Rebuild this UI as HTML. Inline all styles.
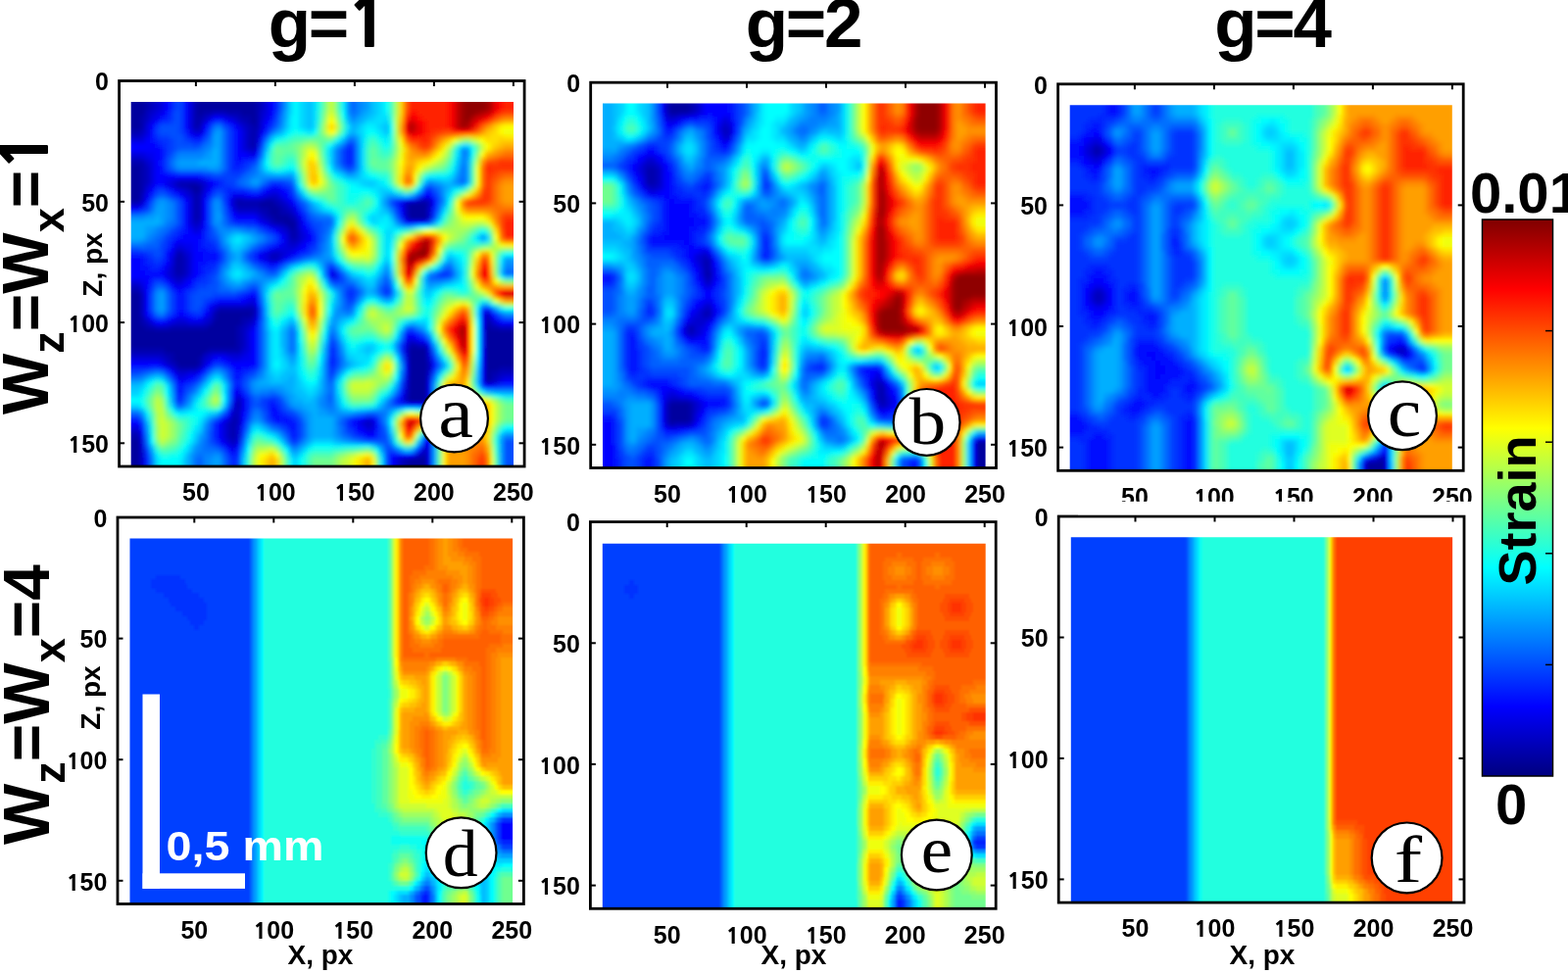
<!DOCTYPE html>
<html><head><meta charset="utf-8"><title>Strain maps</title>
<style>
html,body{margin:0;padding:0;background:#fff;}
body{width:1600px;height:994px;overflow:hidden;}
svg{display:block;}
text{font-family:"Liberation Sans",Arial,sans-serif;font-weight:bold;fill:#000;}
.serif{font-family:"Liberation Serif","Times New Roman",serif;font-weight:normal;}
</style></head><body>
<svg width="1600" height="994" viewBox="0 0 1600 994">
<defs>
<filter id="blura" x="-2%" y="-2%" width="104%" height="104%"><feGaussianBlur stdDeviation="2.0" edgeMode="duplicate"/></filter>
<filter id="blurb" x="-2%" y="-2%" width="104%" height="104%"><feGaussianBlur stdDeviation="2.0" edgeMode="duplicate"/></filter>
<filter id="blurc" x="-2%" y="-2%" width="104%" height="104%"><feGaussianBlur stdDeviation="2.0" edgeMode="duplicate"/></filter>
<filter id="blurd" x="-2%" y="-2%" width="104%" height="104%"><feGaussianBlur stdDeviation="1.2" edgeMode="duplicate"/></filter>
<filter id="blure" x="-2%" y="-2%" width="104%" height="104%"><feGaussianBlur stdDeviation="1.2" edgeMode="duplicate"/></filter>
<filter id="blurf" x="-2%" y="-2%" width="104%" height="104%"><feGaussianBlur stdDeviation="1.2" edgeMode="duplicate"/></filter>
<linearGradient id="cbar" x1="0" y1="1" x2="0" y2="0">
<stop offset="0.0000" stop-color="#000080"/>
<stop offset="0.0156" stop-color="#00008f"/>
<stop offset="0.0312" stop-color="#00009f"/>
<stop offset="0.0469" stop-color="#0000af"/>
<stop offset="0.0625" stop-color="#0000bf"/>
<stop offset="0.0781" stop-color="#0000cf"/>
<stop offset="0.0938" stop-color="#0000df"/>
<stop offset="0.1094" stop-color="#0000ef"/>
<stop offset="0.1250" stop-color="#0000ff"/>
<stop offset="0.1406" stop-color="#0010ff"/>
<stop offset="0.1562" stop-color="#0020ff"/>
<stop offset="0.1719" stop-color="#0030ff"/>
<stop offset="0.1875" stop-color="#0040ff"/>
<stop offset="0.2031" stop-color="#0050ff"/>
<stop offset="0.2188" stop-color="#0060ff"/>
<stop offset="0.2344" stop-color="#0070ff"/>
<stop offset="0.2500" stop-color="#0080ff"/>
<stop offset="0.2656" stop-color="#008fff"/>
<stop offset="0.2812" stop-color="#009fff"/>
<stop offset="0.2969" stop-color="#00afff"/>
<stop offset="0.3125" stop-color="#00bfff"/>
<stop offset="0.3281" stop-color="#00cfff"/>
<stop offset="0.3438" stop-color="#00dfff"/>
<stop offset="0.3594" stop-color="#00efff"/>
<stop offset="0.3750" stop-color="#00ffff"/>
<stop offset="0.3906" stop-color="#10ffef"/>
<stop offset="0.4062" stop-color="#20ffdf"/>
<stop offset="0.4219" stop-color="#30ffcf"/>
<stop offset="0.4375" stop-color="#40ffbf"/>
<stop offset="0.4531" stop-color="#50ffaf"/>
<stop offset="0.4688" stop-color="#60ff9f"/>
<stop offset="0.4844" stop-color="#70ff8f"/>
<stop offset="0.5000" stop-color="#80ff80"/>
<stop offset="0.5156" stop-color="#8fff70"/>
<stop offset="0.5312" stop-color="#9fff60"/>
<stop offset="0.5469" stop-color="#afff50"/>
<stop offset="0.5625" stop-color="#bfff40"/>
<stop offset="0.5781" stop-color="#cfff30"/>
<stop offset="0.5938" stop-color="#dfff20"/>
<stop offset="0.6094" stop-color="#efff10"/>
<stop offset="0.6250" stop-color="#ffff00"/>
<stop offset="0.6406" stop-color="#ffef00"/>
<stop offset="0.6562" stop-color="#ffdf00"/>
<stop offset="0.6719" stop-color="#ffcf00"/>
<stop offset="0.6875" stop-color="#ffbf00"/>
<stop offset="0.7031" stop-color="#ffaf00"/>
<stop offset="0.7188" stop-color="#ff9f00"/>
<stop offset="0.7344" stop-color="#ff8f00"/>
<stop offset="0.7500" stop-color="#ff8000"/>
<stop offset="0.7656" stop-color="#ff7000"/>
<stop offset="0.7812" stop-color="#ff6000"/>
<stop offset="0.7969" stop-color="#ff5000"/>
<stop offset="0.8125" stop-color="#ff4000"/>
<stop offset="0.8281" stop-color="#ff3000"/>
<stop offset="0.8438" stop-color="#ff2000"/>
<stop offset="0.8594" stop-color="#ff1000"/>
<stop offset="0.8750" stop-color="#ff0000"/>
<stop offset="0.8906" stop-color="#ef0000"/>
<stop offset="0.9062" stop-color="#df0000"/>
<stop offset="0.9219" stop-color="#cf0000"/>
<stop offset="0.9375" stop-color="#bf0000"/>
<stop offset="0.9531" stop-color="#af0000"/>
<stop offset="0.9688" stop-color="#9f0000"/>
<stop offset="0.9844" stop-color="#8f0000"/>
<stop offset="1.0000" stop-color="#800000"/>
</linearGradient>
</defs>
<rect x="0" y="0" width="1600" height="994" fill="#fff"/>
<clipPath id="clipa"><rect x="133.7" y="104.0" width="390.30" height="372.00"/></clipPath>
<g clip-path="url(#clipa)"><g filter="url(#blura)">
<g transform="translate(119.06,90.05) scale(4.8788,4.6500)" shape-rendering="crispEdges">
<path fill="#00009f" d="M0 0h6v1h-6zM17 0h12v1h-12zM0 1h6v1h-6zM17 1h12v1h-12zM0 2h6v1h-6zM17 2h12v1h-12zM0 3h6v1h-6zM17 3h12v1h-12zM0 4h6v1h-6zM17 4h12v1h-12zM0 5h6v1h-6zM17 5h1v1h-1zM26 5h3v1h-3zM0 6h5v1h-5zM28 6h1v1h-1zM0 7h5v1h-5zM28 7h1v1h-1zM0 8h5v1h-5zM0 17h5v1h-5zM0 18h5v1h-5zM0 19h5v1h-5zM0 20h5v1h-5zM0 21h5v1h-5zM15 21h2v1h-2zM0 22h5v1h-5zM16 22h1v1h-1zM0 23h5v1h-5zM0 24h5v1h-5zM30 25h3v1h-3zM61 25h4v1h-4zM32 26h2v1h-2zM61 26h4v1h-4zM32 27h2v1h-2zM61 27h4v1h-4zM33 28h3v1h-3zM61 28h4v1h-4zM35 29h2v1h-2zM36 30h1v1h-1zM0 45h5v1h-5zM0 46h5v1h-5zM0 47h5v1h-5zM0 48h5v1h-5zM0 49h5v1h-5zM21 49h7v1h-7zM0 50h5v1h-5zM21 50h5v1h-5zM0 51h5v1h-5zM20 51h6v1h-6zM0 52h6v1h-6zM19 52h6v1h-6zM77 52h1v1h-1zM0 53h25v1h-25zM77 53h9v1h-9zM0 54h25v1h-25zM77 54h9v1h-9zM0 55h25v1h-25zM77 55h9v1h-9zM0 56h25v1h-25zM77 56h9v1h-9zM10 57h9v1h-9zM61 57h4v1h-4zM77 57h9v1h-9zM12 58h6v1h-6zM61 58h4v1h-4zM77 58h9v1h-9zM12 59h5v1h-5zM61 59h4v1h-4zM77 59h9v1h-9zM13 60h4v1h-4zM61 60h4v1h-4zM77 60h9v1h-9zM61 61h4v1h-4zM77 61h3v1h-3zM61 62h4v1h-4zM77 62h1v1h-1zM61 63h4v1h-4zM77 63h1v1h-1zM61 64h4v1h-4zM61 65h4v1h-4zM61 66h4v1h-4zM61 67h4v1h-4zM61 68h4v1h-4zM0 77h5v1h-5zM0 78h5v1h-5zM0 79h5v1h-5zM0 80h5v1h-5zM0 81h5v1h-5zM61 81h4v1h-4zM0 82h5v1h-5zM61 82h4v1h-4zM0 83h5v1h-5zM61 83h4v1h-4zM0 84h5v1h-5zM61 84h4v1h-4zM0 85h5v1h-5zM61 85h4v1h-4z"/>
<path fill="#0000af" d="M6 0h1v1h-1zM16 0h1v1h-1zM29 0h1v1h-1zM6 1h1v1h-1zM16 1h1v1h-1zM29 1h1v1h-1zM6 2h1v1h-1zM16 2h1v1h-1zM29 2h1v1h-1zM6 3h1v1h-1zM16 3h1v1h-1zM29 3h1v1h-1zM6 4h1v1h-1zM16 4h1v1h-1zM29 4h1v1h-1zM16 5h1v1h-1zM18 5h2v1h-2zM23 5h3v1h-3zM29 5h1v1h-1zM5 6h1v1h-1zM16 6h2v1h-2zM26 6h2v1h-2zM29 6h1v1h-1zM5 7h1v1h-1zM16 7h2v1h-2zM27 7h1v1h-1zM29 7h1v1h-1zM5 8h1v1h-1zM16 8h1v1h-1zM28 8h2v1h-2zM0 9h5v1h-5zM28 9h1v1h-1zM28 10h1v1h-1zM28 11h1v1h-1zM28 12h1v1h-1zM0 16h6v1h-6zM5 17h1v1h-1zM5 18h1v1h-1zM5 19h1v1h-1zM5 20h1v1h-1zM5 21h1v1h-1zM13 21h2v1h-2zM17 21h1v1h-1zM5 22h1v1h-1zM17 22h1v1h-1zM16 23h1v1h-1zM16 24h1v1h-1zM25 24h1v1h-1zM31 24h2v1h-2zM16 25h1v1h-1zM25 25h5v1h-5zM33 25h1v1h-1zM16 26h1v1h-1zM30 26h2v1h-2zM34 26h1v1h-1zM16 27h1v1h-1zM31 27h1v1h-1zM34 27h2v1h-2zM16 28h1v1h-1zM32 28h1v1h-1zM36 28h1v1h-1zM33 29h2v1h-2zM37 29h1v1h-1zM37 30h1v1h-1zM36 31h2v1h-2zM36 32h2v1h-2zM13 36h1v1h-1zM12 37h2v1h-2zM12 38h2v1h-2zM12 39h2v1h-2zM12 40h2v1h-2zM0 44h5v1h-5zM21 48h8v1h-8zM20 49h1v1h-1zM28 49h1v1h-1zM5 50h1v1h-1zM20 50h1v1h-1zM26 50h2v1h-2zM77 50h1v1h-1zM5 51h1v1h-1zM26 51h1v1h-1zM77 51h1v1h-1zM6 52h2v1h-2zM11 52h8v1h-8zM25 52h1v1h-1zM78 52h2v1h-2zM25 53h1v1h-1zM25 54h1v1h-1zM25 55h1v1h-1zM25 56h1v1h-1zM61 56h2v1h-2zM0 57h10v1h-10zM19 57h7v1h-7zM10 58h2v1h-2zM11 59h1v1h-1zM17 59h1v1h-1zM12 60h1v1h-1zM17 60h1v1h-1zM13 61h4v1h-4zM80 61h6v1h-6zM78 62h2v1h-2zM78 63h1v1h-1zM77 64h1v1h-1zM25 69h1v1h-1zM24 72h1v1h-1zM24 73h1v1h-1zM24 74h1v1h-1zM24 75h1v1h-1zM0 76h5v1h-5zM24 76h1v1h-1zM64 80h1v1h-1zM60 81h1v1h-1zM60 82h1v1h-1zM60 83h1v1h-1zM60 84h1v1h-1zM60 85h1v1h-1z"/>
<path fill="#0000bf" d="M7 0h1v1h-1zM30 0h1v1h-1zM7 1h1v1h-1zM30 1h1v1h-1zM7 2h1v1h-1zM30 2h1v1h-1zM7 3h1v1h-1zM30 3h1v1h-1zM7 4h1v1h-1zM30 4h1v1h-1zM6 5h1v1h-1zM20 5h3v1h-3zM6 6h1v1h-1zM18 6h1v1h-1zM25 6h1v1h-1zM26 7h1v1h-1zM17 8h1v1h-1zM27 8h1v1h-1zM5 9h1v1h-1zM27 9h1v1h-1zM29 9h1v1h-1zM0 10h5v1h-5zM27 10h1v1h-1zM29 10h1v1h-1zM27 11h1v1h-1zM27 12h1v1h-1zM28 13h1v1h-1zM0 15h5v1h-5zM6 17h1v1h-1zM6 18h1v1h-1zM6 19h1v1h-1zM6 20h1v1h-1zM13 20h4v1h-4zM12 21h1v1h-1zM15 22h1v1h-1zM5 23h1v1h-1zM17 23h1v1h-1zM5 24h1v1h-1zM17 24h1v1h-1zM26 24h5v1h-5zM33 24h1v1h-1zM64 24h1v1h-1zM0 25h5v1h-5zM17 25h1v1h-1zM34 25h1v1h-1zM60 25h1v1h-1zM65 25h1v1h-1zM17 26h1v1h-1zM25 26h5v1h-5zM35 26h1v1h-1zM60 26h1v1h-1zM17 27h1v1h-1zM30 27h1v1h-1zM36 27h1v1h-1zM60 27h1v1h-1zM17 28h1v1h-1zM31 28h1v1h-1zM37 28h1v1h-1zM16 29h1v1h-1zM32 29h1v1h-1zM35 30h1v1h-1zM36 33h2v1h-2zM12 36h1v1h-1zM32 36h2v1h-2zM14 37h1v1h-1zM32 37h2v1h-2zM14 38h1v1h-1zM14 39h1v1h-1zM14 40h1v1h-1zM12 41h2v1h-2zM0 43h5v1h-5zM5 45h1v1h-1zM5 46h1v1h-1zM5 47h1v1h-1zM5 48h1v1h-1zM5 49h1v1h-1zM77 49h1v1h-1zM28 50h1v1h-1zM6 51h1v1h-1zM19 51h1v1h-1zM27 51h1v1h-1zM78 51h1v1h-1zM8 52h3v1h-3zM26 52h1v1h-1zM80 52h6v1h-6zM26 53h1v1h-1zM26 54h1v1h-1zM26 55h1v1h-1zM26 56h1v1h-1zM63 56h2v1h-2zM0 58h10v1h-10zM18 58h1v1h-1zM10 59h1v1h-1zM11 60h1v1h-1zM65 60h1v1h-1zM12 61h1v1h-1zM65 61h1v1h-1zM80 62h6v1h-6zM79 63h1v1h-1zM78 64h1v1h-1zM60 67h1v1h-1zM25 68h1v1h-1zM60 68h1v1h-1zM25 70h1v1h-1zM24 71h2v1h-2zM25 72h1v1h-1zM23 73h1v1h-1zM25 73h1v1h-1zM52 73h1v1h-1zM23 74h1v1h-1zM0 75h5v1h-5zM23 75h1v1h-1zM23 76h1v1h-1zM24 77h1v1h-1zM64 79h1v1h-1zM63 80h1v1h-1zM59 81h1v1h-1zM59 82h1v1h-1zM59 83h1v1h-1zM59 84h1v1h-1zM59 85h1v1h-1z"/>
<path fill="#0000cf" d="M8 0h1v1h-1zM8 1h1v1h-1zM8 2h1v1h-1zM8 3h1v1h-1zM8 4h1v1h-1zM7 5h1v1h-1zM30 5h1v1h-1zM24 6h1v1h-1zM30 6h1v1h-1zM6 7h1v1h-1zM25 7h1v1h-1zM26 8h1v1h-1zM16 9h2v1h-2zM5 10h1v1h-1zM29 11h1v1h-1zM29 12h1v1h-1zM27 13h1v1h-1zM5 15h1v1h-1zM6 16h1v1h-1zM12 20h1v1h-1zM17 20h1v1h-1zM6 21h1v1h-1zM18 21h1v1h-1zM14 22h1v1h-1zM15 23h1v1h-1zM32 23h2v1h-2zM24 24h1v1h-1zM34 24h1v1h-1zM63 24h1v1h-1zM65 24h1v1h-1zM24 25h1v1h-1zM35 25h1v1h-1zM36 26h1v1h-1zM65 26h1v1h-1zM29 27h1v1h-1zM65 27h1v1h-1zM30 28h1v1h-1zM60 28h1v1h-1zM65 28h1v1h-1zM17 29h1v1h-1zM16 30h1v1h-1zM34 30h1v1h-1zM35 31h1v1h-1zM38 31h1v1h-1zM38 32h1v1h-1zM38 33h1v1h-1zM36 34h2v1h-2zM12 35h2v1h-2zM14 36h1v1h-1zM34 36h1v1h-1zM11 39h1v1h-1zM11 40h1v1h-1zM11 41h1v1h-1zM14 41h1v1h-1zM12 42h2v1h-2zM5 44h1v1h-1zM27 47h2v1h-2zM20 48h1v1h-1zM19 50h1v1h-1zM12 51h3v1h-3zM18 51h1v1h-1zM28 51h1v1h-1zM27 52h1v1h-1zM61 55h1v1h-1zM26 57h1v1h-1zM60 57h1v1h-1zM19 58h1v1h-1zM23 58h3v1h-3zM9 59h1v1h-1zM18 59h1v1h-1zM65 59h1v1h-1zM10 60h1v1h-1zM17 61h1v1h-1zM13 62h2v1h-2zM65 62h1v1h-1zM80 63h1v1h-1zM79 64h1v1h-1zM60 65h1v1h-1zM60 66h1v1h-1zM24 70h1v1h-1zM51 73h1v1h-1zM53 73h1v1h-1zM25 74h1v1h-1zM52 74h1v1h-1zM25 75h1v1h-1zM25 76h1v1h-1zM23 77h1v1h-1zM24 78h1v1h-1zM5 79h1v1h-1zM5 80h1v1h-1zM5 81h1v1h-1zM5 82h1v1h-1zM5 83h1v1h-1zM5 84h1v1h-1zM5 85h1v1h-1z"/>
<path fill="#0000df" d="M9 0h1v1h-1zM15 0h1v1h-1zM31 0h1v1h-1zM9 1h1v1h-1zM15 1h1v1h-1zM31 1h1v1h-1zM9 2h1v1h-1zM15 2h1v1h-1zM31 2h1v1h-1zM9 3h1v1h-1zM15 3h1v1h-1zM31 3h1v1h-1zM9 4h1v1h-1zM15 4h1v1h-1zM31 4h1v1h-1zM8 5h1v1h-1zM15 5h1v1h-1zM31 5h1v1h-1zM7 6h1v1h-1zM15 6h1v1h-1zM19 6h1v1h-1zM23 6h1v1h-1zM15 7h1v1h-1zM18 7h1v1h-1zM30 7h1v1h-1zM6 8h1v1h-1zM15 8h1v1h-1zM30 8h1v1h-1zM6 9h1v1h-1zM26 9h1v1h-1zM26 10h1v1h-1zM0 11h6v1h-6zM26 11h1v1h-1zM26 12h1v1h-1zM26 13h1v1h-1zM0 14h6v1h-6zM28 14h1v1h-1zM6 15h1v1h-1zM7 16h1v1h-1zM7 17h1v1h-1zM7 18h1v1h-1zM7 19h1v1h-1zM7 20h1v1h-1zM11 20h1v1h-1zM18 20h1v1h-1zM11 21h1v1h-1zM6 22h1v1h-1zM13 22h1v1h-1zM18 22h1v1h-1zM14 23h1v1h-1zM31 23h1v1h-1zM15 24h1v1h-1zM5 25h1v1h-1zM15 25h1v1h-1zM15 26h1v1h-1zM24 26h1v1h-1zM15 27h1v1h-1zM25 27h4v1h-4zM37 27h1v1h-1zM15 28h1v1h-1zM15 29h1v1h-1zM31 29h1v1h-1zM38 29h1v1h-1zM17 30h1v1h-1zM33 30h1v1h-1zM38 30h1v1h-1zM16 31h1v1h-1zM34 31h1v1h-1zM35 32h1v1h-1zM39 32h1v1h-1zM35 33h1v1h-1zM13 34h1v1h-1zM35 34h1v1h-1zM14 35h1v1h-1zM33 35h4v1h-4zM15 36h1v1h-1zM31 36h1v1h-1zM35 36h1v1h-1zM11 37h1v1h-1zM15 37h1v1h-1zM31 37h1v1h-1zM34 37h1v1h-1zM11 38h1v1h-1zM15 38h1v1h-1zM15 39h1v1h-1zM10 40h1v1h-1zM15 40h1v1h-1zM45 40h1v1h-1zM45 41h1v1h-1zM0 42h5v1h-5zM5 43h1v1h-1zM28 46h1v1h-1zM21 47h6v1h-6zM29 48h1v1h-1zM19 49h1v1h-1zM29 49h1v1h-1zM6 50h1v1h-1zM13 50h1v1h-1zM18 50h1v1h-1zM78 50h1v1h-1zM7 51h1v1h-1zM11 51h1v1h-1zM15 51h3v1h-3zM79 51h1v1h-1zM27 53h1v1h-1zM27 54h1v1h-1zM27 55h1v1h-1zM62 55h1v1h-1zM27 56h1v1h-1zM60 56h1v1h-1zM27 57h1v1h-1zM65 57h1v1h-1zM20 58h3v1h-3zM26 58h1v1h-1zM60 58h1v1h-1zM65 58h1v1h-1zM0 59h9v1h-9zM19 59h1v1h-1zM24 59h2v1h-2zM60 59h1v1h-1zM18 60h1v1h-1zM11 61h1v1h-1zM12 62h1v1h-1zM15 62h2v1h-2zM13 63h1v1h-1zM60 63h1v1h-1zM65 63h1v1h-1zM81 63h5v1h-5zM60 64h1v1h-1zM25 67h1v1h-1zM24 69h1v1h-1zM23 72h1v1h-1zM52 72h1v1h-1zM22 73h1v1h-1zM0 74h5v1h-5zM22 74h1v1h-1zM53 74h1v1h-1zM22 75h1v1h-1zM22 76h1v1h-1zM5 77h1v1h-1zM25 77h1v1h-1zM5 78h1v1h-1zM64 78h1v1h-1zM62 80h1v1h-1zM58 81h1v1h-1zM58 82h1v1h-1zM58 83h1v1h-1zM58 84h1v1h-1zM58 85h1v1h-1z"/>
<path fill="#0000ef" d="M9 5h1v1h-1zM8 6h1v1h-1zM22 6h1v1h-1zM31 6h1v1h-1zM7 7h1v1h-1zM24 7h1v1h-1zM25 8h1v1h-1zM15 9h1v1h-1zM30 9h1v1h-1zM6 10h1v1h-1zM16 10h1v1h-1zM29 13h1v1h-1zM6 14h2v1h-2zM27 14h1v1h-1zM7 15h1v1h-1zM10 20h1v1h-1zM7 21h1v1h-1zM10 21h1v1h-1zM19 21h1v1h-1zM12 22h1v1h-1zM32 22h2v1h-2zM6 23h1v1h-1zM18 23h1v1h-1zM24 23h3v1h-3zM30 23h1v1h-1zM34 23h1v1h-1zM35 24h1v1h-1zM62 24h1v1h-1zM36 25h1v1h-1zM59 25h1v1h-1zM37 26h1v1h-1zM29 28h1v1h-1zM38 28h1v1h-1zM30 29h1v1h-1zM15 30h1v1h-1zM32 30h1v1h-1zM17 31h1v1h-1zM39 31h1v1h-1zM39 33h1v1h-1zM12 34h1v1h-1zM14 34h2v1h-2zM34 34h1v1h-1zM38 34h1v1h-1zM15 35h1v1h-1zM32 35h1v1h-1zM37 35h1v1h-1zM11 36h1v1h-1zM30 36h1v1h-1zM36 36h1v1h-1zM30 37h1v1h-1zM32 38h1v1h-1zM10 39h1v1h-1zM10 41h1v1h-1zM15 41h1v1h-1zM5 42h1v1h-1zM11 42h1v1h-1zM14 42h1v1h-1zM12 43h2v1h-2zM27 46h1v1h-1zM20 47h1v1h-1zM19 48h1v1h-1zM12 50h1v1h-1zM14 50h1v1h-1zM29 50h1v1h-1zM10 51h1v1h-1zM28 52h1v1h-1zM61 54h1v1h-1zM60 55h1v1h-1zM63 55h1v1h-1zM27 58h1v1h-1zM23 59h1v1h-1zM26 59h2v1h-2zM9 60h1v1h-1zM60 60h1v1h-1zM60 61h1v1h-1zM60 62h1v1h-1zM14 63h1v1h-1zM65 64h1v1h-1zM80 64h1v1h-1zM65 65h1v1h-1zM25 66h1v1h-1zM65 66h1v1h-1zM65 67h1v1h-1zM24 68h1v1h-1zM26 68h1v1h-1zM59 68h1v1h-1zM65 68h1v1h-1zM26 69h1v1h-1zM26 70h1v1h-1zM53 72h1v1h-1zM50 73h1v1h-1zM51 74h1v1h-1zM52 75h2v1h-2zM5 76h1v1h-1zM22 77h1v1h-1zM65 77h1v1h-1zM23 78h1v1h-1zM65 78h1v1h-1zM24 79h1v1h-1zM65 79h1v1h-1zM65 80h1v1h-1zM65 81h1v1h-1zM65 82h1v1h-1zM65 83h1v1h-1zM65 84h1v1h-1zM65 85h1v1h-1z"/>
<path fill="#0000ff" d="M10 0h1v1h-1zM32 0h1v1h-1zM10 1h1v1h-1zM32 1h1v1h-1zM10 2h1v1h-1zM32 2h1v1h-1zM10 3h1v1h-1zM32 3h1v1h-1zM10 4h1v1h-1zM32 4h1v1h-1zM32 5h1v1h-1zM20 6h2v1h-2zM23 7h1v1h-1zM31 7h1v1h-1zM7 8h1v1h-1zM18 8h1v1h-1zM25 9h1v1h-1zM17 10h1v1h-1zM25 10h1v1h-1zM6 11h1v1h-1zM25 11h1v1h-1zM0 12h8v1h-8zM25 12h1v1h-1zM0 13h9v1h-9zM25 13h1v1h-1zM8 14h1v1h-1zM25 14h2v1h-2zM8 15h1v1h-1zM25 15h1v1h-1zM8 16h1v1h-1zM8 17h1v1h-1zM8 18h1v1h-1zM8 19h9v1h-9zM8 20h2v1h-2zM19 20h1v1h-1zM33 21h1v1h-1zM7 22h1v1h-1zM19 22h1v1h-1zM31 22h1v1h-1zM34 22h1v1h-1zM13 23h1v1h-1zM27 23h3v1h-3zM35 23h1v1h-1zM64 23h2v1h-2zM6 24h1v1h-1zM14 24h1v1h-1zM18 24h1v1h-1zM36 24h1v1h-1zM61 24h1v1h-1zM18 25h1v1h-1zM0 26h5v1h-5zM18 26h1v1h-1zM59 26h1v1h-1zM18 27h1v1h-1zM24 27h1v1h-1zM18 28h1v1h-1zM25 28h4v1h-4zM61 29h2v1h-2zM39 30h1v1h-1zM15 31h1v1h-1zM33 31h1v1h-1zM14 32h4v1h-4zM34 32h1v1h-1zM40 32h1v1h-1zM12 33h5v1h-5zM40 33h1v1h-1zM16 34h1v1h-1zM39 34h1v1h-1zM11 35h1v1h-1zM16 35h1v1h-1zM38 35h1v1h-1zM16 36h2v1h-2zM37 36h1v1h-1zM0 37h5v1h-5zM16 37h2v1h-2zM35 37h1v1h-1zM0 38h5v1h-5zM10 38h1v1h-1zM16 38h1v1h-1zM33 38h1v1h-1zM0 39h5v1h-5zM16 39h1v1h-1zM0 40h6v1h-6zM9 40h1v1h-1zM16 40h1v1h-1zM44 40h1v1h-1zM0 41h7v1h-7zM16 41h1v1h-1zM6 42h1v1h-1zM15 42h1v1h-1zM6 43h1v1h-1zM14 43h1v1h-1zM6 44h1v1h-1zM13 44h1v1h-1zM6 45h1v1h-1zM28 45h1v1h-1zM6 46h1v1h-1zM26 46h1v1h-1zM6 47h1v1h-1zM29 47h1v1h-1zM6 48h1v1h-1zM6 49h1v1h-1zM13 49h1v1h-1zM18 49h1v1h-1zM78 49h1v1h-1zM11 50h1v1h-1zM15 50h1v1h-1zM17 50h1v1h-1zM8 51h2v1h-2zM80 51h6v1h-6zM28 53h1v1h-1zM28 54h1v1h-1zM62 54h1v1h-1zM28 55h1v1h-1zM64 55h1v1h-1zM28 56h1v1h-1zM28 57h1v1h-1zM28 58h1v1h-1zM20 59h1v1h-1zM22 59h1v1h-1zM28 59h1v1h-1zM0 60h9v1h-9zM19 60h1v1h-1zM24 60h5v1h-5zM10 61h1v1h-1zM18 61h1v1h-1zM25 61h1v1h-1zM76 61h1v1h-1zM17 62h1v1h-1zM76 62h1v1h-1zM12 63h1v1h-1zM15 63h1v1h-1zM76 63h1v1h-1zM13 64h1v1h-1zM76 64h1v1h-1zM81 64h5v1h-5zM77 65h1v1h-1zM24 67h1v1h-1zM26 71h1v1h-1zM22 72h1v1h-1zM26 72h1v1h-1zM33 72h1v1h-1zM51 72h1v1h-1zM0 73h5v1h-5zM21 73h1v1h-1zM49 73h1v1h-1zM21 74h1v1h-1zM50 74h1v1h-1zM21 75h1v1h-1zM51 75h1v1h-1zM21 76h1v1h-1zM52 76h2v1h-2zM64 77h1v1h-1zM25 78h1v1h-1zM60 80h2v1h-2zM57 81h1v1h-1zM57 82h1v1h-1zM57 83h1v1h-1zM57 84h1v1h-1zM57 85h1v1h-1z"/>
<path fill="#0010ff" d="M14 0h1v1h-1zM14 1h1v1h-1zM14 2h1v1h-1zM14 3h1v1h-1zM14 4h1v1h-1zM10 5h1v1h-1zM14 5h1v1h-1zM9 6h1v1h-1zM14 6h1v1h-1zM32 6h1v1h-1zM8 7h1v1h-1zM14 7h1v1h-1zM19 7h1v1h-1zM14 8h1v1h-1zM24 8h1v1h-1zM31 8h1v1h-1zM7 9h1v1h-1zM18 9h1v1h-1zM7 10h1v1h-1zM15 10h1v1h-1zM30 10h1v1h-1zM7 11h1v1h-1zM8 12h1v1h-1zM9 13h1v1h-1zM9 14h1v1h-1zM29 14h1v1h-1zM9 15h1v1h-1zM26 15h3v1h-3zM25 16h1v1h-1zM9 17h1v1h-1zM9 18h1v1h-1zM17 19h1v1h-1zM20 20h1v1h-1zM8 21h2v1h-2zM20 21h1v1h-1zM32 21h1v1h-1zM11 22h1v1h-1zM35 22h1v1h-1zM23 24h1v1h-1zM60 24h1v1h-1zM66 24h1v1h-1zM14 25h1v1h-1zM23 25h1v1h-1zM37 25h1v1h-1zM66 25h1v1h-1zM14 26h1v1h-1zM14 27h1v1h-1zM38 27h1v1h-1zM59 27h1v1h-1zM14 28h1v1h-1zM24 28h1v1h-1zM14 29h1v1h-1zM18 29h1v1h-1zM29 29h1v1h-1zM39 29h1v1h-1zM60 29h1v1h-1zM63 29h2v1h-2zM14 30h1v1h-1zM18 30h1v1h-1zM31 30h1v1h-1zM14 31h1v1h-1zM40 31h1v1h-1zM13 32h1v1h-1zM17 33h1v1h-1zM34 33h1v1h-1zM11 34h1v1h-1zM17 34h1v1h-1zM33 34h1v1h-1zM17 35h2v1h-2zM31 35h1v1h-1zM39 35h1v1h-1zM10 36h1v1h-1zM18 36h3v1h-3zM29 36h1v1h-1zM5 37h1v1h-1zM10 37h1v1h-1zM18 37h3v1h-3zM29 37h1v1h-1zM5 38h1v1h-1zM17 38h2v1h-2zM31 38h1v1h-1zM5 39h2v1h-2zM9 39h1v1h-1zM17 39h1v1h-1zM6 40h3v1h-3zM17 40h1v1h-1zM7 41h3v1h-3zM44 41h1v1h-1zM10 42h1v1h-1zM11 43h1v1h-1zM15 43h1v1h-1zM12 44h1v1h-1zM13 45h1v1h-1zM27 45h1v1h-1zM13 46h1v1h-1zM21 46h5v1h-5zM29 46h1v1h-1zM13 47h1v1h-1zM19 47h1v1h-1zM13 48h1v1h-1zM77 48h1v1h-1zM12 49h1v1h-1zM14 49h1v1h-1zM76 49h1v1h-1zM7 50h1v1h-1zM16 50h1v1h-1zM76 50h1v1h-1zM79 50h1v1h-1zM29 51h1v1h-1zM76 51h1v1h-1zM76 52h1v1h-1zM61 53h1v1h-1zM60 54h1v1h-1zM65 56h1v1h-1zM76 57h1v1h-1zM76 58h1v1h-1zM21 59h1v1h-1zM76 59h1v1h-1zM23 60h1v1h-1zM66 60h1v1h-1zM76 60h1v1h-1zM24 61h1v1h-1zM26 61h2v1h-2zM11 62h1v1h-1zM25 62h1v1h-1zM16 63h1v1h-1zM25 63h1v1h-1zM14 64h1v1h-1zM13 65h1v1h-1zM25 65h1v1h-1zM78 65h1v1h-1zM13 66h1v1h-1zM24 66h1v1h-1zM26 67h1v1h-1zM59 67h1v1h-1zM32 69h1v1h-1zM61 69h4v1h-4zM32 70h2v1h-2zM23 71h1v1h-1zM32 71h2v1h-2zM34 72h2v1h-2zM50 72h1v1h-1zM26 73h1v1h-1zM35 73h2v1h-2zM54 73h1v1h-1zM36 74h1v1h-1zM54 74h1v1h-1zM5 75h1v1h-1zM50 75h1v1h-1zM21 77h1v1h-1zM22 78h1v1h-1zM23 79h1v1h-1zM63 79h1v1h-1zM24 80h1v1h-1zM57 80h3v1h-3z"/>
<path fill="#0020ff" d="M11 0h1v1h-1zM33 0h1v1h-1zM11 1h1v1h-1zM33 1h1v1h-1zM11 2h1v1h-1zM33 2h1v1h-1zM11 3h1v1h-1zM33 3h1v1h-1zM11 4h1v1h-1zM33 4h1v1h-1zM10 6h1v1h-1zM22 7h1v1h-1zM32 7h1v1h-1zM14 9h1v1h-1zM24 9h1v1h-1zM31 9h1v1h-1zM24 10h1v1h-1zM8 11h1v1h-1zM16 11h2v1h-2zM24 11h1v1h-1zM30 11h1v1h-1zM9 12h1v1h-1zM24 12h1v1h-1zM24 13h1v1h-1zM48 13h1v1h-1zM24 14h1v1h-1zM48 14h1v1h-1zM24 15h1v1h-1zM48 15h1v1h-1zM9 16h1v1h-1zM24 16h1v1h-1zM26 16h1v1h-1zM48 16h1v1h-1zM24 17h2v1h-2zM10 18h1v1h-1zM18 19h1v1h-1zM21 20h1v1h-1zM21 21h1v1h-1zM34 21h1v1h-1zM10 22h1v1h-1zM23 22h4v1h-4zM30 22h1v1h-1zM65 22h1v1h-1zM7 23h1v1h-1zM12 23h1v1h-1zM19 23h1v1h-1zM23 23h1v1h-1zM36 23h1v1h-1zM6 25h1v1h-1zM58 25h1v1h-1zM5 26h1v1h-1zM23 26h1v1h-1zM38 26h1v1h-1zM66 26h1v1h-1zM39 28h1v1h-1zM59 28h1v1h-1zM25 29h4v1h-4zM30 30h1v1h-1zM40 30h1v1h-1zM13 31h1v1h-1zM18 31h1v1h-1zM32 31h1v1h-1zM12 32h1v1h-1zM18 32h1v1h-1zM41 32h1v1h-1zM11 33h1v1h-1zM18 33h1v1h-1zM41 33h1v1h-1zM18 34h2v1h-2zM32 34h1v1h-1zM40 34h1v1h-1zM10 35h1v1h-1zM19 35h2v1h-2zM30 35h1v1h-1zM0 36h6v1h-6zM21 36h1v1h-1zM38 36h1v1h-1zM6 37h1v1h-1zM21 37h1v1h-1zM36 37h1v1h-1zM6 38h2v1h-2zM9 38h1v1h-1zM19 38h2v1h-2zM30 38h1v1h-1zM34 38h1v1h-1zM7 39h2v1h-2zM18 39h2v1h-2zM32 39h1v1h-1zM18 40h1v1h-1zM17 41h1v1h-1zM46 41h1v1h-1zM7 42h1v1h-1zM16 42h1v1h-1zM14 44h1v1h-1zM28 44h1v1h-1zM56 44h1v1h-1zM12 45h1v1h-1zM14 45h1v1h-1zM26 45h1v1h-1zM29 45h1v1h-1zM12 46h1v1h-1zM14 46h1v1h-1zM20 46h1v1h-1zM12 47h1v1h-1zM14 47h1v1h-1zM12 48h1v1h-1zM14 48h1v1h-1zM18 48h1v1h-1zM15 49h1v1h-1zM10 50h1v1h-1zM29 52h1v1h-1zM29 53h1v1h-1zM76 53h1v1h-1zM29 54h1v1h-1zM63 54h1v1h-1zM76 54h1v1h-1zM29 55h1v1h-1zM76 55h1v1h-1zM29 56h1v1h-1zM76 56h1v1h-1zM29 57h1v1h-1zM45 57h1v1h-1zM29 58h1v1h-1zM45 58h1v1h-1zM29 59h1v1h-1zM45 59h1v1h-1zM22 60h1v1h-1zM29 60h1v1h-1zM45 60h1v1h-1zM0 61h7v1h-7zM9 61h1v1h-1zM28 61h1v1h-1zM66 61h1v1h-1zM24 62h1v1h-1zM26 62h1v1h-1zM24 63h1v1h-1zM12 64h1v1h-1zM15 64h1v1h-1zM25 64h1v1h-1zM79 65h1v1h-1zM26 66h1v1h-1zM59 66h1v1h-1zM13 67h1v1h-1zM13 68h1v1h-1zM27 68h1v1h-1zM32 68h1v1h-1zM58 68h1v1h-1zM27 69h1v1h-1zM33 69h1v1h-1zM60 69h1v1h-1zM27 70h1v1h-1zM34 71h1v1h-1zM0 72h5v1h-5zM32 72h1v1h-1zM36 72h1v1h-1zM49 72h1v1h-1zM54 72h1v1h-1zM20 73h1v1h-1zM33 73h2v1h-2zM37 73h1v1h-1zM48 73h1v1h-1zM5 74h1v1h-1zM20 74h1v1h-1zM26 74h1v1h-1zM37 74h1v1h-1zM49 74h1v1h-1zM20 75h1v1h-1zM36 75h2v1h-2zM54 75h1v1h-1zM20 76h1v1h-1zM36 76h2v1h-2zM51 76h1v1h-1zM54 76h1v1h-1zM25 79h1v1h-1zM6 81h1v1h-1zM24 81h1v1h-1zM6 82h1v1h-1zM24 82h1v1h-1zM6 83h1v1h-1zM24 83h1v1h-1zM6 84h1v1h-1zM24 84h1v1h-1zM6 85h1v1h-1zM24 85h1v1h-1z"/>
<path fill="#0030ff" d="M11 5h1v1h-1zM33 5h1v1h-1zM11 6h1v1h-1zM9 7h2v1h-2zM20 7h1v1h-1zM8 8h1v1h-1zM19 8h1v1h-1zM23 8h1v1h-1zM32 8h1v1h-1zM8 10h1v1h-1zM14 10h1v1h-1zM18 10h1v1h-1zM9 11h2v1h-2zM15 11h1v1h-1zM10 12h1v1h-1zM48 12h1v1h-1zM10 13h1v1h-1zM49 13h1v1h-1zM10 14h1v1h-1zM49 14h1v1h-1zM49 15h1v1h-1zM27 16h1v1h-1zM49 16h1v1h-1zM26 17h1v1h-1zM11 18h1v1h-1zM24 18h2v1h-2zM19 19h1v1h-1zM22 20h1v1h-1zM22 21h2v1h-2zM31 21h1v1h-1zM35 21h1v1h-1zM8 22h1v1h-1zM20 22h1v1h-1zM22 22h1v1h-1zM27 22h1v1h-1zM36 22h1v1h-1zM11 23h1v1h-1zM66 23h1v1h-1zM13 24h1v1h-1zM37 24h1v1h-1zM59 24h1v1h-1zM23 27h1v1h-1zM39 27h1v1h-1zM66 27h1v1h-1zM24 29h1v1h-1zM40 29h1v1h-1zM13 30h1v1h-1zM12 31h1v1h-1zM31 31h1v1h-1zM41 31h1v1h-1zM11 32h1v1h-1zM33 32h1v1h-1zM10 33h1v1h-1zM19 33h1v1h-1zM33 33h1v1h-1zM10 34h1v1h-1zM20 34h1v1h-1zM31 34h1v1h-1zM41 34h1v1h-1zM40 35h1v1h-1zM6 36h1v1h-1zM28 36h1v1h-1zM39 36h1v1h-1zM7 37h1v1h-1zM9 37h1v1h-1zM28 37h1v1h-1zM8 38h1v1h-1zM20 39h1v1h-1zM31 39h1v1h-1zM33 39h1v1h-1zM44 39h2v1h-2zM19 40h1v1h-1zM46 40h1v1h-1zM68 40h1v1h-1zM18 41h1v1h-1zM9 42h1v1h-1zM17 42h2v1h-2zM45 42h1v1h-1zM7 43h1v1h-1zM16 43h1v1h-1zM11 44h1v1h-1zM15 44h1v1h-1zM48 44h2v1h-2zM25 45h1v1h-1zM48 45h2v1h-2zM19 46h1v1h-1zM18 47h1v1h-1zM7 49h1v1h-1zM11 49h1v1h-1zM16 49h2v1h-2zM79 49h1v1h-1zM8 50h1v1h-1zM80 50h1v1h-1zM60 53h1v1h-1zM62 53h1v1h-1zM45 56h1v1h-1zM59 56h1v1h-1zM59 57h1v1h-1zM44 59h1v1h-1zM66 59h1v1h-1zM20 60h2v1h-2zM44 60h1v1h-1zM7 61h2v1h-2zM19 61h1v1h-1zM23 61h1v1h-1zM29 61h1v1h-1zM45 61h1v1h-1zM18 62h1v1h-1zM27 62h1v1h-1zM17 63h1v1h-1zM26 63h1v1h-1zM16 64h1v1h-1zM24 64h1v1h-1zM12 65h1v1h-1zM14 65h1v1h-1zM24 65h1v1h-1zM80 65h6v1h-6zM12 66h1v1h-1zM27 67h1v1h-1zM31 68h1v1h-1zM33 68h1v1h-1zM31 69h1v1h-1zM59 69h1v1h-1zM23 70h1v1h-1zM31 70h1v1h-1zM34 70h1v1h-1zM27 71h1v1h-1zM35 71h1v1h-1zM21 72h1v1h-1zM37 72h1v1h-1zM5 73h1v1h-1zM35 74h1v1h-1zM48 74h1v1h-1zM26 75h1v1h-1zM49 75h1v1h-1zM50 76h1v1h-1zM20 77h1v1h-1zM37 77h1v1h-1zM21 78h1v1h-1zM6 80h1v1h-1zM23 80h1v1h-1zM25 80h1v1h-1z"/>
<path fill="#0040ff" d="M12 0h2v1h-2zM12 1h2v1h-2zM12 2h2v1h-2zM12 3h2v1h-2zM12 4h2v1h-2zM13 5h1v1h-1zM13 6h1v1h-1zM33 6h1v1h-1zM11 7h1v1h-1zM13 7h1v1h-1zM21 7h1v1h-1zM13 8h1v1h-1zM8 9h1v1h-1zM13 9h1v1h-1zM23 9h1v1h-1zM9 10h2v1h-2zM23 10h1v1h-1zM11 11h1v1h-1zM14 11h1v1h-1zM23 11h1v1h-1zM11 12h1v1h-1zM16 12h1v1h-1zM23 12h1v1h-1zM30 12h1v1h-1zM49 12h1v1h-1zM11 13h1v1h-1zM23 13h1v1h-1zM47 13h1v1h-1zM23 14h1v1h-1zM47 14h1v1h-1zM10 15h1v1h-1zM23 15h1v1h-1zM29 15h1v1h-1zM47 15h1v1h-1zM10 16h1v1h-1zM23 16h1v1h-1zM28 16h1v1h-1zM47 16h1v1h-1zM10 17h1v1h-1zM23 17h1v1h-1zM27 17h1v1h-1zM48 17h1v1h-1zM12 18h1v1h-1zM23 18h1v1h-1zM26 18h1v1h-1zM20 19h6v1h-6zM23 20h2v1h-2zM32 20h3v1h-3zM24 21h1v1h-1zM36 21h1v1h-1zM9 22h1v1h-1zM21 22h1v1h-1zM28 22h2v1h-2zM64 22h1v1h-1zM22 23h1v1h-1zM63 23h1v1h-1zM7 24h1v1h-1zM19 24h1v1h-1zM22 24h1v1h-1zM58 24h1v1h-1zM13 25h1v1h-1zM38 25h1v1h-1zM6 26h1v1h-1zM13 26h1v1h-1zM58 26h1v1h-1zM13 27h1v1h-1zM13 28h1v1h-1zM23 28h1v1h-1zM66 28h1v1h-1zM13 29h1v1h-1zM65 29h1v1h-1zM12 30h1v1h-1zM19 30h1v1h-1zM29 30h1v1h-1zM41 30h1v1h-1zM11 31h1v1h-1zM19 31h1v1h-1zM10 32h1v1h-1zM19 32h1v1h-1zM20 33h1v1h-1zM9 34h1v1h-1zM0 35h5v1h-5zM9 35h1v1h-1zM21 35h1v1h-1zM29 35h1v1h-1zM41 35h1v1h-1zM7 36h1v1h-1zM9 36h1v1h-1zM40 36h1v1h-1zM8 37h1v1h-1zM37 37h1v1h-1zM21 38h1v1h-1zM29 38h1v1h-1zM20 40h1v1h-1zM69 40h1v1h-1zM19 41h1v1h-1zM67 41h2v1h-2zM8 42h1v1h-1zM19 42h1v1h-1zM46 42h1v1h-1zM10 43h1v1h-1zM17 43h2v1h-2zM56 43h1v1h-1zM7 44h1v1h-1zM16 44h1v1h-1zM27 44h1v1h-1zM29 44h1v1h-1zM11 45h1v1h-1zM15 45h1v1h-1zM20 45h5v1h-5zM56 45h1v1h-1zM11 46h1v1h-1zM15 46h1v1h-1zM18 46h1v1h-1zM48 46h2v1h-2zM11 47h1v1h-1zM15 47h1v1h-1zM11 48h1v1h-1zM15 48h1v1h-1zM17 48h1v1h-1zM76 48h1v1h-1zM9 50h1v1h-1zM64 54h1v1h-1zM45 55h1v1h-1zM44 57h1v1h-1zM44 58h1v1h-1zM44 61h1v1h-1zM0 62h5v1h-5zM10 62h1v1h-1zM28 62h1v1h-1zM44 62h2v1h-2zM66 62h1v1h-1zM11 63h1v1h-1zM26 64h1v1h-1zM15 65h1v1h-1zM26 65h1v1h-1zM59 65h1v1h-1zM76 65h1v1h-1zM14 66h1v1h-1zM12 67h1v1h-1zM12 68h1v1h-1zM30 68h1v1h-1zM30 69h1v1h-1zM34 69h1v1h-1zM58 69h1v1h-1zM31 71h1v1h-1zM36 71h1v1h-1zM27 72h1v1h-1zM31 72h1v1h-1zM48 72h1v1h-1zM32 73h1v1h-1zM38 73h1v1h-1zM34 74h1v1h-1zM38 74h1v1h-1zM55 74h1v1h-1zM35 75h1v1h-1zM38 75h1v1h-1zM48 75h1v1h-1zM55 75h1v1h-1zM26 76h1v1h-1zM38 76h1v1h-1zM49 76h1v1h-1zM55 76h1v1h-1zM36 77h1v1h-1zM6 79h1v1h-1zM22 79h1v1h-1zM57 79h1v1h-1zM23 81h1v1h-1zM25 81h1v1h-1zM23 82h1v1h-1zM25 82h1v1h-1zM23 83h1v1h-1zM25 83h1v1h-1zM23 84h1v1h-1zM25 84h1v1h-1zM23 85h1v1h-1zM25 85h1v1h-1z"/>
<path fill="#0050ff" d="M12 5h1v1h-1zM12 6h1v1h-1zM12 7h1v1h-1zM33 7h1v1h-1zM9 8h4v1h-4zM22 8h1v1h-1zM9 9h4v1h-4zM19 9h1v1h-1zM11 10h3v1h-3zM31 10h1v1h-1zM12 11h2v1h-2zM18 11h1v1h-1zM12 12h4v1h-4zM17 12h1v1h-1zM12 13h1v1h-1zM11 14h1v1h-1zM49 17h1v1h-1zM13 18h5v1h-5zM22 18h1v1h-1zM35 20h1v1h-1zM25 21h1v1h-1zM30 21h1v1h-1zM65 21h1v1h-1zM66 22h1v1h-1zM8 23h1v1h-1zM10 23h1v1h-1zM20 23h1v1h-1zM37 23h1v1h-1zM12 24h1v1h-1zM67 24h1v1h-1zM19 25h1v1h-1zM22 25h1v1h-1zM57 25h1v1h-1zM19 26h1v1h-1zM39 26h1v1h-1zM0 27h5v1h-5zM19 27h1v1h-1zM58 27h1v1h-1zM19 28h1v1h-1zM40 28h1v1h-1zM19 29h1v1h-1zM23 29h1v1h-1zM41 29h2v1h-2zM27 30h2v1h-2zM42 30h1v1h-1zM30 31h1v1h-1zM42 31h1v1h-1zM20 32h1v1h-1zM32 32h1v1h-1zM42 32h1v1h-1zM9 33h1v1h-1zM32 33h1v1h-1zM42 33h1v1h-1zM21 34h1v1h-1zM30 34h1v1h-1zM5 35h4v1h-4zM28 35h1v1h-1zM8 36h1v1h-1zM22 36h1v1h-1zM27 36h1v1h-1zM22 37h1v1h-1zM27 37h1v1h-1zM38 37h1v1h-1zM28 38h1v1h-1zM35 38h1v1h-1zM21 39h1v1h-1zM30 39h1v1h-1zM32 40h1v1h-1zM67 40h1v1h-1zM20 41h1v1h-1zM47 41h1v1h-1zM66 41h1v1h-1zM69 41h1v1h-1zM20 42h1v1h-1zM47 42h1v1h-1zM56 42h1v1h-1zM19 43h2v1h-2zM28 43h1v1h-1zM48 43h2v1h-2zM17 44h4v1h-4zM26 44h1v1h-1zM50 44h1v1h-1zM55 44h1v1h-1zM57 44h1v1h-1zM7 45h1v1h-1zM16 45h4v1h-4zM7 46h1v1h-1zM16 46h2v1h-2zM7 47h1v1h-1zM16 47h2v1h-2zM48 47h1v1h-1zM7 48h1v1h-1zM16 48h1v1h-1zM30 48h1v1h-1zM78 48h1v1h-1zM10 49h1v1h-1zM30 49h1v1h-1zM30 50h1v1h-1zM81 50h5v1h-5zM61 52h1v1h-1zM63 53h1v1h-1zM65 55h1v1h-1zM44 56h1v1h-1zM59 58h1v1h-1zM66 58h1v1h-1zM46 59h1v1h-1zM46 60h1v1h-1zM22 61h1v1h-1zM5 62h1v1h-1zM23 62h1v1h-1zM27 63h1v1h-1zM44 63h1v1h-1zM59 64h1v1h-1zM27 66h1v1h-1zM14 67h1v1h-1zM32 67h2v1h-2zM58 67h1v1h-1zM28 68h1v1h-1zM34 68h1v1h-1zM13 69h1v1h-1zM28 69h2v1h-2zM65 69h1v1h-1zM30 70h1v1h-1zM35 70h1v1h-1zM22 71h1v1h-1zM37 71h1v1h-1zM52 71h2v1h-2zM38 72h1v1h-1zM47 73h1v1h-1zM55 73h1v1h-1zM19 75h1v1h-1zM19 76h1v1h-1zM56 76h1v1h-1zM65 76h1v1h-1zM19 77h1v1h-1zM52 77h5v1h-5zM81 77h5v1h-5zM20 78h1v1h-1zM56 78h1v1h-1zM81 78h5v1h-5zM56 79h1v1h-1zM81 79h5v1h-5zM56 80h1v1h-1zM81 80h5v1h-5zM56 81h1v1h-1zM81 81h5v1h-5zM56 82h1v1h-1zM81 82h5v1h-5zM56 83h1v1h-1zM81 83h5v1h-5zM56 84h1v1h-1zM81 84h5v1h-5zM56 85h1v1h-1zM81 85h5v1h-5z"/>
<path fill="#0060ff" d="M34 0h1v1h-1zM49 0h1v1h-1zM34 1h1v1h-1zM49 1h1v1h-1zM34 2h1v1h-1zM49 2h1v1h-1zM34 3h1v1h-1zM49 3h1v1h-1zM34 4h1v1h-1zM49 4h1v1h-1zM33 8h1v1h-1zM32 9h1v1h-1zM19 10h1v1h-1zM49 11h1v1h-1zM13 13h4v1h-4zM30 13h1v1h-1zM11 15h1v1h-1zM29 16h1v1h-1zM11 17h1v1h-1zM28 17h1v1h-1zM47 17h1v1h-1zM18 18h2v1h-2zM27 18h1v1h-1zM26 19h1v1h-1zM25 20h1v1h-1zM31 20h1v1h-1zM36 20h1v1h-1zM72 20h1v1h-1zM26 21h1v1h-1zM9 23h1v1h-1zM21 23h1v1h-1zM67 23h1v1h-1zM11 24h1v1h-1zM38 24h1v1h-1zM57 24h1v1h-1zM7 25h1v1h-1zM12 25h1v1h-1zM39 25h1v1h-1zM67 25h1v1h-1zM12 26h1v1h-1zM22 26h1v1h-1zM5 27h1v1h-1zM12 27h1v1h-1zM22 27h1v1h-1zM40 27h1v1h-1zM12 28h1v1h-1zM41 28h1v1h-1zM12 29h1v1h-1zM43 29h2v1h-2zM59 29h1v1h-1zM11 30h1v1h-1zM25 30h2v1h-2zM43 30h1v1h-1zM10 31h1v1h-1zM20 31h1v1h-1zM29 31h1v1h-1zM43 31h1v1h-1zM9 32h1v1h-1zM31 32h1v1h-1zM8 33h1v1h-1zM21 33h1v1h-1zM31 33h1v1h-1zM6 34h3v1h-3zM29 34h1v1h-1zM42 34h1v1h-1zM22 35h1v1h-1zM42 35h1v1h-1zM41 36h1v1h-1zM22 38h1v1h-1zM44 38h1v1h-1zM29 39h1v1h-1zM34 39h1v1h-1zM69 39h1v1h-1zM21 40h1v1h-1zM31 40h1v1h-1zM33 40h1v1h-1zM81 40h5v1h-5zM56 41h1v1h-1zM65 41h1v1h-1zM21 42h1v1h-1zM44 42h1v1h-1zM8 43h2v1h-2zM21 43h1v1h-1zM27 43h1v1h-1zM29 43h1v1h-1zM47 43h1v1h-1zM55 43h1v1h-1zM10 44h1v1h-1zM21 44h3v1h-3zM25 44h1v1h-1zM47 44h1v1h-1zM47 45h1v1h-1zM50 45h1v1h-1zM30 47h1v1h-1zM49 47h1v1h-1zM48 48h1v1h-1zM30 51h1v1h-1zM30 52h1v1h-1zM30 53h1v1h-1zM30 54h1v1h-1zM45 54h1v1h-1zM30 55h1v1h-1zM44 55h1v1h-1zM59 55h1v1h-1zM30 56h1v1h-1zM30 57h1v1h-1zM46 57h1v1h-1zM30 58h1v1h-1zM46 58h1v1h-1zM30 59h1v1h-1zM30 60h1v1h-1zM67 60h1v1h-1zM20 61h1v1h-1zM46 61h1v1h-1zM6 62h1v1h-1zM29 62h1v1h-1zM23 63h1v1h-1zM28 63h1v1h-1zM45 63h1v1h-1zM17 64h1v1h-1zM27 64h1v1h-1zM44 64h1v1h-1zM16 65h1v1h-1zM27 65h1v1h-1zM15 66h1v1h-1zM28 67h1v1h-1zM30 67h2v1h-2zM44 67h1v1h-1zM14 68h1v1h-1zM29 68h1v1h-1zM44 68h1v1h-1zM57 68h1v1h-1zM23 69h1v1h-1zM35 69h1v1h-1zM57 69h1v1h-1zM28 70h1v1h-1zM36 70h1v1h-1zM0 71h5v1h-5zM30 71h1v1h-1zM51 71h1v1h-1zM54 71h1v1h-1zM5 72h1v1h-1zM20 72h1v1h-1zM47 72h1v1h-1zM55 72h1v1h-1zM19 73h1v1h-1zM27 73h1v1h-1zM31 73h1v1h-1zM19 74h1v1h-1zM33 74h1v1h-1zM47 74h1v1h-1zM47 75h1v1h-1zM56 75h1v1h-1zM35 76h1v1h-1zM48 76h1v1h-1zM64 76h1v1h-1zM26 77h1v1h-1zM38 77h1v1h-1zM51 77h1v1h-1zM6 78h1v1h-1zM19 78h1v1h-1zM37 78h1v1h-1zM57 78h1v1h-1zM63 78h1v1h-1zM21 79h1v1h-1zM58 79h1v1h-1zM62 79h1v1h-1zM22 80h1v1h-1zM17 81h1v1h-1zM17 82h1v1h-1zM17 83h1v1h-1zM17 84h1v1h-1zM17 85h1v1h-1z"/>
<path fill="#0070ff" d="M34 5h1v1h-1zM49 5h1v1h-1zM20 8h1v1h-1zM22 9h1v1h-1zM22 10h1v1h-1zM19 11h1v1h-1zM22 11h1v1h-1zM48 11h1v1h-1zM18 12h1v1h-1zM22 12h1v1h-1zM47 12h1v1h-1zM17 13h1v1h-1zM22 13h1v1h-1zM46 13h1v1h-1zM12 14h1v1h-1zM22 14h1v1h-1zM30 14h1v1h-1zM46 14h1v1h-1zM22 15h1v1h-1zM46 15h1v1h-1zM11 16h1v1h-1zM22 16h1v1h-1zM46 16h1v1h-1zM22 17h1v1h-1zM72 17h1v1h-1zM20 18h2v1h-2zM28 18h1v1h-1zM48 18h1v1h-1zM72 18h1v1h-1zM27 19h1v1h-1zM72 19h1v1h-1zM26 20h1v1h-1zM27 21h1v1h-1zM66 21h1v1h-1zM37 22h1v1h-1zM67 22h1v1h-1zM7 26h1v1h-1zM67 26h1v1h-1zM6 27h1v1h-1zM22 28h1v1h-1zM42 28h3v1h-3zM58 28h1v1h-1zM11 29h1v1h-1zM22 29h1v1h-1zM10 30h1v1h-1zM20 30h1v1h-1zM23 30h2v1h-2zM44 30h1v1h-1zM9 31h1v1h-1zM8 32h1v1h-1zM21 32h1v1h-1zM43 32h1v1h-1zM7 33h1v1h-1zM43 33h1v1h-1zM0 34h6v1h-6zM42 36h1v1h-1zM39 37h1v1h-1zM36 38h1v1h-1zM45 38h1v1h-1zM46 39h1v1h-1zM68 39h1v1h-1zM47 40h1v1h-1zM70 40h1v1h-1zM21 41h1v1h-1zM48 42h1v1h-1zM22 43h1v1h-1zM45 43h2v1h-2zM57 43h1v1h-1zM24 44h1v1h-1zM10 45h1v1h-1zM55 45h1v1h-1zM57 45h1v1h-1zM10 46h1v1h-1zM30 46h1v1h-1zM47 46h1v1h-1zM10 47h1v1h-1zM47 47h1v1h-1zM10 48h1v1h-1zM47 48h1v1h-1zM8 49h1v1h-1zM80 49h1v1h-1zM60 52h1v1h-1zM62 52h1v1h-1zM36 53h1v1h-1zM45 53h1v1h-1zM36 54h1v1h-1zM44 54h1v1h-1zM36 55h1v1h-1zM36 56h1v1h-1zM46 56h1v1h-1zM36 57h1v1h-1zM66 57h1v1h-1zM59 59h1v1h-1zM21 61h1v1h-1zM30 61h1v1h-1zM67 61h1v1h-1zM7 62h1v1h-1zM9 62h1v1h-1zM19 62h1v1h-1zM0 63h5v1h-5zM18 63h1v1h-1zM59 63h1v1h-1zM66 63h1v1h-1zM11 64h1v1h-1zM44 65h1v1h-1zM32 66h1v1h-1zM44 66h1v1h-1zM29 67h1v1h-1zM34 67h1v1h-1zM12 69h1v1h-1zM44 69h1v1h-1zM29 70h1v1h-1zM28 71h1v1h-1zM38 71h1v1h-1zM50 71h1v1h-1zM55 71h1v1h-1zM30 72h1v1h-1zM39 73h1v1h-1zM46 73h1v1h-1zM27 74h1v1h-1zM32 74h1v1h-1zM39 74h1v1h-1zM56 74h1v1h-1zM34 75h1v1h-1zM39 75h1v1h-1zM39 76h1v1h-1zM47 76h1v1h-1zM6 77h1v1h-1zM18 77h1v1h-1zM50 77h1v1h-1zM18 78h1v1h-1zM26 78h1v1h-1zM36 78h1v1h-1zM18 79h3v1h-3zM17 80h1v1h-1zM16 81h1v1h-1zM22 81h1v1h-1zM16 82h1v1h-1zM22 82h1v1h-1zM16 83h1v1h-1zM22 83h1v1h-1zM16 84h1v1h-1zM22 84h1v1h-1zM16 85h1v1h-1zM22 85h1v1h-1z"/>
<path fill="#0080ff" d="M50 0h1v1h-1zM50 1h1v1h-1zM50 2h1v1h-1zM50 3h1v1h-1zM50 4h1v1h-1zM50 5h1v1h-1zM34 6h1v1h-1zM49 6h1v1h-1zM34 7h1v1h-1zM21 8h1v1h-1zM31 11h1v1h-1zM19 12h1v1h-1zM18 13h1v1h-1zM72 13h1v1h-1zM13 14h5v1h-5zM72 14h1v1h-1zM12 15h1v1h-1zM72 15h1v1h-1zM72 16h1v1h-1zM12 17h1v1h-1zM29 17h1v1h-1zM29 18h1v1h-1zM49 18h1v1h-1zM28 19h1v1h-1zM27 20h1v1h-1zM30 20h1v1h-1zM71 20h1v1h-1zM28 21h2v1h-2zM64 21h1v1h-1zM67 21h1v1h-1zM62 23h1v1h-1zM8 24h1v1h-1zM10 24h1v1h-1zM20 24h2v1h-2zM11 25h1v1h-1zM11 26h1v1h-1zM40 26h1v1h-1zM57 26h1v1h-1zM11 27h1v1h-1zM41 27h1v1h-1zM11 28h1v1h-1zM10 29h1v1h-1zM9 30h1v1h-1zM22 30h1v1h-1zM8 31h1v1h-1zM21 31h1v1h-1zM27 31h2v1h-2zM44 31h1v1h-1zM7 32h1v1h-1zM30 32h1v1h-1zM6 33h1v1h-1zM30 33h1v1h-1zM22 34h1v1h-1zM28 34h1v1h-1zM43 34h1v1h-1zM27 35h1v1h-1zM43 35h1v1h-1zM23 36h1v1h-1zM26 36h1v1h-1zM23 37h1v1h-1zM26 37h1v1h-1zM40 37h1v1h-1zM27 38h1v1h-1zM43 38h1v1h-1zM69 38h1v1h-1zM22 39h1v1h-1zM28 39h1v1h-1zM43 39h1v1h-1zM81 39h5v1h-5zM30 40h1v1h-1zM43 40h1v1h-1zM56 40h1v1h-1zM66 40h1v1h-1zM31 41h2v1h-2zM48 41h1v1h-1zM70 41h1v1h-1zM22 42h1v1h-1zM28 42h2v1h-2zM49 42h1v1h-1zM55 42h1v1h-1zM65 42h3v1h-3zM23 43h1v1h-1zM26 43h1v1h-1zM50 43h1v1h-1zM8 44h1v1h-1zM51 44h1v1h-1zM54 44h1v1h-1zM30 45h1v1h-1zM50 46h1v1h-1zM49 48h1v1h-1zM9 49h1v1h-1zM48 49h1v1h-1zM36 52h1v1h-1zM45 52h1v1h-1zM64 53h1v1h-1zM59 54h1v1h-1zM46 55h1v1h-1zM47 59h1v1h-1zM47 60h1v1h-1zM8 62h1v1h-1zM22 62h1v1h-1zM30 62h1v1h-1zM46 62h1v1h-1zM59 62h1v1h-1zM5 63h1v1h-1zM10 63h1v1h-1zM29 63h1v1h-1zM23 64h1v1h-1zM45 64h1v1h-1zM45 65h1v1h-1zM16 66h1v1h-1zM23 66h1v1h-1zM28 66h1v1h-1zM30 66h2v1h-2zM33 66h1v1h-1zM45 66h1v1h-1zM58 66h1v1h-1zM15 67h1v1h-1zM23 67h1v1h-1zM43 67h1v1h-1zM45 67h1v1h-1zM23 68h1v1h-1zM35 68h1v1h-1zM43 68h1v1h-1zM45 68h1v1h-1zM14 69h1v1h-1zM43 69h1v1h-1zM45 69h1v1h-1zM56 69h1v1h-1zM37 70h1v1h-1zM44 70h2v1h-2zM56 70h1v1h-1zM29 71h1v1h-1zM49 71h1v1h-1zM56 71h1v1h-1zM28 72h1v1h-1zM39 72h1v1h-1zM46 72h1v1h-1zM46 74h1v1h-1zM18 75h1v1h-1zM46 75h1v1h-1zM6 76h1v1h-1zM18 76h1v1h-1zM81 76h5v1h-5zM35 77h1v1h-1zM49 77h1v1h-1zM17 78h1v1h-1zM55 78h1v1h-1zM17 79h1v1h-1zM16 80h1v1h-1zM18 80h2v1h-2zM7 81h1v1h-1zM18 81h1v1h-1zM7 82h1v1h-1zM18 82h1v1h-1zM7 83h1v1h-1zM18 83h1v1h-1zM7 84h1v1h-1zM18 84h1v1h-1zM7 85h1v1h-1zM18 85h1v1h-1z"/>
<path fill="#008fff" d="M48 0h1v1h-1zM51 0h1v1h-1zM48 1h1v1h-1zM51 1h1v1h-1zM48 2h1v1h-1zM51 2h1v1h-1zM48 3h1v1h-1zM51 3h1v1h-1zM48 4h1v1h-1zM51 4h1v1h-1zM48 5h1v1h-1zM34 8h1v1h-1zM20 9h1v1h-1zM33 9h1v1h-1zM49 10h1v1h-1zM50 12h1v1h-1zM19 13h1v1h-1zM50 13h1v1h-1zM73 13h1v1h-1zM18 14h1v1h-1zM50 14h1v1h-1zM73 14h1v1h-1zM13 15h5v1h-5zM30 15h1v1h-1zM50 15h1v1h-1zM12 16h1v1h-1zM50 16h1v1h-1zM13 17h6v1h-6zM21 17h1v1h-1zM46 17h1v1h-1zM50 17h1v1h-1zM29 19h8v1h-8zM71 19h1v1h-1zM65 20h1v1h-1zM37 21h1v1h-1zM38 23h1v1h-1zM9 24h1v1h-1zM39 24h1v1h-1zM56 24h1v1h-1zM68 24h1v1h-1zM8 25h1v1h-1zM10 25h1v1h-1zM20 25h2v1h-2zM40 25h1v1h-1zM56 25h1v1h-1zM10 26h1v1h-1zM20 26h2v1h-2zM7 27h1v1h-1zM10 27h1v1h-1zM20 27h1v1h-1zM42 27h1v1h-1zM67 27h1v1h-1zM0 28h6v1h-6zM10 28h1v1h-1zM20 28h1v1h-1zM20 29h2v1h-2zM45 29h1v1h-1zM8 30h1v1h-1zM21 30h1v1h-1zM7 31h1v1h-1zM22 31h2v1h-2zM26 31h1v1h-1zM6 32h1v1h-1zM22 32h1v1h-1zM29 32h1v1h-1zM44 32h1v1h-1zM5 33h1v1h-1zM22 33h1v1h-1zM29 33h1v1h-1zM23 35h1v1h-1zM43 36h1v1h-1zM41 37h4v1h-4zM23 38h1v1h-1zM37 38h1v1h-1zM81 38h5v1h-5zM35 39h1v1h-1zM56 39h1v1h-1zM70 39h1v1h-1zM22 40h1v1h-1zM29 40h1v1h-1zM22 41h1v1h-1zM30 41h1v1h-1zM33 41h1v1h-1zM55 41h1v1h-1zM27 42h1v1h-1zM30 42h1v1h-1zM57 42h1v1h-1zM68 42h1v1h-1zM24 43h2v1h-2zM30 43h1v1h-1zM54 43h1v1h-1zM9 44h1v1h-1zM30 44h1v1h-1zM46 44h1v1h-1zM8 45h1v1h-1zM51 45h1v1h-1zM8 46h1v1h-1zM8 47h1v1h-1zM8 48h1v1h-1zM46 48h1v1h-1zM46 49h2v1h-2zM81 49h5v1h-5zM45 50h1v1h-1zM45 51h1v1h-1zM63 52h1v1h-1zM37 53h1v1h-1zM44 53h1v1h-1zM37 54h1v1h-1zM65 54h1v1h-1zM37 55h1v1h-1zM37 56h1v1h-1zM58 56h1v1h-1zM37 57h1v1h-1zM36 58h1v1h-1zM47 58h1v1h-1zM67 59h1v1h-1zM43 60h1v1h-1zM59 60h1v1h-1zM43 61h1v1h-1zM47 61h1v1h-1zM43 62h1v1h-1zM30 63h1v1h-1zM43 63h1v1h-1zM28 64h1v1h-1zM43 64h1v1h-1zM66 64h1v1h-1zM11 65h1v1h-1zM17 65h1v1h-1zM23 65h1v1h-1zM28 65h1v1h-1zM43 65h1v1h-1zM29 66h1v1h-1zM34 66h1v1h-1zM43 66h1v1h-1zM79 66h7v1h-7zM35 67h1v1h-1zM15 68h1v1h-1zM42 68h1v1h-1zM36 69h1v1h-1zM42 69h1v1h-1zM38 70h1v1h-1zM43 70h1v1h-1zM55 70h1v1h-1zM57 70h1v1h-1zM5 71h1v1h-1zM21 71h1v1h-1zM39 71h1v1h-1zM44 71h5v1h-5zM19 72h1v1h-1zM29 72h1v1h-1zM56 72h1v1h-1zM30 73h1v1h-1zM56 73h1v1h-1zM18 74h1v1h-1zM6 75h1v1h-1zM27 75h1v1h-1zM33 75h1v1h-1zM34 76h1v1h-1zM46 76h1v1h-1zM17 77h1v1h-1zM39 77h1v1h-1zM48 77h1v1h-1zM57 77h1v1h-1zM38 78h1v1h-1zM16 79h1v1h-1zM26 79h1v1h-1zM37 79h1v1h-1zM59 79h1v1h-1zM7 80h1v1h-1zM20 80h2v1h-2zM19 81h1v1h-1zM19 82h1v1h-1zM19 83h1v1h-1zM19 84h1v1h-1zM19 85h1v1h-1z"/>
<path fill="#009fff" d="M35 0h1v1h-1zM52 0h1v1h-1zM35 1h1v1h-1zM52 1h1v1h-1zM35 2h1v1h-1zM52 2h1v1h-1zM35 3h1v1h-1zM52 3h1v1h-1zM35 4h1v1h-1zM52 4h1v1h-1zM51 5h1v1h-1zM50 6h1v1h-1zM49 7h1v1h-1zM21 9h1v1h-1zM20 10h2v1h-2zM32 10h1v1h-1zM48 10h1v1h-1zM20 11h2v1h-2zM50 11h1v1h-1zM20 12h2v1h-2zM46 12h1v1h-1zM21 13h1v1h-1zM45 13h1v1h-1zM19 14h1v1h-1zM21 14h1v1h-1zM45 14h1v1h-1zM18 15h2v1h-2zM21 15h1v1h-1zM45 15h1v1h-1zM73 15h1v1h-1zM13 16h4v1h-4zM21 16h1v1h-1zM45 16h1v1h-1zM73 16h1v1h-1zM19 17h2v1h-2zM73 17h1v1h-1zM30 18h1v1h-1zM47 18h1v1h-1zM71 18h1v1h-1zM73 18h1v1h-1zM73 19h1v1h-1zM28 20h2v1h-2zM66 20h1v1h-1zM70 20h1v1h-1zM73 20h1v1h-1zM68 21h1v1h-1zM68 22h1v1h-1zM57 23h1v1h-1zM68 23h1v1h-1zM9 25h1v1h-1zM68 25h1v1h-1zM8 26h2v1h-2zM41 26h1v1h-1zM8 27h2v1h-2zM21 27h1v1h-1zM43 27h1v1h-1zM57 27h1v1h-1zM6 28h2v1h-2zM9 28h1v1h-1zM21 28h1v1h-1zM45 28h1v1h-1zM9 29h1v1h-1zM58 29h1v1h-1zM66 29h1v1h-1zM6 30h2v1h-2zM6 31h1v1h-1zM24 31h2v1h-2zM28 32h1v1h-1zM76 32h1v1h-1zM0 33h5v1h-5zM44 33h1v1h-1zM23 34h1v1h-1zM27 34h1v1h-1zM44 34h1v1h-1zM26 35h1v1h-1zM44 35h1v1h-1zM24 36h1v1h-1zM44 36h1v1h-1zM24 37h1v1h-1zM81 37h5v1h-5zM26 38h1v1h-1zM23 39h1v1h-1zM27 39h1v1h-1zM34 40h1v1h-1zM65 40h1v1h-1zM28 41h2v1h-2zM43 41h1v1h-1zM23 42h1v1h-1zM26 42h1v1h-1zM31 42h1v1h-1zM50 42h1v1h-1zM54 42h1v1h-1zM69 42h1v1h-1zM51 43h1v1h-1zM65 43h1v1h-1zM53 44h1v1h-1zM9 45h1v1h-1zM46 45h1v1h-1zM54 45h1v1h-1zM9 46h1v1h-1zM46 46h1v1h-1zM56 46h1v1h-1zM9 47h1v1h-1zM46 47h1v1h-1zM77 47h1v1h-1zM9 48h1v1h-1zM79 48h1v1h-1zM45 49h1v1h-1zM49 49h1v1h-1zM46 50h1v1h-1zM44 52h1v1h-1zM31 53h1v1h-1zM35 53h1v1h-1zM59 53h1v1h-1zM31 54h1v1h-1zM35 54h1v1h-1zM46 54h1v1h-1zM31 55h1v1h-1zM35 55h1v1h-1zM31 56h1v1h-1zM35 56h1v1h-1zM66 56h1v1h-1zM31 57h1v1h-1zM35 57h1v1h-1zM47 57h1v1h-1zM58 57h1v1h-1zM31 58h1v1h-1zM37 58h1v1h-1zM31 59h1v1h-1zM36 59h1v1h-1zM43 59h1v1h-1zM31 60h1v1h-1zM48 60h1v1h-1zM31 61h1v1h-1zM59 61h1v1h-1zM20 62h2v1h-2zM6 63h1v1h-1zM22 63h1v1h-1zM0 64h5v1h-5zM18 64h1v1h-1zM29 64h1v1h-1zM29 65h6v1h-6zM66 65h1v1h-1zM11 66h1v1h-1zM35 66h1v1h-1zM66 66h1v1h-1zM77 66h2v1h-2zM36 67h1v1h-1zM42 67h1v1h-1zM57 67h1v1h-1zM66 67h1v1h-1zM36 68h1v1h-1zM56 68h1v1h-1zM66 68h1v1h-1zM37 69h2v1h-2zM0 70h5v1h-5zM13 70h1v1h-1zM22 70h1v1h-1zM39 70h1v1h-1zM42 70h1v1h-1zM46 70h1v1h-1zM54 70h1v1h-1zM40 71h1v1h-1zM42 71h2v1h-2zM40 72h1v1h-1zM45 72h1v1h-1zM18 73h1v1h-1zM28 73h1v1h-1zM40 73h1v1h-1zM45 73h1v1h-1zM6 74h1v1h-1zM31 74h1v1h-1zM40 74h1v1h-1zM45 74h1v1h-1zM40 75h1v1h-1zM45 75h1v1h-1zM17 76h1v1h-1zM40 76h1v1h-1zM45 76h1v1h-1zM47 77h1v1h-1zM66 77h1v1h-1zM80 77h1v1h-1zM16 78h1v1h-1zM54 78h1v1h-1zM66 78h1v1h-1zM80 78h1v1h-1zM36 79h1v1h-1zM55 79h1v1h-1zM66 79h1v1h-1zM80 79h1v1h-1zM15 80h1v1h-1zM66 80h1v1h-1zM80 80h1v1h-1zM15 81h1v1h-1zM20 81h2v1h-2zM66 81h1v1h-1zM80 81h1v1h-1zM15 82h1v1h-1zM20 82h2v1h-2zM66 82h1v1h-1zM80 82h1v1h-1zM15 83h1v1h-1zM20 83h2v1h-2zM66 83h1v1h-1zM80 83h1v1h-1zM15 84h1v1h-1zM20 84h2v1h-2zM66 84h1v1h-1zM80 84h1v1h-1zM15 85h1v1h-1zM20 85h2v1h-2zM66 85h1v1h-1zM80 85h1v1h-1z"/>
<path fill="#00afff" d="M35 5h1v1h-1zM52 5h1v1h-1zM35 6h1v1h-1zM48 6h1v1h-1zM51 6h1v1h-1zM50 7h1v1h-1zM49 8h1v1h-1zM34 9h1v1h-1zM49 9h1v1h-1zM50 10h1v1h-1zM47 11h1v1h-1zM31 12h1v1h-1zM20 13h1v1h-1zM20 14h1v1h-1zM20 15h1v1h-1zM17 16h4v1h-4zM30 16h1v1h-1zM30 17h1v1h-1zM45 17h1v1h-1zM71 17h1v1h-1zM50 18h1v1h-1zM48 19h2v1h-2zM37 20h1v1h-1zM67 20h1v1h-1zM69 21h4v1h-4zM63 22h1v1h-1zM56 23h1v1h-1zM58 23h1v1h-1zM61 23h1v1h-1zM56 26h1v1h-1zM44 27h1v1h-1zM8 28h1v1h-1zM67 28h1v1h-1zM0 29h9v1h-9zM0 30h6v1h-6zM45 30h1v1h-1zM60 30h2v1h-2zM0 31h6v1h-6zM0 32h6v1h-6zM23 32h1v1h-1zM28 33h1v1h-1zM25 36h1v1h-1zM25 37h1v1h-1zM45 37h1v1h-1zM69 37h1v1h-1zM38 38h1v1h-1zM42 38h1v1h-1zM56 38h1v1h-1zM68 38h1v1h-1zM70 38h1v1h-1zM28 40h1v1h-1zM48 40h1v1h-1zM55 40h1v1h-1zM71 40h1v1h-1zM23 41h1v1h-1zM49 41h1v1h-1zM57 41h1v1h-1zM71 41h1v1h-1zM24 42h1v1h-1zM32 42h1v1h-1zM44 43h1v1h-1zM66 43h1v1h-1zM52 44h1v1h-1zM57 46h1v1h-1zM50 47h1v1h-1zM76 47h1v1h-1zM45 48h1v1h-1zM31 50h1v1h-1zM47 50h1v1h-1zM31 51h1v1h-1zM36 51h1v1h-1zM46 51h1v1h-1zM31 52h1v1h-1zM35 52h1v1h-1zM37 52h1v1h-1zM64 52h1v1h-1zM46 53h1v1h-1zM47 56h1v1h-1zM43 57h1v1h-1zM35 58h1v1h-1zM43 58h1v1h-1zM37 59h1v1h-1zM36 60h1v1h-1zM68 60h1v1h-1zM31 62h1v1h-1zM67 62h1v1h-1zM19 63h1v1h-1zM31 63h1v1h-1zM36 63h1v1h-1zM46 63h1v1h-1zM5 64h1v1h-1zM30 64h2v1h-2zM35 64h2v1h-2zM75 64h1v1h-1zM35 65h2v1h-2zM58 65h1v1h-1zM36 66h1v1h-1zM42 66h1v1h-1zM11 67h1v1h-1zM16 67h1v1h-1zM37 67h1v1h-1zM11 68h1v1h-1zM37 68h2v1h-2zM41 68h1v1h-1zM15 69h1v1h-1zM39 69h3v1h-3zM46 69h1v1h-1zM55 69h1v1h-1zM12 70h1v1h-1zM40 70h2v1h-2zM53 70h1v1h-1zM58 70h1v1h-1zM41 71h1v1h-1zM41 72h4v1h-4zM6 73h1v1h-1zM29 73h1v1h-1zM41 73h4v1h-4zM41 74h4v1h-4zM32 75h1v1h-1zM41 75h4v1h-4zM27 76h1v1h-1zM41 76h4v1h-4zM57 76h1v1h-1zM80 76h1v1h-1zM40 77h1v1h-1zM46 77h1v1h-1zM63 77h1v1h-1zM39 78h1v1h-1zM7 79h1v1h-1zM38 79h1v1h-1zM61 79h1v1h-1zM26 80h1v1h-1zM37 80h1v1h-1z"/>
<path fill="#00bfff" d="M40 0h1v1h-1zM53 0h1v1h-1zM40 1h1v1h-1zM53 1h1v1h-1zM40 2h1v1h-1zM53 2h1v1h-1zM40 3h1v1h-1zM53 3h1v1h-1zM40 4h1v1h-1zM53 4h1v1h-1zM40 5h1v1h-1zM53 5h1v1h-1zM40 6h1v1h-1zM52 6h1v1h-1zM35 7h1v1h-1zM40 7h1v1h-1zM48 7h1v1h-1zM51 7h1v1h-1zM35 8h1v1h-1zM40 8h1v1h-1zM50 8h1v1h-1zM56 8h1v1h-1zM56 9h1v1h-1zM31 13h1v1h-1zM71 16h1v1h-1zM31 18h1v1h-1zM36 18h1v1h-1zM46 18h1v1h-1zM50 19h1v1h-1zM70 19h1v1h-1zM68 20h2v1h-2zM69 22h1v1h-1zM59 23h1v1h-1zM55 24h1v1h-1zM41 25h1v1h-1zM55 25h1v1h-1zM42 26h1v1h-1zM57 28h1v1h-1zM59 30h1v1h-1zM27 32h1v1h-1zM23 33h1v1h-1zM27 33h1v1h-1zM76 33h1v1h-1zM26 34h1v1h-1zM24 35h2v1h-2zM70 37h1v1h-1zM24 38h2v1h-2zM46 38h1v1h-1zM26 39h1v1h-1zM47 39h1v1h-1zM67 39h1v1h-1zM71 39h1v1h-1zM23 40h1v1h-1zM27 40h1v1h-1zM57 40h1v1h-1zM80 40h1v1h-1zM27 41h1v1h-1zM50 41h1v1h-1zM54 41h1v1h-1zM64 41h1v1h-1zM81 41h5v1h-5zM25 42h1v1h-1zM51 42h1v1h-1zM64 42h1v1h-1zM70 42h1v1h-1zM31 43h1v1h-1zM52 43h2v1h-2zM67 43h1v1h-1zM45 44h1v1h-1zM65 44h1v1h-1zM52 45h2v1h-2zM51 46h1v1h-1zM55 46h1v1h-1zM45 47h1v1h-1zM31 48h1v1h-1zM31 49h1v1h-1zM48 50h1v1h-1zM44 51h1v1h-1zM61 51h2v1h-2zM46 52h1v1h-1zM34 53h1v1h-1zM34 54h1v1h-1zM34 55h1v1h-1zM58 55h1v1h-1zM34 56h1v1h-1zM43 56h1v1h-1zM52 57h1v1h-1zM67 58h1v1h-1zM35 59h1v1h-1zM48 59h1v1h-1zM37 60h1v1h-1zM49 60h1v1h-1zM36 61h1v1h-1zM48 61h1v1h-1zM68 61h1v1h-1zM35 62h3v1h-3zM47 62h1v1h-1zM75 62h1v1h-1zM7 63h1v1h-1zM9 63h1v1h-1zM32 63h1v1h-1zM34 63h2v1h-2zM37 63h1v1h-1zM75 63h1v1h-1zM10 64h1v1h-1zM32 64h3v1h-3zM37 64h1v1h-1zM42 64h1v1h-1zM0 65h5v1h-5zM37 65h1v1h-1zM42 65h1v1h-1zM17 66h1v1h-1zM37 66h2v1h-2zM38 67h2v1h-2zM41 67h1v1h-1zM39 68h2v1h-2zM46 68h1v1h-1zM14 70h1v1h-1zM47 70h1v1h-1zM52 70h1v1h-1zM20 71h1v1h-1zM57 71h1v1h-1zM18 72h1v1h-1zM30 74h1v1h-1zM17 75h1v1h-1zM81 75h5v1h-5zM16 77h1v1h-1zM45 77h1v1h-1zM35 78h1v1h-1zM58 78h1v1h-1zM15 79h1v1h-1zM60 79h1v1h-1zM14 81h1v1h-1zM26 81h1v1h-1zM14 82h1v1h-1zM26 82h1v1h-1zM14 83h1v1h-1zM26 83h1v1h-1zM14 84h1v1h-1zM26 84h1v1h-1zM14 85h1v1h-1zM26 85h1v1h-1z"/>
<path fill="#00cfff" d="M39 0h1v1h-1zM54 0h1v1h-1zM39 1h1v1h-1zM54 1h1v1h-1zM39 2h1v1h-1zM54 2h1v1h-1zM39 3h1v1h-1zM54 3h1v1h-1zM39 4h1v1h-1zM54 4h1v1h-1zM39 5h1v1h-1zM54 5h1v1h-1zM39 6h1v1h-1zM53 6h1v1h-1zM39 7h1v1h-1zM56 7h1v1h-1zM39 8h1v1h-1zM55 8h1v1h-1zM48 9h1v1h-1zM50 9h1v1h-1zM33 10h1v1h-1zM32 11h1v1h-1zM45 12h1v1h-1zM71 15h1v1h-1zM32 18h1v1h-1zM35 18h1v1h-1zM37 19h1v1h-1zM47 19h1v1h-1zM51 20h3v1h-3zM64 20h1v1h-1zM52 21h2v1h-2zM38 22h1v1h-1zM55 22h2v1h-2zM55 23h1v1h-1zM60 23h1v1h-1zM40 24h1v1h-1zM55 26h1v1h-1zM68 26h1v1h-1zM55 27h2v1h-2zM53 28h1v1h-1zM58 30h1v1h-1zM62 30h1v1h-1zM45 31h1v1h-1zM24 32h1v1h-1zM26 32h1v1h-1zM77 32h1v1h-1zM26 33h1v1h-1zM24 34h2v1h-2zM56 37h1v1h-1zM39 38h1v1h-1zM71 38h1v1h-1zM24 39h2v1h-2zM36 39h1v1h-1zM42 39h1v1h-1zM55 39h1v1h-1zM80 39h1v1h-1zM26 40h1v1h-1zM26 41h1v1h-1zM34 41h1v1h-1zM51 41h1v1h-1zM33 42h1v1h-1zM52 42h2v1h-2zM71 42h1v1h-1zM64 43h1v1h-1zM31 44h1v1h-1zM58 44h1v1h-1zM64 44h1v1h-1zM58 45h1v1h-1zM65 45h1v1h-1zM31 46h1v1h-1zM45 46h1v1h-1zM31 47h1v1h-1zM36 50h1v1h-1zM44 50h1v1h-1zM35 51h1v1h-1zM37 51h1v1h-1zM47 51h1v1h-1zM63 51h2v1h-2zM34 52h1v1h-1zM65 53h1v1h-1zM47 55h1v1h-1zM52 56h2v1h-2zM34 57h1v1h-1zM51 57h1v1h-1zM53 57h1v1h-1zM34 58h1v1h-1zM48 58h1v1h-1zM52 58h1v1h-1zM58 58h1v1h-1zM49 59h1v1h-1zM35 60h1v1h-1zM50 60h1v1h-1zM35 61h1v1h-1zM37 61h1v1h-1zM75 61h1v1h-1zM32 62h1v1h-1zM34 62h1v1h-1zM8 63h1v1h-1zM33 63h1v1h-1zM42 63h1v1h-1zM22 64h1v1h-1zM38 64h1v1h-1zM58 64h1v1h-1zM5 65h1v1h-1zM18 65h1v1h-1zM38 65h1v1h-1zM0 66h5v1h-5zM39 66h1v1h-1zM41 66h1v1h-1zM57 66h1v1h-1zM40 67h1v1h-1zM46 67h1v1h-1zM16 68h1v1h-1zM11 69h1v1h-1zM5 70h1v1h-1zM15 70h1v1h-1zM48 70h1v1h-1zM50 70h2v1h-2zM59 70h1v1h-1zM19 71h1v1h-1zM6 72h1v1h-1zM17 74h1v1h-1zM28 74h1v1h-1zM31 75h1v1h-1zM57 75h1v1h-1zM16 76h1v1h-1zM33 76h1v1h-1zM27 77h1v1h-1zM34 77h1v1h-1zM41 77h4v1h-4zM7 78h1v1h-1zM15 78h1v1h-1zM53 78h1v1h-1zM14 80h1v1h-1zM36 80h1v1h-1zM55 80h1v1h-1zM37 81h1v1h-1zM37 82h1v1h-1zM37 83h1v1h-1zM37 84h1v1h-1zM37 85h1v1h-1z"/>
<path fill="#00dfff" d="M36 0h1v1h-1zM38 0h1v1h-1zM41 0h1v1h-1zM55 0h1v1h-1zM36 1h1v1h-1zM38 1h1v1h-1zM41 1h1v1h-1zM55 1h1v1h-1zM36 2h1v1h-1zM38 2h1v1h-1zM41 2h1v1h-1zM55 2h1v1h-1zM36 3h1v1h-1zM38 3h1v1h-1zM41 3h1v1h-1zM55 3h1v1h-1zM36 4h1v1h-1zM38 4h1v1h-1zM41 4h1v1h-1zM55 4h1v1h-1zM36 5h1v1h-1zM38 5h1v1h-1zM41 5h1v1h-1zM55 5h1v1h-1zM38 6h1v1h-1zM41 6h1v1h-1zM54 6h3v1h-3zM38 7h1v1h-1zM41 7h1v1h-1zM52 7h4v1h-4zM38 8h1v1h-1zM41 8h1v1h-1zM48 8h1v1h-1zM51 8h1v1h-1zM54 8h1v1h-1zM35 9h1v1h-1zM40 9h1v1h-1zM51 9h1v1h-1zM55 9h1v1h-1zM34 10h1v1h-1zM51 10h1v1h-1zM56 10h1v1h-1zM51 11h1v1h-1zM51 12h1v1h-1zM72 12h2v1h-2zM44 13h1v1h-1zM51 13h1v1h-1zM71 13h1v1h-1zM31 14h1v1h-1zM44 14h1v1h-1zM51 14h1v1h-1zM71 14h1v1h-1zM44 15h1v1h-1zM51 15h1v1h-1zM44 16h1v1h-1zM51 16h1v1h-1zM51 17h1v1h-1zM33 18h2v1h-2zM45 18h1v1h-1zM51 18h1v1h-1zM70 18h1v1h-1zM51 19h1v1h-1zM69 19h1v1h-1zM49 20h2v1h-2zM54 20h1v1h-1zM51 21h1v1h-1zM54 21h2v1h-2zM54 22h1v1h-1zM57 22h1v1h-1zM39 23h1v1h-1zM69 23h1v1h-1zM42 25h1v1h-1zM43 26h1v1h-1zM45 27h1v1h-1zM54 27h1v1h-1zM54 28h2v1h-2zM53 29h2v1h-2zM57 29h1v1h-1zM57 30h1v1h-1zM56 31h2v1h-2zM25 32h1v1h-1zM56 32h2v1h-2zM75 32h1v1h-1zM24 33h1v1h-1zM56 33h1v1h-1zM77 33h1v1h-1zM56 34h1v1h-1zM45 35h1v1h-1zM56 35h1v1h-1zM45 36h1v1h-1zM56 36h1v1h-1zM69 36h1v1h-1zM71 37h1v1h-1zM40 38h2v1h-2zM80 38h1v1h-1zM57 39h1v1h-1zM24 40h1v1h-1zM35 40h1v1h-1zM49 40h1v1h-1zM54 40h1v1h-1zM72 40h1v1h-1zM24 41h2v1h-2zM53 41h1v1h-1zM43 42h1v1h-1zM68 43h1v1h-1zM66 44h1v1h-1zM31 45h1v1h-1zM45 45h1v1h-1zM64 45h1v1h-1zM50 48h1v1h-1zM80 48h1v1h-1zM75 49h1v1h-1zM49 50h1v1h-1zM60 51h1v1h-1zM59 52h1v1h-1zM32 53h1v1h-1zM32 54h1v1h-1zM47 54h1v1h-1zM32 55h1v1h-1zM43 55h1v1h-1zM66 55h1v1h-1zM32 56h1v1h-1zM51 56h1v1h-1zM32 57h1v1h-1zM48 57h1v1h-1zM50 57h1v1h-1zM32 58h1v1h-1zM49 58h3v1h-3zM32 59h1v1h-1zM34 59h1v1h-1zM50 59h3v1h-3zM32 60h1v1h-1zM34 60h1v1h-1zM51 60h1v1h-1zM75 60h1v1h-1zM32 61h1v1h-1zM34 61h1v1h-1zM42 61h1v1h-1zM49 61h1v1h-1zM33 62h1v1h-1zM42 62h1v1h-1zM20 63h2v1h-2zM38 63h1v1h-1zM6 64h1v1h-1zM19 64h1v1h-1zM46 64h1v1h-1zM39 65h1v1h-1zM41 65h1v1h-1zM46 65h1v1h-1zM75 65h1v1h-1zM40 66h1v1h-1zM46 66h1v1h-1zM76 66h1v1h-1zM0 67h5v1h-5zM17 67h1v1h-1zM56 67h1v1h-1zM81 67h5v1h-5zM55 68h1v1h-1zM0 69h5v1h-5zM22 69h1v1h-1zM54 69h1v1h-1zM49 70h1v1h-1zM64 70h1v1h-1zM17 73h1v1h-1zM29 74h1v1h-1zM57 74h1v1h-1zM16 75h1v1h-1zM40 78h1v1h-1zM62 78h1v1h-1zM39 79h1v1h-1zM38 80h1v1h-1zM8 81h1v1h-1zM55 81h1v1h-1zM8 82h1v1h-1zM55 82h1v1h-1zM8 83h1v1h-1zM55 83h1v1h-1zM8 84h1v1h-1zM55 84h1v1h-1zM8 85h1v1h-1zM55 85h1v1h-1z"/>
<path fill="#00efff" d="M47 0h1v1h-1zM47 1h1v1h-1zM47 2h1v1h-1zM47 3h1v1h-1zM47 4h1v1h-1zM56 5h1v1h-1zM36 6h1v1h-1zM36 7h1v1h-1zM36 8h1v1h-1zM52 8h2v1h-2zM39 9h1v1h-1zM54 9h1v1h-1zM47 10h1v1h-1zM55 10h1v1h-1zM46 11h1v1h-1zM56 11h1v1h-1zM31 15h1v1h-1zM31 17h1v1h-1zM70 17h1v1h-1zM37 18h1v1h-1zM46 19h1v1h-1zM52 19h1v1h-1zM65 19h4v1h-4zM48 20h1v1h-1zM55 20h1v1h-1zM50 21h1v1h-1zM56 21h1v1h-1zM73 21h1v1h-1zM53 22h1v1h-1zM70 22h1v1h-1zM54 23h1v1h-1zM69 24h1v1h-1zM44 26h1v1h-1zM54 26h1v1h-1zM53 27h1v1h-1zM68 27h1v1h-1zM46 28h1v1h-1zM52 28h1v1h-1zM56 28h1v1h-1zM55 29h2v1h-2zM67 29h1v1h-1zM56 30h1v1h-1zM63 30h1v1h-1zM45 32h1v1h-1zM25 33h1v1h-1zM45 33h1v1h-1zM57 33h1v1h-1zM75 33h1v1h-1zM45 34h1v1h-1zM57 34h1v1h-1zM70 36h1v1h-1zM68 37h1v1h-1zM80 37h1v1h-1zM55 38h1v1h-1zM57 38h1v1h-1zM72 38h1v1h-1zM37 39h1v1h-1zM72 39h1v1h-1zM25 40h1v1h-1zM50 40h1v1h-1zM52 41h1v1h-1zM72 41h1v1h-1zM72 42h1v1h-1zM32 43h1v1h-1zM69 43h2v1h-2zM54 46h1v1h-1zM64 46h2v1h-2zM56 47h1v1h-1zM78 47h1v1h-1zM75 48h1v1h-1zM44 49h1v1h-1zM35 50h1v1h-1zM64 50h1v1h-1zM75 50h1v1h-1zM34 51h1v1h-1zM48 51h1v1h-1zM32 52h1v1h-1zM47 52h1v1h-1zM33 53h1v1h-1zM33 54h1v1h-1zM43 54h1v1h-1zM58 54h1v1h-1zM33 55h1v1h-1zM33 56h1v1h-1zM38 56h1v1h-1zM48 56h1v1h-1zM50 56h1v1h-1zM54 56h1v1h-1zM57 56h1v1h-1zM33 57h1v1h-1zM38 57h1v1h-1zM49 57h1v1h-1zM54 57h1v1h-1zM67 57h1v1h-1zM33 58h1v1h-1zM38 58h1v1h-1zM53 58h1v1h-1zM33 59h1v1h-1zM38 59h1v1h-1zM68 59h1v1h-1zM75 59h1v1h-1zM38 60h1v1h-1zM42 60h1v1h-1zM52 60h1v1h-1zM33 61h1v1h-1zM38 61h1v1h-1zM50 61h1v1h-1zM38 62h1v1h-1zM67 63h1v1h-1zM39 64h1v1h-1zM10 65h1v1h-1zM22 65h1v1h-1zM40 65h1v1h-1zM5 66h1v1h-1zM22 66h1v1h-1zM80 67h1v1h-1zM16 69h1v1h-1zM47 69h1v1h-1zM66 69h1v1h-1zM16 70h1v1h-1zM63 70h1v1h-1zM6 71h1v1h-1zM13 71h2v1h-2zM18 71h1v1h-1zM17 72h1v1h-1zM57 72h1v1h-1zM16 74h1v1h-1zM28 75h1v1h-1zM30 75h1v1h-1zM80 75h1v1h-1zM32 76h1v1h-1zM66 76h1v1h-1zM15 77h1v1h-1zM27 78h1v1h-1zM45 78h8v1h-8zM14 79h1v1h-1zM8 80h1v1h-1zM13 81h1v1h-1zM36 81h1v1h-1zM13 82h1v1h-1zM36 82h1v1h-1zM13 83h1v1h-1zM36 83h1v1h-1zM13 84h1v1h-1zM36 84h1v1h-1zM13 85h1v1h-1zM36 85h1v1h-1z"/>
<path fill="#00ffff" d="M37 0h1v1h-1zM56 0h1v1h-1zM37 1h1v1h-1zM56 1h1v1h-1zM37 2h1v1h-1zM56 2h1v1h-1zM37 3h1v1h-1zM56 3h1v1h-1zM37 4h1v1h-1zM56 4h1v1h-1zM37 5h1v1h-1zM47 5h1v1h-1zM37 6h1v1h-1zM37 7h1v1h-1zM37 8h1v1h-1zM36 9h1v1h-1zM38 9h1v1h-1zM41 9h1v1h-1zM52 9h2v1h-2zM35 10h1v1h-1zM44 12h1v1h-1zM56 12h1v1h-1zM74 13h1v1h-1zM31 16h1v1h-1zM36 17h1v1h-1zM44 17h1v1h-1zM53 19h1v1h-1zM38 21h1v1h-1zM49 21h1v1h-1zM49 22h4v1h-4zM41 24h1v1h-1zM54 24h1v1h-1zM54 25h1v1h-1zM46 29h1v1h-1zM52 29h1v1h-1zM55 30h1v1h-1zM64 30h1v1h-1zM58 31h1v1h-1zM76 31h1v1h-1zM57 35h1v1h-1zM57 36h1v1h-1zM71 36h1v1h-1zM81 36h5v1h-5zM46 37h1v1h-1zM57 37h1v1h-1zM72 37h1v1h-1zM47 38h1v1h-1zM48 39h1v1h-1zM54 39h1v1h-1zM42 40h1v1h-1zM51 40h1v1h-1zM34 42h1v1h-1zM58 43h1v1h-1zM71 43h2v1h-2zM44 44h1v1h-1zM67 44h1v1h-1zM66 45h1v1h-1zM52 46h1v1h-1zM51 47h1v1h-1zM57 47h1v1h-1zM64 47h2v1h-2zM44 48h1v1h-1zM36 49h1v1h-1zM50 49h1v1h-1zM37 50h1v1h-1zM63 50h1v1h-1zM32 51h1v1h-1zM65 51h1v1h-1zM75 51h1v1h-1zM33 52h1v1h-1zM65 52h1v1h-1zM47 53h1v1h-1zM38 55h1v1h-1zM52 55h2v1h-2zM55 56h1v1h-1zM55 57h1v1h-1zM57 57h1v1h-1zM75 58h1v1h-1zM42 59h1v1h-1zM53 59h1v1h-1zM58 59h1v1h-1zM33 60h1v1h-1zM51 61h1v1h-1zM48 62h1v1h-1zM39 63h1v1h-1zM47 63h1v1h-1zM58 63h1v1h-1zM7 64h1v1h-1zM40 64h2v1h-2zM6 65h1v1h-1zM10 66h1v1h-1zM18 66h1v1h-1zM5 67h1v1h-1zM22 67h1v1h-1zM0 68h5v1h-5zM22 68h1v1h-1zM5 69h1v1h-1zM21 70h1v1h-1zM60 70h1v1h-1zM62 70h1v1h-1zM65 70h1v1h-1zM12 71h1v1h-1zM15 71h3v1h-3zM57 73h1v1h-1zM81 74h5v1h-5zM65 75h1v1h-1zM15 76h1v1h-1zM7 77h1v1h-1zM14 78h1v1h-1zM41 78h4v1h-4zM27 79h1v1h-1zM35 79h1v1h-1zM54 79h1v1h-1zM13 80h1v1h-1zM9 81h4v1h-4zM38 81h1v1h-1zM9 82h4v1h-4zM38 82h1v1h-1zM9 83h4v1h-4zM38 83h1v1h-1zM9 84h4v1h-4zM38 84h1v1h-1zM9 85h4v1h-4zM38 85h1v1h-1z"/>
<path fill="#10ffef" d="M47 6h1v1h-1zM57 8h1v1h-1zM37 9h1v1h-1zM57 9h1v1h-1zM52 10h1v1h-1zM54 10h1v1h-1zM33 11h1v1h-1zM55 11h1v1h-1zM32 12h1v1h-1zM74 14h1v1h-1zM70 16h1v1h-1zM35 17h1v1h-1zM52 18h1v1h-1zM69 18h1v1h-1zM45 19h1v1h-1zM54 19h1v1h-1zM47 20h1v1h-1zM56 20h1v1h-1zM48 21h1v1h-1zM63 21h1v1h-1zM48 22h1v1h-1zM62 22h1v1h-1zM71 22h1v1h-1zM48 23h3v1h-3zM53 23h1v1h-1zM48 24h2v1h-2zM43 25h1v1h-1zM69 25h1v1h-1zM45 26h1v1h-1zM53 26h1v1h-1zM46 27h1v1h-1zM52 27h1v1h-1zM54 30h1v1h-1zM55 31h1v1h-1zM72 36h1v1h-1zM55 37h1v1h-1zM38 39h1v1h-1zM66 39h1v1h-1zM53 40h1v1h-1zM64 40h1v1h-1zM35 41h1v1h-1zM80 41h1v1h-1zM33 43h1v1h-1zM72 44h1v1h-1zM53 46h1v1h-1zM58 46h1v1h-1zM44 47h1v1h-1zM65 48h1v1h-1zM81 48h5v1h-5zM64 49h1v1h-1zM32 50h1v1h-1zM34 50h1v1h-1zM62 50h1v1h-1zM65 50h1v1h-1zM49 51h1v1h-1zM75 52h1v1h-1zM38 53h1v1h-1zM43 53h1v1h-1zM75 53h1v1h-1zM38 54h1v1h-1zM75 54h1v1h-1zM48 55h1v1h-1zM51 55h1v1h-1zM75 55h1v1h-1zM49 56h1v1h-1zM56 56h1v1h-1zM75 56h1v1h-1zM75 57h1v1h-1zM42 58h1v1h-1zM54 58h1v1h-1zM39 62h1v1h-1zM41 63h1v1h-1zM9 64h1v1h-1zM19 65h1v1h-1zM57 65h1v1h-1zM10 67h1v1h-1zM55 67h1v1h-1zM79 67h1v1h-1zM5 68h1v1h-1zM17 68h1v1h-1zM47 68h1v1h-1zM11 70h1v1h-1zM17 70h2v1h-2zM61 70h1v1h-1zM16 72h1v1h-1zM16 73h1v1h-1zM15 75h1v1h-1zM29 75h1v1h-1zM7 76h1v1h-1zM31 76h1v1h-1zM33 77h1v1h-1zM34 78h1v1h-1zM13 79h1v1h-1zM40 79h1v1h-1zM11 80h2v1h-2zM39 80h1v1h-1z"/>
<path fill="#20ffdf" d="M42 0h1v1h-1zM42 1h1v1h-1zM42 2h1v1h-1zM42 3h1v1h-1zM42 4h1v1h-1zM57 7h1v1h-1zM36 10h1v1h-1zM40 10h1v1h-1zM53 10h1v1h-1zM57 10h1v1h-1zM34 11h1v1h-1zM52 11h1v1h-1zM54 11h1v1h-1zM57 11h1v1h-1zM55 12h1v1h-1zM56 13h1v1h-1zM70 15h1v1h-1zM74 15h1v1h-1zM36 16h1v1h-1zM32 17h1v1h-1zM34 17h1v1h-1zM37 17h1v1h-1zM44 18h1v1h-1zM55 19h2v1h-2zM64 19h1v1h-1zM57 21h1v1h-1zM58 22h1v1h-1zM51 23h2v1h-2zM70 23h1v1h-1zM42 24h1v1h-1zM50 24h1v1h-1zM48 25h2v1h-2zM46 26h1v1h-1zM68 28h1v1h-1zM46 30h1v1h-1zM53 30h1v1h-1zM65 30h1v1h-1zM59 31h1v1h-1zM55 32h1v1h-1zM74 32h1v1h-1zM55 33h1v1h-1zM74 33h1v1h-1zM55 34h1v1h-1zM55 35h1v1h-1zM69 35h1v1h-1zM55 36h1v1h-1zM67 38h1v1h-1zM41 39h1v1h-1zM36 40h1v1h-1zM52 40h1v1h-1zM42 41h1v1h-1zM43 43h1v1h-1zM32 44h1v1h-1zM71 44h1v1h-1zM73 44h1v1h-1zM44 46h1v1h-1zM66 46h1v1h-1zM76 46h1v1h-1zM55 47h1v1h-1zM75 47h1v1h-1zM36 48h1v1h-1zM64 48h1v1h-1zM35 49h1v1h-1zM65 49h1v1h-1zM50 50h1v1h-1zM33 51h1v1h-1zM59 51h1v1h-1zM43 52h1v1h-1zM58 53h1v1h-1zM48 54h1v1h-1zM66 54h1v1h-1zM49 55h2v1h-2zM54 55h1v1h-1zM57 55h1v1h-1zM56 57h1v1h-1zM53 60h1v1h-1zM69 60h1v1h-1zM39 61h1v1h-1zM52 61h1v1h-1zM69 61h1v1h-1zM41 62h1v1h-1zM58 62h1v1h-1zM68 62h1v1h-1zM40 63h1v1h-1zM20 64h2v1h-2zM6 66h1v1h-1zM56 66h1v1h-1zM18 67h1v1h-1zM47 67h1v1h-1zM54 68h1v1h-1zM17 69h1v1h-1zM48 69h1v1h-1zM53 69h1v1h-1zM6 70h1v1h-1zM19 70h1v1h-1zM58 71h1v1h-1zM15 72h1v1h-1zM15 73h1v1h-1zM7 74h1v1h-1zM15 74h1v1h-1zM7 75h1v1h-1zM64 75h1v1h-1zM28 76h1v1h-1zM63 76h1v1h-1zM14 77h1v1h-1zM58 77h1v1h-1zM79 77h1v1h-1zM59 78h1v1h-1zM8 79h1v1h-1zM41 79h4v1h-4zM9 80h2v1h-2zM27 80h1v1h-1zM39 81h1v1h-1zM39 82h1v1h-1zM39 83h1v1h-1zM39 84h1v1h-1zM39 85h1v1h-1z"/>
<path fill="#30ffcf" d="M42 5h1v1h-1zM42 6h1v1h-1zM57 6h1v1h-1zM47 7h1v1h-1zM47 9h1v1h-1zM37 10h3v1h-3zM35 11h1v1h-1zM45 11h1v1h-1zM52 12h1v1h-1zM57 12h1v1h-1zM71 12h1v1h-1zM74 12h1v1h-1zM32 13h1v1h-1zM43 13h1v1h-1zM55 13h1v1h-1zM43 14h1v1h-1zM56 14h1v1h-1zM70 14h1v1h-1zM36 15h1v1h-1zM35 16h1v1h-1zM33 17h1v1h-1zM52 17h1v1h-1zM69 17h1v1h-1zM53 18h2v1h-2zM67 18h2v1h-2zM38 20h1v1h-1zM46 20h1v1h-1zM47 21h1v1h-1zM39 22h1v1h-1zM47 22h1v1h-1zM72 22h1v1h-1zM40 23h1v1h-1zM47 23h1v1h-1zM47 24h1v1h-1zM51 24h1v1h-1zM53 24h1v1h-1zM44 25h1v1h-1zM47 25h1v1h-1zM50 25h1v1h-1zM53 25h1v1h-1zM52 26h1v1h-1zM69 26h1v1h-1zM51 27h1v1h-1zM51 28h1v1h-1zM54 31h1v1h-1zM75 31h1v1h-1zM77 31h1v1h-1zM70 35h3v1h-3zM46 36h1v1h-1zM68 36h1v1h-1zM80 36h1v1h-1zM54 38h1v1h-1zM39 39h1v1h-1zM49 39h1v1h-1zM35 42h1v1h-1zM58 42h1v1h-1zM34 43h1v1h-1zM73 43h1v1h-1zM63 44h1v1h-1zM68 44h3v1h-3zM44 45h1v1h-1zM63 45h1v1h-1zM67 45h1v1h-1zM77 46h1v1h-1zM32 47h1v1h-1zM36 47h1v1h-1zM66 47h1v1h-1zM32 48h1v1h-1zM35 48h1v1h-1zM51 48h1v1h-1zM32 49h1v1h-1zM34 49h1v1h-1zM37 49h1v1h-1zM33 50h1v1h-1zM61 50h1v1h-1zM38 52h1v1h-1zM48 52h1v1h-1zM51 54h3v1h-3zM55 55h1v1h-1zM67 56h1v1h-1zM42 57h1v1h-1zM39 59h1v1h-1zM39 60h1v1h-1zM41 61h1v1h-1zM40 62h1v1h-1zM49 62h1v1h-1zM8 64h1v1h-1zM47 64h1v1h-1zM67 64h1v1h-1zM7 65h1v1h-1zM47 66h1v1h-1zM6 67h1v1h-1zM78 67h1v1h-1zM10 68h1v1h-1zM51 69h2v1h-2zM20 70h1v1h-1zM13 72h2v1h-2zM7 73h1v1h-1zM80 74h1v1h-1zM14 75h1v1h-1zM14 76h1v1h-1zM30 76h1v1h-1zM79 76h1v1h-1zM13 78h1v1h-1zM79 78h1v1h-1zM12 79h1v1h-1zM45 79h2v1h-2zM79 79h1v1h-1zM35 80h1v1h-1zM27 81h1v1h-1zM27 82h1v1h-1zM27 83h1v1h-1zM27 84h1v1h-1zM27 85h1v1h-1z"/>
<path fill="#40ffbf" d="M57 0h1v1h-1zM57 1h1v1h-1zM57 2h1v1h-1zM57 3h1v1h-1zM57 4h1v1h-1zM57 5h1v1h-1zM42 7h1v1h-1zM47 8h1v1h-1zM41 10h1v1h-1zM46 10h1v1h-1zM36 11h1v1h-1zM53 11h1v1h-1zM43 12h1v1h-1zM54 12h1v1h-1zM52 13h1v1h-1zM57 13h1v1h-1zM70 13h1v1h-1zM32 14h1v1h-1zM52 14h1v1h-1zM55 14h1v1h-1zM32 15h1v1h-1zM35 15h1v1h-1zM43 15h1v1h-1zM52 15h1v1h-1zM32 16h1v1h-1zM37 16h1v1h-1zM52 16h1v1h-1zM74 16h1v1h-1zM55 18h2v1h-2zM66 18h1v1h-1zM38 19h1v1h-1zM45 20h1v1h-1zM46 21h1v1h-1zM46 22h1v1h-1zM46 23h1v1h-1zM43 24h1v1h-1zM46 24h1v1h-1zM45 25h2v1h-2zM51 25h1v1h-1zM47 26h1v1h-1zM50 26h2v1h-2zM47 27h1v1h-1zM66 30h1v1h-1zM60 31h1v1h-1zM58 32h1v1h-1zM73 33h1v1h-1zM73 34h3v1h-3zM73 35h1v1h-1zM73 36h1v1h-1zM73 37h1v1h-1zM73 38h1v1h-1zM40 39h1v1h-1zM50 39h2v1h-2zM53 39h1v1h-1zM73 42h1v1h-1zM35 43h1v1h-1zM32 45h1v1h-1zM59 45h1v1h-1zM72 45h1v1h-1zM32 46h1v1h-1zM63 46h1v1h-1zM35 47h1v1h-1zM54 47h1v1h-1zM58 47h1v1h-1zM63 47h1v1h-1zM79 47h1v1h-1zM63 49h1v1h-1zM60 50h1v1h-1zM43 51h1v1h-1zM50 51h1v1h-1zM58 52h1v1h-1zM48 53h1v1h-1zM49 54h2v1h-2zM42 56h1v1h-1zM39 58h1v1h-1zM55 58h1v1h-1zM68 58h1v1h-1zM54 59h1v1h-1zM58 60h1v1h-1zM53 61h1v1h-1zM58 61h1v1h-1zM50 62h2v1h-2zM47 65h1v1h-1zM19 66h1v1h-1zM55 66h1v1h-1zM54 67h1v1h-1zM18 68h1v1h-1zM81 68h5v1h-5zM6 69h1v1h-1zM10 69h1v1h-1zM18 69h1v1h-1zM49 69h2v1h-2zM11 71h1v1h-1zM7 72h1v1h-1zM14 73h1v1h-1zM14 74h1v1h-1zM29 76h1v1h-1zM13 77h1v1h-1zM28 77h1v1h-1zM32 77h1v1h-1zM11 79h1v1h-1zM47 79h1v1h-1zM40 80h1v1h-1zM79 80h1v1h-1z"/>
<path fill="#50ffaf" d="M46 0h1v1h-1zM46 1h1v1h-1zM46 2h1v1h-1zM46 3h1v1h-1zM46 4h1v1h-1zM42 8h1v1h-1zM37 11h2v1h-2zM33 12h3v1h-3zM53 12h1v1h-1zM54 13h1v1h-1zM35 14h2v1h-2zM54 14h1v1h-1zM57 14h1v1h-1zM34 15h1v1h-1zM37 15h1v1h-1zM55 15h2v1h-2zM34 16h1v1h-1zM43 16h1v1h-1zM69 16h1v1h-1zM53 17h1v1h-1zM74 17h1v1h-1zM65 18h1v1h-1zM74 18h1v1h-1zM44 19h1v1h-1zM74 19h1v1h-1zM57 20h1v1h-1zM74 20h1v1h-1zM59 22h1v1h-1zM41 23h1v1h-1zM52 24h1v1h-1zM52 25h1v1h-1zM48 26h2v1h-2zM69 27h1v1h-1zM47 28h1v1h-1zM51 29h1v1h-1zM68 29h1v1h-1zM52 30h1v1h-1zM46 31h1v1h-1zM71 34h2v1h-2zM76 34h1v1h-1zM46 35h1v1h-1zM47 37h1v1h-1zM48 38h1v1h-1zM52 39h1v1h-1zM73 39h1v1h-1zM37 40h1v1h-1zM73 40h1v1h-1zM36 41h1v1h-1zM73 41h1v1h-1zM36 42h1v1h-1zM63 43h1v1h-1zM33 44h2v1h-2zM59 44h1v1h-1zM71 45h1v1h-1zM73 45h1v1h-1zM35 46h2v1h-2zM67 46h1v1h-1zM75 46h1v1h-1zM34 47h1v1h-1zM52 47h1v1h-1zM34 48h1v1h-1zM37 48h1v1h-1zM56 48h2v1h-2zM63 48h1v1h-1zM66 48h1v1h-1zM33 49h1v1h-1zM51 49h1v1h-1zM38 51h1v1h-1zM49 52h1v1h-1zM52 53h1v1h-1zM54 54h1v1h-1zM56 55h1v1h-1zM39 57h1v1h-1zM57 58h1v1h-1zM41 60h1v1h-1zM40 61h1v1h-1zM52 62h1v1h-1zM48 63h1v1h-1zM57 64h1v1h-1zM9 65h1v1h-1zM21 65h1v1h-1zM7 66h1v1h-1zM75 66h1v1h-1zM77 67h1v1h-1zM6 68h1v1h-1zM48 68h1v1h-1zM7 71h1v1h-1zM12 72h1v1h-1zM81 73h5v1h-5zM13 76h1v1h-1zM58 76h1v1h-1zM31 77h1v1h-1zM8 78h1v1h-1zM12 78h1v1h-1zM9 79h2v1h-2zM34 79h1v1h-1zM48 79h2v1h-2zM53 79h1v1h-1zM41 80h4v1h-4zM54 80h1v1h-1zM35 81h1v1h-1zM40 81h1v1h-1zM79 81h1v1h-1zM35 82h1v1h-1zM40 82h1v1h-1zM79 82h1v1h-1zM35 83h1v1h-1zM40 83h1v1h-1zM79 83h1v1h-1zM35 84h1v1h-1zM40 84h1v1h-1zM79 84h1v1h-1zM35 85h1v1h-1zM40 85h1v1h-1zM79 85h1v1h-1z"/>
<path fill="#60ff9f" d="M46 5h1v1h-1zM42 9h1v1h-1zM42 10h1v1h-1zM39 11h1v1h-1zM42 11h3v1h-3zM36 12h1v1h-1zM34 13h3v1h-3zM53 13h1v1h-1zM75 13h1v1h-1zM33 14h2v1h-2zM37 14h1v1h-1zM53 14h1v1h-1zM33 15h1v1h-1zM53 15h2v1h-2zM33 16h1v1h-1zM54 16h3v1h-3zM43 17h1v1h-1zM54 17h3v1h-3zM68 17h1v1h-1zM38 18h1v1h-1zM57 19h1v1h-1zM63 20h1v1h-1zM45 21h1v1h-1zM45 22h1v1h-1zM42 23h2v1h-2zM45 23h1v1h-1zM44 24h2v1h-2zM70 24h1v1h-1zM50 27h1v1h-1zM67 30h1v1h-1zM76 30h1v1h-1zM53 31h1v1h-1zM74 31h1v1h-1zM54 32h1v1h-1zM73 32h1v1h-1zM58 33h1v1h-1zM78 33h1v1h-1zM46 34h1v1h-1zM70 34h1v1h-1zM77 34h1v1h-1zM54 37h1v1h-1zM65 39h1v1h-1zM42 42h1v1h-1zM63 42h1v1h-1zM36 43h1v1h-1zM35 44h2v1h-2zM43 44h1v1h-1zM34 45h3v1h-3zM68 45h1v1h-1zM70 45h1v1h-1zM74 45h1v1h-1zM33 46h2v1h-2zM59 46h1v1h-1zM33 47h1v1h-1zM37 47h1v1h-1zM53 47h1v1h-1zM33 48h1v1h-1zM66 49h1v1h-1zM43 50h1v1h-1zM51 50h1v1h-1zM59 50h1v1h-1zM51 51h1v1h-1zM58 51h1v1h-1zM50 52h1v1h-1zM49 53h3v1h-3zM53 53h1v1h-1zM66 53h1v1h-1zM57 54h1v1h-1zM42 55h1v1h-1zM39 56h1v1h-1zM41 59h1v1h-1zM69 59h1v1h-1zM40 60h1v1h-1zM74 64h1v1h-1zM8 65h1v1h-1zM20 65h1v1h-1zM56 65h1v1h-1zM67 65h1v1h-1zM9 66h1v1h-1zM21 66h1v1h-1zM67 66h1v1h-1zM19 67h1v1h-1zM67 67h1v1h-1zM53 68h1v1h-1zM67 68h1v1h-1zM80 68h1v1h-1zM10 70h1v1h-1zM13 73h1v1h-1zM13 74h1v1h-1zM13 75h1v1h-1zM79 75h1v1h-1zM30 77h1v1h-1zM62 77h1v1h-1zM67 77h1v1h-1zM11 78h1v1h-1zM28 78h1v1h-1zM33 78h1v1h-1zM61 78h1v1h-1zM67 78h1v1h-1zM50 79h1v1h-1zM67 79h1v1h-1zM45 80h1v1h-1zM67 80h1v1h-1zM67 81h1v1h-1zM67 82h1v1h-1zM67 83h1v1h-1zM67 84h1v1h-1zM67 85h1v1h-1z"/>
<path fill="#70ff8f" d="M43 0h1v1h-1zM43 1h1v1h-1zM43 2h1v1h-1zM43 3h1v1h-1zM43 4h1v1h-1zM40 11h2v1h-2zM37 12h1v1h-1zM42 12h1v1h-1zM33 13h1v1h-1zM37 13h1v1h-1zM57 15h1v1h-1zM69 15h1v1h-1zM53 16h1v1h-1zM57 18h1v1h-1zM44 20h1v1h-1zM44 22h1v1h-1zM61 22h1v1h-1zM44 23h1v1h-1zM71 23h1v1h-1zM48 27h1v1h-1zM50 28h1v1h-1zM69 28h1v1h-1zM47 29h1v1h-1zM75 30h1v1h-1zM61 31h1v1h-1zM46 32h1v1h-1zM78 32h1v1h-1zM46 33h1v1h-1zM54 33h1v1h-1zM72 33h1v1h-1zM54 34h1v1h-1zM69 34h1v1h-1zM54 35h1v1h-1zM68 35h1v1h-1zM74 35h1v1h-1zM54 36h1v1h-1zM49 38h1v1h-1zM53 38h1v1h-1zM38 40h1v1h-1zM41 40h1v1h-1zM58 41h1v1h-1zM63 41h1v1h-1zM74 44h1v1h-1zM33 45h1v1h-1zM62 45h1v1h-1zM69 45h1v1h-1zM37 46h1v1h-1zM74 46h1v1h-1zM67 47h1v1h-1zM55 48h1v1h-1zM43 49h1v1h-1zM62 49h1v1h-1zM58 50h1v1h-1zM66 50h1v1h-1zM66 51h1v1h-1zM51 52h2v1h-2zM42 54h1v1h-1zM55 54h1v1h-1zM39 55h1v1h-1zM67 55h1v1h-1zM56 58h1v1h-1zM54 60h1v1h-1zM53 62h1v1h-1zM49 63h1v1h-1zM74 63h1v1h-1zM54 66h1v1h-1zM7 67h1v1h-1zM48 67h1v1h-1zM19 69h1v1h-1zM21 69h1v1h-1zM81 69h5v1h-5zM7 70h1v1h-1zM66 70h1v1h-1zM81 70h5v1h-5zM81 71h5v1h-5zM81 72h5v1h-5zM80 73h1v1h-1zM58 75h1v1h-1zM66 75h1v1h-1zM12 77h1v1h-1zM29 77h1v1h-1zM10 78h1v1h-1zM60 78h1v1h-1zM51 79h1v1h-1zM41 81h4v1h-4zM41 82h4v1h-4zM41 83h4v1h-4zM41 84h4v1h-4zM41 85h4v1h-4z"/>
<path fill="#80ff80" d="M43 5h1v1h-1zM46 6h1v1h-1zM43 10h1v1h-1zM38 12h1v1h-1zM75 12h1v1h-1zM42 13h1v1h-1zM57 16h1v1h-1zM38 17h1v1h-1zM57 17h1v1h-1zM67 17h1v1h-1zM43 18h1v1h-1zM64 18h1v1h-1zM39 21h1v1h-1zM44 21h1v1h-1zM58 21h1v1h-1zM74 21h1v1h-1zM73 22h1v1h-1zM70 25h1v1h-1zM49 27h1v1h-1zM69 29h1v1h-1zM77 30h1v1h-1zM73 31h1v1h-1zM72 32h1v1h-1zM71 33h1v1h-1zM58 34h1v1h-1zM81 35h5v1h-5zM47 36h1v1h-1zM79 37h1v1h-1zM50 38h2v1h-2zM79 38h1v1h-1zM79 39h1v1h-1zM79 40h1v1h-1zM37 41h1v1h-1zM37 42h1v1h-1zM81 42h5v1h-5zM37 43h1v1h-1zM37 45h1v1h-1zM43 45h1v1h-1zM75 45h1v1h-1zM43 46h1v1h-1zM62 46h1v1h-1zM68 46h1v1h-1zM43 47h1v1h-1zM59 47h1v1h-1zM62 47h1v1h-1zM43 48h1v1h-1zM58 48h1v1h-1zM67 48h1v1h-1zM56 49h2v1h-2zM38 50h1v1h-1zM52 51h1v1h-1zM53 52h1v1h-1zM66 52h1v1h-1zM54 53h1v1h-1zM39 54h1v1h-1zM56 54h1v1h-1zM68 57h1v1h-1zM41 58h1v1h-1zM40 59h1v1h-1zM55 59h1v1h-1zM69 62h1v1h-1zM50 63h2v1h-2zM57 63h1v1h-1zM68 63h1v1h-1zM55 65h1v1h-1zM74 65h1v1h-1zM8 66h1v1h-1zM20 66h1v1h-1zM9 67h1v1h-1zM21 67h1v1h-1zM53 67h1v1h-1zM76 67h1v1h-1zM7 68h1v1h-1zM19 68h1v1h-1zM49 68h4v1h-4zM7 69h1v1h-1zM67 69h1v1h-1zM10 71h1v1h-1zM59 71h1v1h-1zM11 72h1v1h-1zM58 72h1v1h-1zM12 73h1v1h-1zM12 74h1v1h-1zM79 74h1v1h-1zM12 75h1v1h-1zM12 76h1v1h-1zM67 76h1v1h-1zM8 77h1v1h-1zM11 77h1v1h-1zM28 79h1v1h-1zM52 79h1v1h-1zM46 80h1v1h-1zM45 81h1v1h-1zM54 81h1v1h-1zM45 82h1v1h-1zM54 82h1v1h-1zM45 83h1v1h-1zM54 83h1v1h-1zM45 84h1v1h-1zM54 84h1v1h-1zM45 85h1v1h-1zM54 85h1v1h-1z"/>
<path fill="#8fff70" d="M43 6h1v1h-1zM46 7h1v1h-1zM46 9h1v1h-1zM45 10h1v1h-1zM73 11h1v1h-1zM58 12h1v1h-1zM70 12h1v1h-1zM38 13h1v1h-1zM58 13h1v1h-1zM38 14h1v1h-1zM42 14h1v1h-1zM69 14h1v1h-1zM75 14h1v1h-1zM38 15h1v1h-1zM38 16h1v1h-1zM68 16h1v1h-1zM66 17h1v1h-1zM63 19h1v1h-1zM40 22h1v1h-1zM43 22h1v1h-1zM60 22h1v1h-1zM70 26h1v1h-1zM70 27h1v1h-1zM70 28h1v1h-1zM50 29h1v1h-1zM47 30h1v1h-1zM51 30h1v1h-1zM68 30h1v1h-1zM74 30h1v1h-1zM52 31h1v1h-1zM59 32h1v1h-1zM78 34h1v1h-1zM58 35h1v1h-1zM80 35h1v1h-1zM79 36h1v1h-1zM67 37h1v1h-1zM52 38h1v1h-1zM39 40h1v1h-1zM58 40h1v1h-1zM42 43h1v1h-1zM74 43h1v1h-1zM37 44h1v1h-1zM62 44h1v1h-1zM76 45h1v1h-1zM78 46h1v1h-1zM74 47h1v1h-1zM80 47h1v1h-1zM52 48h1v1h-1zM54 48h1v1h-1zM62 48h1v1h-1zM58 49h1v1h-1zM61 49h1v1h-1zM57 50h1v1h-1zM39 53h1v1h-1zM42 53h1v1h-1zM57 53h1v1h-1zM40 58h1v1h-1zM57 59h1v1h-1zM54 61h1v1h-1zM74 62h1v1h-1zM52 63h1v1h-1zM48 64h1v1h-1zM56 64h1v1h-1zM48 66h1v1h-1zM21 68h1v1h-1zM79 68h1v1h-1zM20 69h1v1h-1zM80 69h1v1h-1zM80 70h1v1h-1zM80 71h1v1h-1zM80 72h1v1h-1zM58 74h1v1h-1zM9 78h1v1h-1zM29 78h4v1h-4zM47 80h1v1h-1z"/>
<path fill="#9fff60" d="M43 7h1v1h-1zM58 11h1v1h-1zM72 11h1v1h-1zM39 12h1v1h-1zM41 12h1v1h-1zM69 13h1v1h-1zM58 14h1v1h-1zM42 15h1v1h-1zM43 19h1v1h-1zM39 20h1v1h-1zM62 21h1v1h-1zM42 22h1v1h-1zM48 28h1v1h-1zM70 29h1v1h-1zM69 30h2v1h-2zM62 31h1v1h-1zM71 31h2v1h-2zM78 31h1v1h-1zM53 32h1v1h-1zM71 32h1v1h-1zM70 33h1v1h-1zM75 35h1v1h-1zM74 36h1v1h-1zM48 37h1v1h-1zM53 37h1v1h-1zM58 38h1v1h-1zM66 38h1v1h-1zM58 39h1v1h-1zM40 40h1v1h-1zM38 41h1v1h-1zM59 43h1v1h-1zM69 46h2v1h-2zM73 46h1v1h-1zM68 47h1v1h-1zM59 48h1v1h-1zM74 48h1v1h-1zM38 49h1v1h-1zM55 49h1v1h-1zM59 49h2v1h-2zM67 49h1v1h-1zM52 50h1v1h-1zM55 50h2v1h-2zM53 51h2v1h-2zM57 51h1v1h-1zM54 52h1v1h-1zM57 52h1v1h-1zM55 53h1v1h-1zM41 57h1v1h-1zM70 60h1v1h-1zM70 61h1v1h-1zM74 61h1v1h-1zM54 62h1v1h-1zM53 63h2v1h-2zM55 64h1v1h-1zM48 65h1v1h-1zM54 65h1v1h-1zM53 66h1v1h-1zM8 67h1v1h-1zM20 67h1v1h-1zM49 67h4v1h-4zM9 68h1v1h-1zM10 72h1v1h-1zM11 73h1v1h-1zM8 74h1v1h-1zM11 74h1v1h-1zM8 75h1v1h-1zM11 75h1v1h-1zM8 76h1v1h-1zM11 76h1v1h-1zM10 77h1v1h-1zM59 77h1v1h-1zM78 77h1v1h-1zM28 80h1v1h-1zM34 80h1v1h-1zM46 81h1v1h-1zM46 82h1v1h-1zM46 83h1v1h-1zM46 84h1v1h-1zM46 85h1v1h-1z"/>
<path fill="#afff50" d="M45 0h1v1h-1zM58 0h1v1h-1zM45 1h1v1h-1zM58 1h1v1h-1zM45 2h1v1h-1zM58 2h1v1h-1zM45 3h1v1h-1zM58 3h1v1h-1zM45 4h1v1h-1zM58 4h1v1h-1zM58 5h1v1h-1zM43 8h1v1h-1zM46 8h1v1h-1zM43 9h1v1h-1zM58 9h1v1h-1zM44 10h1v1h-1zM58 10h1v1h-1zM40 12h1v1h-1zM58 15h1v1h-1zM68 15h1v1h-1zM75 15h1v1h-1zM42 16h1v1h-1zM67 16h1v1h-1zM65 17h1v1h-1zM39 19h1v1h-1zM43 21h1v1h-1zM41 22h1v1h-1zM49 28h1v1h-1zM71 29h1v1h-1zM71 30h3v1h-3zM69 31h2v1h-2zM70 32h1v1h-1zM69 33h1v1h-1zM68 34h1v1h-1zM47 35h1v1h-1zM79 35h1v1h-1zM58 36h1v1h-1zM58 37h1v1h-1zM41 41h1v1h-1zM79 41h1v1h-1zM38 42h1v1h-1zM74 42h1v1h-1zM80 42h1v1h-1zM38 43h1v1h-1zM75 44h1v1h-1zM60 45h1v1h-1zM71 46h2v1h-2zM53 48h1v1h-1zM52 49h1v1h-1zM54 49h1v1h-1zM74 49h1v1h-1zM53 50h2v1h-2zM55 51h2v1h-2zM39 52h1v1h-1zM42 52h1v1h-1zM55 52h1v1h-1zM67 54h1v1h-1zM40 57h1v1h-1zM69 58h1v1h-1zM74 60h1v1h-1zM55 63h1v1h-1zM54 64h1v1h-1zM9 69h1v1h-1zM8 71h1v1h-1zM64 71h1v1h-1zM8 72h1v1h-1zM8 73h1v1h-1zM58 73h1v1h-1zM79 73h1v1h-1zM63 75h1v1h-1zM78 76h1v1h-1zM33 79h1v1h-1zM48 80h1v1h-1zM28 81h1v1h-1zM28 82h1v1h-1zM28 83h1v1h-1zM28 84h1v1h-1zM28 85h1v1h-1z"/>
<path fill="#bfff40" d="M44 0h1v1h-1zM44 1h1v1h-1zM44 2h1v1h-1zM44 3h1v1h-1zM44 4h1v1h-1zM45 5h1v1h-1zM58 6h1v1h-1zM58 7h1v1h-1zM58 8h1v1h-1zM74 11h1v1h-1zM39 13h1v1h-1zM39 14h1v1h-1zM58 16h1v1h-1zM58 17h1v1h-1zM39 18h1v1h-1zM58 18h1v1h-1zM58 19h1v1h-1zM43 20h1v1h-1zM58 20h1v1h-1zM72 23h1v1h-1zM71 28h1v1h-1zM75 29h2v1h-2zM47 31h1v1h-1zM63 31h1v1h-1zM68 31h1v1h-1zM53 33h1v1h-1zM53 34h1v1h-1zM79 34h1v1h-1zM53 35h1v1h-1zM78 35h1v1h-1zM53 36h1v1h-1zM49 37h3v1h-3zM74 37h1v1h-1zM64 39h1v1h-1zM63 40h1v1h-1zM39 41h1v1h-1zM62 43h1v1h-1zM38 44h1v1h-1zM42 44h1v1h-1zM38 45h1v1h-1zM61 45h1v1h-1zM38 46h1v1h-1zM60 46h2v1h-2zM38 47h1v1h-1zM60 47h2v1h-2zM69 47h1v1h-1zM81 47h5v1h-5zM38 48h1v1h-1zM68 48h1v1h-1zM67 50h1v1h-1zM42 51h1v1h-1zM56 53h1v1h-1zM40 56h2v1h-2zM68 56h1v1h-1zM56 59h1v1h-1zM55 60h1v1h-1zM55 62h1v1h-1zM57 62h1v1h-1zM56 63h1v1h-1zM49 64h3v1h-3zM53 64h1v1h-1zM53 65h1v1h-1zM49 66h4v1h-4zM74 66h1v1h-1zM75 67h1v1h-1zM8 68h1v1h-1zM20 68h1v1h-1zM78 68h1v1h-1zM8 69h1v1h-1zM79 69h1v1h-1zM8 70h2v1h-2zM79 70h1v1h-1zM9 71h1v1h-1zM65 71h1v1h-1zM79 71h1v1h-1zM79 72h1v1h-1zM10 73h1v1h-1zM10 74h1v1h-1zM65 74h1v1h-1zM10 75h1v1h-1zM78 75h1v1h-1zM10 76h1v1h-1zM9 77h1v1h-1zM78 78h1v1h-1zM29 79h2v1h-2zM49 80h1v1h-1zM34 81h1v1h-1zM47 81h1v1h-1zM34 82h1v1h-1zM47 82h1v1h-1zM34 83h1v1h-1zM47 83h1v1h-1zM34 84h1v1h-1zM47 84h1v1h-1zM34 85h1v1h-1zM47 85h1v1h-1z"/>
<path fill="#cfff30" d="M44 5h1v1h-1zM71 11h1v1h-1zM76 12h1v1h-1zM41 13h1v1h-1zM76 13h1v1h-1zM68 14h1v1h-1zM39 15h1v1h-1zM66 16h1v1h-1zM75 16h1v1h-1zM39 17h1v1h-1zM42 17h1v1h-1zM64 17h1v1h-1zM63 18h1v1h-1zM48 29h1v1h-1zM72 29h3v1h-3zM67 31h1v1h-1zM69 32h1v1h-1zM59 33h1v1h-1zM47 34h1v1h-1zM76 35h1v1h-1zM67 36h1v1h-1zM52 37h1v1h-1zM74 38h1v1h-1zM39 42h1v1h-1zM41 42h1v1h-1zM60 44h1v1h-1zM77 45h1v1h-1zM60 48h2v1h-2zM53 49h1v1h-1zM74 50h1v1h-1zM39 51h1v1h-1zM56 52h1v1h-1zM41 55h1v1h-1zM74 59h1v1h-1zM55 61h1v1h-1zM70 62h1v1h-1zM52 64h1v1h-1zM49 65h4v1h-4zM67 70h1v1h-1zM60 71h1v1h-1zM63 71h1v1h-1zM9 72h1v1h-1zM9 73h1v1h-1zM9 74h1v1h-1zM9 75h1v1h-1zM67 75h1v1h-1zM9 76h1v1h-1zM31 79h1v1h-1zM78 79h1v1h-1zM53 80h1v1h-1zM48 81h1v1h-1zM48 82h1v1h-1zM48 83h1v1h-1zM48 84h1v1h-1zM48 85h1v1h-1z"/>
<path fill="#dfff20" d="M45 6h1v1h-1zM75 11h1v1h-1zM69 12h1v1h-1zM40 13h1v1h-1zM59 13h1v1h-1zM67 15h1v1h-1zM39 16h1v1h-1zM42 18h1v1h-1zM42 21h1v1h-1zM59 21h1v1h-1zM74 22h1v1h-1zM71 24h1v1h-1zM71 27h1v1h-1zM49 29h1v1h-1zM77 29h1v1h-1zM50 30h1v1h-1zM78 30h1v1h-1zM51 31h1v1h-1zM52 32h1v1h-1zM60 32h1v1h-1zM79 33h1v1h-1zM77 35h1v1h-1zM48 36h1v1h-1zM74 39h1v1h-1zM40 41h1v1h-1zM74 41h1v1h-1zM59 42h1v1h-1zM42 45h1v1h-1zM70 47h1v1h-1zM68 49h1v1h-1zM42 50h1v1h-1zM67 51h1v1h-1zM74 51h1v1h-1zM40 55h1v1h-1zM74 58h1v1h-1zM70 59h1v1h-1zM57 60h1v1h-1zM69 63h1v1h-1zM68 64h1v1h-1zM62 71h1v1h-1zM64 74h1v1h-1zM78 74h1v1h-1zM62 76h1v1h-1zM32 79h1v1h-1zM29 80h1v1h-1zM50 80h1v1h-1zM78 80h1v1h-1z"/>
<path fill="#efff10" d="M44 6h1v1h-1zM81 9h5v1h-5zM59 12h1v1h-1zM68 13h1v1h-1zM41 14h1v1h-1zM59 14h1v1h-1zM59 15h1v1h-1zM65 16h1v1h-1zM75 17h1v1h-1zM75 18h1v1h-1zM42 19h1v1h-1zM75 19h1v1h-1zM62 20h1v1h-1zM75 20h1v1h-1zM40 21h1v1h-1zM71 26h1v1h-1zM72 28h1v1h-1zM64 31h1v1h-1zM66 31h1v1h-1zM47 32h1v1h-1zM68 33h1v1h-1zM80 34h1v1h-1zM52 35h1v1h-1zM51 36h2v1h-2zM78 36h1v1h-1zM74 40h1v1h-1zM39 43h1v1h-1zM75 43h1v1h-1zM61 44h1v1h-1zM76 44h1v1h-1zM42 46h1v1h-1zM79 46h1v1h-1zM73 47h1v1h-1zM69 48h1v1h-1zM39 50h1v1h-1zM67 53h1v1h-1zM40 54h2v1h-2zM69 57h1v1h-1zM57 61h1v1h-1zM56 62h1v1h-1zM77 68h1v1h-1zM66 71h1v1h-1zM66 74h1v1h-1zM51 80h1v1h-1zM29 81h1v1h-1zM49 81h1v1h-1zM78 81h1v1h-1zM29 82h1v1h-1zM49 82h1v1h-1zM78 82h1v1h-1zM29 83h1v1h-1zM49 83h1v1h-1zM78 83h1v1h-1zM29 84h1v1h-1zM49 84h1v1h-1zM78 84h1v1h-1zM29 85h1v1h-1zM49 85h1v1h-1zM78 85h1v1h-1z"/>
<path fill="#ffff00" d="M44 7h2v1h-2zM81 8h5v1h-5zM44 9h2v1h-2zM80 9h1v1h-1zM70 11h1v1h-1zM76 11h1v1h-1zM77 12h1v1h-1zM40 14h1v1h-1zM67 14h1v1h-1zM76 14h1v1h-1zM41 15h1v1h-1zM66 15h1v1h-1zM59 16h1v1h-1zM63 17h1v1h-1zM62 19h1v1h-1zM42 20h1v1h-1zM71 25h1v1h-1zM73 28h4v1h-4zM65 31h1v1h-1zM68 32h1v1h-1zM79 32h1v1h-1zM47 33h1v1h-1zM52 33h1v1h-1zM52 34h1v1h-1zM59 34h1v1h-1zM67 35h1v1h-1zM49 36h2v1h-2zM75 36h1v1h-1zM40 42h1v1h-1zM62 42h1v1h-1zM79 42h1v1h-1zM41 43h1v1h-1zM39 44h1v1h-1zM42 47h1v1h-1zM71 47h1v1h-1zM42 48h1v1h-1zM42 49h1v1h-1zM67 52h1v1h-1zM74 52h1v1h-1zM74 53h1v1h-1zM74 54h1v1h-1zM68 55h1v1h-1zM74 55h1v1h-1zM74 56h1v1h-1zM74 57h1v1h-1zM74 67h1v1h-1zM78 69h1v1h-1zM78 70h1v1h-1zM61 71h1v1h-1zM78 71h1v1h-1zM78 72h1v1h-1zM78 73h1v1h-1zM59 76h1v1h-1zM30 80h1v1h-1zM33 80h1v1h-1z"/>
<path fill="#ffef00" d="M80 8h1v1h-1zM81 10h5v1h-5zM59 11h1v1h-1zM77 13h1v1h-1zM40 15h1v1h-1zM64 16h1v1h-1zM59 17h1v1h-1zM59 18h1v1h-1zM62 18h1v1h-1zM41 21h1v1h-1zM75 21h1v1h-1zM73 23h1v1h-1zM48 30h1v1h-1zM81 34h5v1h-5zM48 35h1v1h-1zM51 35h1v1h-1zM78 37h1v1h-1zM65 38h1v1h-1zM39 45h1v1h-1zM39 46h1v1h-1zM68 50h1v1h-1zM40 53h2v1h-2zM56 60h1v1h-1zM71 61h1v1h-1zM70 63h1v1h-1zM73 64h1v1h-1zM68 65h1v1h-1zM73 65h1v1h-1zM68 66h1v1h-1zM68 67h1v1h-1zM68 68h1v1h-1zM76 68h1v1h-1zM68 69h1v1h-1zM68 76h1v1h-1zM68 77h1v1h-1zM68 78h1v1h-1zM68 79h1v1h-1zM31 80h1v1h-1zM52 80h1v1h-1zM68 80h1v1h-1zM30 81h1v1h-1zM50 81h1v1h-1zM53 81h1v1h-1zM68 81h1v1h-1zM30 82h1v1h-1zM50 82h1v1h-1zM53 82h1v1h-1zM68 82h1v1h-1zM30 83h1v1h-1zM50 83h1v1h-1zM53 83h1v1h-1zM68 83h1v1h-1zM30 84h1v1h-1zM50 84h1v1h-1zM53 84h1v1h-1zM68 84h1v1h-1zM30 85h1v1h-1zM50 85h1v1h-1zM53 85h1v1h-1zM68 85h1v1h-1z"/>
<path fill="#ffdf00" d="M44 8h2v1h-2zM79 9h1v1h-1zM78 10h3v1h-3zM77 11h3v1h-3zM68 12h1v1h-1zM78 12h1v1h-1zM41 16h1v1h-1zM63 16h1v1h-1zM59 19h1v1h-1zM40 20h1v1h-1zM59 20h1v1h-1zM72 27h1v1h-1zM77 28h1v1h-1zM78 29h1v1h-1zM49 30h1v1h-1zM50 31h1v1h-1zM79 31h1v1h-1zM51 32h1v1h-1zM61 32h1v1h-1zM51 34h1v1h-1zM50 35h1v1h-1zM66 37h1v1h-1zM78 38h1v1h-1zM59 41h1v1h-1zM40 43h1v1h-1zM41 44h1v1h-1zM39 47h1v1h-1zM72 47h1v1h-1zM39 48h1v1h-1zM70 48h1v1h-1zM39 49h1v1h-1zM69 49h1v1h-1zM70 58h1v1h-1zM71 60h1v1h-1zM56 61h1v1h-1zM67 71h1v1h-1zM59 72h1v1h-1zM67 74h1v1h-1zM59 75h1v1h-1zM77 76h1v1h-1zM61 77h1v1h-1z"/>
<path fill="#ffcf00" d="M59 0h1v1h-1zM59 1h1v1h-1zM59 2h1v1h-1zM59 3h1v1h-1zM59 4h1v1h-1zM59 5h1v1h-1zM79 8h1v1h-1zM78 9h1v1h-1zM59 10h1v1h-1zM76 10h2v1h-2zM69 11h1v1h-1zM80 11h6v1h-6zM79 12h1v1h-1zM60 13h1v1h-1zM67 13h1v1h-1zM78 13h1v1h-1zM66 14h1v1h-1zM65 15h1v1h-1zM40 16h1v1h-1zM40 17h2v1h-2zM62 17h1v1h-1zM40 18h2v1h-2zM40 19h1v1h-1zM61 21h1v1h-1zM51 33h1v1h-1zM67 34h1v1h-1zM49 35h1v1h-1zM59 35h1v1h-1zM75 37h1v1h-1zM78 39h1v1h-1zM62 41h1v1h-1zM75 42h1v1h-1zM60 43h1v1h-1zM40 44h1v1h-1zM77 44h1v1h-1zM78 45h1v1h-1zM40 52h2v1h-2zM69 56h1v1h-1zM71 62h1v1h-1zM73 63h1v1h-1zM69 64h1v1h-1zM73 66h1v1h-1zM75 68h1v1h-1zM68 70h1v1h-1zM77 74h1v1h-1zM68 75h1v1h-1zM77 75h1v1h-1zM60 77h1v1h-1zM77 77h1v1h-1zM32 80h1v1h-1zM31 81h1v1h-1zM33 81h1v1h-1zM51 81h1v1h-1zM31 82h1v1h-1zM33 82h1v1h-1zM51 82h1v1h-1zM31 83h1v1h-1zM33 83h1v1h-1zM51 83h1v1h-1zM31 84h1v1h-1zM33 84h1v1h-1zM51 84h1v1h-1zM31 85h1v1h-1zM33 85h1v1h-1zM51 85h1v1h-1z"/>
<path fill="#ffbf00" d="M59 6h1v1h-1zM81 7h5v1h-5zM77 9h1v1h-1zM73 10h3v1h-3zM80 12h1v1h-1zM60 14h1v1h-1zM60 15h1v1h-1zM64 15h1v1h-1zM76 15h1v1h-1zM60 16h1v1h-1zM62 16h1v1h-1zM41 19h1v1h-1zM41 20h1v1h-1zM60 21h1v1h-1zM75 22h1v1h-1zM74 23h1v1h-1zM73 27h4v1h-4zM79 30h1v1h-1zM48 31h1v1h-1zM67 32h1v1h-1zM48 34h1v1h-1zM50 34h1v1h-1zM63 39h1v1h-1zM78 40h1v1h-1zM61 43h1v1h-1zM41 45h1v1h-1zM80 46h1v1h-1zM68 54h1v1h-1zM71 63h1v1h-1zM70 64h1v1h-1zM73 67h1v1h-1zM74 68h1v1h-1zM77 69h1v1h-1zM77 70h1v1h-1zM77 71h1v1h-1zM77 72h1v1h-1zM77 73h1v1h-1zM59 74h1v1h-1zM63 74h1v1h-1zM62 75h1v1h-1z"/>
<path fill="#ffaf00" d="M59 7h1v1h-1zM80 7h1v1h-1zM78 8h1v1h-1zM72 10h1v1h-1zM68 11h1v1h-1zM60 12h1v1h-1zM67 12h1v1h-1zM81 12h5v1h-5zM79 13h1v1h-1zM77 14h1v1h-1zM62 15h2v1h-2zM61 16h1v1h-1zM60 17h1v1h-1zM72 24h1v1h-1zM72 26h1v1h-1zM77 27h1v1h-1zM78 28h1v1h-1zM60 33h1v1h-1zM59 36h1v1h-1zM75 38h1v1h-1zM59 39h1v1h-1zM59 40h1v1h-1zM78 41h1v1h-1zM76 43h1v1h-1zM80 43h6v1h-6zM40 45h1v1h-1zM71 48h1v1h-1zM73 48h1v1h-1zM40 51h2v1h-2zM68 51h1v1h-1zM73 62h1v1h-1zM71 64h1v1h-1zM73 68h1v1h-1zM68 71h1v1h-1zM68 74h1v1h-1zM77 78h1v1h-1zM32 81h1v1h-1zM52 81h1v1h-1zM32 82h1v1h-1zM52 82h1v1h-1zM32 83h1v1h-1zM52 83h1v1h-1zM32 84h1v1h-1zM52 84h1v1h-1zM32 85h1v1h-1zM52 85h1v1h-1z"/>
<path fill="#ff9f00" d="M59 8h1v1h-1zM59 9h1v1h-1zM71 10h1v1h-1zM66 13h1v1h-1zM80 13h1v1h-1zM61 14h1v1h-1zM65 14h1v1h-1zM78 14h1v1h-1zM61 15h1v1h-1zM61 17h1v1h-1zM60 18h2v1h-2zM81 21h5v1h-5zM81 22h5v1h-5zM81 23h5v1h-5zM81 24h5v1h-5zM49 31h1v1h-1zM50 32h1v1h-1zM62 32h1v1h-1zM67 33h1v1h-1zM80 33h1v1h-1zM76 36h2v1h-2zM59 38h1v1h-1zM75 39h1v1h-1zM78 42h1v1h-1zM79 43h1v1h-1zM40 46h2v1h-2zM70 49h1v1h-1zM69 50h1v1h-1zM70 57h1v1h-1zM71 59h1v1h-1zM73 61h1v1h-1zM72 64h1v1h-1zM69 65h4v1h-4zM69 66h4v1h-4zM69 67h4v1h-4zM69 68h4v1h-4zM69 69h8v1h-8zM69 70h8v1h-8zM69 71h8v1h-8zM68 72h9v1h-9zM59 73h1v1h-1zM68 73h9v1h-9zM69 74h8v1h-8zM69 75h8v1h-8zM69 76h8v1h-8zM69 77h6v1h-6zM69 78h5v1h-5zM69 79h4v1h-4zM77 79h1v1h-1zM69 80h4v1h-4zM69 81h4v1h-4zM69 82h4v1h-4zM69 83h4v1h-4zM69 84h4v1h-4zM69 85h4v1h-4z"/>
<path fill="#ff8f00" d="M79 7h1v1h-1zM77 8h1v1h-1zM76 9h1v1h-1zM70 10h1v1h-1zM61 13h1v1h-1zM81 13h5v1h-5zM62 14h2v1h-2zM79 14h1v1h-1zM76 16h1v1h-1zM61 19h1v1h-1zM81 20h5v1h-5zM80 21h1v1h-1zM80 22h1v1h-1zM80 23h1v1h-1zM80 24h1v1h-1zM81 25h5v1h-5zM78 27h1v1h-1zM79 29h1v1h-1zM50 33h1v1h-1zM49 34h1v1h-1zM59 37h1v1h-1zM64 38h1v1h-1zM62 40h1v1h-1zM75 41h1v1h-1zM77 43h2v1h-2zM78 44h1v1h-1zM81 46h5v1h-5zM41 47h1v1h-1zM40 50h2v1h-2zM68 53h1v1h-1zM69 55h1v1h-1zM72 63h1v1h-1zM65 72h3v1h-3zM65 73h3v1h-3zM75 77h2v1h-2zM74 78h1v1h-1zM73 79h1v1h-1zM73 80h1v1h-1zM73 81h1v1h-1zM73 82h1v1h-1zM73 83h1v1h-1zM73 84h1v1h-1zM73 85h1v1h-1z"/>
<path fill="#ff8000" d="M81 6h5v1h-5zM69 10h1v1h-1zM67 11h1v1h-1zM62 13h1v1h-1zM64 14h1v1h-1zM80 14h1v1h-1zM77 15h1v1h-1zM60 19h1v1h-1zM61 20h1v1h-1zM80 20h1v1h-1zM75 23h1v1h-1zM72 25h1v1h-1zM80 25h1v1h-1zM73 26h6v1h-6zM79 27h1v1h-1zM79 28h1v1h-1zM48 32h1v1h-1zM48 33h1v1h-1zM60 34h1v1h-1zM66 36h1v1h-1zM75 40h1v1h-1zM40 47h1v1h-1zM72 48h1v1h-1zM73 49h1v1h-1zM68 52h1v1h-1zM73 60h1v1h-1zM72 62h1v1h-1zM64 72h1v1h-1zM75 78h1v1h-1zM74 79h1v1h-1zM77 80h1v1h-1z"/>
<path fill="#ff7000" d="M80 6h1v1h-1zM78 7h1v1h-1zM68 10h1v1h-1zM60 11h1v1h-1zM61 12h1v1h-1zM66 12h1v1h-1zM81 14h5v1h-5zM78 15h1v1h-1zM76 17h1v1h-1zM76 18h1v1h-1zM76 19h1v1h-1zM81 19h5v1h-5zM60 20h1v1h-1zM76 20h1v1h-1zM76 21h1v1h-1zM79 21h1v1h-1zM79 22h1v1h-1zM79 23h1v1h-1zM73 24h1v1h-1zM79 24h1v1h-1zM79 25h1v1h-1zM79 26h7v1h-7zM66 32h1v1h-1zM80 32h1v1h-1zM81 33h5v1h-5zM60 42h2v1h-2zM79 45h1v1h-1zM40 48h2v1h-2zM40 49h2v1h-2zM71 49h1v1h-1zM70 50h1v1h-1zM69 51h1v1h-1zM70 56h1v1h-1zM71 58h1v1h-1zM72 61h1v1h-1zM64 73h1v1h-1zM61 76h1v1h-1zM76 78h1v1h-1zM75 79h1v1h-1zM74 80h1v1h-1zM74 81h1v1h-1zM77 81h1v1h-1zM74 82h1v1h-1zM77 82h1v1h-1zM74 83h1v1h-1zM77 83h1v1h-1zM74 84h1v1h-1zM77 84h1v1h-1zM74 85h1v1h-1zM77 85h1v1h-1z"/>
<path fill="#ff6000" d="M60 0h1v1h-1zM60 1h1v1h-1zM60 2h1v1h-1zM60 3h1v1h-1zM60 4h1v1h-1zM76 8h1v1h-1zM75 9h1v1h-1zM67 10h1v1h-1zM66 11h1v1h-1zM62 12h1v1h-1zM63 13h1v1h-1zM65 13h1v1h-1zM79 15h1v1h-1zM80 19h1v1h-1zM79 20h1v1h-1zM78 25h1v1h-1zM80 27h1v1h-1zM80 31h1v1h-1zM49 32h1v1h-1zM63 32h1v1h-1zM49 33h1v1h-1zM61 33h1v1h-1zM66 35h1v1h-1zM77 37h1v1h-1zM76 42h1v1h-1zM73 50h1v1h-1zM69 54h1v1h-1zM73 59h1v1h-1zM63 72h1v1h-1zM62 74h1v1h-1zM60 76h1v1h-1zM76 79h1v1h-1zM75 80h1v1h-1z"/>
<path fill="#ff5000" d="M60 5h1v1h-1zM79 6h1v1h-1zM64 13h1v1h-1zM80 15h6v1h-6zM80 18h6v1h-6zM79 19h1v1h-1zM78 20h1v1h-1zM78 21h1v1h-1zM76 22h1v1h-1zM78 22h1v1h-1zM78 23h1v1h-1zM74 24h1v1h-1zM78 24h1v1h-1zM77 25h1v1h-1zM81 27h5v1h-5zM80 28h1v1h-1zM80 29h1v1h-1zM80 30h1v1h-1zM66 34h1v1h-1zM76 37h1v1h-1zM77 42h1v1h-1zM79 44h1v1h-1zM70 55h1v1h-1zM72 60h1v1h-1zM60 72h1v1h-1zM75 81h1v1h-1zM75 82h1v1h-1zM75 83h1v1h-1zM75 84h1v1h-1zM75 85h1v1h-1z"/>
<path fill="#ff4000" d="M81 5h5v1h-5zM77 7h1v1h-1zM68 9h2v1h-2zM60 10h1v1h-1zM66 10h1v1h-1zM63 12h1v1h-1zM65 12h1v1h-1zM77 16h3v1h-3zM79 18h1v1h-1zM78 19h1v1h-1zM76 23h1v1h-1zM75 24h1v1h-1zM73 25h4v1h-4zM60 35h1v1h-1zM65 37h1v1h-1zM63 38h1v1h-1zM77 38h1v1h-1zM62 39h1v1h-1zM71 50h1v1h-1zM70 51h1v1h-1zM71 57h1v1h-1zM60 75h1v1h-1zM76 80h1v1h-1z"/>
<path fill="#ff3000" d="M80 5h1v1h-1zM60 6h1v1h-1zM66 9h2v1h-2zM74 9h1v1h-1zM65 10h1v1h-1zM61 11h3v1h-3zM65 11h1v1h-1zM64 12h1v1h-1zM80 16h6v1h-6zM78 17h8v1h-8zM77 18h2v1h-2zM77 19h1v1h-1zM77 20h1v1h-1zM77 21h1v1h-1zM77 22h1v1h-1zM77 23h1v1h-1zM76 24h2v1h-2zM81 28h5v1h-5zM65 32h1v1h-1zM66 33h1v1h-1zM76 38h1v1h-1zM72 49h1v1h-1zM73 51h1v1h-1zM69 52h1v1h-1zM69 53h1v1h-1zM73 58h1v1h-1zM72 59h1v1h-1zM62 72h1v1h-1zM63 73h1v1h-1zM61 75h1v1h-1zM76 81h1v1h-1zM76 82h1v1h-1zM76 83h1v1h-1zM76 84h1v1h-1zM76 85h1v1h-1z"/>
<path fill="#ff2000" d="M61 0h8v1h-8zM81 0h5v1h-5zM61 1h8v1h-8zM81 1h5v1h-5zM61 2h8v1h-8zM81 2h5v1h-5zM61 3h8v1h-8zM81 3h5v1h-5zM61 4h8v1h-8zM81 4h5v1h-5zM63 5h6v1h-6zM64 6h5v1h-5zM78 6h1v1h-1zM65 7h4v1h-4zM76 7h1v1h-1zM65 8h4v1h-4zM75 8h1v1h-1zM65 9h1v1h-1zM70 9h1v1h-1zM64 10h1v1h-1zM64 11h1v1h-1zM77 17h1v1h-1zM81 29h5v1h-5zM81 30h5v1h-5zM81 31h5v1h-5zM64 32h1v1h-1zM81 32h5v1h-5zM62 33h1v1h-1zM61 34h1v1h-1zM77 39h1v1h-1zM60 41h2v1h-2zM70 54h1v1h-1zM60 74h1v1h-1z"/>
<path fill="#ff1000" d="M69 0h1v1h-1zM80 0h1v1h-1zM69 1h1v1h-1zM80 1h1v1h-1zM69 2h1v1h-1zM80 2h1v1h-1zM69 3h1v1h-1zM80 3h1v1h-1zM69 4h1v1h-1zM80 4h1v1h-1zM61 5h2v1h-2zM69 5h1v1h-1zM79 5h1v1h-1zM63 6h1v1h-1zM69 6h1v1h-1zM60 7h1v1h-1zM64 7h1v1h-1zM69 7h1v1h-1zM64 8h1v1h-1zM69 8h1v1h-1zM64 9h1v1h-1zM71 9h1v1h-1zM63 10h1v1h-1zM76 39h1v1h-1zM77 41h1v1h-1zM80 44h1v1h-1zM80 45h1v1h-1zM71 51h1v1h-1zM73 52h1v1h-1zM71 56h1v1h-1zM73 57h1v1h-1zM61 72h1v1h-1z"/>
<path fill="#ff0000" d="M62 6h1v1h-1zM77 6h1v1h-1zM63 7h1v1h-1zM60 9h1v1h-1zM72 9h2v1h-2zM61 10h2v1h-2zM60 36h1v1h-1zM62 38h1v1h-1zM77 40h1v1h-1zM76 41h1v1h-1zM72 50h1v1h-1zM70 52h1v1h-1zM70 53h1v1h-1zM73 53h1v1h-1zM73 54h1v1h-1zM71 55h1v1h-1zM73 55h1v1h-1zM73 56h1v1h-1zM72 58h1v1h-1z"/>
<path fill="#ef0000" d="M70 0h1v1h-1zM79 0h1v1h-1zM70 1h1v1h-1zM79 1h1v1h-1zM70 2h1v1h-1zM79 2h1v1h-1zM70 3h1v1h-1zM79 3h1v1h-1zM70 4h1v1h-1zM79 4h1v1h-1zM70 5h1v1h-1zM61 6h1v1h-1zM70 6h1v1h-1zM70 7h1v1h-1zM75 7h1v1h-1zM60 8h1v1h-1zM63 8h1v1h-1zM70 8h1v1h-1zM63 9h1v1h-1zM62 34h1v1h-1zM60 39h1v1h-1zM60 40h1v1h-1zM76 40h1v1h-1zM81 44h5v1h-5zM60 73h1v1h-1zM62 73h1v1h-1zM61 74h1v1h-1z"/>
<path fill="#df0000" d="M78 5h1v1h-1zM76 6h1v1h-1zM62 7h1v1h-1zM74 8h1v1h-1zM62 9h1v1h-1zM63 33h1v1h-1zM61 35h1v1h-1zM65 36h1v1h-1zM60 37h1v1h-1zM64 37h1v1h-1zM60 38h1v1h-1zM61 40h1v1h-1zM81 45h5v1h-5zM72 51h1v1h-1zM71 52h1v1h-1zM71 54h1v1h-1z"/>
<path fill="#cf0000" d="M75 6h1v1h-1zM61 7h1v1h-1zM74 7h1v1h-1zM62 8h1v1h-1zM63 34h1v1h-1zM65 34h1v1h-1zM62 35h1v1h-1zM65 35h1v1h-1zM63 37h1v1h-1zM61 39h1v1h-1zM71 53h1v1h-1zM72 57h1v1h-1z"/>
<path fill="#bf0000" d="M71 0h1v1h-1zM78 0h1v1h-1zM71 1h1v1h-1zM78 1h1v1h-1zM71 2h1v1h-1zM78 2h1v1h-1zM71 3h1v1h-1zM78 3h1v1h-1zM71 4h1v1h-1zM78 4h1v1h-1zM71 5h1v1h-1zM77 5h1v1h-1zM71 6h1v1h-1zM71 7h1v1h-1zM71 8h1v1h-1zM61 9h1v1h-1zM65 33h1v1h-1zM72 56h1v1h-1zM61 73h1v1h-1z"/>
<path fill="#af0000" d="M76 5h1v1h-1zM74 6h1v1h-1zM61 8h1v1h-1zM73 8h1v1h-1zM64 33h1v1h-1zM63 35h1v1h-1zM61 36h1v1h-1zM62 37h1v1h-1zM61 38h1v1h-1zM72 52h1v1h-1zM72 54h1v1h-1zM72 55h1v1h-1z"/>
<path fill="#9f0000" d="M72 0h1v1h-1zM77 0h1v1h-1zM72 1h1v1h-1zM77 1h1v1h-1zM72 2h1v1h-1zM77 2h1v1h-1zM72 3h1v1h-1zM77 3h1v1h-1zM72 4h1v1h-1zM77 4h1v1h-1zM72 5h1v1h-1zM75 5h1v1h-1zM72 6h1v1h-1zM72 7h2v1h-2zM72 8h1v1h-1zM64 34h1v1h-1zM62 36h1v1h-1zM72 53h1v1h-1z"/>
<path fill="#8f0000" d="M73 0h4v1h-4zM73 1h4v1h-4zM73 2h4v1h-4zM73 3h4v1h-4zM73 4h4v1h-4zM73 5h2v1h-2zM73 6h1v1h-1zM64 35h1v1h-1zM63 36h2v1h-2zM61 37h1v1h-1z"/>
</g></g></g>
<clipPath id="clipb"><rect x="615.0" y="105.5" width="390.60" height="372.00"/></clipPath>
<g clip-path="url(#clipb)"><g filter="url(#blurb)">
<g transform="translate(600.35,91.55) scale(4.8825,4.6500)" shape-rendering="crispEdges">
<path fill="#00009f" d="M17 0h4v1h-4zM17 1h4v1h-4zM17 2h4v1h-4zM17 3h4v1h-4zM17 4h4v1h-4zM17 69h4v1h-4zM17 70h4v1h-4zM17 71h4v1h-4zM17 72h4v1h-4zM81 77h5v1h-5zM81 78h5v1h-5zM81 79h5v1h-5zM81 80h5v1h-5zM81 81h5v1h-5zM81 82h5v1h-5zM81 83h5v1h-5zM81 84h5v1h-5zM81 85h5v1h-5z"/>
<path fill="#0000af" d="M21 0h1v1h-1zM21 1h1v1h-1zM21 2h1v1h-1zM21 3h1v1h-1zM21 4h1v1h-1zM17 5h2v1h-2zM12 17h2v1h-2zM12 18h2v1h-2zM12 19h2v1h-2zM12 20h2v1h-2zM24 37h1v1h-1zM24 38h1v1h-1zM24 39h1v1h-1zM24 40h2v1h-2zM24 49h1v1h-1zM21 52h1v1h-1zM61 65h1v1h-1zM61 66h1v1h-1zM61 67h1v1h-1zM17 68h4v1h-4zM61 68h1v1h-1zM21 69h1v1h-1zM21 70h1v1h-1zM21 71h1v1h-1zM21 72h1v1h-1zM17 73h1v1h-1z"/>
<path fill="#0000bf" d="M16 0h1v1h-1zM22 0h1v1h-1zM16 1h1v1h-1zM22 1h1v1h-1zM16 2h1v1h-1zM22 2h1v1h-1zM16 3h1v1h-1zM22 3h1v1h-1zM16 4h1v1h-1zM22 4h1v1h-1zM19 5h2v1h-2zM28 8h1v1h-1zM28 9h1v1h-1zM12 16h2v1h-2zM14 17h1v1h-1zM14 18h1v1h-1zM14 19h1v1h-1zM14 20h1v1h-1zM13 21h1v1h-1zM24 36h1v1h-1zM25 37h1v1h-1zM25 38h1v1h-1zM25 39h1v1h-1zM24 41h2v1h-2zM24 48h2v1h-2zM25 49h1v1h-1zM21 53h1v1h-1zM60 64h2v1h-2zM60 65h1v1h-1zM60 66h1v1h-1zM60 67h1v1h-1zM21 68h1v1h-1zM16 69h1v1h-1zM61 69h1v1h-1zM16 70h1v1h-1zM16 71h1v1h-1zM16 72h1v1h-1zM18 73h3v1h-3z"/>
<path fill="#0000cf" d="M16 5h1v1h-1zM21 5h1v1h-1zM17 6h1v1h-1zM28 7h1v1h-1zM29 8h1v1h-1zM29 9h1v1h-1zM28 10h1v1h-1zM12 15h2v1h-2zM11 16h1v1h-1zM14 16h1v1h-1zM11 17h1v1h-1zM11 18h1v1h-1zM12 21h1v1h-1zM14 21h1v1h-1zM23 36h1v1h-1zM23 37h1v1h-1zM23 38h1v1h-1zM24 42h2v1h-2zM24 47h2v1h-2zM23 48h1v1h-1zM23 49h1v1h-1zM22 50h3v1h-3zM21 51h3v1h-3zM20 52h1v1h-1zM22 52h1v1h-1zM20 53h1v1h-1zM22 53h1v1h-1zM60 63h1v1h-1zM17 67h2v1h-2zM62 67h1v1h-1zM16 68h1v1h-1zM22 68h1v1h-1zM60 68h1v1h-1zM62 68h1v1h-1zM22 69h1v1h-1zM62 69h1v1h-1zM22 70h1v1h-1zM16 73h1v1h-1zM21 73h1v1h-1z"/>
<path fill="#0000df" d="M23 0h1v1h-1zM23 1h1v1h-1zM23 2h1v1h-1zM23 3h1v1h-1zM23 4h1v1h-1zM22 5h1v1h-1zM16 6h1v1h-1zM18 6h1v1h-1zM28 6h1v1h-1zM29 7h1v1h-1zM27 8h1v1h-1zM29 10h1v1h-1zM10 17h1v1h-1zM15 17h1v1h-1zM15 18h1v1h-1zM11 19h1v1h-1zM15 19h1v1h-1zM11 20h1v1h-1zM15 20h1v1h-1zM15 21h1v1h-1zM13 22h1v1h-1zM24 35h1v1h-1zM22 36h1v1h-1zM25 36h1v1h-1zM22 37h1v1h-1zM23 39h1v1h-1zM23 40h1v1h-1zM22 49h1v1h-1zM21 50h1v1h-1zM25 50h1v1h-1zM20 51h1v1h-1zM24 51h1v1h-1zM23 52h1v1h-1zM23 53h1v1h-1zM21 54h1v1h-1zM60 62h1v1h-1zM59 64h1v1h-1zM62 65h1v1h-1zM17 66h1v1h-1zM62 66h1v1h-1zM16 67h1v1h-1zM19 67h2v1h-2zM63 68h1v1h-1zM23 69h1v1h-1zM60 69h1v1h-1zM22 71h1v1h-1zM22 72h1v1h-1z"/>
<path fill="#0000ef" d="M23 5h1v1h-1zM19 6h1v1h-1zM29 6h1v1h-1zM17 7h1v1h-1zM27 7h1v1h-1zM27 9h1v1h-1zM28 11h1v1h-1zM12 14h2v1h-2zM11 15h1v1h-1zM14 15h1v1h-1zM10 16h1v1h-1zM15 16h1v1h-1zM10 18h1v1h-1zM11 21h1v1h-1zM12 22h1v1h-1zM14 22h1v1h-1zM23 35h1v1h-1zM22 38h1v1h-1zM26 39h1v1h-1zM26 40h1v1h-1zM23 41h1v1h-1zM26 41h1v1h-1zM24 43h2v1h-2zM24 46h2v1h-2zM23 47h1v1h-1zM22 48h1v1h-1zM26 48h1v1h-1zM21 49h1v1h-1zM26 49h1v1h-1zM24 52h1v1h-1zM22 54h1v1h-1zM59 63h1v1h-1zM61 63h1v1h-1zM59 65h1v1h-1zM16 66h1v1h-1zM18 66h1v1h-1zM21 67h1v1h-1zM63 67h1v1h-1zM23 68h1v1h-1zM63 69h1v1h-1zM23 70h1v1h-1zM61 70h1v1h-1zM17 74h2v1h-2zM81 76h5v1h-5z"/>
<path fill="#0000ff" d="M15 0h1v1h-1zM24 0h5v1h-5zM15 1h1v1h-1zM24 1h5v1h-5zM15 2h1v1h-1zM24 2h5v1h-5zM15 3h1v1h-1zM24 3h5v1h-5zM15 4h1v1h-1zM24 4h5v1h-5zM24 5h1v1h-1zM26 5h4v1h-4zM20 6h1v1h-1zM27 6h1v1h-1zM16 7h1v1h-1zM18 7h1v1h-1zM27 10h1v1h-1zM29 11h1v1h-1zM28 12h1v1h-1zM12 13h2v1h-2zM11 14h1v1h-1zM14 14h1v1h-1zM10 15h1v1h-1zM15 15h1v1h-1zM9 16h1v1h-1zM16 16h1v1h-1zM9 17h1v1h-1zM16 17h1v1h-1zM16 18h1v1h-1zM10 19h1v1h-1zM16 19h1v1h-1zM16 20h1v1h-1zM16 21h1v1h-1zM15 22h2v1h-2zM16 23h1v1h-1zM17 24h1v1h-1zM17 25h4v1h-4zM17 26h4v1h-4zM17 27h4v1h-4zM17 28h5v1h-5zM17 29h5v1h-5zM17 30h4v1h-4zM17 31h4v1h-4zM16 32h5v1h-5zM20 33h1v1h-1zM21 34h1v1h-1zM21 35h2v1h-2zM25 35h1v1h-1zM21 36h1v1h-1zM21 37h1v1h-1zM26 37h1v1h-1zM26 38h1v1h-1zM22 39h1v1h-1zM23 42h1v1h-1zM26 42h1v1h-1zM24 44h2v1h-2zM24 45h2v1h-2zM23 46h1v1h-1zM22 47h1v1h-1zM26 47h1v1h-1zM21 48h1v1h-1zM20 50h1v1h-1zM25 51h1v1h-1zM24 53h1v1h-1zM20 54h1v1h-1zM23 54h2v1h-2zM24 55h1v1h-1zM58 61h3v1h-3zM59 62h1v1h-1zM62 64h1v1h-1zM15 65h3v1h-3zM15 66h1v1h-1zM19 66h1v1h-1zM59 66h1v1h-1zM63 66h1v1h-1zM15 67h1v1h-1zM22 67h1v1h-1zM15 68h1v1h-1zM24 68h1v1h-1zM64 68h1v1h-1zM15 69h1v1h-1zM24 69h1v1h-1zM64 69h1v1h-1zM15 70h1v1h-1zM62 70h1v1h-1zM15 71h1v1h-1zM23 71h1v1h-1zM15 72h1v1h-1zM0 73h5v1h-5zM22 73h1v1h-1zM0 74h5v1h-5zM16 74h1v1h-1zM19 74h2v1h-2zM0 75h5v1h-5zM0 76h5v1h-5zM0 77h5v1h-5zM80 77h1v1h-1zM0 78h5v1h-5zM80 78h1v1h-1zM0 79h5v1h-5zM80 79h1v1h-1zM0 80h5v1h-5zM80 80h1v1h-1zM0 81h5v1h-5zM80 81h1v1h-1zM0 82h5v1h-5zM80 82h1v1h-1zM0 83h5v1h-5zM80 83h1v1h-1zM0 84h5v1h-5zM80 84h1v1h-1zM0 85h5v1h-5zM80 85h1v1h-1z"/>
<path fill="#0010ff" d="M29 0h1v1h-1zM29 1h1v1h-1zM29 2h1v1h-1zM29 3h1v1h-1zM29 4h1v1h-1zM15 5h1v1h-1zM25 5h1v1h-1zM21 6h2v1h-2zM26 6h1v1h-1zM26 7h1v1h-1zM30 7h1v1h-1zM16 8h2v1h-2zM26 8h1v1h-1zM30 8h1v1h-1zM26 9h1v1h-1zM30 9h1v1h-1zM27 11h1v1h-1zM10 14h1v1h-1zM15 14h1v1h-1zM9 18h1v1h-1zM17 18h1v1h-1zM17 19h1v1h-1zM10 20h1v1h-1zM17 20h1v1h-1zM17 21h1v1h-1zM24 21h1v1h-1zM17 22h1v1h-1zM13 23h3v1h-3zM17 23h2v1h-2zM16 24h1v1h-1zM18 24h4v1h-4zM16 25h1v1h-1zM21 25h1v1h-1zM16 26h1v1h-1zM21 26h1v1h-1zM16 27h1v1h-1zM21 27h2v1h-2zM16 28h1v1h-1zM22 28h3v1h-3zM16 29h1v1h-1zM22 29h3v1h-3zM16 30h1v1h-1zM21 30h2v1h-2zM15 31h2v1h-2zM21 31h1v1h-1zM13 32h3v1h-3zM21 32h1v1h-1zM13 33h7v1h-7zM21 33h1v1h-1zM19 34h2v1h-2zM22 34h3v1h-3zM20 35h1v1h-1zM20 36h1v1h-1zM21 38h1v1h-1zM22 40h1v1h-1zM0 41h5v1h-5zM22 41h1v1h-1zM27 41h1v1h-1zM23 43h1v1h-1zM26 43h1v1h-1zM22 46h1v1h-1zM26 46h1v1h-1zM27 48h1v1h-1zM26 50h1v1h-1zM19 52h1v1h-1zM25 52h1v1h-1zM19 53h1v1h-1zM9 54h1v1h-1zM9 55h1v1h-1zM21 55h3v1h-3zM9 56h1v1h-1zM24 56h1v1h-1zM9 57h1v1h-1zM9 58h1v1h-1zM9 59h1v1h-1zM9 60h1v1h-1zM9 61h1v1h-1zM57 61h1v1h-1zM58 62h1v1h-1zM61 62h1v1h-1zM58 63h1v1h-1zM12 64h5v1h-5zM58 64h1v1h-1zM13 65h2v1h-2zM18 65h1v1h-1zM63 65h1v1h-1zM20 66h2v1h-2zM23 67h1v1h-1zM59 67h1v1h-1zM64 67h1v1h-1zM25 68h4v1h-4zM25 69h3v1h-3zM24 70h1v1h-1zM60 70h1v1h-1zM63 70h1v1h-1zM61 71h1v1h-1zM0 72h5v1h-5zM23 72h1v1h-1zM15 73h1v1h-1zM21 74h1v1h-1zM5 78h1v1h-1zM5 79h1v1h-1zM5 80h1v1h-1zM5 81h1v1h-1zM12 81h1v1h-1zM68 81h1v1h-1zM5 82h1v1h-1zM12 82h1v1h-1zM68 82h1v1h-1zM5 83h1v1h-1zM12 83h1v1h-1zM68 83h1v1h-1zM5 84h1v1h-1zM12 84h1v1h-1zM68 84h1v1h-1zM5 85h1v1h-1zM12 85h1v1h-1zM68 85h1v1h-1z"/>
<path fill="#0020ff" d="M30 0h1v1h-1zM30 1h1v1h-1zM30 2h1v1h-1zM30 3h1v1h-1zM30 4h1v1h-1zM30 5h1v1h-1zM15 6h1v1h-1zM23 6h3v1h-3zM30 6h1v1h-1zM19 7h1v1h-1zM16 9h2v1h-2zM26 10h1v1h-1zM12 12h2v1h-2zM27 12h1v1h-1zM29 12h1v1h-1zM11 13h1v1h-1zM14 13h1v1h-1zM28 13h1v1h-1zM9 15h1v1h-1zM16 15h1v1h-1zM8 16h1v1h-1zM17 16h1v1h-1zM8 17h1v1h-1zM17 17h1v1h-1zM9 19h1v1h-1zM24 20h2v1h-2zM10 21h1v1h-1zM18 21h1v1h-1zM23 21h1v1h-1zM25 21h1v1h-1zM11 22h1v1h-1zM18 22h2v1h-2zM24 22h1v1h-1zM12 23h1v1h-1zM19 23h3v1h-3zM15 24h1v1h-1zM22 24h1v1h-1zM15 25h1v1h-1zM22 25h1v1h-1zM15 26h1v1h-1zM22 26h2v1h-2zM15 27h1v1h-1zM23 27h2v1h-2zM15 28h1v1h-1zM15 29h1v1h-1zM14 30h2v1h-2zM23 30h2v1h-2zM13 31h2v1h-2zM22 31h2v1h-2zM12 32h1v1h-1zM22 32h1v1h-1zM12 33h1v1h-1zM22 33h1v1h-1zM37 33h1v1h-1zM13 34h6v1h-6zM37 34h1v1h-1zM18 35h2v1h-2zM37 35h1v1h-1zM19 36h1v1h-1zM26 36h1v1h-1zM36 36h2v1h-2zM20 37h1v1h-1zM21 39h1v1h-1zM27 39h1v1h-1zM0 40h5v1h-5zM27 40h1v1h-1zM0 42h5v1h-5zM22 42h1v1h-1zM27 42h1v1h-1zM23 44h1v1h-1zM26 44h1v1h-1zM23 45h1v1h-1zM26 45h1v1h-1zM21 47h1v1h-1zM27 47h1v1h-1zM12 48h1v1h-1zM20 49h1v1h-1zM27 49h1v1h-1zM8 53h2v1h-2zM25 53h1v1h-1zM8 54h1v1h-1zM8 55h1v1h-1zM20 55h1v1h-1zM8 56h1v1h-1zM23 56h1v1h-1zM36 56h1v1h-1zM8 57h1v1h-1zM10 57h1v1h-1zM24 57h1v1h-1zM36 57h1v1h-1zM8 58h1v1h-1zM10 58h1v1h-1zM36 58h1v1h-1zM8 59h1v1h-1zM10 59h1v1h-1zM36 59h1v1h-1zM8 60h1v1h-1zM10 60h1v1h-1zM36 60h1v1h-1zM48 60h1v1h-1zM8 61h1v1h-1zM10 61h1v1h-1zM9 62h1v1h-1zM57 62h1v1h-1zM12 63h5v1h-5zM11 64h1v1h-1zM17 64h1v1h-1zM12 65h1v1h-1zM19 65h1v1h-1zM58 65h1v1h-1zM14 66h1v1h-1zM22 66h1v1h-1zM64 66h1v1h-1zM24 67h5v1h-5zM59 68h1v1h-1zM28 69h1v1h-1zM64 70h1v1h-1zM0 71h5v1h-5zM24 71h1v1h-1zM62 71h1v1h-1zM5 72h1v1h-1zM5 73h1v1h-1zM23 73h1v1h-1zM5 74h1v1h-1zM15 74h1v1h-1zM22 74h1v1h-1zM5 75h1v1h-1zM16 75h3v1h-3zM5 76h1v1h-1zM5 77h1v1h-1zM12 80h2v1h-2zM6 81h1v1h-1zM11 81h1v1h-1zM13 81h1v1h-1zM67 81h1v1h-1zM6 82h1v1h-1zM11 82h1v1h-1zM13 82h1v1h-1zM67 82h1v1h-1zM6 83h1v1h-1zM11 83h1v1h-1zM13 83h1v1h-1zM67 83h1v1h-1zM6 84h1v1h-1zM11 84h1v1h-1zM13 84h1v1h-1zM67 84h1v1h-1zM6 85h1v1h-1zM11 85h1v1h-1zM13 85h1v1h-1zM67 85h1v1h-1z"/>
<path fill="#0030ff" d="M15 7h1v1h-1zM25 7h1v1h-1zM18 8h1v1h-1zM16 10h1v1h-1zM30 10h1v1h-1zM26 11h1v1h-1zM14 12h1v1h-1zM26 12h1v1h-1zM10 13h1v1h-1zM15 13h1v1h-1zM27 13h1v1h-1zM9 14h1v1h-1zM16 14h1v1h-1zM8 15h1v1h-1zM7 16h1v1h-1zM7 17h1v1h-1zM8 18h1v1h-1zM18 19h1v1h-1zM24 19h2v1h-2zM9 20h1v1h-1zM18 20h1v1h-1zM23 20h1v1h-1zM37 20h1v1h-1zM19 21h1v1h-1zM22 21h1v1h-1zM37 21h1v1h-1zM20 22h4v1h-4zM22 23h3v1h-3zM14 24h1v1h-1zM23 24h1v1h-1zM23 25h1v1h-1zM24 26h1v1h-1zM25 28h1v1h-1zM14 29h1v1h-1zM25 29h1v1h-1zM13 30h1v1h-1zM24 31h1v1h-1zM23 32h1v1h-1zM36 32h2v1h-2zM23 33h1v1h-1zM36 33h1v1h-1zM12 34h1v1h-1zM25 34h1v1h-1zM36 34h1v1h-1zM17 35h1v1h-1zM36 35h1v1h-1zM18 36h1v1h-1zM19 37h1v1h-1zM20 38h1v1h-1zM27 38h1v1h-1zM21 40h1v1h-1zM5 41h1v1h-1zM22 43h1v1h-1zM27 43h1v1h-1zM22 44h1v1h-1zM27 44h1v1h-1zM22 45h1v1h-1zM27 45h1v1h-1zM21 46h1v1h-1zM27 46h1v1h-1zM12 47h1v1h-1zM13 48h1v1h-1zM20 48h1v1h-1zM12 49h2v1h-2zM19 51h1v1h-1zM26 51h1v1h-1zM8 52h2v1h-2zM19 54h1v1h-1zM25 54h1v1h-1zM10 55h1v1h-1zM25 55h1v1h-1zM36 55h1v1h-1zM10 56h1v1h-1zM22 56h1v1h-1zM25 56h1v1h-1zM23 57h1v1h-1zM47 60h1v1h-1zM11 61h1v1h-1zM47 61h2v1h-2zM56 61h1v1h-1zM61 61h1v1h-1zM8 62h1v1h-1zM10 62h3v1h-3zM9 63h3v1h-3zM17 63h2v1h-2zM57 63h1v1h-1zM62 63h1v1h-1zM10 64h1v1h-1zM18 64h1v1h-1zM63 64h1v1h-1zM11 65h1v1h-1zM20 65h1v1h-1zM64 65h1v1h-1zM23 66h2v1h-2zM14 67h1v1h-1zM29 68h1v1h-1zM29 69h1v1h-1zM25 70h2v1h-2zM5 71h1v1h-1zM63 71h2v1h-2zM24 72h1v1h-1zM49 72h1v1h-1zM49 73h1v1h-1zM19 75h1v1h-1zM6 79h1v1h-1zM12 79h2v1h-2zM6 80h1v1h-1zM11 80h1v1h-1z"/>
<path fill="#0040ff" d="M31 0h1v1h-1zM31 1h1v1h-1zM31 2h1v1h-1zM31 3h1v1h-1zM31 4h1v1h-1zM31 5h1v1h-1zM31 6h1v1h-1zM20 7h1v1h-1zM22 7h3v1h-3zM31 7h1v1h-1zM15 8h1v1h-1zM25 8h1v1h-1zM15 9h1v1h-1zM25 9h1v1h-1zM15 10h1v1h-1zM17 10h1v1h-1zM25 10h1v1h-1zM13 11h4v1h-4zM30 11h1v1h-1zM11 12h1v1h-1zM15 12h2v1h-2zM9 13h1v1h-1zM16 13h1v1h-1zM26 13h1v1h-1zM29 13h1v1h-1zM8 14h1v1h-1zM7 15h1v1h-1zM17 15h1v1h-1zM6 16h1v1h-1zM18 17h1v1h-1zM18 18h1v1h-1zM24 18h2v1h-2zM23 19h1v1h-1zM19 20h1v1h-1zM22 20h1v1h-1zM20 21h2v1h-2zM10 22h1v1h-1zM25 22h1v1h-1zM11 23h1v1h-1zM13 24h1v1h-1zM24 24h1v1h-1zM14 25h1v1h-1zM24 25h1v1h-1zM14 26h1v1h-1zM14 27h1v1h-1zM25 27h1v1h-1zM14 28h1v1h-1zM13 29h1v1h-1zM25 30h1v1h-1zM12 31h1v1h-1zM36 31h2v1h-2zM24 32h1v1h-1zM24 33h1v1h-1zM12 35h5v1h-5zM17 36h1v1h-1zM18 37h1v1h-1zM27 37h1v1h-1zM37 37h1v1h-1zM19 38h1v1h-1zM20 39h1v1h-1zM5 40h1v1h-1zM21 41h1v1h-1zM28 41h1v1h-1zM5 42h1v1h-1zM21 42h1v1h-1zM28 42h1v1h-1zM0 43h5v1h-5zM28 43h1v1h-1zM21 45h1v1h-1zM12 46h1v1h-1zM28 46h1v1h-1zM13 47h1v1h-1zM20 47h1v1h-1zM28 47h1v1h-1zM28 48h1v1h-1zM19 50h1v1h-1zM7 53h1v1h-1zM10 53h1v1h-1zM7 54h1v1h-1zM10 54h1v1h-1zM36 54h1v1h-1zM7 55h1v1h-1zM7 56h1v1h-1zM11 56h1v1h-1zM21 56h1v1h-1zM7 57h1v1h-1zM11 57h1v1h-1zM22 57h1v1h-1zM25 57h1v1h-1zM35 57h1v1h-1zM37 57h1v1h-1zM7 58h1v1h-1zM11 58h1v1h-1zM35 58h1v1h-1zM37 58h1v1h-1zM7 59h1v1h-1zM11 59h1v1h-1zM35 59h1v1h-1zM7 60h1v1h-1zM11 60h1v1h-1zM35 60h1v1h-1zM46 60h1v1h-1zM49 60h1v1h-1zM59 60h2v1h-2zM12 61h1v1h-1zM36 61h1v1h-1zM46 61h1v1h-1zM49 61h1v1h-1zM13 62h6v1h-6zM56 62h1v1h-1zM8 63h1v1h-1zM19 63h1v1h-1zM9 64h1v1h-1zM19 64h1v1h-1zM57 64h1v1h-1zM10 65h1v1h-1zM21 65h3v1h-3zM13 66h1v1h-1zM25 66h4v1h-4zM58 66h1v1h-1zM29 67h1v1h-1zM14 68h1v1h-1zM59 69h1v1h-1zM0 70h6v1h-6zM27 70h2v1h-2zM25 71h1v1h-1zM60 71h1v1h-1zM48 72h1v1h-1zM61 72h3v1h-3zM6 73h1v1h-1zM24 73h1v1h-1zM48 73h1v1h-1zM6 74h1v1h-1zM23 74h1v1h-1zM6 75h1v1h-1zM15 75h1v1h-1zM20 75h1v1h-1zM6 76h1v1h-1zM16 76h1v1h-1zM6 77h1v1h-1zM6 78h1v1h-1zM12 78h2v1h-2zM11 79h1v1h-1zM7 80h1v1h-1zM10 80h1v1h-1zM7 81h1v1h-1zM10 81h1v1h-1zM14 81h1v1h-1zM66 81h1v1h-1zM7 82h1v1h-1zM10 82h1v1h-1zM14 82h1v1h-1zM66 82h1v1h-1zM7 83h1v1h-1zM10 83h1v1h-1zM14 83h1v1h-1zM66 83h1v1h-1zM7 84h1v1h-1zM10 84h1v1h-1zM14 84h1v1h-1zM66 84h1v1h-1zM7 85h1v1h-1zM10 85h1v1h-1zM14 85h1v1h-1zM66 85h1v1h-1z"/>
<path fill="#0050ff" d="M14 0h1v1h-1zM32 0h1v1h-1zM14 1h1v1h-1zM32 1h1v1h-1zM14 2h1v1h-1zM32 2h1v1h-1zM14 3h1v1h-1zM32 3h1v1h-1zM14 4h1v1h-1zM32 4h1v1h-1zM14 5h1v1h-1zM32 5h1v1h-1zM21 7h1v1h-1zM19 8h1v1h-1zM24 8h1v1h-1zM31 8h1v1h-1zM18 9h1v1h-1zM31 9h1v1h-1zM14 10h1v1h-1zM12 11h1v1h-1zM17 11h1v1h-1zM25 11h1v1h-1zM10 12h1v1h-1zM25 12h1v1h-1zM25 13h1v1h-1zM17 14h1v1h-1zM25 14h4v1h-4zM18 16h1v1h-1zM6 17h1v1h-1zM8 19h1v1h-1zM19 19h1v1h-1zM36 19h2v1h-2zM20 20h1v1h-1zM26 20h1v1h-1zM36 20h1v1h-1zM9 21h1v1h-1zM26 21h1v1h-1zM36 21h1v1h-1zM37 22h1v1h-1zM25 23h1v1h-1zM12 24h1v1h-1zM13 25h1v1h-1zM13 26h1v1h-1zM13 27h1v1h-1zM13 28h1v1h-1zM36 29h1v1h-1zM12 30h1v1h-1zM36 30h2v1h-2zM11 32h1v1h-1zM11 33h1v1h-1zM26 35h1v1h-1zM38 35h1v1h-1zM13 36h4v1h-4zM38 36h1v1h-1zM36 37h1v1h-1zM28 40h1v1h-1zM5 43h1v1h-1zM21 43h1v1h-1zM0 44h5v1h-5zM21 44h1v1h-1zM28 44h1v1h-1zM0 45h5v1h-5zM28 45h1v1h-1zM0 46h5v1h-5zM13 46h1v1h-1zM20 46h1v1h-1zM0 47h5v1h-5zM0 48h5v1h-5zM11 48h1v1h-1zM11 49h1v1h-1zM28 49h1v1h-1zM11 50h2v1h-2zM27 50h1v1h-1zM8 51h3v1h-3zM7 52h1v1h-1zM10 52h1v1h-1zM18 52h1v1h-1zM26 52h1v1h-1zM18 53h1v1h-1zM35 53h2v1h-2zM35 54h1v1h-1zM11 55h1v1h-1zM19 55h1v1h-1zM35 55h1v1h-1zM37 55h1v1h-1zM12 56h1v1h-1zM20 56h1v1h-1zM35 56h1v1h-1zM37 56h1v1h-1zM12 57h1v1h-1zM21 57h1v1h-1zM12 58h1v1h-1zM21 58h4v1h-4zM12 59h1v1h-1zM37 59h1v1h-1zM48 59h1v1h-1zM12 60h1v1h-1zM37 60h1v1h-1zM57 60h2v1h-2zM7 61h1v1h-1zM13 61h8v1h-8zM45 61h1v1h-1zM19 62h2v1h-2zM20 63h1v1h-1zM20 64h1v1h-1zM24 65h5v1h-5zM57 65h1v1h-1zM12 66h1v1h-1zM29 66h1v1h-1zM58 67h1v1h-1zM36 68h1v1h-1zM0 69h5v1h-5zM14 69h1v1h-1zM14 70h1v1h-1zM14 71h1v1h-1zM26 71h1v1h-1zM49 71h1v1h-1zM6 72h1v1h-1zM14 72h1v1h-1zM25 72h1v1h-1zM50 72h1v1h-1zM64 72h1v1h-1zM14 73h1v1h-1zM50 73h1v1h-1zM14 74h1v1h-1zM24 74h1v1h-1zM49 74h1v1h-1zM14 75h1v1h-1zM21 75h4v1h-4zM14 76h2v1h-2zM17 76h1v1h-1zM80 76h1v1h-1zM13 77h2v1h-2zM14 78h1v1h-1zM7 79h1v1h-1zM14 79h1v1h-1zM8 80h1v1h-1zM14 80h1v1h-1zM8 81h2v1h-2zM65 81h1v1h-1zM8 82h2v1h-2zM65 82h1v1h-1zM8 83h2v1h-2zM65 83h1v1h-1zM8 84h2v1h-2zM65 84h1v1h-1zM8 85h2v1h-2zM65 85h1v1h-1z"/>
<path fill="#0060ff" d="M48 0h2v1h-2zM48 1h2v1h-2zM48 2h2v1h-2zM48 3h2v1h-2zM48 4h2v1h-2zM14 6h1v1h-1zM32 6h1v1h-1zM14 7h1v1h-1zM23 8h1v1h-1zM24 9h1v1h-1zM18 10h1v1h-1zM24 10h1v1h-1zM17 12h1v1h-1zM30 12h1v1h-1zM8 13h1v1h-1zM17 13h1v1h-1zM7 14h1v1h-1zM29 14h1v1h-1zM6 15h1v1h-1zM18 15h1v1h-1zM24 15h4v1h-4zM0 16h6v1h-6zM24 16h2v1h-2zM24 17h2v1h-2zM7 18h1v1h-1zM19 18h1v1h-1zM23 18h1v1h-1zM26 18h1v1h-1zM36 18h2v1h-2zM22 19h1v1h-1zM26 19h1v1h-1zM21 20h1v1h-1zM48 21h1v1h-1zM9 22h1v1h-1zM36 22h1v1h-1zM48 22h1v1h-1zM10 23h1v1h-1zM11 24h1v1h-1zM12 25h1v1h-1zM33 25h1v1h-1zM12 26h1v1h-1zM25 26h1v1h-1zM33 26h1v1h-1zM33 27h2v1h-2zM33 28h4v1h-4zM12 29h1v1h-1zM35 29h1v1h-1zM37 29h1v1h-1zM11 31h1v1h-1zM25 31h1v1h-1zM38 32h1v1h-1zM25 33h1v1h-1zM38 33h1v1h-1zM11 34h1v1h-1zM38 34h1v1h-1zM11 35h1v1h-1zM12 36h1v1h-1zM27 36h1v1h-1zM12 37h6v1h-6zM12 38h3v1h-3zM18 38h1v1h-1zM0 39h5v1h-5zM13 39h1v1h-1zM19 39h1v1h-1zM28 39h1v1h-1zM13 40h1v1h-1zM20 40h1v1h-1zM6 41h1v1h-1zM13 41h1v1h-1zM20 41h1v1h-1zM13 42h1v1h-1zM20 42h1v1h-1zM12 43h2v1h-2zM20 43h1v1h-1zM5 44h1v1h-1zM12 44h2v1h-2zM20 44h1v1h-1zM5 45h1v1h-1zM12 45h2v1h-2zM20 45h1v1h-1zM5 46h1v1h-1zM11 46h1v1h-1zM5 47h1v1h-1zM11 47h1v1h-1zM5 48h1v1h-1zM14 48h1v1h-1zM19 48h1v1h-1zM0 49h5v1h-5zM19 49h1v1h-1zM10 50h1v1h-1zM13 50h1v1h-1zM7 51h1v1h-1zM11 51h1v1h-1zM33 53h2v1h-2zM11 54h1v1h-1zM18 54h1v1h-1zM34 54h1v1h-1zM37 54h1v1h-1zM34 55h1v1h-1zM13 57h1v1h-1zM20 57h1v1h-1zM13 58h1v1h-1zM20 58h1v1h-1zM13 59h2v1h-2zM19 59h5v1h-5zM46 59h2v1h-2zM49 59h1v1h-1zM13 60h9v1h-9zM45 60h1v1h-1zM56 60h1v1h-1zM21 61h1v1h-1zM35 61h1v1h-1zM7 62h1v1h-1zM21 62h1v1h-1zM45 62h4v1h-4zM7 63h1v1h-1zM21 63h2v1h-2zM45 63h1v1h-1zM56 63h1v1h-1zM8 64h1v1h-1zM21 64h5v1h-5zM9 65h1v1h-1zM29 65h1v1h-1zM10 66h2v1h-2zM13 67h1v1h-1zM0 68h5v1h-5zM37 68h1v1h-1zM65 68h1v1h-1zM5 69h1v1h-1zM36 69h1v1h-1zM6 70h1v1h-1zM29 70h1v1h-1zM59 70h1v1h-1zM6 71h1v1h-1zM27 71h1v1h-1zM48 71h1v1h-1zM60 72h1v1h-1zM25 73h1v1h-1zM25 74h1v1h-1zM50 74h1v1h-1zM13 76h1v1h-1zM18 76h1v1h-1zM24 76h1v1h-1zM12 77h1v1h-1zM15 77h2v1h-2zM7 78h1v1h-1zM11 78h1v1h-1zM15 78h1v1h-1zM10 79h1v1h-1zM15 79h1v1h-1zM9 80h1v1h-1zM69 81h1v1h-1zM69 82h1v1h-1zM69 83h1v1h-1zM69 84h1v1h-1zM69 85h1v1h-1z"/>
<path fill="#0070ff" d="M33 0h1v1h-1zM33 1h1v1h-1zM33 2h1v1h-1zM33 3h1v1h-1zM33 4h1v1h-1zM33 5h1v1h-1zM48 5h2v1h-2zM32 7h1v1h-1zM14 8h1v1h-1zM22 8h1v1h-1zM44 8h2v1h-2zM14 9h1v1h-1zM44 9h2v1h-2zM13 10h1v1h-1zM31 10h1v1h-1zM11 11h1v1h-1zM24 11h1v1h-1zM9 12h1v1h-1zM24 12h1v1h-1zM7 13h1v1h-1zM24 13h1v1h-1zM30 13h1v1h-1zM6 14h1v1h-1zM24 14h1v1h-1zM5 15h1v1h-1zM28 15h1v1h-1zM26 16h1v1h-1zM5 17h1v1h-1zM19 17h1v1h-1zM23 17h1v1h-1zM26 17h1v1h-1zM36 17h1v1h-1zM22 18h1v1h-1zM20 19h2v1h-2zM8 20h1v1h-1zM27 20h1v1h-1zM38 20h1v1h-1zM48 20h2v1h-2zM38 21h1v1h-1zM49 21h1v1h-1zM26 22h1v1h-1zM38 22h1v1h-1zM49 22h1v1h-1zM37 23h1v1h-1zM48 23h2v1h-2zM25 24h1v1h-1zM40 24h1v1h-1zM48 24h2v1h-2zM25 25h1v1h-1zM34 25h1v1h-1zM40 25h1v1h-1zM48 25h2v1h-2zM32 26h1v1h-1zM34 26h1v1h-1zM48 26h2v1h-2zM12 27h1v1h-1zM32 27h1v1h-1zM35 27h2v1h-2zM48 27h2v1h-2zM12 28h1v1h-1zM26 28h1v1h-1zM32 28h1v1h-1zM37 28h1v1h-1zM49 28h1v1h-1zM26 29h1v1h-1zM33 29h2v1h-2zM38 29h1v1h-1zM49 29h1v1h-1zM35 30h1v1h-1zM38 30h1v1h-1zM35 31h1v1h-1zM38 31h1v1h-1zM25 32h1v1h-1zM10 33h1v1h-1zM35 35h1v1h-1zM11 36h1v1h-1zM35 36h1v1h-1zM38 37h1v1h-1zM15 38h3v1h-3zM28 38h1v1h-1zM5 39h1v1h-1zM12 39h1v1h-1zM14 39h1v1h-1zM18 39h1v1h-1zM6 40h1v1h-1zM12 40h1v1h-1zM14 40h1v1h-1zM19 40h1v1h-1zM29 40h1v1h-1zM45 40h1v1h-1zM12 41h1v1h-1zM29 41h1v1h-1zM6 42h1v1h-1zM12 42h1v1h-1zM29 42h1v1h-1zM6 43h1v1h-1zM29 43h1v1h-1zM6 44h1v1h-1zM29 44h1v1h-1zM11 45h1v1h-1zM14 45h1v1h-1zM19 45h1v1h-1zM29 45h1v1h-1zM14 46h1v1h-1zM19 46h1v1h-1zM29 46h1v1h-1zM14 47h1v1h-1zM19 47h1v1h-1zM29 47h1v1h-1zM10 48h1v1h-1zM29 48h1v1h-1zM5 49h1v1h-1zM10 49h1v1h-1zM14 49h1v1h-1zM6 50h4v1h-4zM6 51h1v1h-1zM12 51h1v1h-1zM18 51h1v1h-1zM27 51h1v1h-1zM6 52h1v1h-1zM11 52h1v1h-1zM6 53h1v1h-1zM11 53h1v1h-1zM26 53h1v1h-1zM37 53h1v1h-1zM6 54h1v1h-1zM26 54h1v1h-1zM33 54h1v1h-1zM6 55h1v1h-1zM12 55h1v1h-1zM18 55h1v1h-1zM6 56h1v1h-1zM13 56h1v1h-1zM19 56h1v1h-1zM34 56h1v1h-1zM6 57h1v1h-1zM14 57h1v1h-1zM19 57h1v1h-1zM34 57h1v1h-1zM6 58h1v1h-1zM14 58h1v1h-1zM19 58h1v1h-1zM25 58h1v1h-1zM34 58h1v1h-1zM48 58h1v1h-1zM6 59h1v1h-1zM15 59h4v1h-4zM24 59h1v1h-1zM34 59h1v1h-1zM45 59h1v1h-1zM6 60h1v1h-1zM22 60h1v1h-1zM34 60h1v1h-1zM50 60h1v1h-1zM61 60h1v1h-1zM6 61h1v1h-1zM22 61h1v1h-1zM37 61h1v1h-1zM55 61h1v1h-1zM22 62h1v1h-1zM62 62h1v1h-1zM23 63h2v1h-2zM46 63h1v1h-1zM7 64h1v1h-1zM26 64h3v1h-3zM45 64h1v1h-1zM56 64h1v1h-1zM64 64h1v1h-1zM8 65h1v1h-1zM45 65h1v1h-1zM9 66h1v1h-1zM12 67h1v1h-1zM65 67h1v1h-1zM5 68h1v1h-1zM30 68h1v1h-1zM58 68h1v1h-1zM6 69h1v1h-1zM30 69h1v1h-1zM65 69h1v1h-1zM28 71h1v1h-1zM7 72h1v1h-1zM26 72h1v1h-1zM7 73h1v1h-1zM51 73h1v1h-1zM7 74h1v1h-1zM48 74h1v1h-1zM51 74h1v1h-1zM7 75h1v1h-1zM13 75h1v1h-1zM25 75h1v1h-1zM49 75h3v1h-3zM7 76h1v1h-1zM12 76h1v1h-1zM19 76h1v1h-1zM23 76h1v1h-1zM25 76h1v1h-1zM52 76h1v1h-1zM7 77h1v1h-1zM11 77h1v1h-1zM17 77h1v1h-1zM24 77h2v1h-2zM10 78h1v1h-1zM16 78h1v1h-1zM8 79h2v1h-2zM15 80h1v1h-1zM68 80h1v1h-1zM15 81h1v1h-1zM15 82h1v1h-1zM15 83h1v1h-1zM15 84h1v1h-1zM15 85h1v1h-1z"/>
<path fill="#0080ff" d="M47 0h1v1h-1zM50 0h1v1h-1zM47 1h1v1h-1zM50 1h1v1h-1zM47 2h1v1h-1zM50 2h1v1h-1zM47 3h1v1h-1zM50 3h1v1h-1zM47 4h1v1h-1zM50 4h1v1h-1zM47 5h1v1h-1zM50 5h1v1h-1zM46 6h4v1h-4zM44 7h4v1h-4zM20 8h1v1h-1zM43 8h1v1h-1zM46 8h1v1h-1zM19 9h1v1h-1zM23 9h1v1h-1zM43 9h1v1h-1zM12 10h1v1h-1zM23 10h1v1h-1zM44 10h1v1h-1zM18 11h1v1h-1zM31 11h1v1h-1zM8 12h1v1h-1zM6 13h1v1h-1zM5 14h1v1h-1zM18 14h1v1h-1zM0 15h5v1h-5zM23 15h1v1h-1zM19 16h1v1h-1zM23 16h1v1h-1zM27 16h1v1h-1zM0 17h5v1h-5zM22 17h1v1h-1zM37 17h1v1h-1zM6 18h1v1h-1zM20 18h2v1h-2zM27 18h1v1h-1zM7 19h1v1h-1zM27 19h1v1h-1zM8 21h1v1h-1zM27 21h1v1h-1zM47 21h1v1h-1zM47 22h1v1h-1zM9 23h1v1h-1zM36 23h1v1h-1zM38 23h1v1h-1zM10 24h1v1h-1zM39 24h1v1h-1zM41 24h1v1h-1zM11 25h1v1h-1zM32 25h1v1h-1zM39 25h1v1h-1zM41 25h1v1h-1zM11 26h1v1h-1zM35 26h1v1h-1zM38 26h3v1h-3zM26 27h1v1h-1zM37 27h3v1h-3zM38 28h1v1h-1zM48 28h1v1h-1zM48 29h1v1h-1zM11 30h1v1h-1zM26 30h1v1h-1zM10 32h1v1h-1zM35 32h1v1h-1zM35 33h1v1h-1zM10 34h1v1h-1zM26 34h1v1h-1zM35 34h1v1h-1zM10 35h1v1h-1zM39 35h1v1h-1zM39 36h1v1h-1zM11 37h1v1h-1zM28 37h1v1h-1zM35 37h1v1h-1zM11 38h1v1h-1zM15 39h1v1h-1zM17 39h1v1h-1zM45 39h1v1h-1zM18 40h1v1h-1zM44 40h1v1h-1zM46 40h1v1h-1zM14 41h1v1h-1zM19 41h1v1h-1zM45 41h1v1h-1zM14 42h1v1h-1zM19 42h1v1h-1zM11 43h1v1h-1zM14 43h1v1h-1zM19 43h1v1h-1zM11 44h1v1h-1zM14 44h1v1h-1zM19 44h1v1h-1zM6 45h1v1h-1zM6 46h1v1h-1zM10 46h1v1h-1zM6 47h1v1h-1zM10 47h1v1h-1zM6 48h1v1h-1zM6 49h2v1h-2zM0 50h6v1h-6zM14 50h1v1h-1zM18 50h1v1h-1zM28 50h1v1h-1zM5 51h1v1h-1zM13 51h1v1h-1zM33 52h4v1h-4zM32 53h1v1h-1zM12 54h1v1h-1zM13 55h1v1h-1zM26 55h1v1h-1zM33 55h1v1h-1zM14 56h1v1h-1zM18 56h1v1h-1zM26 56h1v1h-1zM15 58h1v1h-1zM18 58h1v1h-1zM46 58h2v1h-2zM49 58h1v1h-1zM23 60h1v1h-1zM50 61h1v1h-1zM6 62h1v1h-1zM23 62h1v1h-1zM49 62h1v1h-1zM55 62h1v1h-1zM6 63h1v1h-1zM25 63h1v1h-1zM44 63h1v1h-1zM47 63h1v1h-1zM63 63h1v1h-1zM44 64h1v1h-1zM7 65h1v1h-1zM44 65h1v1h-1zM6 66h3v1h-3zM30 66h1v1h-1zM45 66h1v1h-1zM57 66h1v1h-1zM65 66h1v1h-1zM0 67h8v1h-8zM10 67h2v1h-2zM30 67h1v1h-1zM6 68h1v1h-1zM13 68h1v1h-1zM35 68h1v1h-1zM37 69h1v1h-1zM7 70h1v1h-1zM30 70h1v1h-1zM48 70h2v1h-2zM65 70h1v1h-1zM7 71h1v1h-1zM29 71h1v1h-1zM50 71h1v1h-1zM59 71h1v1h-1zM27 72h1v1h-1zM51 72h1v1h-1zM26 73h1v1h-1zM13 74h1v1h-1zM26 74h1v1h-1zM52 74h1v1h-1zM12 75h1v1h-1zM52 75h1v1h-1zM11 76h1v1h-1zM20 76h1v1h-1zM22 76h1v1h-1zM50 76h2v1h-2zM53 76h1v1h-1zM10 77h1v1h-1zM18 77h1v1h-1zM23 77h1v1h-1zM52 77h1v1h-1zM8 78h2v1h-2zM17 78h1v1h-1zM24 78h1v1h-1zM16 79h1v1h-1zM67 80h1v1h-1z"/>
<path fill="#008fff" d="M13 0h1v1h-1zM46 0h1v1h-1zM51 0h1v1h-1zM13 1h1v1h-1zM46 1h1v1h-1zM51 1h1v1h-1zM13 2h1v1h-1zM46 2h1v1h-1zM51 2h1v1h-1zM13 3h1v1h-1zM46 3h1v1h-1zM51 3h1v1h-1zM13 4h1v1h-1zM46 4h1v1h-1zM51 4h1v1h-1zM13 5h1v1h-1zM46 5h1v1h-1zM51 5h1v1h-1zM13 6h1v1h-1zM33 6h1v1h-1zM45 6h1v1h-1zM50 6h1v1h-1zM48 7h2v1h-2zM21 8h1v1h-1zM32 8h1v1h-1zM47 8h1v1h-1zM13 9h1v1h-1zM22 9h1v1h-1zM46 9h1v1h-1zM19 10h1v1h-1zM45 10h1v1h-1zM10 11h1v1h-1zM23 11h1v1h-1zM7 12h1v1h-1zM18 12h1v1h-1zM23 12h1v1h-1zM18 13h1v1h-1zM23 13h1v1h-1zM0 14h5v1h-5zM23 14h1v1h-1zM19 15h1v1h-1zM29 15h1v1h-1zM22 16h1v1h-1zM28 16h1v1h-1zM36 16h1v1h-1zM20 17h1v1h-1zM27 17h1v1h-1zM48 19h2v1h-2zM47 20h1v1h-1zM46 21h1v1h-1zM8 22h1v1h-1zM39 22h1v1h-1zM26 23h1v1h-1zM39 23h2v1h-2zM47 23h1v1h-1zM33 24h3v1h-3zM37 24h2v1h-2zM47 24h1v1h-1zM10 25h1v1h-1zM35 25h1v1h-1zM38 25h1v1h-1zM36 26h2v1h-2zM41 26h1v1h-1zM11 27h1v1h-1zM40 27h1v1h-1zM11 28h1v1h-1zM39 28h1v1h-1zM11 29h1v1h-1zM32 29h1v1h-1zM39 29h1v1h-1zM34 30h1v1h-1zM48 30h2v1h-2zM10 31h1v1h-1zM39 34h1v1h-1zM27 35h1v1h-1zM10 36h1v1h-1zM10 37h1v1h-1zM39 37h1v1h-1zM6 39h1v1h-1zM11 39h1v1h-1zM16 39h1v1h-1zM29 39h1v1h-1zM44 39h1v1h-1zM11 40h1v1h-1zM15 40h1v1h-1zM11 41h1v1h-1zM15 41h1v1h-1zM18 41h1v1h-1zM44 41h1v1h-1zM46 41h1v1h-1zM11 42h1v1h-1zM15 42h1v1h-1zM18 42h1v1h-1zM15 43h1v1h-1zM18 43h1v1h-1zM7 44h1v1h-1zM10 44h1v1h-1zM15 44h1v1h-1zM18 44h1v1h-1zM7 45h1v1h-1zM10 45h1v1h-1zM15 45h1v1h-1zM18 45h1v1h-1zM7 46h1v1h-1zM7 47h1v1h-1zM7 48h1v1h-1zM8 49h2v1h-2zM29 49h1v1h-1zM0 51h5v1h-5zM14 51h1v1h-1zM5 52h1v1h-1zM12 52h1v1h-1zM27 52h1v1h-1zM32 52h1v1h-1zM12 53h1v1h-1zM17 53h1v1h-1zM13 54h1v1h-1zM32 54h1v1h-1zM14 55h1v1h-1zM15 56h1v1h-1zM33 56h1v1h-1zM15 57h1v1h-1zM18 57h1v1h-1zM16 58h2v1h-2zM45 58h1v1h-1zM25 59h1v1h-1zM50 59h1v1h-1zM24 60h1v1h-1zM55 60h1v1h-1zM23 61h1v1h-1zM34 61h1v1h-1zM44 61h1v1h-1zM24 62h1v1h-1zM36 62h1v1h-1zM44 62h1v1h-1zM26 63h1v1h-1zM6 64h1v1h-1zM29 64h1v1h-1zM46 64h1v1h-1zM6 65h1v1h-1zM30 65h1v1h-1zM56 65h1v1h-1zM65 65h1v1h-1zM0 66h6v1h-6zM8 67h2v1h-2zM7 68h1v1h-1zM7 69h1v1h-1zM13 69h1v1h-1zM35 69h1v1h-1zM58 69h1v1h-1zM13 70h1v1h-1zM13 71h1v1h-1zM30 71h1v1h-1zM65 71h1v1h-1zM13 72h1v1h-1zM28 72h1v1h-1zM47 72h1v1h-1zM13 73h1v1h-1zM27 73h1v1h-1zM52 73h1v1h-1zM12 74h1v1h-1zM11 75h1v1h-1zM26 75h1v1h-1zM53 75h1v1h-1zM10 76h1v1h-1zM21 76h1v1h-1zM26 76h1v1h-1zM49 76h1v1h-1zM8 77h1v1h-1zM51 77h1v1h-1zM53 77h1v1h-1zM25 78h1v1h-1zM16 80h1v1h-1zM66 80h1v1h-1z"/>
<path fill="#009fff" d="M34 0h1v1h-1zM45 0h1v1h-1zM52 0h1v1h-1zM34 1h1v1h-1zM45 1h1v1h-1zM52 1h1v1h-1zM34 2h1v1h-1zM45 2h1v1h-1zM52 2h1v1h-1zM34 3h1v1h-1zM45 3h1v1h-1zM52 3h1v1h-1zM34 4h1v1h-1zM45 4h1v1h-1zM52 4h1v1h-1zM34 5h1v1h-1zM45 5h1v1h-1zM44 6h1v1h-1zM51 6h1v1h-1zM13 7h1v1h-1zM33 7h1v1h-1zM43 7h1v1h-1zM50 7h2v1h-2zM13 8h1v1h-1zM42 8h1v1h-1zM48 8h1v1h-1zM20 9h1v1h-1zM32 9h1v1h-1zM42 9h1v1h-1zM47 9h1v1h-1zM22 10h1v1h-1zM43 10h1v1h-1zM19 11h1v1h-1zM44 11h2v1h-2zM6 12h1v1h-1zM31 12h1v1h-1zM0 13h6v1h-6zM19 14h1v1h-1zM30 14h1v1h-1zM22 15h1v1h-1zM20 16h1v1h-1zM37 16h1v1h-1zM21 17h1v1h-1zM28 17h1v1h-1zM28 18h1v1h-1zM48 18h2v1h-2zM28 19h1v1h-1zM38 19h1v1h-1zM28 20h1v1h-1zM46 20h1v1h-1zM50 20h1v1h-1zM39 21h1v1h-1zM50 21h1v1h-1zM46 22h1v1h-1zM50 22h1v1h-1zM35 23h1v1h-1zM41 23h1v1h-1zM50 23h1v1h-1zM9 24h1v1h-1zM32 24h1v1h-1zM36 24h1v1h-1zM42 24h1v1h-1zM50 24h1v1h-1zM36 25h2v1h-2zM42 25h1v1h-1zM47 25h1v1h-1zM50 25h1v1h-1zM10 26h1v1h-1zM26 26h1v1h-1zM47 26h1v1h-1zM50 26h1v1h-1zM31 27h1v1h-1zM41 27h1v1h-1zM50 27h1v1h-1zM31 28h1v1h-1zM40 28h1v1h-1zM50 28h1v1h-1zM50 29h1v1h-1zM10 30h1v1h-1zM39 30h1v1h-1zM26 31h1v1h-1zM39 31h1v1h-1zM48 31h2v1h-2zM9 32h1v1h-1zM39 32h1v1h-1zM9 33h1v1h-1zM26 33h1v1h-1zM39 33h1v1h-1zM9 34h1v1h-1zM9 35h1v1h-1zM9 36h1v1h-1zM28 36h1v1h-1zM40 36h1v1h-1zM0 38h5v1h-5zM10 38h1v1h-1zM29 38h1v1h-1zM36 38h2v1h-2zM44 38h2v1h-2zM46 39h1v1h-1zM16 40h2v1h-2zM30 40h1v1h-1zM47 40h1v1h-1zM7 41h1v1h-1zM16 41h2v1h-2zM30 41h1v1h-1zM47 41h1v1h-1zM7 42h1v1h-1zM16 42h2v1h-2zM30 42h1v1h-1zM45 42h1v1h-1zM7 43h1v1h-1zM10 43h1v1h-1zM16 43h2v1h-2zM30 43h1v1h-1zM16 44h2v1h-2zM30 44h1v1h-1zM8 45h2v1h-2zM30 45h1v1h-1zM8 46h2v1h-2zM15 46h1v1h-1zM18 46h1v1h-1zM30 46h1v1h-1zM8 47h2v1h-2zM15 47h1v1h-1zM18 47h1v1h-1zM8 48h2v1h-2zM15 48h1v1h-1zM18 48h1v1h-1zM15 49h1v1h-1zM18 49h1v1h-1zM29 50h1v1h-1zM28 51h1v1h-1zM0 52h5v1h-5zM13 52h1v1h-1zM17 52h1v1h-1zM31 52h1v1h-1zM5 53h1v1h-1zM31 53h1v1h-1zM5 54h1v1h-1zM14 54h2v1h-2zM17 54h1v1h-1zM5 55h1v1h-1zM15 55h1v1h-1zM17 55h1v1h-1zM32 55h1v1h-1zM5 56h1v1h-1zM17 56h1v1h-1zM5 57h1v1h-1zM16 57h2v1h-2zM26 57h1v1h-1zM33 57h1v1h-1zM45 57h4v1h-4zM5 58h1v1h-1zM33 58h1v1h-1zM5 59h1v1h-1zM33 59h1v1h-1zM5 60h1v1h-1zM33 60h1v1h-1zM44 60h1v1h-1zM5 61h1v1h-1zM24 61h1v1h-1zM62 61h1v1h-1zM5 62h1v1h-1zM25 62h1v1h-1zM35 62h1v1h-1zM5 63h1v1h-1zM27 63h1v1h-1zM48 63h1v1h-1zM55 63h1v1h-1zM5 64h1v1h-1zM0 65h6v1h-6zM46 65h1v1h-1zM44 66h1v1h-1zM46 66h1v1h-1zM36 67h1v1h-1zM45 67h1v1h-1zM57 67h1v1h-1zM8 68h5v1h-5zM8 69h1v1h-1zM31 69h1v1h-1zM48 69h1v1h-1zM8 70h1v1h-1zM47 70h1v1h-1zM50 70h1v1h-1zM8 71h1v1h-1zM47 71h1v1h-1zM51 71h1v1h-1zM8 72h1v1h-1zM29 72h1v1h-1zM65 72h1v1h-1zM8 73h1v1h-1zM47 73h1v1h-1zM8 74h1v1h-1zM10 74h2v1h-2zM27 74h1v1h-1zM53 74h1v1h-1zM8 75h1v1h-1zM10 75h1v1h-1zM48 75h1v1h-1zM81 75h5v1h-5zM8 76h1v1h-1zM54 76h1v1h-1zM9 77h1v1h-1zM19 77h1v1h-1zM22 77h1v1h-1zM26 77h1v1h-1zM50 77h1v1h-1zM18 78h1v1h-1zM23 78h1v1h-1zM17 79h1v1h-1zM24 79h2v1h-2zM65 80h1v1h-1zM16 81h1v1h-1zM16 82h1v1h-1zM16 83h1v1h-1zM16 84h1v1h-1zM16 85h1v1h-1z"/>
<path fill="#00afff" d="M0 0h5v1h-5zM0 1h5v1h-5zM0 2h5v1h-5zM0 3h5v1h-5zM0 4h5v1h-5zM0 5h5v1h-5zM44 5h1v1h-1zM52 5h1v1h-1zM0 6h5v1h-5zM34 6h1v1h-1zM43 6h1v1h-1zM52 6h1v1h-1zM0 7h5v1h-5zM42 7h1v1h-1zM52 7h1v1h-1zM0 8h5v1h-5zM33 8h1v1h-1zM41 8h1v1h-1zM49 8h4v1h-4zM0 9h5v1h-5zM12 9h1v1h-1zM21 9h1v1h-1zM41 9h1v1h-1zM0 10h5v1h-5zM11 10h1v1h-1zM32 10h1v1h-1zM42 10h1v1h-1zM46 10h1v1h-1zM0 11h7v1h-7zM9 11h1v1h-1zM22 11h1v1h-1zM43 11h1v1h-1zM0 12h6v1h-6zM44 12h1v1h-1zM31 13h1v1h-1zM22 14h1v1h-1zM36 15h2v1h-2zM21 16h1v1h-1zM29 16h1v1h-1zM49 17h1v1h-1zM5 18h1v1h-1zM6 19h1v1h-1zM47 19h1v1h-1zM50 19h1v1h-1zM7 20h1v1h-1zM28 21h1v1h-1zM35 21h1v1h-1zM45 21h1v1h-1zM27 22h1v1h-1zM35 22h1v1h-1zM40 22h1v1h-1zM8 23h1v1h-1zM42 23h1v1h-1zM46 23h1v1h-1zM26 24h1v1h-1zM9 25h1v1h-1zM26 25h1v1h-1zM31 26h1v1h-1zM10 27h1v1h-1zM47 27h1v1h-1zM27 28h1v1h-1zM0 29h5v1h-5zM27 29h1v1h-1zM31 29h1v1h-1zM40 29h1v1h-1zM0 30h5v1h-5zM33 30h1v1h-1zM50 30h1v1h-1zM0 31h6v1h-6zM34 31h1v1h-1zM0 32h7v1h-7zM26 32h1v1h-1zM48 32h2v1h-2zM7 33h2v1h-2zM8 34h1v1h-1zM34 36h1v1h-1zM9 37h1v1h-1zM29 37h1v1h-1zM34 37h1v1h-1zM40 37h1v1h-1zM43 37h3v1h-3zM5 38h2v1h-2zM38 38h1v1h-1zM43 38h1v1h-1zM46 38h1v1h-1zM7 39h1v1h-1zM10 39h1v1h-1zM30 39h1v1h-1zM47 39h1v1h-1zM7 40h1v1h-1zM48 40h1v1h-1zM10 42h1v1h-1zM8 44h2v1h-2zM16 45h2v1h-2zM30 47h1v1h-1zM15 50h1v1h-1zM15 51h1v1h-1zM17 51h1v1h-1zM14 52h2v1h-2zM37 52h1v1h-1zM0 53h5v1h-5zM13 53h4v1h-4zM27 53h1v1h-1zM0 54h5v1h-5zM16 54h1v1h-1zM0 55h5v1h-5zM16 55h1v1h-1zM0 56h5v1h-5zM16 56h1v1h-1zM0 57h5v1h-5zM49 57h1v1h-1zM0 58h5v1h-5zM26 58h1v1h-1zM50 58h1v1h-1zM0 59h5v1h-5zM44 59h1v1h-1zM0 60h5v1h-5zM25 60h1v1h-1zM51 60h1v1h-1zM0 61h5v1h-5zM33 61h1v1h-1zM54 61h1v1h-1zM0 62h5v1h-5zM34 62h1v1h-1zM50 62h1v1h-1zM0 63h5v1h-5zM28 63h1v1h-1zM0 64h5v1h-5zM30 64h1v1h-1zM47 64h1v1h-1zM55 64h1v1h-1zM56 66h1v1h-1zM31 67h1v1h-1zM37 67h1v1h-1zM44 67h1v1h-1zM46 67h1v1h-1zM31 68h1v1h-1zM34 68h1v1h-1zM45 68h3v1h-3zM9 69h4v1h-4zM47 69h1v1h-1zM49 69h1v1h-1zM9 70h4v1h-4zM31 70h1v1h-1zM58 70h1v1h-1zM9 71h4v1h-4zM31 71h1v1h-1zM9 72h4v1h-4zM30 72h2v1h-2zM52 72h1v1h-1zM59 72h1v1h-1zM9 73h4v1h-4zM28 73h1v1h-1zM62 73h3v1h-3zM9 74h1v1h-1zM9 75h1v1h-1zM27 75h1v1h-1zM9 76h1v1h-1zM20 77h2v1h-2zM49 77h1v1h-1zM19 78h1v1h-1zM22 78h1v1h-1zM26 78h1v1h-1zM18 79h1v1h-1zM23 79h1v1h-1zM17 80h1v1h-1zM24 80h2v1h-2zM69 80h1v1h-1z"/>
<path fill="#00bfff" d="M5 0h1v1h-1zM12 0h1v1h-1zM35 0h1v1h-1zM44 0h1v1h-1zM5 1h1v1h-1zM12 1h1v1h-1zM35 1h1v1h-1zM44 1h1v1h-1zM5 2h1v1h-1zM12 2h1v1h-1zM35 2h1v1h-1zM44 2h1v1h-1zM5 3h1v1h-1zM12 3h1v1h-1zM35 3h1v1h-1zM44 3h1v1h-1zM5 4h1v1h-1zM12 4h1v1h-1zM35 4h1v1h-1zM44 4h1v1h-1zM5 5h1v1h-1zM12 5h1v1h-1zM43 5h1v1h-1zM5 6h1v1h-1zM12 6h1v1h-1zM42 6h1v1h-1zM5 7h1v1h-1zM12 7h1v1h-1zM34 7h1v1h-1zM41 7h1v1h-1zM40 8h1v1h-1zM5 9h1v1h-1zM33 9h1v1h-1zM40 9h1v1h-1zM48 9h1v1h-1zM50 9h3v1h-3zM5 10h1v1h-1zM20 10h2v1h-2zM41 10h1v1h-1zM7 11h2v1h-2zM32 11h1v1h-1zM42 11h1v1h-1zM19 12h1v1h-1zM22 12h1v1h-1zM43 12h1v1h-1zM45 12h1v1h-1zM19 13h1v1h-1zM22 13h1v1h-1zM20 15h2v1h-2zM30 15h1v1h-1zM35 16h1v1h-1zM56 16h1v1h-1zM35 17h1v1h-1zM48 17h1v1h-1zM0 18h5v1h-5zM35 18h1v1h-1zM38 18h1v1h-1zM50 18h1v1h-1zM35 19h1v1h-1zM35 20h1v1h-1zM39 20h1v1h-1zM45 20h1v1h-1zM7 21h1v1h-1zM44 21h1v1h-1zM51 21h1v1h-1zM41 22h1v1h-1zM45 22h1v1h-1zM51 22h1v1h-1zM34 23h1v1h-1zM51 23h1v1h-1zM8 24h1v1h-1zM43 24h1v1h-1zM46 24h1v1h-1zM51 24h1v1h-1zM31 25h1v1h-1zM51 25h1v1h-1zM9 26h1v1h-1zM42 26h1v1h-1zM51 26h1v1h-1zM51 27h1v1h-1zM10 28h1v1h-1zM41 28h1v1h-1zM47 28h1v1h-1zM51 28h1v1h-1zM5 29h1v1h-1zM10 29h1v1h-1zM47 29h1v1h-1zM5 30h2v1h-2zM40 30h1v1h-1zM47 30h1v1h-1zM6 31h2v1h-2zM9 31h1v1h-1zM50 31h1v1h-1zM7 32h2v1h-2zM0 33h7v1h-7zM48 33h2v1h-2zM6 34h2v1h-2zM27 34h1v1h-1zM7 35h2v1h-2zM34 35h1v1h-1zM40 35h1v1h-1zM8 36h1v1h-1zM41 36h5v1h-5zM8 37h1v1h-1zM41 37h2v1h-2zM46 37h1v1h-1zM7 38h1v1h-1zM9 38h1v1h-1zM30 38h1v1h-1zM35 38h1v1h-1zM47 38h1v1h-1zM43 39h1v1h-1zM48 39h1v1h-1zM10 40h1v1h-1zM43 40h1v1h-1zM49 40h1v1h-1zM10 41h1v1h-1zM31 41h1v1h-1zM48 41h1v1h-1zM31 42h1v1h-1zM44 42h1v1h-1zM46 42h1v1h-1zM8 43h2v1h-2zM31 43h1v1h-1zM31 44h1v1h-1zM16 46h2v1h-2zM30 48h1v1h-1zM30 49h1v1h-1zM17 50h1v1h-1zM30 50h1v1h-1zM16 51h1v1h-1zM29 51h5v1h-5zM16 52h1v1h-1zM30 52h1v1h-1zM38 53h1v1h-1zM27 54h1v1h-1zM31 54h1v1h-1zM38 54h1v1h-1zM38 55h1v1h-1zM32 56h1v1h-1zM38 56h1v1h-1zM45 56h2v1h-2zM38 57h1v1h-1zM50 57h1v1h-1zM44 58h1v1h-1zM51 59h1v1h-1zM60 59h1v1h-1zM54 60h1v1h-1zM25 61h1v1h-1zM51 61h1v1h-1zM26 62h1v1h-1zM37 62h1v1h-1zM63 62h1v1h-1zM29 63h1v1h-1zM49 63h1v1h-1zM64 63h1v1h-1zM65 64h1v1h-1zM31 65h1v1h-1zM47 65h1v1h-1zM55 65h1v1h-1zM31 66h1v1h-1zM47 66h1v1h-1zM35 67h1v1h-1zM47 67h1v1h-1zM48 68h2v1h-2zM57 68h1v1h-1zM34 69h1v1h-1zM45 69h2v1h-2zM50 69h1v1h-1zM46 70h1v1h-1zM51 70h1v1h-1zM32 71h1v1h-1zM52 71h1v1h-1zM32 72h1v1h-1zM29 73h1v1h-1zM53 73h1v1h-1zM61 73h1v1h-1zM28 74h1v1h-1zM47 74h1v1h-1zM54 75h1v1h-1zM27 76h1v1h-1zM48 76h1v1h-1zM54 77h1v1h-1zM20 78h2v1h-2zM51 78h2v1h-2zM19 79h1v1h-1zM22 79h1v1h-1zM26 79h1v1h-1zM18 80h1v1h-1zM23 80h1v1h-1zM17 81h1v1h-1zM24 81h2v1h-2zM64 81h1v1h-1zM17 82h1v1h-1zM24 82h2v1h-2zM64 82h1v1h-1zM17 83h1v1h-1zM24 83h2v1h-2zM64 83h1v1h-1zM17 84h1v1h-1zM24 84h2v1h-2zM64 84h1v1h-1zM17 85h1v1h-1zM24 85h2v1h-2zM64 85h1v1h-1z"/>
<path fill="#00cfff" d="M6 0h1v1h-1zM11 0h1v1h-1zM43 0h1v1h-1zM6 1h1v1h-1zM11 1h1v1h-1zM43 1h1v1h-1zM6 2h1v1h-1zM11 2h1v1h-1zM43 2h1v1h-1zM6 3h1v1h-1zM11 3h1v1h-1zM43 3h1v1h-1zM6 4h1v1h-1zM11 4h1v1h-1zM43 4h1v1h-1zM6 5h1v1h-1zM11 5h1v1h-1zM35 5h1v1h-1zM35 6h1v1h-1zM5 8h1v1h-1zM12 8h1v1h-1zM34 8h1v1h-1zM49 9h1v1h-1zM6 10h1v1h-1zM10 10h1v1h-1zM47 10h1v1h-1zM52 10h1v1h-1zM20 11h2v1h-2zM46 11h1v1h-1zM44 13h1v1h-1zM20 14h2v1h-2zM31 14h1v1h-1zM36 14h2v1h-2zM49 16h1v1h-1zM29 17h1v1h-1zM50 17h1v1h-1zM56 17h1v1h-1zM29 18h1v1h-1zM47 18h1v1h-1zM29 19h1v1h-1zM46 19h1v1h-1zM51 19h1v1h-1zM29 20h1v1h-1zM44 20h1v1h-1zM51 20h1v1h-1zM40 21h1v1h-1zM43 21h1v1h-1zM7 22h1v1h-1zM42 22h3v1h-3zM27 23h1v1h-1zM43 23h1v1h-1zM45 23h1v1h-1zM31 24h1v1h-1zM8 25h1v1h-1zM43 25h1v1h-1zM46 25h1v1h-1zM9 27h1v1h-1zM27 27h1v1h-1zM42 27h1v1h-1zM0 28h6v1h-6zM30 28h1v1h-1zM6 29h1v1h-1zM41 29h1v1h-1zM51 29h1v1h-1zM7 30h1v1h-1zM9 30h1v1h-1zM27 30h1v1h-1zM32 30h1v1h-1zM51 30h1v1h-1zM8 31h1v1h-1zM40 31h1v1h-1zM47 31h1v1h-1zM34 32h1v1h-1zM47 32h1v1h-1zM50 32h1v1h-1zM47 33h1v1h-1zM0 34h6v1h-6zM34 34h1v1h-1zM40 34h1v1h-1zM48 34h1v1h-1zM6 35h1v1h-1zM28 35h1v1h-1zM41 35h5v1h-5zM7 36h1v1h-1zM29 36h1v1h-1zM46 36h1v1h-1zM6 37h2v1h-2zM30 37h1v1h-1zM8 38h1v1h-1zM34 38h1v1h-1zM39 38h1v1h-1zM42 38h1v1h-1zM8 39h2v1h-2zM31 39h1v1h-1zM31 40h1v1h-1zM43 41h1v1h-1zM49 41h1v1h-1zM8 42h2v1h-2zM47 42h1v1h-1zM45 43h1v1h-1zM31 45h1v1h-1zM16 47h2v1h-2zM45 48h1v1h-1zM45 49h1v1h-1zM16 50h1v1h-1zM34 51h1v1h-1zM28 52h1v1h-1zM30 53h1v1h-1zM27 55h1v1h-1zM31 55h1v1h-1zM47 56h2v1h-2zM32 57h1v1h-1zM44 57h1v1h-1zM68 57h2v1h-2zM32 58h1v1h-1zM38 58h1v1h-1zM51 58h1v1h-1zM26 59h1v1h-1zM32 59h1v1h-1zM38 59h1v1h-1zM58 59h2v1h-2zM32 60h1v1h-1zM72 60h1v1h-1zM32 61h1v1h-1zM33 62h1v1h-1zM54 62h1v1h-1zM30 63h2v1h-2zM31 64h1v1h-1zM43 64h1v1h-1zM48 64h1v1h-1zM81 64h5v1h-5zM43 65h1v1h-1zM34 67h1v1h-1zM48 67h1v1h-1zM56 67h1v1h-1zM38 68h1v1h-1zM44 68h1v1h-1zM51 69h1v1h-1zM32 70h1v1h-1zM52 70h1v1h-1zM46 71h1v1h-1zM58 71h1v1h-1zM53 72h1v1h-1zM30 73h1v1h-1zM60 73h1v1h-1zM54 74h1v1h-1zM28 75h1v1h-1zM55 76h1v1h-1zM27 77h1v1h-1zM79 77h1v1h-1zM27 78h1v1h-1zM49 78h2v1h-2zM53 78h1v1h-1zM79 78h1v1h-1zM79 79h1v1h-1zM26 80h1v1h-1zM79 80h1v1h-1zM18 81h1v1h-1zM23 81h1v1h-1zM26 81h1v1h-1zM79 81h1v1h-1zM18 82h1v1h-1zM23 82h1v1h-1zM26 82h1v1h-1zM79 82h1v1h-1zM18 83h1v1h-1zM23 83h1v1h-1zM26 83h1v1h-1zM79 83h1v1h-1zM18 84h1v1h-1zM23 84h1v1h-1zM26 84h1v1h-1zM79 84h1v1h-1zM18 85h1v1h-1zM23 85h1v1h-1zM26 85h1v1h-1zM79 85h1v1h-1z"/>
<path fill="#00dfff" d="M7 0h1v1h-1zM10 0h1v1h-1zM42 0h1v1h-1zM53 0h1v1h-1zM7 1h1v1h-1zM10 1h1v1h-1zM42 1h1v1h-1zM53 1h1v1h-1zM7 2h1v1h-1zM10 2h1v1h-1zM42 2h1v1h-1zM53 2h1v1h-1zM7 3h1v1h-1zM10 3h1v1h-1zM42 3h1v1h-1zM53 3h1v1h-1zM7 4h1v1h-1zM10 4h1v1h-1zM42 4h1v1h-1zM53 4h1v1h-1zM42 5h1v1h-1zM53 5h1v1h-1zM6 6h1v1h-1zM11 6h1v1h-1zM41 6h1v1h-1zM53 6h1v1h-1zM35 7h1v1h-1zM39 7h2v1h-2zM53 7h1v1h-1zM35 8h1v1h-1zM39 8h1v1h-1zM53 8h1v1h-1zM11 9h1v1h-1zM34 9h1v1h-1zM39 9h1v1h-1zM53 9h1v1h-1zM7 10h1v1h-1zM33 10h2v1h-2zM39 10h2v1h-2zM51 10h1v1h-1zM41 11h1v1h-1zM20 12h2v1h-2zM32 12h1v1h-1zM42 12h1v1h-1zM20 13h2v1h-2zM45 13h1v1h-1zM35 15h1v1h-1zM55 15h2v1h-2zM30 16h1v1h-1zM48 16h1v1h-1zM50 16h1v1h-1zM55 16h1v1h-1zM38 17h1v1h-1zM51 17h1v1h-1zM55 17h1v1h-1zM51 18h1v1h-1zM39 19h1v1h-1zM29 21h1v1h-1zM42 21h1v1h-1zM28 22h1v1h-1zM7 23h1v1h-1zM33 23h1v1h-1zM44 23h1v1h-1zM45 24h1v1h-1zM8 26h1v1h-1zM27 26h1v1h-1zM46 26h1v1h-1zM30 27h1v1h-1zM6 28h1v1h-1zM9 28h1v1h-1zM7 29h1v1h-1zM9 29h1v1h-1zM30 29h1v1h-1zM8 30h1v1h-1zM31 30h1v1h-1zM41 30h1v1h-1zM27 31h1v1h-1zM33 31h1v1h-1zM51 31h1v1h-1zM40 32h1v1h-1zM51 32h1v1h-1zM34 33h1v1h-1zM40 33h1v1h-1zM46 33h1v1h-1zM50 33h1v1h-1zM41 34h7v1h-7zM49 34h2v1h-2zM0 35h6v1h-6zM46 35h3v1h-3zM6 36h1v1h-1zM30 36h1v1h-1zM47 36h1v1h-1zM0 37h6v1h-6zM31 37h1v1h-1zM47 37h1v1h-1zM31 38h1v1h-1zM48 38h1v1h-1zM42 39h1v1h-1zM49 39h2v1h-2zM8 40h2v1h-2zM50 40h1v1h-1zM8 41h2v1h-2zM31 46h1v1h-1zM45 47h1v1h-1zM16 48h2v1h-2zM16 49h2v1h-2zM31 50h1v1h-1zM35 51h2v1h-2zM29 52h1v1h-1zM45 55h1v1h-1zM27 56h1v1h-1zM44 56h1v1h-1zM49 56h1v1h-1zM51 57h1v1h-1zM57 59h1v1h-1zM61 59h1v1h-1zM38 60h1v1h-1zM52 60h1v1h-1zM62 60h1v1h-1zM26 61h1v1h-1zM72 61h1v1h-1zM27 62h1v1h-1zM31 62h2v1h-2zM51 62h1v1h-1zM32 63h5v1h-5zM43 63h1v1h-1zM50 63h1v1h-1zM54 63h1v1h-1zM48 65h1v1h-1zM43 66h1v1h-1zM48 66h1v1h-1zM55 66h1v1h-1zM49 67h1v1h-1zM32 68h1v1h-1zM50 68h1v1h-1zM32 69h2v1h-2zM57 69h1v1h-1zM33 70h4v1h-4zM45 70h1v1h-1zM33 71h1v1h-1zM53 71h1v1h-1zM46 72h1v1h-1zM31 73h2v1h-2zM29 74h1v1h-1zM28 76h1v1h-1zM48 77h1v1h-1zM20 79h2v1h-2zM27 79h1v1h-1zM19 80h1v1h-1zM22 80h1v1h-1zM27 80h1v1h-1zM19 81h1v1h-1zM22 81h1v1h-1zM27 81h1v1h-1zM19 82h1v1h-1zM22 82h1v1h-1zM27 82h1v1h-1zM19 83h1v1h-1zM22 83h1v1h-1zM27 83h1v1h-1zM19 84h1v1h-1zM22 84h1v1h-1zM27 84h1v1h-1zM19 85h1v1h-1zM22 85h1v1h-1zM27 85h1v1h-1z"/>
<path fill="#00efff" d="M36 0h1v1h-1zM36 1h1v1h-1zM36 2h1v1h-1zM36 3h1v1h-1zM36 4h1v1h-1zM7 5h1v1h-1zM10 5h1v1h-1zM36 5h1v1h-1zM41 5h1v1h-1zM36 6h1v1h-1zM39 6h2v1h-2zM6 7h1v1h-1zM11 7h1v1h-1zM36 7h1v1h-1zM38 7h1v1h-1zM6 8h1v1h-1zM11 8h1v1h-1zM38 8h1v1h-1zM6 9h1v1h-1zM35 9h1v1h-1zM38 9h1v1h-1zM9 10h1v1h-1zM35 10h1v1h-1zM38 10h1v1h-1zM48 10h3v1h-3zM53 10h1v1h-1zM33 11h2v1h-2zM39 11h2v1h-2zM47 11h1v1h-1zM52 11h2v1h-2zM41 12h1v1h-1zM46 12h1v1h-1zM32 13h1v1h-1zM36 13h2v1h-2zM43 13h1v1h-1zM35 14h1v1h-1zM55 14h2v1h-2zM31 15h1v1h-1zM38 15h1v1h-1zM54 15h1v1h-1zM38 16h1v1h-1zM51 16h1v1h-1zM54 16h1v1h-1zM47 17h1v1h-1zM54 17h1v1h-1zM46 18h1v1h-1zM52 18h1v1h-1zM5 19h1v1h-1zM45 19h1v1h-1zM52 19h1v1h-1zM6 20h1v1h-1zM43 20h1v1h-1zM52 20h1v1h-1zM41 21h1v1h-1zM52 21h1v1h-1zM34 22h1v1h-1zM52 22h1v1h-1zM32 23h1v1h-1zM52 23h1v1h-1zM7 24h1v1h-1zM27 24h1v1h-1zM44 24h1v1h-1zM52 24h1v1h-1zM7 25h1v1h-1zM52 25h1v1h-1zM7 26h1v1h-1zM30 26h1v1h-1zM43 26h1v1h-1zM52 26h1v1h-1zM5 27h4v1h-4zM46 27h1v1h-1zM52 27h1v1h-1zM7 28h2v1h-2zM28 28h1v1h-1zM42 28h1v1h-1zM52 28h1v1h-1zM8 29h1v1h-1zM28 29h1v1h-1zM52 29h1v1h-1zM52 30h1v1h-1zM41 31h1v1h-1zM46 31h1v1h-1zM52 31h1v1h-1zM46 32h1v1h-1zM27 33h1v1h-1zM45 33h1v1h-1zM51 33h1v1h-1zM51 34h1v1h-1zM49 35h2v1h-2zM5 36h1v1h-1zM31 36h1v1h-1zM33 36h1v1h-1zM48 36h1v1h-1zM33 37h1v1h-1zM48 37h1v1h-1zM32 38h2v1h-2zM40 38h2v1h-2zM49 38h2v1h-2zM32 39h1v1h-1zM35 39h3v1h-3zM51 39h1v1h-1zM32 40h1v1h-1zM51 40h1v1h-1zM32 41h1v1h-1zM50 41h1v1h-1zM32 42h1v1h-1zM48 42h1v1h-1zM32 43h1v1h-1zM44 43h1v1h-1zM46 43h1v1h-1zM32 44h1v1h-1zM45 46h1v1h-1zM31 47h1v1h-1zM44 48h1v1h-1zM31 49h1v1h-1zM44 49h1v1h-1zM32 50h1v1h-1zM45 50h1v1h-1zM38 52h1v1h-1zM28 53h1v1h-1zM30 54h1v1h-1zM45 54h1v1h-1zM44 55h1v1h-1zM46 55h1v1h-1zM31 56h1v1h-1zM50 56h1v1h-1zM68 56h1v1h-1zM27 57h1v1h-1zM52 58h1v1h-1zM52 59h1v1h-1zM55 59h2v1h-2zM26 60h1v1h-1zM53 60h1v1h-1zM73 60h1v1h-1zM31 61h1v1h-1zM52 61h2v1h-2zM73 61h1v1h-1zM28 62h1v1h-1zM30 62h1v1h-1zM32 64h1v1h-1zM49 64h1v1h-1zM32 65h1v1h-1zM32 66h1v1h-1zM35 66h2v1h-2zM49 66h1v1h-1zM32 67h2v1h-2zM50 67h1v1h-1zM55 67h1v1h-1zM33 68h1v1h-1zM51 68h1v1h-1zM56 68h1v1h-1zM38 69h1v1h-1zM44 69h1v1h-1zM52 69h1v1h-1zM53 70h1v1h-1zM33 72h1v1h-1zM58 72h1v1h-1zM46 73h1v1h-1zM54 73h1v1h-1zM65 73h1v1h-1zM47 75h1v1h-1zM55 75h1v1h-1zM80 75h1v1h-1zM28 77h1v1h-1zM55 77h1v1h-1zM28 78h1v1h-1zM48 78h1v1h-1zM28 79h1v1h-1zM48 79h3v1h-3zM20 80h2v1h-2z"/>
<path fill="#00ffff" d="M8 0h2v1h-2zM37 0h5v1h-5zM8 1h2v1h-2zM37 1h5v1h-5zM8 2h2v1h-2zM37 2h5v1h-5zM8 3h2v1h-2zM37 3h5v1h-5zM8 4h2v1h-2zM37 4h5v1h-5zM8 5h2v1h-2zM37 5h4v1h-4zM7 6h1v1h-1zM10 6h1v1h-1zM37 6h2v1h-2zM37 7h1v1h-1zM36 8h2v1h-2zM36 9h2v1h-2zM8 10h1v1h-1zM36 10h2v1h-2zM35 11h4v1h-4zM51 11h1v1h-1zM33 12h8v1h-8zM52 12h2v1h-2zM34 13h2v1h-2zM38 13h1v1h-1zM42 13h1v1h-1zM46 13h1v1h-1zM53 13h4v1h-4zM34 14h1v1h-1zM38 14h1v1h-1zM44 14h2v1h-2zM53 14h2v1h-2zM34 15h1v1h-1zM48 15h6v1h-6zM34 16h1v1h-1zM47 16h1v1h-1zM52 16h2v1h-2zM30 17h1v1h-1zM52 17h2v1h-2zM53 18h4v1h-4zM0 19h5v1h-5zM44 19h1v1h-1zM40 20h1v1h-1zM42 20h1v1h-1zM29 22h1v1h-1zM31 23h1v1h-1zM27 25h1v1h-1zM30 25h1v1h-1zM44 25h2v1h-2zM6 26h1v1h-1zM0 27h5v1h-5zM43 27h1v1h-1zM29 28h1v1h-1zM46 28h1v1h-1zM29 29h1v1h-1zM42 29h1v1h-1zM46 29h1v1h-1zM30 30h1v1h-1zM42 30h1v1h-1zM46 30h1v1h-1zM42 31h1v1h-1zM27 32h1v1h-1zM41 32h2v1h-2zM45 32h1v1h-1zM52 32h1v1h-1zM41 33h4v1h-4zM52 33h1v1h-1zM28 34h1v1h-1zM52 34h1v1h-1zM29 35h1v1h-1zM33 35h1v1h-1zM51 35h2v1h-2zM0 36h5v1h-5zM49 36h4v1h-4zM32 37h1v1h-1zM49 37h4v1h-4zM51 38h2v1h-2zM33 39h2v1h-2zM38 39h1v1h-1zM52 39h1v1h-1zM42 40h1v1h-1zM52 40h1v1h-1zM51 41h1v1h-1zM49 42h1v1h-1zM47 43h1v1h-1zM45 44h1v1h-1zM32 45h1v1h-1zM44 47h1v1h-1zM31 48h1v1h-1zM46 48h1v1h-1zM46 49h1v1h-1zM44 50h1v1h-1zM44 51h2v1h-2zM29 53h1v1h-1zM28 54h1v1h-1zM44 54h1v1h-1zM30 55h1v1h-1zM47 55h1v1h-1zM51 56h1v1h-1zM69 56h1v1h-1zM31 57h1v1h-1zM52 57h1v1h-1zM27 58h1v1h-1zM31 58h1v1h-1zM31 59h1v1h-1zM53 59h2v1h-2zM31 60h1v1h-1zM38 61h1v1h-1zM29 62h1v1h-1zM43 62h1v1h-1zM37 63h1v1h-1zM81 63h5v1h-5zM33 64h1v1h-1zM54 64h1v1h-1zM49 65h1v1h-1zM54 65h1v1h-1zM81 65h5v1h-5zM33 66h2v1h-2zM37 66h1v1h-1zM54 66h1v1h-1zM38 67h1v1h-1zM43 67h1v1h-1zM54 67h1v1h-1zM52 68h1v1h-1zM54 68h2v1h-2zM53 69h2v1h-2zM54 70h1v1h-1zM57 70h1v1h-1zM54 71h1v1h-1zM54 72h1v1h-1zM59 73h1v1h-1zM30 74h1v1h-1zM55 74h1v1h-1zM29 75h1v1h-1zM56 76h1v1h-1zM51 79h2v1h-2zM28 80h1v1h-1zM48 80h2v1h-2zM64 80h1v1h-1zM20 81h2v1h-2zM28 81h1v1h-1zM45 81h4v1h-4zM20 82h2v1h-2zM28 82h1v1h-1zM45 82h4v1h-4zM20 83h2v1h-2zM28 83h1v1h-1zM45 83h4v1h-4zM20 84h2v1h-2zM28 84h1v1h-1zM45 84h4v1h-4zM20 85h2v1h-2zM28 85h1v1h-1zM45 85h4v1h-4z"/>
<path fill="#10ffef" d="M7 7h1v1h-1zM10 7h1v1h-1zM7 9h1v1h-1zM10 9h1v1h-1zM48 11h1v1h-1zM50 11h1v1h-1zM54 11h1v1h-1zM47 12h1v1h-1zM54 12h2v1h-2zM33 13h1v1h-1zM39 13h1v1h-1zM41 13h1v1h-1zM52 13h1v1h-1zM32 14h1v1h-1zM46 14h2v1h-2zM51 14h2v1h-2zM46 15h2v1h-2zM31 16h1v1h-1zM57 16h1v1h-1zM34 17h1v1h-1zM46 17h1v1h-1zM30 18h1v1h-1zM34 18h1v1h-1zM39 18h1v1h-1zM45 18h1v1h-1zM30 19h1v1h-1zM53 19h2v1h-2zM41 20h1v1h-1zM53 20h1v1h-1zM6 21h1v1h-1zM53 21h1v1h-1zM6 22h1v1h-1zM53 22h1v1h-1zM28 23h1v1h-1zM30 23h1v1h-1zM53 23h1v1h-1zM30 24h1v1h-1zM53 24h1v1h-1zM53 25h1v1h-1zM44 26h2v1h-2zM53 26h1v1h-1zM28 27h2v1h-2zM28 30h1v1h-1zM32 31h1v1h-1zM43 31h1v1h-1zM43 32h2v1h-2zM30 35h1v1h-1zM32 36h1v1h-1zM39 39h1v1h-1zM41 39h1v1h-1zM33 40h1v1h-1zM33 41h1v1h-1zM52 41h1v1h-1zM33 42h1v1h-1zM43 42h1v1h-1zM46 44h1v1h-1zM45 45h1v1h-1zM32 46h1v1h-1zM44 46h1v1h-1zM46 47h1v1h-1zM33 50h1v1h-1zM37 51h1v1h-1zM44 52h2v1h-2zM39 53h1v1h-1zM44 53h2v1h-2zM29 54h1v1h-1zM39 54h1v1h-1zM53 58h1v1h-1zM27 59h1v1h-1zM27 61h1v1h-1zM30 61h1v1h-1zM43 61h1v1h-1zM63 61h1v1h-1zM52 62h2v1h-2zM51 63h1v1h-1zM34 64h1v1h-1zM42 64h1v1h-1zM50 64h1v1h-1zM80 64h1v1h-1zM33 65h1v1h-1zM42 65h1v1h-1zM50 66h1v1h-1zM51 67h1v1h-1zM66 67h1v1h-1zM53 68h1v1h-1zM66 68h1v1h-1zM55 69h2v1h-2zM37 70h1v1h-1zM55 70h1v1h-1zM34 71h1v1h-1zM45 71h1v1h-1zM56 75h1v1h-1zM47 76h1v1h-1zM79 76h1v1h-1zM54 78h1v1h-1zM47 79h1v1h-1zM46 80h2v1h-2zM44 81h1v1h-1zM49 81h1v1h-1zM70 81h1v1h-1zM44 82h1v1h-1zM49 82h1v1h-1zM70 82h1v1h-1zM44 83h1v1h-1zM49 83h1v1h-1zM70 83h1v1h-1zM44 84h1v1h-1zM49 84h1v1h-1zM70 84h1v1h-1zM44 85h1v1h-1zM49 85h1v1h-1zM70 85h1v1h-1z"/>
<path fill="#20ffdf" d="M54 0h1v1h-1zM54 1h1v1h-1zM54 2h1v1h-1zM54 3h1v1h-1zM54 4h1v1h-1zM54 5h1v1h-1zM8 6h2v1h-2zM54 6h1v1h-1zM54 7h1v1h-1zM7 8h1v1h-1zM10 8h1v1h-1zM54 8h1v1h-1zM54 9h1v1h-1zM54 10h1v1h-1zM49 11h1v1h-1zM51 12h1v1h-1zM56 12h1v1h-1zM40 13h1v1h-1zM47 13h1v1h-1zM51 13h1v1h-1zM33 14h1v1h-1zM39 14h1v1h-1zM43 14h1v1h-1zM48 14h3v1h-3zM57 14h1v1h-1zM45 15h1v1h-1zM57 15h1v1h-1zM46 16h1v1h-1zM57 17h1v1h-1zM34 19h1v1h-1zM43 19h1v1h-1zM55 19h2v1h-2zM30 20h1v1h-1zM54 20h1v1h-1zM30 21h1v1h-1zM34 21h1v1h-1zM30 22h1v1h-1zM6 23h1v1h-1zM29 23h1v1h-1zM6 24h1v1h-1zM6 25h1v1h-1zM0 26h6v1h-6zM28 26h2v1h-2zM45 27h1v1h-1zM53 27h1v1h-1zM43 28h1v1h-1zM53 28h1v1h-1zM43 29h1v1h-1zM53 29h1v1h-1zM29 30h1v1h-1zM43 30h1v1h-1zM53 30h1v1h-1zM28 31h1v1h-1zM31 31h1v1h-1zM44 31h2v1h-2zM33 32h1v1h-1zM33 34h1v1h-1zM31 35h2v1h-2zM40 39h1v1h-1zM34 40h1v1h-1zM42 41h1v1h-1zM50 42h1v1h-1zM33 43h1v1h-1zM48 43h1v1h-1zM33 44h1v1h-1zM44 44h1v1h-1zM44 45h1v1h-1zM46 45h1v1h-1zM46 46h1v1h-1zM32 47h1v1h-1zM34 50h1v1h-1zM46 50h1v1h-1zM46 54h1v1h-1zM28 55h1v1h-1zM39 55h1v1h-1zM48 55h1v1h-1zM30 56h1v1h-1zM43 56h1v1h-1zM52 56h1v1h-1zM30 57h1v1h-1zM43 57h1v1h-1zM53 57h1v1h-1zM30 58h1v1h-1zM43 58h1v1h-1zM30 59h1v1h-1zM43 59h1v1h-1zM27 60h1v1h-1zM30 60h1v1h-1zM43 60h1v1h-1zM38 62h1v1h-1zM64 62h1v1h-1zM81 62h5v1h-5zM53 63h1v1h-1zM65 63h1v1h-1zM35 64h1v1h-1zM34 65h1v1h-1zM50 65h1v1h-1zM66 65h1v1h-1zM51 66h1v1h-1zM66 66h1v1h-1zM52 67h2v1h-2zM43 68h1v1h-1zM66 69h1v1h-1zM44 70h1v1h-1zM56 70h1v1h-1zM55 71h1v1h-1zM57 71h1v1h-1zM55 72h1v1h-1zM33 73h1v1h-1zM55 73h1v1h-1zM58 73h1v1h-1zM31 74h1v1h-1zM46 74h1v1h-1zM29 76h1v1h-1zM47 77h1v1h-1zM56 77h1v1h-1zM47 78h1v1h-1zM53 79h1v1h-1zM68 79h1v1h-1zM45 80h1v1h-1zM50 80h1v1h-1z"/>
<path fill="#30ffcf" d="M8 7h2v1h-2zM8 9h2v1h-2zM55 11h1v1h-1zM50 12h1v1h-1zM50 13h1v1h-1zM57 13h1v1h-1zM42 14h1v1h-1zM32 15h2v1h-2zM39 15h1v1h-1zM44 15h1v1h-1zM31 17h1v1h-1zM44 18h1v1h-1zM40 19h1v1h-1zM42 19h1v1h-1zM5 20h1v1h-1zM34 20h1v1h-1zM55 20h1v1h-1zM54 21h1v1h-1zM31 22h1v1h-1zM33 22h1v1h-1zM54 22h1v1h-1zM54 23h1v1h-1zM28 24h1v1h-1zM54 24h1v1h-1zM54 25h1v1h-1zM44 27h1v1h-1zM44 30h2v1h-2zM30 31h1v1h-1zM53 31h1v1h-1zM53 32h1v1h-1zM28 33h1v1h-1zM33 33h1v1h-1zM53 33h1v1h-1zM29 34h2v1h-2zM53 34h1v1h-1zM53 35h1v1h-1zM53 36h1v1h-1zM53 37h1v1h-1zM53 38h1v1h-1zM53 39h1v1h-1zM35 40h2v1h-2zM41 40h1v1h-1zM53 40h1v1h-1zM34 41h1v1h-1zM51 42h1v1h-1zM49 43h1v1h-1zM47 44h1v1h-1zM33 45h1v1h-1zM47 47h1v1h-1zM47 48h1v1h-1zM32 49h1v1h-1zM47 49h1v1h-1zM35 50h1v1h-1zM46 51h1v1h-1zM39 52h1v1h-1zM43 52h1v1h-1zM43 53h1v1h-1zM43 54h1v1h-1zM29 55h1v1h-1zM43 55h1v1h-1zM49 55h1v1h-1zM28 56h1v1h-1zM39 56h1v1h-1zM54 58h1v1h-1zM69 58h1v1h-1zM71 60h1v1h-1zM28 61h2v1h-2zM52 63h1v1h-1zM80 63h1v1h-1zM36 64h1v1h-1zM51 64h1v1h-1zM35 65h2v1h-2zM80 65h1v1h-1zM38 66h1v1h-1zM42 66h1v1h-1zM53 66h1v1h-1zM66 70h1v1h-1zM56 71h1v1h-1zM66 71h1v1h-1zM45 72h1v1h-1zM56 74h1v1h-1zM29 77h1v1h-1zM29 78h1v1h-1zM29 79h1v1h-1zM46 79h1v1h-1zM66 79h2v1h-2zM29 80h1v1h-1zM44 80h1v1h-1zM51 80h1v1h-1zM29 81h1v1h-1zM43 81h1v1h-1zM50 81h1v1h-1zM29 82h1v1h-1zM43 82h1v1h-1zM50 82h1v1h-1zM29 83h1v1h-1zM43 83h1v1h-1zM50 83h1v1h-1zM29 84h1v1h-1zM43 84h1v1h-1zM50 84h1v1h-1zM29 85h1v1h-1zM43 85h1v1h-1zM50 85h1v1h-1z"/>
<path fill="#40ffbf" d="M48 12h1v1h-1zM48 13h1v1h-1zM40 14h1v1h-1zM32 16h2v1h-2zM39 16h1v1h-1zM45 16h1v1h-1zM39 17h1v1h-1zM45 17h1v1h-1zM31 18h1v1h-1zM57 18h1v1h-1zM55 21h1v1h-1zM32 22h1v1h-1zM55 22h1v1h-1zM55 23h1v1h-1zM29 24h1v1h-1zM55 24h1v1h-1zM5 25h1v1h-1zM28 25h2v1h-2zM54 26h1v1h-1zM44 28h2v1h-2zM45 29h1v1h-1zM29 31h1v1h-1zM28 32h1v1h-1zM31 34h2v1h-2zM37 40h2v1h-2zM34 42h1v1h-1zM43 43h1v1h-1zM48 44h1v1h-1zM47 45h1v1h-1zM33 46h1v1h-1zM47 46h1v1h-1zM32 48h1v1h-1zM36 50h1v1h-1zM43 50h1v1h-1zM38 51h1v1h-1zM43 51h1v1h-1zM46 53h1v1h-1zM47 54h1v1h-1zM50 55h2v1h-2zM29 56h1v1h-1zM53 56h1v1h-1zM28 57h1v1h-1zM39 57h1v1h-1zM67 57h1v1h-1zM28 58h1v1h-1zM60 58h1v1h-1zM68 58h1v1h-1zM62 59h1v1h-1zM38 63h1v1h-1zM42 63h1v1h-1zM53 64h1v1h-1zM66 64h1v1h-1zM37 65h1v1h-1zM51 65h1v1h-1zM53 65h1v1h-1zM52 66h1v1h-1zM39 67h1v1h-1zM39 68h1v1h-1zM43 69h1v1h-1zM35 71h1v1h-1zM44 71h1v1h-1zM34 72h1v1h-1zM57 72h1v1h-1zM66 72h1v1h-1zM56 73h1v1h-1zM32 74h1v1h-1zM30 75h1v1h-1zM46 75h1v1h-1zM55 78h1v1h-1zM65 79h1v1h-1zM52 80h1v1h-1zM42 81h1v1h-1zM51 81h1v1h-1zM42 82h1v1h-1zM51 82h1v1h-1zM42 83h1v1h-1zM51 83h1v1h-1zM42 84h1v1h-1zM51 84h1v1h-1zM42 85h1v1h-1zM51 85h1v1h-1z"/>
<path fill="#50ffaf" d="M8 8h2v1h-2zM55 10h1v1h-1zM56 11h1v1h-1zM49 12h1v1h-1zM57 12h1v1h-1zM49 13h1v1h-1zM41 14h1v1h-1zM43 15h1v1h-1zM33 17h1v1h-1zM43 18h1v1h-1zM31 19h1v1h-1zM41 19h1v1h-1zM0 20h5v1h-5zM56 20h1v1h-1zM5 21h1v1h-1zM5 22h1v1h-1zM5 23h1v1h-1zM5 24h1v1h-1zM0 25h5v1h-5zM55 25h1v1h-1zM54 27h1v1h-1zM54 28h1v1h-1zM44 29h1v1h-1zM30 32h3v1h-3zM29 33h1v1h-1zM39 40h2v1h-2zM35 41h1v1h-1zM53 41h1v1h-1zM42 42h1v1h-1zM52 42h1v1h-1zM34 43h1v1h-1zM50 43h1v1h-1zM34 44h1v1h-1zM48 48h1v1h-1zM33 49h1v1h-1zM43 49h1v1h-1zM47 50h1v1h-1zM42 52h1v1h-1zM46 52h1v1h-1zM40 53h1v1h-1zM42 53h1v1h-1zM42 54h1v1h-1zM52 55h1v1h-1zM29 57h1v1h-1zM70 57h1v1h-1zM29 58h1v1h-1zM39 58h1v1h-1zM55 58h1v1h-1zM59 58h1v1h-1zM61 58h1v1h-1zM28 59h2v1h-2zM72 59h1v1h-1zM28 60h2v1h-2zM63 60h1v1h-1zM71 61h1v1h-1zM81 61h5v1h-5zM37 64h1v1h-1zM52 64h1v1h-1zM38 65h1v1h-1zM41 65h1v1h-1zM52 65h1v1h-1zM39 66h1v1h-1zM42 67h1v1h-1zM39 69h1v1h-1zM56 72h1v1h-1zM45 73h1v1h-1zM57 73h1v1h-1zM57 74h1v1h-1zM64 74h1v1h-1zM57 75h1v1h-1zM57 76h1v1h-1zM46 78h1v1h-1zM45 79h1v1h-1zM54 79h1v1h-1zM69 79h1v1h-1zM43 80h1v1h-1zM70 80h1v1h-1z"/>
<path fill="#60ff9f" d="M55 9h1v1h-1zM44 16h1v1h-1zM32 17h1v1h-1zM44 17h1v1h-1zM40 18h1v1h-1zM31 21h1v1h-1zM56 21h1v1h-1zM56 22h1v1h-1zM56 23h1v1h-1zM56 24h1v1h-1zM55 26h1v1h-1zM54 29h1v1h-1zM29 32h1v1h-1zM30 33h3v1h-3zM41 41h1v1h-1zM35 42h1v1h-1zM49 44h1v1h-1zM34 45h1v1h-1zM48 45h1v1h-1zM48 46h1v1h-1zM33 47h1v1h-1zM43 47h1v1h-1zM48 47h1v1h-1zM43 48h1v1h-1zM48 49h1v1h-1zM37 50h1v1h-1zM48 54h1v1h-1zM42 55h1v1h-1zM67 56h1v1h-1zM58 58h1v1h-1zM39 59h1v1h-1zM42 62h1v1h-1zM80 62h1v1h-1zM38 64h1v1h-1zM41 64h1v1h-1zM39 65h1v1h-1zM42 68h1v1h-1zM38 70h1v1h-1zM43 70h1v1h-1zM58 74h1v1h-1zM63 74h1v1h-1zM81 74h5v1h-5zM46 76h1v1h-1zM46 77h1v1h-1zM44 79h1v1h-1zM42 80h1v1h-1zM53 80h1v1h-1zM41 81h1v1h-1zM52 81h1v1h-1zM41 82h1v1h-1zM52 82h1v1h-1zM41 83h1v1h-1zM52 83h1v1h-1zM41 84h1v1h-1zM52 84h1v1h-1zM41 85h1v1h-1zM52 85h1v1h-1z"/>
<path fill="#70ff8f" d="M55 0h1v1h-1zM55 1h1v1h-1zM55 2h1v1h-1zM55 3h1v1h-1zM55 4h1v1h-1zM55 5h1v1h-1zM55 6h1v1h-1zM55 7h1v1h-1zM55 8h1v1h-1zM40 15h1v1h-1zM42 15h1v1h-1zM33 18h1v1h-1zM42 18h1v1h-1zM57 19h1v1h-1zM31 20h1v1h-1zM0 21h5v1h-5zM0 22h5v1h-5zM0 23h5v1h-5zM0 24h5v1h-5zM56 25h1v1h-1zM55 27h1v1h-1zM54 30h1v1h-1zM54 31h1v1h-1zM36 41h1v1h-1zM35 43h1v1h-1zM51 43h1v1h-1zM43 44h1v1h-1zM34 46h1v1h-1zM43 46h1v1h-1zM33 48h1v1h-1zM34 49h1v1h-1zM39 51h1v1h-1zM42 51h1v1h-1zM47 51h1v1h-1zM40 52h1v1h-1zM41 53h1v1h-1zM47 53h1v1h-1zM40 54h1v1h-1zM49 54h1v1h-1zM53 55h1v1h-1zM42 56h1v1h-1zM54 57h1v1h-1zM56 58h2v1h-2zM70 58h1v1h-1zM71 59h1v1h-1zM73 59h1v1h-1zM39 60h1v1h-1zM74 60h1v1h-1zM39 62h1v1h-1zM65 62h1v1h-1zM72 62h1v1h-1zM39 63h1v1h-1zM39 64h1v1h-1zM40 65h1v1h-1zM41 66h1v1h-1zM36 71h1v1h-1zM44 72h1v1h-1zM45 74h1v1h-1zM59 74h1v1h-1zM62 74h1v1h-1zM31 75h1v1h-1zM30 76h1v1h-1zM56 78h1v1h-1z"/>
<path fill="#80ff80" d="M56 10h1v1h-1zM57 11h1v1h-1zM41 15h1v1h-1zM43 16h1v1h-1zM43 17h1v1h-1zM32 18h1v1h-1zM41 18h1v1h-1zM33 19h1v1h-1zM33 21h1v1h-1zM56 26h1v1h-1zM54 32h1v1h-1zM54 33h1v1h-1zM54 34h1v1h-1zM54 35h1v1h-1zM54 36h1v1h-1zM54 37h1v1h-1zM54 38h1v1h-1zM54 39h1v1h-1zM54 40h1v1h-1zM37 41h3v1h-3zM36 42h1v1h-1zM53 42h1v1h-1zM52 43h1v1h-1zM50 44h1v1h-1zM43 45h1v1h-1zM49 45h1v1h-1zM49 46h1v1h-1zM34 47h1v1h-1zM49 47h1v1h-1zM49 48h1v1h-1zM48 50h1v1h-1zM41 52h1v1h-1zM47 52h1v1h-1zM41 54h1v1h-1zM50 54h2v1h-2zM40 55h1v1h-1zM70 56h1v1h-1zM42 57h1v1h-1zM42 58h1v1h-1zM67 58h1v1h-1zM70 59h1v1h-1zM39 61h1v1h-1zM64 61h1v1h-1zM74 61h1v1h-1zM80 61h1v1h-1zM73 62h1v1h-1zM66 63h1v1h-1zM40 64h1v1h-1zM40 66h1v1h-1zM81 66h5v1h-5zM42 69h1v1h-1zM34 73h1v1h-1zM66 73h1v1h-1zM33 74h1v1h-1zM60 74h2v1h-2zM65 74h1v1h-1zM79 75h1v1h-1zM30 77h1v1h-1zM57 77h1v1h-1zM30 78h1v1h-1zM45 78h1v1h-1zM30 79h1v1h-1zM43 79h1v1h-1zM30 80h1v1h-1zM41 80h1v1h-1zM30 81h1v1h-1zM63 81h1v1h-1zM30 82h1v1h-1zM63 82h1v1h-1zM30 83h1v1h-1zM63 83h1v1h-1zM30 84h1v1h-1zM63 84h1v1h-1zM30 85h1v1h-1zM63 85h1v1h-1z"/>
<path fill="#8fff70" d="M58 13h1v1h-1zM68 17h1v1h-1zM32 19h1v1h-1zM32 21h1v1h-1zM55 28h1v1h-1zM40 41h1v1h-1zM42 43h1v1h-1zM35 44h1v1h-1zM35 45h1v1h-1zM34 48h1v1h-1zM35 49h1v1h-1zM49 49h1v1h-1zM38 50h1v1h-1zM42 50h1v1h-1zM52 54h1v1h-1zM54 56h1v1h-1zM62 58h1v1h-1zM42 59h1v1h-1zM63 59h1v1h-1zM69 59h1v1h-1zM70 60h1v1h-1zM81 60h5v1h-5zM42 61h1v1h-1zM79 64h1v1h-1zM40 67h2v1h-2zM37 71h1v1h-1zM43 71h1v1h-1zM35 72h1v1h-1zM44 73h1v1h-1zM80 74h1v1h-1zM45 75h1v1h-1zM58 75h1v1h-1zM55 79h1v1h-1zM64 79h1v1h-1zM40 81h1v1h-1zM53 81h1v1h-1zM40 82h1v1h-1zM53 82h1v1h-1zM40 83h1v1h-1zM53 83h1v1h-1zM40 84h1v1h-1zM53 84h1v1h-1zM40 85h1v1h-1zM53 85h1v1h-1z"/>
<path fill="#9fff60" d="M58 12h1v1h-1zM58 14h1v1h-1zM40 16h1v1h-1zM42 16h1v1h-1zM68 16h1v1h-1zM40 17h1v1h-1zM42 17h1v1h-1zM69 17h1v1h-1zM33 20h1v1h-1zM57 20h1v1h-1zM56 27h1v1h-1zM55 29h1v1h-1zM54 41h1v1h-1zM37 42h1v1h-1zM41 42h1v1h-1zM36 43h1v1h-1zM51 44h1v1h-1zM50 45h1v1h-1zM35 46h1v1h-1zM50 46h1v1h-1zM50 47h1v1h-1zM50 48h1v1h-1zM36 49h1v1h-1zM50 49h1v1h-1zM49 50h1v1h-1zM48 51h1v1h-1zM48 53h1v1h-1zM53 54h1v1h-1zM41 55h1v1h-1zM69 55h1v1h-1zM40 56h1v1h-1zM71 58h1v1h-1zM42 60h1v1h-1zM41 63h1v1h-1zM67 65h1v1h-1zM40 68h1v1h-1zM39 70h1v1h-1zM32 75h1v1h-1zM78 77h1v1h-1zM44 78h1v1h-1zM78 78h1v1h-1zM42 79h1v1h-1zM78 79h1v1h-1zM40 80h1v1h-1zM54 80h1v1h-1zM78 80h1v1h-1zM78 81h1v1h-1zM78 82h1v1h-1zM78 83h1v1h-1zM78 84h1v1h-1zM78 85h1v1h-1z"/>
<path fill="#afff50" d="M56 9h1v1h-1zM57 10h1v1h-1zM58 15h1v1h-1zM58 16h1v1h-1zM67 16h1v1h-1zM69 16h1v1h-1zM67 17h1v1h-1zM68 18h1v1h-1zM32 20h1v1h-1zM57 21h1v1h-1zM57 22h1v1h-1zM57 23h1v1h-1zM57 24h1v1h-1zM55 30h1v1h-1zM38 42h2v1h-2zM53 43h1v1h-1zM35 47h1v1h-1zM35 48h1v1h-1zM42 49h1v1h-1zM50 50h1v1h-1zM40 51h2v1h-2zM54 55h1v1h-1zM68 55h1v1h-1zM41 56h1v1h-1zM40 57h1v1h-1zM55 57h1v1h-1zM60 57h1v1h-1zM66 57h1v1h-1zM68 59h1v1h-1zM80 60h1v1h-1zM66 62h1v1h-1zM71 62h1v1h-1zM40 63h1v1h-1zM79 63h1v1h-1zM67 64h1v1h-1zM79 65h1v1h-1zM67 66h1v1h-1zM80 66h1v1h-1zM41 68h1v1h-1zM42 70h1v1h-1zM43 72h1v1h-1zM44 74h1v1h-1zM45 76h1v1h-1zM45 77h1v1h-1zM63 80h1v1h-1z"/>
<path fill="#bfff40" d="M56 0h1v1h-1zM56 1h1v1h-1zM56 2h1v1h-1zM56 3h1v1h-1zM56 4h1v1h-1zM56 5h1v1h-1zM56 6h1v1h-1zM56 7h1v1h-1zM56 8h1v1h-1zM41 16h1v1h-1zM41 17h1v1h-1zM66 17h1v1h-1zM67 18h1v1h-1zM69 18h1v1h-1zM68 19h1v1h-1zM57 25h1v1h-1zM56 28h1v1h-1zM55 31h1v1h-1zM40 42h1v1h-1zM37 43h1v1h-1zM36 44h1v1h-1zM42 44h1v1h-1zM52 44h1v1h-1zM51 45h1v1h-1zM51 46h1v1h-1zM51 47h1v1h-1zM42 48h1v1h-1zM51 48h1v1h-1zM37 49h1v1h-1zM51 49h1v1h-1zM39 50h1v1h-1zM49 51h1v1h-1zM48 52h1v1h-1zM49 53h3v1h-3zM54 54h1v1h-1zM61 57h1v1h-1zM81 59h5v1h-5zM64 60h1v1h-1zM70 61h1v1h-1zM67 67h1v1h-1zM67 68h1v1h-1zM40 69h1v1h-1zM38 71h1v1h-1zM31 76h1v1h-1zM78 76h1v1h-1zM43 78h1v1h-1zM57 78h1v1h-1zM41 79h1v1h-1zM56 79h1v1h-1zM70 79h1v1h-1zM39 81h1v1h-1zM54 81h1v1h-1zM39 82h1v1h-1zM54 82h1v1h-1zM39 83h1v1h-1zM54 83h1v1h-1zM39 84h1v1h-1zM54 84h1v1h-1zM39 85h1v1h-1zM54 85h1v1h-1z"/>
<path fill="#cfff30" d="M58 11h1v1h-1zM66 16h1v1h-1zM58 17h1v1h-1zM70 17h1v1h-1zM69 19h1v1h-1zM57 26h1v1h-1zM56 29h1v1h-1zM55 32h1v1h-1zM54 42h1v1h-1zM38 43h1v1h-1zM36 45h1v1h-1zM52 45h1v1h-1zM36 46h1v1h-1zM42 46h1v1h-1zM52 46h1v1h-1zM36 47h1v1h-1zM42 47h1v1h-1zM52 47h1v1h-1zM36 48h1v1h-1zM52 48h1v1h-1zM51 50h1v1h-1zM50 51h2v1h-2zM52 53h2v1h-2zM41 57h1v1h-1zM59 57h1v1h-1zM71 57h1v1h-1zM40 58h1v1h-1zM63 58h1v1h-1zM66 58h1v1h-1zM72 58h1v1h-1zM67 59h1v1h-1zM74 59h1v1h-1zM65 61h1v1h-1zM40 62h2v1h-2zM79 62h1v1h-1zM67 63h1v1h-1zM41 69h1v1h-1zM67 69h1v1h-1zM67 70h1v1h-1zM42 71h1v1h-1zM43 73h1v1h-1zM34 74h1v1h-1zM44 75h1v1h-1zM58 76h1v1h-1zM67 78h2v1h-2zM71 81h1v1h-1zM71 82h1v1h-1zM71 83h1v1h-1zM71 84h1v1h-1zM71 85h1v1h-1z"/>
<path fill="#dfff20" d="M65 16h1v1h-1zM65 17h1v1h-1zM58 18h1v1h-1zM66 18h1v1h-1zM67 19h1v1h-1zM68 20h1v1h-1zM55 33h1v1h-1zM55 34h1v1h-1zM55 35h1v1h-1zM55 36h1v1h-1zM55 37h1v1h-1zM55 38h1v1h-1zM55 39h1v1h-1zM55 40h1v1h-1zM41 43h1v1h-1zM37 44h1v1h-1zM42 45h1v1h-1zM52 49h1v1h-1zM41 50h1v1h-1zM52 50h1v1h-1zM52 51h1v1h-1zM49 52h4v1h-4zM54 53h2v1h-2zM55 54h1v1h-1zM55 55h1v1h-1zM70 55h1v1h-1zM55 56h1v1h-1zM66 56h1v1h-1zM41 58h1v1h-1zM66 59h1v1h-1zM80 59h1v1h-1zM79 61h1v1h-1zM74 62h1v1h-1zM67 71h1v1h-1zM67 72h1v1h-1zM35 73h1v1h-1zM43 74h1v1h-1zM66 74h1v1h-1zM33 75h1v1h-1zM59 75h1v1h-1zM31 77h1v1h-1zM44 77h1v1h-1zM31 78h1v1h-1zM42 78h1v1h-1zM65 78h2v1h-2zM31 79h1v1h-1zM40 79h1v1h-1zM31 80h1v1h-1zM39 80h1v1h-1zM55 80h1v1h-1zM31 81h1v1h-1zM31 82h1v1h-1zM31 83h1v1h-1zM31 84h1v1h-1zM31 85h1v1h-1z"/>
<path fill="#efff10" d="M57 9h1v1h-1zM59 12h1v1h-1zM59 13h1v1h-1zM65 14h1v1h-1zM65 15h4v1h-4zM70 16h1v1h-1zM70 18h1v1h-1zM69 20h1v1h-1zM57 27h1v1h-1zM81 28h5v1h-5zM81 29h5v1h-5zM56 30h1v1h-1zM55 41h1v1h-1zM39 43h1v1h-1zM53 44h1v1h-1zM37 45h1v1h-1zM37 46h1v1h-1zM37 47h1v1h-1zM37 48h1v1h-1zM53 48h1v1h-1zM38 49h1v1h-1zM53 49h1v1h-1zM40 50h1v1h-1zM53 50h1v1h-1zM53 51h2v1h-2zM53 52h4v1h-4zM56 53h1v1h-1zM81 53h5v1h-5zM56 57h1v1h-1zM58 57h1v1h-1zM62 57h1v1h-1zM40 59h1v1h-1zM64 59h1v1h-1zM69 60h1v1h-1zM66 61h1v1h-1zM40 70h2v1h-2zM39 71h1v1h-1zM36 72h1v1h-1zM42 72h1v1h-1zM79 74h1v1h-1zM43 75h1v1h-1zM64 75h1v1h-1zM44 76h1v1h-1zM43 77h1v1h-1zM41 78h1v1h-1zM69 78h1v1h-1zM71 80h1v1h-1z"/>
<path fill="#ffff00" d="M57 0h1v1h-1zM57 1h1v1h-1zM57 2h1v1h-1zM57 3h1v1h-1zM57 4h1v1h-1zM57 5h1v1h-1zM57 6h1v1h-1zM57 7h1v1h-1zM57 8h1v1h-1zM58 10h1v1h-1zM64 13h2v1h-2zM64 14h1v1h-1zM65 18h1v1h-1zM58 19h1v1h-1zM66 19h1v1h-1zM67 20h1v1h-1zM68 21h1v1h-1zM40 43h1v1h-1zM54 43h1v1h-1zM38 44h1v1h-1zM53 45h1v1h-1zM53 46h1v1h-1zM53 47h1v1h-1zM69 48h1v1h-1zM54 50h1v1h-1zM55 51h1v1h-1zM73 52h1v1h-1zM81 52h5v1h-5zM80 53h1v1h-1zM56 54h1v1h-1zM67 55h1v1h-1zM71 56h1v1h-1zM73 58h1v1h-1zM81 58h5v1h-5zM41 59h1v1h-1zM65 59h1v1h-1zM65 60h2v1h-2zM75 60h1v1h-1zM79 60h1v1h-1zM40 61h2v1h-2zM67 62h1v1h-1zM70 62h1v1h-1zM72 63h1v1h-1zM79 66h1v1h-1zM32 76h1v1h-1zM38 81h1v1h-1zM55 81h1v1h-1zM38 82h1v1h-1zM55 82h1v1h-1zM38 83h1v1h-1zM55 83h1v1h-1zM38 84h1v1h-1zM55 84h1v1h-1zM38 85h1v1h-1zM55 85h1v1h-1z"/>
<path fill="#ffef00" d="M64 12h1v1h-1zM59 14h1v1h-1zM66 14h1v1h-1zM64 15h1v1h-1zM69 15h1v1h-1zM64 16h1v1h-1zM71 17h1v1h-1zM70 19h1v1h-1zM69 21h1v1h-1zM81 27h5v1h-5zM57 28h1v1h-1zM80 28h1v1h-1zM80 29h1v1h-1zM81 30h5v1h-5zM56 31h1v1h-1zM38 45h1v1h-1zM38 46h1v1h-1zM38 47h1v1h-1zM38 48h1v1h-1zM39 49h1v1h-1zM41 49h1v1h-1zM54 49h1v1h-1zM55 50h1v1h-1zM56 51h1v1h-1zM80 52h1v1h-1zM73 53h1v1h-1zM81 54h5v1h-5zM56 55h1v1h-1zM57 57h1v1h-1zM63 57h1v1h-1zM64 58h2v1h-2zM80 58h1v1h-1zM40 60h2v1h-2zM67 60h1v1h-1zM75 61h1v1h-1zM71 63h1v1h-1zM73 63h1v1h-1zM78 64h1v1h-1zM81 67h5v1h-5zM41 71h1v1h-1zM42 73h1v1h-1zM67 73h1v1h-1zM81 73h5v1h-5zM42 74h1v1h-1zM63 75h1v1h-1zM65 75h1v1h-1zM78 75h1v1h-1zM43 76h1v1h-1zM42 77h1v1h-1zM58 77h1v1h-1zM39 79h1v1h-1zM57 79h1v1h-1z"/>
<path fill="#ffdf00" d="M59 11h1v1h-1zM65 12h1v1h-1zM63 13h1v1h-1zM71 16h1v1h-1zM64 17h1v1h-1zM65 19h1v1h-1zM58 20h1v1h-1zM66 20h1v1h-1zM67 21h1v1h-1zM68 22h1v1h-1zM80 27h1v1h-1zM57 29h1v1h-1zM65 40h1v1h-1zM55 42h1v1h-1zM39 44h1v1h-1zM41 44h1v1h-1zM54 47h1v1h-1zM69 47h1v1h-1zM54 48h1v1h-1zM68 48h1v1h-1zM70 48h1v1h-1zM69 49h1v1h-1zM57 52h1v1h-1zM72 52h1v1h-1zM57 53h1v1h-1zM72 53h1v1h-1zM74 53h1v1h-1zM79 53h1v1h-1zM80 54h1v1h-1zM71 55h1v1h-1zM60 56h2v1h-2zM65 57h1v1h-1zM79 59h1v1h-1zM68 60h1v1h-1zM67 61h1v1h-1zM78 63h1v1h-1zM68 64h1v1h-1zM78 65h1v1h-1zM80 67h1v1h-1zM40 71h1v1h-1zM37 72h1v1h-1zM80 73h1v1h-1zM35 74h1v1h-1zM34 75h1v1h-1zM42 75h1v1h-1zM60 75h1v1h-1zM62 75h1v1h-1zM40 78h1v1h-1zM64 78h1v1h-1zM63 79h1v1h-1zM38 80h1v1h-1zM56 80h1v1h-1z"/>
<path fill="#ffcf00" d="M58 9h1v1h-1zM63 12h1v1h-1zM66 13h1v1h-1zM67 14h1v1h-1zM59 15h1v1h-1zM70 15h1v1h-1zM71 18h1v1h-1zM70 20h1v1h-1zM58 21h1v1h-1zM58 22h1v1h-1zM69 22h1v1h-1zM58 23h1v1h-1zM58 24h1v1h-1zM81 26h5v1h-5zM80 30h1v1h-1zM81 31h5v1h-5zM56 32h1v1h-1zM56 33h1v1h-1zM56 34h1v1h-1zM56 35h1v1h-1zM56 36h1v1h-1zM56 37h1v1h-1zM56 38h1v1h-1zM56 39h1v1h-1zM56 40h1v1h-1zM64 40h1v1h-1zM65 41h1v1h-1zM40 44h1v1h-1zM54 44h1v1h-1zM39 45h1v1h-1zM41 45h1v1h-1zM39 46h1v1h-1zM41 46h1v1h-1zM54 46h1v1h-1zM39 47h1v1h-1zM41 47h1v1h-1zM39 48h1v1h-1zM41 48h1v1h-1zM40 49h1v1h-1zM55 49h1v1h-1zM70 49h1v1h-1zM56 50h1v1h-1zM72 51h2v1h-2zM74 52h1v1h-1zM79 52h1v1h-1zM57 54h1v1h-1zM79 54h1v1h-1zM81 55h5v1h-5zM56 56h1v1h-1zM59 56h1v1h-1zM74 58h1v1h-1zM75 59h1v1h-1zM69 61h1v1h-1zM68 63h1v1h-1zM70 63h1v1h-1zM68 65h1v1h-1zM38 72h1v1h-1zM41 72h1v1h-1zM42 76h1v1h-1zM32 77h1v1h-1zM41 77h1v1h-1zM32 78h1v1h-1zM70 78h1v1h-1zM32 79h1v1h-1zM71 79h1v1h-1zM32 80h1v1h-1zM32 81h1v1h-1zM32 82h1v1h-1zM32 83h1v1h-1zM32 84h1v1h-1zM32 85h1v1h-1z"/>
<path fill="#ffbf00" d="M58 0h1v1h-1zM58 1h1v1h-1zM58 2h1v1h-1zM58 3h1v1h-1zM58 4h1v1h-1zM58 5h1v1h-1zM58 6h1v1h-1zM58 7h1v1h-1zM58 8h1v1h-1zM59 10h1v1h-1zM60 12h1v1h-1zM63 14h1v1h-1zM68 14h1v1h-1zM64 18h1v1h-1zM65 20h1v1h-1zM66 21h1v1h-1zM67 22h1v1h-1zM68 23h1v1h-1zM58 25h1v1h-1zM80 26h1v1h-1zM79 28h1v1h-1zM57 30h1v1h-1zM56 41h1v1h-1zM64 41h1v1h-1zM55 43h1v1h-1zM54 45h1v1h-1zM69 46h1v1h-1zM68 47h1v1h-1zM70 47h1v1h-1zM55 48h1v1h-1zM71 48h1v1h-1zM56 49h1v1h-1zM68 49h1v1h-1zM71 49h1v1h-1zM72 50h1v1h-1zM57 51h1v1h-1zM81 51h5v1h-5zM75 53h1v1h-1zM78 53h1v1h-1zM70 54h4v1h-4zM78 54h1v1h-1zM57 55h1v1h-1zM79 55h2v1h-2zM58 56h1v1h-1zM62 56h1v1h-1zM64 57h1v1h-1zM81 57h5v1h-5zM79 58h1v1h-1zM68 62h2v1h-2zM75 62h1v1h-1zM78 62h1v1h-1zM74 63h1v1h-1zM68 66h1v1h-1zM39 72h1v1h-1zM36 73h1v1h-1zM41 73h1v1h-1zM67 74h1v1h-1zM61 75h1v1h-1zM66 75h1v1h-1zM33 76h1v1h-1zM39 78h1v1h-1zM58 78h1v1h-1zM38 79h1v1h-1zM37 81h1v1h-1zM56 81h1v1h-1zM37 82h1v1h-1zM56 82h1v1h-1zM37 83h1v1h-1zM56 83h1v1h-1zM37 84h1v1h-1zM56 84h1v1h-1zM37 85h1v1h-1zM56 85h1v1h-1z"/>
<path fill="#ffaf00" d="M64 11h1v1h-1zM62 12h1v1h-1zM60 13h1v1h-1zM62 13h1v1h-1zM63 15h1v1h-1zM71 15h1v1h-1zM72 16h1v1h-1zM72 17h1v1h-1zM71 19h1v1h-1zM70 21h1v1h-1zM69 23h1v1h-1zM80 25h6v1h-6zM58 26h1v1h-1zM79 26h1v1h-1zM79 27h1v1h-1zM79 29h1v1h-1zM80 31h1v1h-1zM81 32h5v1h-5zM65 39h1v1h-1zM66 40h1v1h-1zM40 45h1v1h-1zM40 46h1v1h-1zM40 47h1v1h-1zM55 47h1v1h-1zM40 48h1v1h-1zM72 49h1v1h-1zM71 50h1v1h-1zM73 50h1v1h-1zM80 51h1v1h-1zM75 52h1v1h-1zM78 52h1v1h-1zM76 53h2v1h-2zM69 54h1v1h-1zM74 54h2v1h-2zM77 54h1v1h-1zM58 55h1v1h-1zM66 55h1v1h-1zM78 55h1v1h-1zM57 56h1v1h-1zM65 56h1v1h-1zM79 56h7v1h-7zM72 57h1v1h-1zM79 57h2v1h-2zM75 58h1v1h-1zM78 59h1v1h-1zM78 60h1v1h-1zM68 61h1v1h-1zM78 61h1v1h-1zM69 63h1v1h-1zM40 72h1v1h-1zM41 74h1v1h-1zM78 74h1v1h-1zM35 75h1v1h-1zM41 75h1v1h-1zM41 76h1v1h-1zM59 76h1v1h-1zM40 77h1v1h-1zM37 80h1v1h-1zM62 81h1v1h-1zM62 82h1v1h-1zM62 83h1v1h-1zM62 84h1v1h-1zM62 85h1v1h-1z"/>
<path fill="#ff9f00" d="M77 7h1v1h-1zM77 8h2v1h-2zM77 9h2v1h-2zM77 10h1v1h-1zM63 11h1v1h-1zM65 11h1v1h-1zM61 12h1v1h-1zM66 12h1v1h-1zM67 13h1v1h-1zM69 14h1v1h-1zM59 16h1v1h-1zM64 19h1v1h-1zM65 21h1v1h-1zM66 22h1v1h-1zM70 22h1v1h-1zM67 23h1v1h-1zM77 23h1v1h-1zM68 24h2v1h-2zM77 24h2v1h-2zM78 25h2v1h-2zM58 27h1v1h-1zM68 27h1v1h-1zM67 28h2v1h-2zM67 29h2v1h-2zM68 30h1v1h-1zM79 30h1v1h-1zM57 31h1v1h-1zM80 32h1v1h-1zM73 37h1v1h-1zM66 41h1v1h-1zM69 45h1v1h-1zM55 46h1v1h-1zM68 46h1v1h-1zM70 46h1v1h-1zM71 47h1v1h-1zM56 48h1v1h-1zM72 48h1v1h-1zM57 50h1v1h-1zM70 50h1v1h-1zM71 51h1v1h-1zM74 51h1v1h-1zM58 54h1v1h-1zM68 54h1v1h-1zM76 54h1v1h-1zM59 55h1v1h-1zM72 55h1v1h-1zM76 55h2v1h-2zM63 56h1v1h-1zM77 56h2v1h-2zM78 57h1v1h-1zM78 58h1v1h-1zM69 64h1v1h-1zM78 66h1v1h-1zM68 67h1v1h-1zM79 67h1v1h-1zM39 73h2v1h-2zM79 73h1v1h-1zM36 74h1v1h-1zM40 74h1v1h-1zM34 76h1v1h-1zM33 79h1v1h-1zM33 80h2v1h-2zM57 80h1v1h-1zM33 81h4v1h-4zM33 82h4v1h-4zM33 83h4v1h-4zM33 84h4v1h-4zM33 85h4v1h-4z"/>
<path fill="#ff8f00" d="M64 0h1v1h-1zM77 0h1v1h-1zM64 1h1v1h-1zM77 1h1v1h-1zM64 2h1v1h-1zM77 2h1v1h-1zM64 3h1v1h-1zM77 3h1v1h-1zM64 4h1v1h-1zM77 4h1v1h-1zM77 5h1v1h-1zM77 6h1v1h-1zM78 7h1v1h-1zM79 8h7v1h-7zM59 9h1v1h-1zM79 9h7v1h-7zM78 10h1v1h-1zM60 11h1v1h-1zM62 11h1v1h-1zM76 11h2v1h-2zM76 12h2v1h-2zM61 13h1v1h-1zM62 14h1v1h-1zM70 14h1v1h-1zM63 16h1v1h-1zM59 17h1v1h-1zM72 18h1v1h-1zM64 20h1v1h-1zM71 20h1v1h-1zM76 21h2v1h-2zM76 22h2v1h-2zM70 23h1v1h-1zM76 23h1v1h-1zM78 23h1v1h-1zM76 24h1v1h-1zM79 24h7v1h-7zM68 25h2v1h-2zM77 25h1v1h-1zM68 26h2v1h-2zM78 26h1v1h-1zM67 27h1v1h-1zM69 27h1v1h-1zM78 27h1v1h-1zM58 28h1v1h-1zM65 28h2v1h-2zM69 28h1v1h-1zM65 29h2v1h-2zM69 29h1v1h-1zM67 30h1v1h-1zM69 30h1v1h-1zM68 31h2v1h-2zM79 31h1v1h-1zM57 32h1v1h-1zM68 32h2v1h-2zM81 33h5v1h-5zM73 36h4v1h-4zM72 37h1v1h-1zM74 37h2v1h-2zM72 38h2v1h-2zM64 39h1v1h-1zM72 39h2v1h-2zM72 40h1v1h-1zM56 42h1v1h-1zM55 44h1v1h-1zM55 45h1v1h-1zM68 45h1v1h-1zM57 49h1v1h-1zM73 49h1v1h-1zM69 50h1v1h-1zM79 51h1v1h-1zM71 52h1v1h-1zM76 52h2v1h-2zM58 53h1v1h-1zM71 53h1v1h-1zM60 55h1v1h-1zM74 55h2v1h-2zM64 56h1v1h-1zM76 56h1v1h-1zM76 57h2v1h-2zM70 64h1v1h-1zM68 68h1v1h-1zM81 72h5v1h-5zM37 73h2v1h-2zM39 74h1v1h-1zM40 75h1v1h-1zM40 76h1v1h-1zM33 77h1v1h-1zM39 77h1v1h-1zM77 77h1v1h-1zM33 78h1v1h-1zM38 78h1v1h-1zM71 78h1v1h-1zM77 78h1v1h-1zM34 79h1v1h-1zM37 79h1v1h-1zM58 79h1v1h-1zM77 79h1v1h-1zM35 80h2v1h-2zM62 80h1v1h-1zM77 80h1v1h-1zM77 81h1v1h-1zM77 82h1v1h-1zM77 83h1v1h-1zM77 84h1v1h-1zM77 85h1v1h-1z"/>
<path fill="#ff8000" d="M59 0h1v1h-1zM65 0h1v1h-1zM76 0h1v1h-1zM59 1h1v1h-1zM65 1h1v1h-1zM76 1h1v1h-1zM59 2h1v1h-1zM65 2h1v1h-1zM76 2h1v1h-1zM59 3h1v1h-1zM65 3h1v1h-1zM76 3h1v1h-1zM59 4h1v1h-1zM65 4h1v1h-1zM76 4h1v1h-1zM59 5h1v1h-1zM64 5h1v1h-1zM76 5h1v1h-1zM59 6h1v1h-1zM76 6h1v1h-1zM78 6h1v1h-1zM59 7h1v1h-1zM76 7h1v1h-1zM79 7h1v1h-1zM59 8h1v1h-1zM76 8h1v1h-1zM76 9h1v1h-1zM64 10h1v1h-1zM76 10h1v1h-1zM79 10h1v1h-1zM61 11h1v1h-1zM78 11h1v1h-1zM76 13h2v1h-2zM72 15h1v1h-1zM73 16h1v1h-1zM63 17h1v1h-1zM73 17h1v1h-1zM59 18h1v1h-1zM76 20h2v1h-2zM71 21h1v1h-1zM65 22h1v1h-1zM78 22h1v1h-1zM66 23h1v1h-1zM79 23h1v1h-1zM67 24h1v1h-1zM70 24h1v1h-1zM76 25h1v1h-1zM67 26h1v1h-1zM77 26h1v1h-1zM66 27h1v1h-1zM78 28h1v1h-1zM58 29h1v1h-1zM78 29h1v1h-1zM66 30h1v1h-1zM67 31h1v1h-1zM79 32h1v1h-1zM57 33h1v1h-1zM68 33h2v1h-2zM80 33h1v1h-1zM57 34h1v1h-1zM57 35h1v1h-1zM57 36h1v1h-1zM72 36h1v1h-1zM77 36h1v1h-1zM57 37h1v1h-1zM76 37h1v1h-1zM57 38h1v1h-1zM57 39h1v1h-1zM66 39h1v1h-1zM57 40h1v1h-1zM73 40h1v1h-1zM72 41h1v1h-1zM65 42h1v1h-1zM69 44h1v1h-1zM70 45h1v1h-1zM71 46h1v1h-1zM56 47h1v1h-1zM72 47h1v1h-1zM67 48h1v1h-1zM74 50h1v1h-1zM81 50h5v1h-5zM75 51h1v1h-1zM58 52h1v1h-1zM61 55h1v1h-1zM73 55h1v1h-1zM72 56h1v1h-1zM75 56h1v1h-1zM74 57h2v1h-2zM76 58h2v1h-2zM76 59h1v1h-1zM75 63h1v1h-1zM71 64h2v1h-2zM69 65h1v1h-1zM68 69h1v1h-1zM68 70h1v1h-1zM68 71h1v1h-1zM80 72h1v1h-1zM38 74h1v1h-1zM39 75h1v1h-1zM67 75h1v1h-1zM77 76h1v1h-1zM66 77h3v1h-3zM34 78h1v1h-1zM63 78h1v1h-1zM35 79h1v1h-1zM57 81h1v1h-1zM72 81h1v1h-1zM57 82h1v1h-1zM72 82h1v1h-1zM57 83h1v1h-1zM72 83h1v1h-1zM57 84h1v1h-1zM72 84h1v1h-1zM57 85h1v1h-1zM72 85h1v1h-1z"/>
<path fill="#ff7000" d="M63 0h1v1h-1zM78 0h1v1h-1zM63 1h1v1h-1zM78 1h1v1h-1zM63 2h1v1h-1zM78 2h1v1h-1zM63 3h1v1h-1zM78 3h1v1h-1zM63 4h1v1h-1zM78 4h1v1h-1zM65 5h1v1h-1zM78 5h1v1h-1zM79 6h1v1h-1zM80 7h6v1h-6zM60 10h1v1h-1zM63 10h1v1h-1zM65 10h1v1h-1zM80 10h6v1h-6zM66 11h1v1h-1zM79 11h1v1h-1zM67 12h1v1h-1zM75 12h1v1h-1zM78 12h1v1h-1zM68 13h1v1h-1zM75 13h1v1h-1zM60 14h1v1h-1zM71 14h1v1h-1zM76 14h1v1h-1zM73 15h1v1h-1zM74 16h1v1h-1zM74 17h1v1h-1zM73 18h1v1h-1zM72 19h1v1h-1zM76 19h1v1h-1zM75 20h1v1h-1zM64 21h1v1h-1zM75 21h1v1h-1zM78 21h1v1h-1zM71 22h1v1h-1zM75 22h1v1h-1zM79 22h1v1h-1zM75 23h1v1h-1zM80 23h6v1h-6zM75 24h1v1h-1zM67 25h1v1h-1zM70 25h1v1h-1zM66 26h1v1h-1zM70 26h1v1h-1zM65 27h1v1h-1zM70 27h1v1h-1zM64 28h1v1h-1zM70 28h1v1h-1zM64 29h1v1h-1zM70 29h1v1h-1zM65 30h1v1h-1zM70 30h1v1h-1zM78 30h1v1h-1zM66 31h1v1h-1zM70 31h1v1h-1zM67 32h1v1h-1zM70 32h1v1h-1zM70 33h1v1h-1zM79 33h1v1h-1zM69 34h1v1h-1zM80 34h6v1h-6zM72 35h6v1h-6zM71 36h1v1h-1zM78 36h1v1h-1zM71 37h1v1h-1zM77 37h1v1h-1zM65 38h1v1h-1zM71 38h1v1h-1zM74 38h1v1h-1zM71 39h1v1h-1zM63 40h1v1h-1zM67 40h1v1h-1zM71 40h1v1h-1zM57 41h1v1h-1zM63 41h1v1h-1zM67 41h1v1h-1zM71 41h1v1h-1zM73 41h1v1h-1zM64 42h1v1h-1zM66 42h1v1h-1zM72 42h1v1h-1zM56 43h1v1h-1zM69 43h1v1h-1zM68 44h1v1h-1zM70 44h1v1h-1zM56 46h1v1h-1zM57 48h1v1h-1zM73 48h1v1h-1zM80 50h1v1h-1zM70 51h1v1h-1zM78 51h1v1h-1zM59 54h1v1h-1zM67 54h1v1h-1zM73 57h1v1h-1zM77 59h1v1h-1zM76 60h1v1h-1zM76 61h1v1h-1zM73 64h1v1h-1zM78 67h1v1h-1zM81 68h5v1h-5zM81 71h5v1h-5zM68 72h1v1h-1zM68 73h1v1h-1zM78 73h1v1h-1zM37 74h1v1h-1zM36 75h1v1h-1zM38 75h1v1h-1zM77 75h1v1h-1zM35 76h1v1h-1zM39 76h1v1h-1zM65 76h1v1h-1zM34 77h1v1h-1zM65 77h1v1h-1zM69 77h1v1h-1zM35 78h1v1h-1zM36 79h1v1h-1zM72 80h1v1h-1z"/>
<path fill="#ff6000" d="M63 5h1v1h-1zM79 5h1v1h-1zM64 6h1v1h-1zM80 6h1v1h-1zM62 10h1v1h-1zM75 11h1v1h-1zM80 11h1v1h-1zM79 12h1v1h-1zM78 13h1v1h-1zM72 14h1v1h-1zM74 14h2v1h-2zM77 14h1v1h-1zM62 15h1v1h-1zM74 15h2v1h-2zM63 18h1v1h-1zM74 18h2v1h-2zM59 19h1v1h-1zM74 19h2v1h-2zM77 19h1v1h-1zM78 20h1v1h-1zM79 21h1v1h-1zM80 22h1v1h-1zM65 23h1v1h-1zM71 23h1v1h-1zM66 24h1v1h-1zM66 25h1v1h-1zM75 25h1v1h-1zM65 26h1v1h-1zM76 26h1v1h-1zM77 27h1v1h-1zM58 30h1v1h-1zM65 31h1v1h-1zM78 31h1v1h-1zM66 32h1v1h-1zM67 33h1v1h-1zM68 34h1v1h-1zM70 34h2v1h-2zM78 34h2v1h-2zM70 35h2v1h-2zM78 35h2v1h-2zM64 38h1v1h-1zM66 38h1v1h-1zM75 38h1v1h-1zM67 39h1v1h-1zM74 39h1v1h-1zM57 42h1v1h-1zM67 42h2v1h-2zM70 42h2v1h-2zM68 43h1v1h-1zM70 43h2v1h-2zM71 45h1v1h-1zM72 46h1v1h-1zM57 47h1v1h-1zM67 47h1v1h-1zM67 49h1v1h-1zM68 50h1v1h-1zM58 51h1v1h-1zM62 55h1v1h-1zM65 55h1v1h-1zM74 56h1v1h-1zM77 60h1v1h-1zM77 62h1v1h-1zM77 63h1v1h-1zM77 64h1v1h-1zM70 65h1v1h-1zM77 65h1v1h-1zM69 66h1v1h-1zM80 68h1v1h-1zM80 71h1v1h-1zM79 72h1v1h-1zM37 75h1v1h-1zM38 76h1v1h-1zM64 76h1v1h-1zM35 77h1v1h-1zM38 77h1v1h-1zM59 77h1v1h-1zM70 77h1v1h-1zM36 78h2v1h-2zM62 79h1v1h-1zM72 79h1v1h-1z"/>
<path fill="#ff5000" d="M62 0h1v1h-1zM79 0h1v1h-1zM62 1h1v1h-1zM79 1h1v1h-1zM62 2h1v1h-1zM79 2h1v1h-1zM62 3h1v1h-1zM79 3h1v1h-1zM62 4h1v1h-1zM79 4h1v1h-1zM62 5h1v1h-1zM63 6h1v1h-1zM65 6h1v1h-1zM81 6h5v1h-5zM64 7h1v1h-1zM60 9h1v1h-1zM61 10h1v1h-1zM75 10h1v1h-1zM81 11h5v1h-5zM69 13h1v1h-1zM74 13h1v1h-1zM79 13h1v1h-1zM61 14h1v1h-1zM73 14h1v1h-1zM78 14h1v1h-1zM76 15h2v1h-2zM75 16h1v1h-1zM75 17h1v1h-1zM76 18h2v1h-2zM63 19h1v1h-1zM73 19h1v1h-1zM78 19h1v1h-1zM59 20h1v1h-1zM72 20h1v1h-1zM74 20h1v1h-1zM79 20h1v1h-1zM59 21h1v1h-1zM74 21h1v1h-1zM59 22h1v1h-1zM64 22h1v1h-1zM74 22h1v1h-1zM81 22h5v1h-5zM59 23h1v1h-1zM74 23h1v1h-1zM59 24h1v1h-1zM71 24h1v1h-1zM74 24h1v1h-1zM59 25h1v1h-1zM71 25h1v1h-1zM74 25h1v1h-1zM71 26h1v1h-1zM75 26h1v1h-1zM64 27h1v1h-1zM71 27h1v1h-1zM76 27h1v1h-1zM71 28h1v1h-1zM77 28h1v1h-1zM71 29h1v1h-1zM64 30h1v1h-1zM71 30h1v1h-1zM58 31h1v1h-1zM71 31h1v1h-1zM71 32h1v1h-1zM78 32h1v1h-1zM66 33h1v1h-1zM71 33h1v1h-1zM78 33h1v1h-1zM67 34h1v1h-1zM72 34h6v1h-6zM68 35h2v1h-2zM80 35h6v1h-6zM70 36h1v1h-1zM79 36h1v1h-1zM70 37h1v1h-1zM78 37h1v1h-1zM70 38h1v1h-1zM63 39h1v1h-1zM70 39h1v1h-1zM70 40h1v1h-1zM68 41h1v1h-1zM70 41h1v1h-1zM69 42h1v1h-1zM73 42h1v1h-1zM67 43h1v1h-1zM72 43h1v1h-1zM56 44h1v1h-1zM71 44h1v1h-1zM56 45h1v1h-1zM67 46h1v1h-1zM73 47h1v1h-1zM74 49h1v1h-1zM58 50h1v1h-1zM79 50h1v1h-1zM76 51h1v1h-1zM70 53h1v1h-1zM63 55h1v1h-1zM73 56h1v1h-1zM77 61h1v1h-1zM76 62h1v1h-1zM74 64h1v1h-1zM71 65h1v1h-1zM70 66h1v1h-1zM77 66h1v1h-1zM69 67h1v1h-1zM79 68h1v1h-1zM80 70h6v1h-6zM79 71h1v1h-1zM78 72h1v1h-1zM68 74h1v1h-1zM77 74h1v1h-1zM66 76h1v1h-1zM64 77h1v1h-1zM58 80h1v1h-1z"/>
<path fill="#ff4000" d="M60 0h1v1h-1zM60 1h1v1h-1zM60 2h1v1h-1zM60 3h1v1h-1zM60 4h1v1h-1zM60 5h1v1h-1zM80 5h1v1h-1zM60 6h1v1h-1zM62 6h1v1h-1zM60 7h1v1h-1zM63 7h1v1h-1zM65 7h1v1h-1zM60 8h1v1h-1zM62 9h3v1h-3zM75 9h1v1h-1zM66 10h1v1h-1zM67 11h1v1h-1zM74 12h1v1h-1zM80 12h1v1h-1zM70 13h2v1h-2zM73 13h1v1h-1zM79 14h1v1h-1zM60 15h1v1h-1zM78 15h1v1h-1zM76 16h1v1h-1zM76 17h1v1h-1zM78 18h1v1h-1zM79 19h1v1h-1zM63 20h1v1h-1zM73 20h1v1h-1zM72 21h1v1h-1zM80 21h1v1h-1zM72 22h1v1h-1zM64 23h1v1h-1zM72 23h1v1h-1zM65 24h1v1h-1zM65 25h1v1h-1zM59 26h1v1h-1zM64 26h1v1h-1zM74 26h1v1h-1zM75 27h1v1h-1zM77 29h1v1h-1zM77 30h1v1h-1zM64 31h1v1h-1zM77 31h1v1h-1zM58 32h1v1h-1zM65 32h1v1h-1zM72 33h1v1h-1zM77 33h1v1h-1zM66 34h1v1h-1zM67 35h1v1h-1zM69 36h1v1h-1zM80 36h1v1h-1zM65 37h1v1h-1zM79 37h1v1h-1zM67 38h1v1h-1zM76 38h1v1h-1zM68 40h1v1h-1zM74 40h1v1h-1zM69 41h1v1h-1zM63 42h1v1h-1zM57 43h1v1h-1zM66 43h1v1h-1zM73 43h1v1h-1zM67 44h1v1h-1zM72 44h1v1h-1zM67 45h1v1h-1zM72 45h1v1h-1zM57 46h1v1h-1zM73 46h1v1h-1zM58 49h1v1h-1zM81 49h5v1h-5zM75 50h1v1h-1zM69 51h1v1h-1zM77 51h1v1h-1zM70 52h1v1h-1zM59 53h1v1h-1zM60 54h1v1h-1zM66 54h1v1h-1zM64 55h1v1h-1zM76 63h1v1h-1zM75 64h1v1h-1zM71 66h1v1h-1zM70 67h1v1h-1zM77 67h1v1h-1zM78 68h1v1h-1zM79 70h1v1h-1zM78 71h1v1h-1zM77 73h1v1h-1zM68 75h1v1h-1zM36 76h2v1h-2zM63 76h1v1h-1zM67 76h1v1h-1zM36 77h2v1h-2zM71 77h1v1h-1zM59 78h1v1h-1zM72 78h1v1h-1z"/>
<path fill="#ff3000" d="M61 0h1v1h-1zM66 0h1v1h-1zM75 0h1v1h-1zM80 0h1v1h-1zM61 1h1v1h-1zM66 1h1v1h-1zM75 1h1v1h-1zM80 1h1v1h-1zM61 2h1v1h-1zM66 2h1v1h-1zM75 2h1v1h-1zM80 2h1v1h-1zM61 3h1v1h-1zM66 3h1v1h-1zM75 3h1v1h-1zM80 3h1v1h-1zM61 4h1v1h-1zM66 4h1v1h-1zM75 4h1v1h-1zM80 4h1v1h-1zM61 5h1v1h-1zM66 5h1v1h-1zM75 5h1v1h-1zM81 5h5v1h-5zM61 6h1v1h-1zM75 6h1v1h-1zM61 7h2v1h-2zM75 7h1v1h-1zM62 8h3v1h-3zM75 8h1v1h-1zM61 9h1v1h-1zM65 9h1v1h-1zM74 11h1v1h-1zM68 12h1v1h-1zM81 12h5v1h-5zM72 13h1v1h-1zM80 13h1v1h-1zM80 14h1v1h-1zM79 15h2v1h-2zM62 16h1v1h-1zM77 16h3v1h-3zM77 17h3v1h-3zM79 18h2v1h-2zM80 19h1v1h-1zM80 20h1v1h-1zM63 21h1v1h-1zM73 21h1v1h-1zM81 21h5v1h-5zM73 22h1v1h-1zM73 23h1v1h-1zM72 24h2v1h-2zM72 25h2v1h-2zM72 26h2v1h-2zM59 27h1v1h-1zM72 27h3v1h-3zM63 28h1v1h-1zM72 28h1v1h-1zM74 28h3v1h-3zM63 29h1v1h-1zM72 29h1v1h-1zM72 30h1v1h-1zM72 31h1v1h-1zM72 32h1v1h-1zM77 32h1v1h-1zM58 33h1v1h-1zM65 33h1v1h-1zM73 33h4v1h-4zM58 34h1v1h-1zM65 34h1v1h-1zM58 35h1v1h-1zM65 35h2v1h-2zM58 36h1v1h-1zM66 36h3v1h-3zM81 36h5v1h-5zM58 37h1v1h-1zM64 37h1v1h-1zM66 37h2v1h-2zM69 37h1v1h-1zM58 38h1v1h-1zM68 38h2v1h-2zM77 38h1v1h-1zM58 39h1v1h-1zM68 39h2v1h-2zM75 39h1v1h-1zM58 40h1v1h-1zM69 40h1v1h-1zM58 41h1v1h-1zM74 41h1v1h-1zM58 42h1v1h-1zM58 43h1v1h-1zM65 43h1v1h-1zM57 44h1v1h-1zM57 45h1v1h-1zM58 46h1v1h-1zM58 47h1v1h-1zM58 48h1v1h-1zM74 48h1v1h-1zM80 49h1v1h-1zM76 64h1v1h-1zM72 65h1v1h-1zM72 66h1v1h-1zM71 67h2v1h-2zM69 68h3v1h-3zM77 68h1v1h-1zM78 69h8v1h-8zM77 70h2v1h-2zM77 71h1v1h-1zM77 72h1v1h-1zM60 76h1v1h-1zM68 76h1v1h-1zM72 77h1v1h-1zM58 81h1v1h-1zM58 82h1v1h-1zM58 83h1v1h-1zM58 84h1v1h-1zM58 85h1v1h-1z"/>
<path fill="#ff2000" d="M81 0h5v1h-5zM81 1h5v1h-5zM81 2h5v1h-5zM81 3h5v1h-5zM81 4h5v1h-5zM66 6h1v1h-1zM61 8h1v1h-1zM65 8h1v1h-1zM73 12h1v1h-1zM81 13h5v1h-5zM81 14h5v1h-5zM81 15h5v1h-5zM80 16h6v1h-6zM62 17h1v1h-1zM80 17h6v1h-6zM81 18h5v1h-5zM81 19h5v1h-5zM81 20h5v1h-5zM63 22h1v1h-1zM64 24h1v1h-1zM64 25h1v1h-1zM63 27h1v1h-1zM59 28h1v1h-1zM73 28h1v1h-1zM59 29h1v1h-1zM73 29h4v1h-4zM63 30h1v1h-1zM73 30h4v1h-4zM73 31h4v1h-4zM64 32h1v1h-1zM73 32h4v1h-4zM65 36h1v1h-1zM68 37h1v1h-1zM80 37h1v1h-1zM63 38h1v1h-1zM78 38h1v1h-1zM62 41h1v1h-1zM74 42h1v1h-1zM64 43h1v1h-1zM58 44h2v1h-2zM73 44h1v1h-1zM58 45h2v1h-2zM73 45h1v1h-1zM74 47h1v1h-1zM66 48h1v1h-1zM67 50h1v1h-1zM78 50h1v1h-1zM59 52h1v1h-1zM61 54h1v1h-1zM73 65h4v1h-4zM73 66h4v1h-4zM73 67h4v1h-4zM72 68h5v1h-5zM69 69h9v1h-9zM69 70h8v1h-8zM69 71h8v1h-8zM69 72h8v1h-8zM69 73h8v1h-8zM69 74h8v1h-8zM69 75h8v1h-8zM62 76h1v1h-1zM69 76h8v1h-8zM63 77h1v1h-1zM73 77h4v1h-4zM62 78h1v1h-1zM73 78h4v1h-4zM59 79h1v1h-1zM73 79h4v1h-4zM73 80h4v1h-4zM73 81h4v1h-4zM73 82h4v1h-4zM73 83h4v1h-4zM73 84h4v1h-4zM73 85h4v1h-4z"/>
<path fill="#ff1000" d="M67 10h1v1h-1zM74 10h1v1h-1zM69 12h4v1h-4zM61 15h1v1h-1zM62 18h1v1h-1zM59 30h1v1h-1zM64 33h1v1h-1zM64 34h1v1h-1zM64 35h1v1h-1zM64 36h1v1h-1zM81 37h5v1h-5zM62 40h1v1h-1zM62 42h1v1h-1zM59 43h1v1h-1zM63 43h1v1h-1zM60 44h1v1h-1zM66 44h1v1h-1zM60 45h1v1h-1zM59 46h1v1h-1zM66 47h1v1h-1zM81 48h5v1h-5zM66 49h1v1h-1zM75 49h1v1h-1zM79 49h1v1h-1zM76 50h1v1h-1zM59 51h1v1h-1zM68 51h1v1h-1zM69 53h1v1h-1zM62 54h1v1h-1zM65 54h1v1h-1z"/>
<path fill="#ff0000" d="M66 7h1v1h-1zM66 9h1v1h-1zM74 9h1v1h-1zM68 11h1v1h-1zM73 11h1v1h-1zM60 16h1v1h-1zM62 19h1v1h-1zM63 23h1v1h-1zM63 26h1v1h-1zM59 31h1v1h-1zM63 31h1v1h-1zM63 37h1v1h-1zM79 38h1v1h-1zM62 39h1v1h-1zM76 39h1v1h-1zM75 40h1v1h-1zM59 41h1v1h-1zM59 42h1v1h-1zM62 43h1v1h-1zM74 43h1v1h-1zM61 44h1v1h-1zM61 45h1v1h-1zM66 46h1v1h-1zM74 46h1v1h-1zM59 47h1v1h-1zM59 48h1v1h-1zM80 48h1v1h-1zM59 50h1v1h-1zM77 50h1v1h-1zM63 54h1v1h-1zM61 76h1v1h-1zM59 80h1v1h-1z"/>
<path fill="#ef0000" d="M67 0h1v1h-1zM74 0h1v1h-1zM67 1h1v1h-1zM74 1h1v1h-1zM67 2h1v1h-1zM74 2h1v1h-1zM67 3h1v1h-1zM74 3h1v1h-1zM67 4h1v1h-1zM74 4h1v1h-1zM67 5h1v1h-1zM74 5h1v1h-1zM74 6h1v1h-1zM74 7h1v1h-1zM66 8h1v1h-1zM74 8h1v1h-1zM69 11h4v1h-4zM62 20h1v1h-1zM62 21h1v1h-1zM63 24h1v1h-1zM63 25h1v1h-1zM62 28h1v1h-1zM62 29h1v1h-1zM59 32h1v1h-1zM63 32h1v1h-1zM59 33h1v1h-1zM63 33h1v1h-1zM59 34h1v1h-1zM63 34h1v1h-1zM59 35h1v1h-1zM63 35h1v1h-1zM59 36h1v1h-1zM63 36h1v1h-1zM59 37h1v1h-1zM59 38h1v1h-1zM80 38h6v1h-6zM59 39h1v1h-1zM77 39h1v1h-1zM59 40h1v1h-1zM75 41h1v1h-1zM60 43h2v1h-2zM62 44h1v1h-1zM74 44h1v1h-1zM66 45h1v1h-1zM74 45h1v1h-1zM60 46h1v1h-1zM81 47h5v1h-5zM75 48h1v1h-1zM59 49h1v1h-1zM64 54h1v1h-1zM59 81h1v1h-1zM61 81h1v1h-1zM59 82h1v1h-1zM61 82h1v1h-1zM59 83h1v1h-1zM61 83h1v1h-1zM59 84h1v1h-1zM61 84h1v1h-1zM59 85h1v1h-1zM61 85h1v1h-1z"/>
<path fill="#df0000" d="M67 6h1v1h-1zM67 9h1v1h-1zM68 10h1v1h-1zM73 10h1v1h-1zM61 16h1v1h-1zM60 17h1v1h-1zM60 18h1v1h-1zM62 22h1v1h-1zM62 27h1v1h-1zM62 30h1v1h-1zM62 38h1v1h-1zM78 39h1v1h-1zM60 42h2v1h-2zM75 42h1v1h-1zM63 44h1v1h-1zM62 45h1v1h-1zM61 46h1v1h-1zM60 47h1v1h-1zM75 47h1v1h-1zM80 47h1v1h-1zM79 48h1v1h-1zM78 49h1v1h-1zM66 50h1v1h-1zM67 51h1v1h-1zM69 52h1v1h-1zM60 53h1v1h-1zM68 53h1v1h-1zM62 77h1v1h-1zM61 80h1v1h-1z"/>
<path fill="#cf0000" d="M67 7h1v1h-1zM67 8h1v1h-1zM60 19h1v1h-1zM60 20h1v1h-1zM60 21h1v1h-1zM60 22h1v1h-1zM60 23h1v1h-1zM62 23h1v1h-1zM60 24h1v1h-1zM62 24h1v1h-1zM60 25h1v1h-1zM62 25h1v1h-1zM62 26h1v1h-1zM62 31h1v1h-1zM62 32h1v1h-1zM62 37h1v1h-1zM79 39h2v1h-2zM76 40h1v1h-1zM75 43h1v1h-1zM65 44h1v1h-1zM75 44h1v1h-1zM75 45h1v1h-1zM75 46h1v1h-1zM76 49h1v1h-1zM67 53h1v1h-1zM60 77h1v1h-1zM60 78h1v1h-1zM61 79h1v1h-1z"/>
<path fill="#bf0000" d="M73 9h1v1h-1zM69 10h4v1h-4zM61 17h1v1h-1zM60 26h1v1h-1zM60 27h1v1h-1zM60 28h1v1h-1zM60 29h1v1h-1zM62 33h1v1h-1zM62 34h1v1h-1zM62 35h1v1h-1zM62 36h1v1h-1zM81 39h5v1h-5zM61 40h1v1h-1zM60 41h2v1h-2zM64 44h1v1h-1zM63 45h1v1h-1zM62 46h1v1h-1zM80 46h6v1h-6zM61 47h1v1h-1zM79 47h1v1h-1zM60 48h1v1h-1zM65 48h1v1h-1zM78 48h1v1h-1zM77 49h1v1h-1zM66 51h1v1h-1zM60 52h1v1h-1zM61 53h1v1h-1zM66 53h1v1h-1zM61 78h1v1h-1zM60 79h1v1h-1z"/>
<path fill="#af0000" d="M68 0h1v1h-1zM73 0h1v1h-1zM68 1h1v1h-1zM73 1h1v1h-1zM68 2h1v1h-1zM73 2h1v1h-1zM68 3h1v1h-1zM73 3h1v1h-1zM68 4h1v1h-1zM73 4h1v1h-1zM68 5h1v1h-1zM73 5h1v1h-1zM73 6h1v1h-1zM73 7h1v1h-1zM73 8h1v1h-1zM68 9h1v1h-1zM61 18h1v1h-1zM61 19h1v1h-1zM61 20h1v1h-1zM61 21h1v1h-1zM61 28h1v1h-1zM61 29h1v1h-1zM60 30h1v1h-1zM60 31h1v1h-1zM60 32h1v1h-1zM60 33h1v1h-1zM60 34h1v1h-1zM60 35h1v1h-1zM60 36h1v1h-1zM60 37h1v1h-1zM60 38h2v1h-2zM60 39h2v1h-2zM60 40h1v1h-1zM77 40h1v1h-1zM76 41h1v1h-1zM65 45h1v1h-1zM63 46h1v1h-1zM65 46h1v1h-1zM79 46h1v1h-1zM62 47h1v1h-1zM65 47h1v1h-1zM78 47h1v1h-1zM76 48h1v1h-1zM60 49h1v1h-1zM65 49h1v1h-1zM60 50h1v1h-1zM65 50h1v1h-1zM60 51h1v1h-1zM67 52h2v1h-2zM62 53h4v1h-4zM60 80h1v1h-1zM60 81h1v1h-1zM60 82h1v1h-1zM60 83h1v1h-1zM60 84h1v1h-1zM60 85h1v1h-1z"/>
<path fill="#9f0000" d="M68 6h1v1h-1zM68 7h1v1h-1zM68 8h1v1h-1zM69 9h4v1h-4zM61 22h1v1h-1zM61 23h1v1h-1zM61 24h1v1h-1zM61 25h1v1h-1zM61 26h1v1h-1zM61 27h1v1h-1zM61 30h1v1h-1zM61 31h1v1h-1zM61 32h1v1h-1zM61 33h1v1h-1zM61 34h1v1h-1zM61 35h1v1h-1zM61 36h1v1h-1zM61 37h1v1h-1zM78 40h8v1h-8zM76 42h1v1h-1zM76 43h1v1h-1zM76 44h1v1h-1zM64 45h1v1h-1zM76 45h1v1h-1zM80 45h6v1h-6zM76 46h1v1h-1zM78 46h1v1h-1zM63 47h1v1h-1zM76 47h1v1h-1zM61 48h1v1h-1zM77 48h1v1h-1zM65 51h1v1h-1zM66 52h1v1h-1zM61 77h1v1h-1z"/>
<path fill="#8f0000" d="M69 0h4v1h-4zM69 1h4v1h-4zM69 2h4v1h-4zM69 3h4v1h-4zM69 4h4v1h-4zM69 5h4v1h-4zM69 6h4v1h-4zM69 7h4v1h-4zM69 8h4v1h-4zM77 41h9v1h-9zM77 42h9v1h-9zM77 43h9v1h-9zM77 44h9v1h-9zM77 45h3v1h-3zM64 46h1v1h-1zM77 46h1v1h-1zM64 47h1v1h-1zM77 47h1v1h-1zM62 48h3v1h-3zM61 49h4v1h-4zM61 50h4v1h-4zM61 51h4v1h-4zM61 52h5v1h-5z"/>
</g></g></g>
<clipPath id="clipc"><rect x="1091.7" y="107.2" width="390.10" height="373.10"/></clipPath>
<g clip-path="url(#clipc)"><g filter="url(#blurc)">
<g transform="translate(1077.07,93.21) scale(4.8762,4.6638)" shape-rendering="crispEdges">
<path fill="#00009f" d="M65 81h4v1h-4zM65 82h4v1h-4zM65 83h4v1h-4zM65 84h4v1h-4zM65 85h4v1h-4z"/>
<path fill="#0000af" d="M8 12h1v1h-1zM8 13h1v1h-1zM68 80h1v1h-1z"/>
<path fill="#0000bf" d="M9 12h1v1h-1zM9 13h1v1h-1zM8 44h2v1h-2zM8 45h2v1h-2zM72 56h1v1h-1zM67 80h1v1h-1z"/>
<path fill="#0000cf" d="M8 11h1v1h-1zM7 12h1v1h-1zM7 13h1v1h-1zM8 14h1v1h-1zM8 43h2v1h-2zM8 46h2v1h-2zM71 56h1v1h-1zM72 57h1v1h-1z"/>
<path fill="#0000df" d="M8 10h1v1h-1zM7 11h1v1h-1zM9 11h1v1h-1zM6 12h1v1h-1zM10 12h1v1h-1zM6 13h1v1h-1zM10 13h1v1h-1zM7 14h1v1h-1zM9 14h1v1h-1zM8 15h1v1h-1zM7 44h1v1h-1zM10 44h1v1h-1zM7 45h1v1h-1zM10 45h1v1h-1zM73 56h1v1h-1zM73 57h1v1h-1zM68 79h1v1h-1zM66 80h1v1h-1z"/>
<path fill="#0000ef" d="M7 10h1v1h-1zM9 10h1v1h-1zM6 11h1v1h-1zM6 14h1v1h-1zM7 15h1v1h-1zM9 15h1v1h-1zM8 42h2v1h-2zM7 43h1v1h-1zM10 43h1v1h-1zM7 46h1v1h-1zM10 46h1v1h-1zM8 47h2v1h-2zM72 55h1v1h-1zM70 56h1v1h-1zM71 57h1v1h-1zM65 80h1v1h-1zM64 81h1v1h-1zM64 82h1v1h-1zM64 83h1v1h-1zM64 84h1v1h-1zM64 85h1v1h-1z"/>
<path fill="#0000ff" d="M8 9h1v1h-1zM6 10h1v1h-1zM10 11h1v1h-1zM5 12h1v1h-1zM11 12h1v1h-1zM5 13h1v1h-1zM11 13h1v1h-1zM10 14h1v1h-1zM6 15h1v1h-1zM8 16h1v1h-1zM8 41h2v1h-2zM7 42h1v1h-1zM10 42h1v1h-1zM6 43h1v1h-1zM11 43h1v1h-1zM6 44h1v1h-1zM11 44h1v1h-1zM6 45h1v1h-1zM11 45h1v1h-1zM6 46h1v1h-1zM11 46h1v1h-1zM7 47h1v1h-1zM10 47h1v1h-1zM8 48h2v1h-2zM71 55h1v1h-1zM69 56h1v1h-1zM19 57h2v1h-2zM20 58h1v1h-1zM21 59h1v1h-1zM21 60h2v1h-2zM21 61h2v1h-2zM21 62h1v1h-1zM69 81h1v1h-1zM69 82h1v1h-1zM69 83h1v1h-1zM69 84h1v1h-1zM69 85h1v1h-1z"/>
<path fill="#0010ff" d="M11 0h2v1h-2zM11 1h2v1h-2zM11 2h2v1h-2zM11 3h2v1h-2zM11 4h2v1h-2zM8 7h1v1h-1zM7 8h2v1h-2zM6 9h2v1h-2zM9 9h1v1h-1zM5 10h1v1h-1zM0 11h6v1h-6zM0 12h5v1h-5zM0 13h5v1h-5zM0 14h6v1h-6zM5 15h1v1h-1zM6 16h2v1h-2zM9 16h1v1h-1zM7 17h2v1h-2zM19 17h3v1h-3zM8 18h1v1h-1zM20 18h1v1h-1zM0 23h6v1h-6zM0 24h7v1h-7zM0 25h7v1h-7zM0 26h6v1h-6zM8 39h2v1h-2zM7 40h4v1h-4zM7 41h1v1h-1zM10 41h1v1h-1zM6 42h1v1h-1zM11 42h1v1h-1zM16 43h1v1h-1zM15 44h2v1h-2zM15 45h2v1h-2zM16 46h1v1h-1zM6 47h1v1h-1zM11 47h1v1h-1zM7 48h1v1h-1zM10 48h1v1h-1zM7 49h3v1h-3zM19 49h2v1h-2zM8 50h1v1h-1zM20 50h1v1h-1zM72 54h1v1h-1zM17 55h4v1h-4zM70 55h1v1h-1zM73 55h1v1h-1zM17 56h5v1h-5zM17 57h2v1h-2zM21 57h2v1h-2zM74 57h1v1h-1zM17 58h3v1h-3zM21 58h3v1h-3zM73 58h1v1h-1zM18 59h3v1h-3zM22 59h3v1h-3zM19 60h2v1h-2zM23 60h3v1h-3zM19 61h2v1h-2zM23 61h4v1h-4zM19 62h2v1h-2zM22 62h4v1h-4zM19 63h5v1h-5zM28 63h1v1h-1zM19 64h4v1h-4zM27 64h3v1h-3zM19 65h4v1h-4zM27 65h2v1h-2zM20 66h2v1h-2zM28 66h1v1h-1zM17 67h1v1h-1zM16 68h3v1h-3zM15 69h3v1h-3zM16 70h1v1h-1zM0 71h5v1h-5zM28 71h1v1h-1zM0 72h6v1h-6zM27 72h2v1h-2zM0 73h7v1h-7zM27 73h2v1h-2zM0 74h6v1h-6zM27 74h2v1h-2zM8 75h2v1h-2zM27 75h2v1h-2zM7 76h4v1h-4zM27 76h2v1h-2zM7 77h4v1h-4zM27 77h2v1h-2zM7 78h4v1h-4zM27 78h2v1h-2zM68 78h1v1h-1zM7 79h4v1h-4zM27 79h2v1h-2zM7 80h4v1h-4zM27 80h2v1h-2zM69 80h1v1h-1zM7 81h4v1h-4zM27 81h2v1h-2zM7 82h4v1h-4zM27 82h2v1h-2zM7 83h4v1h-4zM27 83h2v1h-2zM7 84h4v1h-4zM27 84h2v1h-2zM7 85h4v1h-4zM27 85h2v1h-2z"/>
<path fill="#0020ff" d="M10 0h1v1h-1zM13 0h1v1h-1zM10 1h1v1h-1zM13 1h1v1h-1zM10 2h1v1h-1zM13 2h1v1h-1zM10 3h1v1h-1zM13 3h1v1h-1zM10 4h1v1h-1zM13 4h1v1h-1zM9 5h4v1h-4zM7 6h3v1h-3zM6 7h2v1h-2zM9 7h1v1h-1zM6 8h1v1h-1zM9 8h1v1h-1zM5 9h1v1h-1zM0 10h5v1h-5zM10 10h1v1h-1zM11 11h1v1h-1zM11 14h1v1h-1zM0 15h5v1h-5zM10 15h1v1h-1zM5 16h1v1h-1zM18 16h6v1h-6zM6 17h1v1h-1zM9 17h1v1h-1zM18 17h1v1h-1zM22 17h1v1h-1zM6 18h2v1h-2zM18 18h2v1h-2zM21 18h1v1h-1zM7 19h2v1h-2zM19 19h2v1h-2zM0 22h7v1h-7zM6 23h2v1h-2zM7 24h1v1h-1zM7 25h1v1h-1zM6 26h2v1h-2zM0 27h7v1h-7zM24 32h2v1h-2zM24 33h2v1h-2zM25 34h1v1h-1zM25 35h1v1h-1zM7 38h4v1h-4zM6 39h2v1h-2zM10 39h2v1h-2zM6 40h1v1h-1zM11 40h1v1h-1zM5 41h2v1h-2zM11 41h2v1h-2zM5 42h1v1h-1zM12 42h1v1h-1zM15 42h2v1h-2zM5 43h1v1h-1zM12 43h1v1h-1zM14 43h2v1h-2zM5 44h1v1h-1zM12 44h1v1h-1zM14 44h1v1h-1zM17 44h1v1h-1zM5 45h1v1h-1zM12 45h1v1h-1zM14 45h1v1h-1zM17 45h1v1h-1zM5 46h1v1h-1zM12 46h1v1h-1zM14 46h2v1h-2zM17 46h1v1h-1zM5 47h1v1h-1zM12 47h1v1h-1zM15 47h3v1h-3zM5 48h2v1h-2zM11 48h2v1h-2zM17 48h4v1h-4zM6 49h1v1h-1zM10 49h1v1h-1zM18 49h1v1h-1zM21 49h1v1h-1zM6 50h2v1h-2zM9 50h1v1h-1zM18 50h2v1h-2zM7 51h2v1h-2zM19 51h2v1h-2zM17 54h4v1h-4zM71 54h1v1h-1zM21 55h1v1h-1zM69 55h1v1h-1zM16 56h1v1h-1zM22 56h1v1h-1zM16 57h1v1h-1zM23 57h2v1h-2zM70 57h1v1h-1zM24 58h1v1h-1zM72 58h1v1h-1zM17 59h1v1h-1zM25 59h1v1h-1zM17 60h2v1h-2zM26 60h1v1h-1zM18 61h1v1h-1zM27 61h2v1h-2zM18 62h1v1h-1zM26 62h3v1h-3zM18 63h1v1h-1zM24 63h4v1h-4zM29 63h1v1h-1zM18 64h1v1h-1zM23 64h4v1h-4zM17 65h2v1h-2zM23 65h1v1h-1zM26 65h1v1h-1zM29 65h1v1h-1zM17 66h3v1h-3zM22 66h2v1h-2zM26 66h2v1h-2zM16 67h1v1h-1zM18 67h5v1h-5zM27 67h2v1h-2zM15 68h1v1h-1zM19 68h2v1h-2zM14 69h1v1h-1zM18 69h1v1h-1zM0 70h5v1h-5zM14 70h2v1h-2zM17 70h1v1h-1zM27 70h2v1h-2zM5 71h1v1h-1zM15 71h2v1h-2zM26 71h2v1h-2zM6 72h1v1h-1zM26 72h1v1h-1zM7 73h2v1h-2zM26 73h1v1h-1zM6 74h5v1h-5zM26 74h1v1h-1zM0 75h8v1h-8zM10 75h2v1h-2zM26 75h1v1h-1zM5 76h2v1h-2zM11 76h1v1h-1zM26 76h1v1h-1zM6 77h1v1h-1zM11 77h1v1h-1zM26 77h1v1h-1zM6 78h1v1h-1zM11 78h1v1h-1zM26 78h1v1h-1zM6 79h1v1h-1zM11 79h1v1h-1zM26 79h1v1h-1zM67 79h1v1h-1zM69 79h1v1h-1zM6 80h1v1h-1zM11 80h1v1h-1zM26 80h1v1h-1zM6 81h1v1h-1zM11 81h1v1h-1zM26 81h1v1h-1zM6 82h1v1h-1zM11 82h1v1h-1zM26 82h1v1h-1zM6 83h1v1h-1zM11 83h1v1h-1zM26 83h1v1h-1zM6 84h1v1h-1zM11 84h1v1h-1zM26 84h1v1h-1zM6 85h1v1h-1zM11 85h1v1h-1zM26 85h1v1h-1z"/>
<path fill="#0030ff" d="M0 0h10v1h-10zM0 1h10v1h-10zM0 2h10v1h-10zM0 3h10v1h-10zM0 4h10v1h-10zM0 5h9v1h-9zM13 5h1v1h-1zM0 6h7v1h-7zM10 6h2v1h-2zM0 7h6v1h-6zM10 7h1v1h-1zM0 8h6v1h-6zM0 9h5v1h-5zM25 9h4v1h-4zM25 10h4v1h-4zM16 11h1v1h-1zM25 11h4v1h-4zM12 12h1v1h-1zM15 12h2v1h-2zM25 12h4v1h-4zM12 13h1v1h-1zM15 13h2v1h-2zM25 13h4v1h-4zM16 14h2v1h-2zM24 14h5v1h-5zM17 15h2v1h-2zM23 15h6v1h-6zM0 16h5v1h-5zM17 16h1v1h-1zM24 16h5v1h-5zM0 17h6v1h-6zM17 17h1v1h-1zM23 17h1v1h-1zM0 18h6v1h-6zM9 18h1v1h-1zM17 18h1v1h-1zM22 18h1v1h-1zM0 19h7v1h-7zM9 19h1v1h-1zM17 19h2v1h-2zM21 19h1v1h-1zM0 20h9v1h-9zM17 20h4v1h-4zM0 21h9v1h-9zM17 21h2v1h-2zM7 22h2v1h-2zM17 22h1v1h-1zM8 23h2v1h-2zM16 23h1v1h-1zM8 24h3v1h-3zM15 24h2v1h-2zM8 25h3v1h-3zM15 25h2v1h-2zM25 25h2v1h-2zM8 26h2v1h-2zM16 26h1v1h-1zM25 26h1v1h-1zM7 27h2v1h-2zM0 28h9v1h-9zM0 29h7v1h-7zM0 30h6v1h-6zM24 30h2v1h-2zM0 31h5v1h-5zM16 31h1v1h-1zM24 31h2v1h-2zM0 32h5v1h-5zM15 32h2v1h-2zM0 33h5v1h-5zM13 33h4v1h-4zM0 34h5v1h-5zM13 34h4v1h-4zM24 34h1v1h-1zM0 35h6v1h-6zM12 35h5v1h-5zM24 35h1v1h-1zM26 35h1v1h-1zM0 36h7v1h-7zM11 36h6v1h-6zM25 36h3v1h-3zM0 37h17v1h-17zM25 37h4v1h-4zM0 38h7v1h-7zM11 38h6v1h-6zM25 38h4v1h-4zM0 39h6v1h-6zM12 39h5v1h-5zM25 39h4v1h-4zM0 40h6v1h-6zM12 40h5v1h-5zM25 40h4v1h-4zM0 41h5v1h-5zM13 41h4v1h-4zM25 41h2v1h-2zM0 42h5v1h-5zM13 42h2v1h-2zM17 42h1v1h-1zM25 42h1v1h-1zM0 43h5v1h-5zM13 43h1v1h-1zM17 43h1v1h-1zM0 44h5v1h-5zM13 44h1v1h-1zM0 45h5v1h-5zM13 45h1v1h-1zM0 46h5v1h-5zM13 46h1v1h-1zM18 46h1v1h-1zM0 47h5v1h-5zM13 47h2v1h-2zM18 47h2v1h-2zM0 48h5v1h-5zM13 48h4v1h-4zM21 48h1v1h-1zM0 49h6v1h-6zM11 49h1v1h-1zM15 49h3v1h-3zM0 50h6v1h-6zM10 50h1v1h-1zM16 50h2v1h-2zM21 50h1v1h-1zM0 51h7v1h-7zM9 51h1v1h-1zM17 51h2v1h-2zM21 51h1v1h-1zM0 52h9v1h-9zM17 52h4v1h-4zM0 53h7v1h-7zM17 53h4v1h-4zM0 54h6v1h-6zM16 54h1v1h-1zM21 54h1v1h-1zM69 54h2v1h-2zM0 55h5v1h-5zM16 55h1v1h-1zM22 55h1v1h-1zM0 56h5v1h-5zM23 56h1v1h-1zM74 56h1v1h-1zM0 57h5v1h-5zM0 58h5v1h-5zM16 58h1v1h-1zM25 58h1v1h-1zM74 58h1v1h-1zM0 59h5v1h-5zM16 59h1v1h-1zM26 59h1v1h-1zM0 60h5v1h-5zM27 60h1v1h-1zM76 60h1v1h-1zM0 61h5v1h-5zM17 61h1v1h-1zM0 62h5v1h-5zM17 62h1v1h-1zM29 62h1v1h-1zM0 63h5v1h-5zM17 63h1v1h-1zM0 64h5v1h-5zM17 64h1v1h-1zM30 64h1v1h-1zM0 65h5v1h-5zM24 65h2v1h-2zM30 65h1v1h-1zM0 66h5v1h-5zM16 66h1v1h-1zM24 66h2v1h-2zM29 66h1v1h-1zM0 67h5v1h-5zM15 67h1v1h-1zM23 67h4v1h-4zM0 68h5v1h-5zM14 68h1v1h-1zM21 68h8v1h-8zM0 69h5v1h-5zM13 69h1v1h-1zM19 69h1v1h-1zM23 69h6v1h-6zM5 70h1v1h-1zM13 70h1v1h-1zM18 70h1v1h-1zM24 70h3v1h-3zM6 71h1v1h-1zM12 71h3v1h-3zM17 71h1v1h-1zM25 71h1v1h-1zM7 72h1v1h-1zM11 72h6v1h-6zM25 72h1v1h-1zM29 72h1v1h-1zM9 73h8v1h-8zM25 73h1v1h-1zM29 73h1v1h-1zM11 74h6v1h-6zM25 74h1v1h-1zM29 74h1v1h-1zM12 75h5v1h-5zM25 75h1v1h-1zM29 75h1v1h-1zM0 76h5v1h-5zM12 76h5v1h-5zM25 76h1v1h-1zM29 76h1v1h-1zM0 77h6v1h-6zM12 77h5v1h-5zM25 77h1v1h-1zM29 77h1v1h-1zM0 78h6v1h-6zM12 78h5v1h-5zM25 78h1v1h-1zM29 78h1v1h-1zM69 78h1v1h-1zM0 79h6v1h-6zM12 79h5v1h-5zM25 79h1v1h-1zM29 79h1v1h-1zM0 80h6v1h-6zM12 80h5v1h-5zM25 80h1v1h-1zM29 80h1v1h-1zM0 81h6v1h-6zM12 81h5v1h-5zM25 81h1v1h-1zM29 81h1v1h-1zM0 82h6v1h-6zM12 82h5v1h-5zM25 82h1v1h-1zM29 82h1v1h-1zM0 83h6v1h-6zM12 83h5v1h-5zM25 83h1v1h-1zM29 83h1v1h-1zM0 84h6v1h-6zM12 84h5v1h-5zM25 84h1v1h-1zM29 84h1v1h-1zM0 85h6v1h-6zM12 85h5v1h-5zM25 85h1v1h-1zM29 85h1v1h-1z"/>
<path fill="#0040ff" d="M14 0h1v1h-1zM20 0h2v1h-2zM14 1h1v1h-1zM20 1h2v1h-2zM14 2h1v1h-1zM20 2h2v1h-2zM14 3h1v1h-1zM20 3h2v1h-2zM14 4h1v1h-1zM20 4h2v1h-2zM12 6h1v1h-1zM10 8h1v1h-1zM25 8h4v1h-4zM10 9h1v1h-1zM16 9h2v1h-2zM24 9h1v1h-1zM11 10h1v1h-1zM16 10h2v1h-2zM24 10h1v1h-1zM15 11h1v1h-1zM17 11h1v1h-1zM24 11h1v1h-1zM13 12h2v1h-2zM17 12h1v1h-1zM24 12h1v1h-1zM13 13h2v1h-2zM17 13h1v1h-1zM24 13h1v1h-1zM15 14h1v1h-1zM18 14h1v1h-1zM23 14h1v1h-1zM11 15h1v1h-1zM16 15h1v1h-1zM19 15h4v1h-4zM10 16h1v1h-1zM16 16h1v1h-1zM16 17h1v1h-1zM24 17h5v1h-5zM16 18h1v1h-1zM23 18h1v1h-1zM16 19h1v1h-1zM22 19h1v1h-1zM9 20h1v1h-1zM16 20h1v1h-1zM21 20h1v1h-1zM9 21h1v1h-1zM16 21h1v1h-1zM19 21h2v1h-2zM9 22h1v1h-1zM16 22h1v1h-1zM18 22h1v1h-1zM10 23h1v1h-1zM15 23h1v1h-1zM17 23h1v1h-1zM11 24h4v1h-4zM17 24h1v1h-1zM25 24h4v1h-4zM11 25h4v1h-4zM17 25h1v1h-1zM24 25h1v1h-1zM27 25h2v1h-2zM10 26h1v1h-1zM15 26h1v1h-1zM17 26h1v1h-1zM24 26h1v1h-1zM26 26h1v1h-1zM9 27h1v1h-1zM16 27h2v1h-2zM24 27h2v1h-2zM9 28h1v1h-1zM16 28h2v1h-2zM24 28h2v1h-2zM7 29h2v1h-2zM16 29h2v1h-2zM24 29h2v1h-2zM6 30h1v1h-1zM16 30h2v1h-2zM5 31h1v1h-1zM15 31h1v1h-1zM17 31h1v1h-1zM5 32h1v1h-1zM13 32h2v1h-2zM17 32h1v1h-1zM5 33h1v1h-1zM12 33h1v1h-1zM17 33h1v1h-1zM26 33h1v1h-1zM5 34h1v1h-1zM12 34h1v1h-1zM17 34h1v1h-1zM26 34h1v1h-1zM6 35h1v1h-1zM11 35h1v1h-1zM17 35h1v1h-1zM27 35h1v1h-1zM7 36h4v1h-4zM17 36h1v1h-1zM24 36h1v1h-1zM28 36h1v1h-1zM17 37h1v1h-1zM24 37h1v1h-1zM17 38h1v1h-1zM24 38h1v1h-1zM17 39h1v1h-1zM24 39h1v1h-1zM17 40h1v1h-1zM24 40h1v1h-1zM17 41h1v1h-1zM24 41h1v1h-1zM27 41h2v1h-2zM24 42h1v1h-1zM26 42h1v1h-1zM24 43h2v1h-2zM24 44h2v1h-2zM18 45h1v1h-1zM20 47h1v1h-1zM12 49h3v1h-3zM11 50h1v1h-1zM15 50h1v1h-1zM10 51h1v1h-1zM16 51h1v1h-1zM9 52h1v1h-1zM16 52h1v1h-1zM21 52h1v1h-1zM7 53h2v1h-2zM16 53h1v1h-1zM21 53h1v1h-1zM70 53h3v1h-3zM6 54h1v1h-1zM22 54h1v1h-1zM5 55h1v1h-1zM23 55h1v1h-1zM5 56h1v1h-1zM24 56h1v1h-1zM5 57h1v1h-1zM25 57h1v1h-1zM69 57h1v1h-1zM5 58h1v1h-1zM26 58h1v1h-1zM5 59h1v1h-1zM27 59h1v1h-1zM76 59h1v1h-1zM5 60h1v1h-1zM16 60h1v1h-1zM28 60h1v1h-1zM75 60h1v1h-1zM77 60h1v1h-1zM5 61h1v1h-1zM16 61h1v1h-1zM29 61h1v1h-1zM5 62h1v1h-1zM16 62h1v1h-1zM5 63h1v1h-1zM16 63h1v1h-1zM30 63h1v1h-1zM5 64h1v1h-1zM16 64h1v1h-1zM31 64h1v1h-1zM5 65h1v1h-1zM16 65h1v1h-1zM5 66h1v1h-1zM15 66h1v1h-1zM5 67h1v1h-1zM14 67h1v1h-1zM29 67h1v1h-1zM5 68h1v1h-1zM13 68h1v1h-1zM5 69h1v1h-1zM12 69h1v1h-1zM20 69h3v1h-3zM6 70h1v1h-1zM12 70h1v1h-1zM19 70h1v1h-1zM23 70h1v1h-1zM7 71h1v1h-1zM11 71h1v1h-1zM18 71h1v1h-1zM24 71h1v1h-1zM29 71h1v1h-1zM8 72h3v1h-3zM17 72h1v1h-1zM24 72h1v1h-1zM17 73h1v1h-1zM24 73h1v1h-1zM17 74h1v1h-1zM24 74h1v1h-1zM17 75h1v1h-1zM24 75h1v1h-1zM17 76h1v1h-1zM24 76h1v1h-1zM17 77h1v1h-1zM24 77h1v1h-1zM68 77h2v1h-2zM17 78h1v1h-1zM24 78h1v1h-1zM17 79h1v1h-1zM24 79h1v1h-1zM17 80h1v1h-1zM24 80h1v1h-1zM64 80h1v1h-1zM17 81h1v1h-1zM24 81h1v1h-1zM17 82h1v1h-1zM24 82h1v1h-1zM17 83h1v1h-1zM24 83h1v1h-1zM17 84h1v1h-1zM24 84h1v1h-1zM17 85h1v1h-1zM24 85h1v1h-1z"/>
<path fill="#0050ff" d="M14 5h1v1h-1zM20 5h2v1h-2zM13 6h1v1h-1zM11 7h1v1h-1zM16 8h2v1h-2zM24 8h1v1h-1zM29 9h1v1h-1zM15 10h1v1h-1zM29 10h1v1h-1zM12 11h1v1h-1zM14 11h1v1h-1zM29 11h1v1h-1zM29 12h1v1h-1zM18 13h1v1h-1zM23 13h1v1h-1zM29 13h1v1h-1zM12 14h1v1h-1zM14 14h1v1h-1zM29 14h1v1h-1zM15 15h1v1h-1zM29 15h1v1h-1zM29 16h1v1h-1zM10 17h1v1h-1zM10 18h1v1h-1zM24 18h1v1h-1zM10 19h1v1h-1zM22 20h1v1h-1zM21 21h1v1h-1zM10 22h1v1h-1zM15 22h1v1h-1zM19 22h1v1h-1zM11 23h1v1h-1zM14 23h1v1h-1zM18 23h1v1h-1zM24 24h1v1h-1zM11 26h1v1h-1zM14 26h1v1h-1zM27 26h1v1h-1zM10 27h1v1h-1zM15 27h1v1h-1zM26 27h1v1h-1zM9 29h1v1h-1zM7 30h1v1h-1zM15 30h1v1h-1zM23 30h1v1h-1zM26 30h1v1h-1zM6 31h1v1h-1zM14 31h1v1h-1zM23 31h1v1h-1zM26 31h1v1h-1zM12 32h1v1h-1zM23 32h1v1h-1zM26 32h1v1h-1zM23 33h1v1h-1zM6 34h1v1h-1zM11 34h1v1h-1zM23 34h1v1h-1zM7 35h1v1h-1zM10 35h1v1h-1zM23 35h1v1h-1zM28 35h1v1h-1zM29 37h1v1h-1zM29 38h1v1h-1zM29 39h1v1h-1zM29 40h1v1h-1zM18 42h1v1h-1zM27 42h1v1h-1zM18 43h1v1h-1zM26 43h1v1h-1zM18 44h1v1h-1zM24 45h2v1h-2zM19 46h1v1h-1zM21 47h1v1h-1zM22 48h1v1h-1zM22 49h1v1h-1zM12 50h1v1h-1zM14 50h1v1h-1zM22 50h1v1h-1zM15 51h1v1h-1zM22 51h1v1h-1zM10 52h1v1h-1zM9 53h1v1h-1zM22 53h1v1h-1zM69 53h1v1h-1zM7 54h1v1h-1zM15 54h1v1h-1zM73 54h1v1h-1zM6 55h1v1h-1zM15 55h1v1h-1zM24 55h1v1h-1zM15 56h1v1h-1zM25 56h1v1h-1zM15 57h1v1h-1zM26 57h1v1h-1zM75 57h1v1h-1zM15 58h1v1h-1zM75 58h1v1h-1zM15 59h1v1h-1zM28 59h1v1h-1zM73 59h3v1h-3zM29 60h1v1h-1zM30 62h1v1h-1zM31 63h1v1h-1zM32 64h1v1h-1zM15 65h1v1h-1zM31 65h1v1h-1zM30 66h1v1h-1zM13 67h1v1h-1zM12 68h1v1h-1zM29 68h1v1h-1zM6 69h1v1h-1zM29 69h1v1h-1zM11 70h1v1h-1zM20 70h1v1h-1zM22 70h1v1h-1zM29 70h1v1h-1zM8 71h1v1h-1zM10 71h1v1h-1zM23 71h1v1h-1zM18 72h1v1h-1zM66 79h1v1h-1z"/>
<path fill="#0060ff" d="M19 0h1v1h-1zM22 0h1v1h-1zM19 1h1v1h-1zM22 1h1v1h-1zM19 2h1v1h-1zM22 2h1v1h-1zM19 3h1v1h-1zM22 3h1v1h-1zM19 4h1v1h-1zM22 4h1v1h-1zM19 5h1v1h-1zM22 5h1v1h-1zM14 6h1v1h-1zM20 6h2v1h-2zM12 7h1v1h-1zM15 7h3v1h-3zM24 7h5v1h-5zM11 8h1v1h-1zM15 8h1v1h-1zM18 8h1v1h-1zM23 8h1v1h-1zM29 8h1v1h-1zM11 9h1v1h-1zM15 9h1v1h-1zM18 9h1v1h-1zM23 9h1v1h-1zM14 10h1v1h-1zM18 10h1v1h-1zM23 10h1v1h-1zM13 11h1v1h-1zM18 11h1v1h-1zM23 11h1v1h-1zM18 12h1v1h-1zM23 12h1v1h-1zM13 14h1v1h-1zM19 14h1v1h-1zM22 14h1v1h-1zM14 15h1v1h-1zM11 16h1v1h-1zM15 16h1v1h-1zM15 17h1v1h-1zM29 17h1v1h-1zM15 18h1v1h-1zM25 18h4v1h-4zM15 19h1v1h-1zM23 19h1v1h-1zM10 20h1v1h-1zM15 20h1v1h-1zM10 21h1v1h-1zM15 21h1v1h-1zM22 21h1v1h-1zM11 22h1v1h-1zM14 22h1v1h-1zM20 22h2v1h-2zM12 23h2v1h-2zM19 23h1v1h-1zM24 23h5v1h-5zM18 24h1v1h-1zM23 24h1v1h-1zM29 24h1v1h-1zM18 25h1v1h-1zM23 25h1v1h-1zM29 25h1v1h-1zM12 26h2v1h-2zM18 26h1v1h-1zM23 26h1v1h-1zM28 26h1v1h-1zM11 27h1v1h-1zM14 27h1v1h-1zM18 27h1v1h-1zM23 27h1v1h-1zM27 27h1v1h-1zM10 28h1v1h-1zM15 28h1v1h-1zM18 28h1v1h-1zM23 28h1v1h-1zM26 28h1v1h-1zM10 29h1v1h-1zM15 29h1v1h-1zM18 29h1v1h-1zM23 29h1v1h-1zM26 29h1v1h-1zM8 30h2v1h-2zM14 30h1v1h-1zM18 30h1v1h-1zM7 31h1v1h-1zM12 31h2v1h-2zM18 31h1v1h-1zM6 32h1v1h-1zM11 32h1v1h-1zM18 32h1v1h-1zM6 33h1v1h-1zM11 33h1v1h-1zM18 33h1v1h-1zM7 34h1v1h-1zM10 34h1v1h-1zM18 34h1v1h-1zM27 34h1v1h-1zM8 35h2v1h-2zM18 35h1v1h-1zM18 36h1v1h-1zM23 36h1v1h-1zM29 36h1v1h-1zM18 37h1v1h-1zM23 37h1v1h-1zM18 38h1v1h-1zM23 38h1v1h-1zM18 39h1v1h-1zM23 39h1v1h-1zM18 40h1v1h-1zM23 40h1v1h-1zM18 41h1v1h-1zM23 41h1v1h-1zM29 41h1v1h-1zM23 42h1v1h-1zM28 42h1v1h-1zM23 43h1v1h-1zM27 43h1v1h-1zM23 44h1v1h-1zM26 44h1v1h-1zM19 45h1v1h-1zM23 45h1v1h-1zM20 46h1v1h-1zM23 46h2v1h-2zM22 47h1v1h-1zM13 50h1v1h-1zM11 51h1v1h-1zM14 51h1v1h-1zM15 52h1v1h-1zM22 52h1v1h-1zM15 53h1v1h-1zM8 54h1v1h-1zM23 54h1v1h-1zM7 55h1v1h-1zM6 56h1v1h-1zM68 56h1v1h-1zM6 57h1v1h-1zM6 58h1v1h-1zM27 58h1v1h-1zM71 58h1v1h-1zM76 58h1v1h-1zM6 59h1v1h-1zM6 60h1v1h-1zM15 60h1v1h-1zM74 60h1v1h-1zM6 61h1v1h-1zM15 61h1v1h-1zM30 61h1v1h-1zM76 61h1v1h-1zM6 62h1v1h-1zM15 62h1v1h-1zM31 62h1v1h-1zM6 63h1v1h-1zM15 63h1v1h-1zM6 64h1v1h-1zM15 64h1v1h-1zM6 65h1v1h-1zM6 66h1v1h-1zM14 66h1v1h-1zM6 67h1v1h-1zM6 68h1v1h-1zM11 69h1v1h-1zM7 70h1v1h-1zM10 70h1v1h-1zM21 70h1v1h-1zM9 71h1v1h-1zM19 71h1v1h-1zM22 71h1v1h-1zM23 72h1v1h-1zM18 73h1v1h-1zM23 73h1v1h-1zM18 74h1v1h-1zM23 74h1v1h-1zM18 75h1v1h-1zM23 75h1v1h-1zM18 76h1v1h-1zM23 76h1v1h-1zM18 77h1v1h-1zM23 77h1v1h-1zM18 78h1v1h-1zM23 78h1v1h-1zM18 79h1v1h-1zM23 79h1v1h-1zM18 80h1v1h-1zM23 80h1v1h-1zM18 81h1v1h-1zM23 81h1v1h-1zM18 82h1v1h-1zM23 82h1v1h-1zM18 83h1v1h-1zM23 83h1v1h-1zM18 84h1v1h-1zM23 84h1v1h-1zM18 85h1v1h-1zM23 85h1v1h-1z"/>
<path fill="#0070ff" d="M15 0h1v1h-1zM15 1h1v1h-1zM15 2h1v1h-1zM15 3h1v1h-1zM15 4h1v1h-1zM15 5h1v1h-1zM15 6h1v1h-1zM18 6h2v1h-2zM22 6h2v1h-2zM13 7h2v1h-2zM18 7h2v1h-2zM22 7h2v1h-2zM29 7h1v1h-1zM14 9h1v1h-1zM12 10h2v1h-2zM19 13h1v1h-1zM22 13h1v1h-1zM20 14h2v1h-2zM12 15h2v1h-2zM14 16h1v1h-1zM11 17h1v1h-1zM11 18h1v1h-1zM24 19h1v1h-1zM23 20h1v1h-1zM11 21h1v1h-1zM14 21h1v1h-1zM12 22h2v1h-2zM22 22h2v1h-2zM20 23h1v1h-1zM22 23h2v1h-2zM19 24h1v1h-1zM12 27h2v1h-2zM28 27h1v1h-1zM11 28h1v1h-1zM14 28h1v1h-1zM27 28h1v1h-1zM14 29h1v1h-1zM10 30h2v1h-2zM13 30h1v1h-1zM8 31h1v1h-1zM10 31h2v1h-2zM22 31h1v1h-1zM27 31h1v1h-1zM7 32h1v1h-1zM22 32h1v1h-1zM27 32h1v1h-1zM7 33h1v1h-1zM10 33h1v1h-1zM22 33h1v1h-1zM27 33h1v1h-1zM8 34h2v1h-2zM22 34h1v1h-1zM28 34h1v1h-1zM29 35h1v1h-1zM29 42h1v1h-1zM19 43h1v1h-1zM28 43h1v1h-1zM19 44h1v1h-1zM27 44h1v1h-1zM26 45h1v1h-1zM21 46h2v1h-2zM25 46h1v1h-1zM23 47h1v1h-1zM23 48h1v1h-1zM23 49h1v1h-1zM23 50h1v1h-1zM12 51h2v1h-2zM11 52h1v1h-1zM14 52h1v1h-1zM10 53h1v1h-1zM23 53h1v1h-1zM9 54h1v1h-1zM24 54h1v1h-1zM8 55h1v1h-1zM14 55h1v1h-1zM25 55h1v1h-1zM68 55h1v1h-1zM7 56h1v1h-1zM14 56h1v1h-1zM26 56h1v1h-1zM14 57h1v1h-1zM27 57h1v1h-1zM14 58h1v1h-1zM28 58h1v1h-1zM29 59h1v1h-1zM72 59h1v1h-1zM77 59h1v1h-1zM30 60h1v1h-1zM77 61h1v1h-1zM32 63h1v1h-1zM14 65h1v1h-1zM32 65h1v1h-1zM13 66h1v1h-1zM12 67h1v1h-1zM30 67h1v1h-1zM11 68h1v1h-1zM7 69h1v1h-1zM10 69h1v1h-1zM8 70h2v1h-2zM20 71h2v1h-2zM19 72h1v1h-1zM22 72h1v1h-1zM67 78h1v1h-1z"/>
<path fill="#0080ff" d="M18 0h1v1h-1zM23 0h1v1h-1zM18 1h1v1h-1zM23 1h1v1h-1zM18 2h1v1h-1zM23 2h1v1h-1zM18 3h1v1h-1zM23 3h1v1h-1zM18 4h1v1h-1zM23 4h1v1h-1zM18 5h1v1h-1zM23 5h1v1h-1zM16 6h2v1h-2zM24 6h5v1h-5zM20 7h2v1h-2zM14 8h1v1h-1zM19 8h1v1h-1zM22 8h1v1h-1zM19 9h1v1h-1zM22 9h1v1h-1zM30 9h1v1h-1zM19 10h1v1h-1zM22 10h1v1h-1zM30 10h1v1h-1zM19 11h1v1h-1zM22 11h1v1h-1zM30 11h1v1h-1zM19 12h1v1h-1zM22 12h1v1h-1zM30 12h1v1h-1zM14 17h1v1h-1zM14 18h1v1h-1zM29 18h1v1h-1zM11 19h1v1h-1zM14 19h1v1h-1zM25 19h4v1h-4zM11 20h1v1h-1zM14 20h1v1h-1zM23 21h1v1h-1zM24 22h5v1h-5zM21 23h1v1h-1zM29 23h1v1h-1zM22 24h1v1h-1zM19 25h1v1h-1zM22 25h1v1h-1zM19 26h1v1h-1zM22 26h1v1h-1zM29 26h1v1h-1zM19 27h1v1h-1zM22 27h1v1h-1zM19 28h1v1h-1zM22 28h1v1h-1zM11 29h1v1h-1zM19 29h1v1h-1zM22 29h1v1h-1zM27 29h1v1h-1zM12 30h1v1h-1zM19 30h1v1h-1zM22 30h1v1h-1zM27 30h1v1h-1zM9 31h1v1h-1zM19 31h1v1h-1zM10 32h1v1h-1zM19 32h1v1h-1zM19 33h1v1h-1zM19 34h1v1h-1zM19 35h1v1h-1zM22 35h1v1h-1zM19 36h1v1h-1zM22 36h1v1h-1zM19 37h1v1h-1zM22 37h1v1h-1zM30 37h1v1h-1zM19 38h1v1h-1zM22 38h1v1h-1zM30 38h1v1h-1zM19 39h1v1h-1zM22 39h1v1h-1zM30 39h1v1h-1zM19 40h1v1h-1zM22 40h1v1h-1zM30 40h1v1h-1zM19 41h1v1h-1zM22 41h1v1h-1zM19 42h1v1h-1zM22 42h1v1h-1zM22 43h1v1h-1zM22 44h1v1h-1zM22 45h1v1h-1zM27 45h1v1h-1zM26 46h1v1h-1zM24 47h2v1h-2zM23 51h1v1h-1zM23 52h1v1h-1zM69 52h2v1h-2zM11 53h1v1h-1zM14 53h1v1h-1zM68 53h1v1h-1zM10 54h1v1h-1zM14 54h1v1h-1zM25 54h1v1h-1zM68 54h1v1h-1zM9 55h1v1h-1zM26 55h1v1h-1zM74 55h1v1h-1zM27 56h1v1h-1zM75 56h1v1h-1zM7 57h1v1h-1zM76 57h1v1h-1zM7 58h1v1h-1zM7 59h1v1h-1zM14 59h1v1h-1zM7 60h1v1h-1zM14 60h1v1h-1zM73 60h1v1h-1zM7 61h1v1h-1zM14 61h1v1h-1zM31 61h1v1h-1zM7 62h1v1h-1zM14 62h1v1h-1zM32 62h1v1h-1zM7 63h1v1h-1zM14 63h1v1h-1zM7 64h1v1h-1zM14 64h1v1h-1zM33 64h1v1h-1zM7 65h1v1h-1zM7 66h1v1h-1zM12 66h1v1h-1zM31 66h1v1h-1zM7 67h1v1h-1zM11 67h1v1h-1zM7 68h1v1h-1zM10 68h1v1h-1zM19 73h1v1h-1zM22 73h1v1h-1zM19 74h1v1h-1zM22 74h1v1h-1zM19 75h1v1h-1zM22 75h1v1h-1zM19 76h1v1h-1zM22 76h1v1h-1zM19 77h1v1h-1zM22 77h1v1h-1zM19 78h1v1h-1zM22 78h1v1h-1zM19 79h1v1h-1zM22 79h1v1h-1zM19 80h1v1h-1zM22 80h1v1h-1zM19 81h1v1h-1zM22 81h1v1h-1zM19 82h1v1h-1zM22 82h1v1h-1zM19 83h1v1h-1zM22 83h1v1h-1zM19 84h1v1h-1zM22 84h1v1h-1zM19 85h1v1h-1zM22 85h1v1h-1z"/>
<path fill="#008fff" d="M16 5h2v1h-2zM24 5h1v1h-1zM29 6h1v1h-1zM12 8h2v1h-2zM20 8h2v1h-2zM30 8h1v1h-1zM12 9h2v1h-2zM20 13h2v1h-2zM30 13h1v1h-1zM30 14h1v1h-1zM12 16h2v1h-2zM24 20h1v1h-1zM12 21h2v1h-2zM24 21h1v1h-1zM20 24h2v1h-2zM12 28h2v1h-2zM28 28h1v1h-1zM12 29h2v1h-2zM8 32h2v1h-2zM8 33h2v1h-2zM28 33h1v1h-1zM29 34h1v1h-1zM30 36h1v1h-1zM30 41h1v1h-1zM29 43h1v1h-1zM28 44h1v1h-1zM20 45h2v1h-2zM27 46h1v1h-1zM26 47h1v1h-1zM24 48h1v1h-1zM12 52h2v1h-2zM71 52h2v1h-2zM24 53h1v1h-1zM73 53h1v1h-1zM11 54h1v1h-1zM26 54h1v1h-1zM10 55h1v1h-1zM27 55h1v1h-1zM8 56h1v1h-1zM28 57h1v1h-1zM29 58h1v1h-1zM70 58h1v1h-1zM77 58h1v1h-1zM30 59h1v1h-1zM31 60h1v1h-1zM32 61h1v1h-1zM75 61h1v1h-1zM33 63h1v1h-1zM13 65h1v1h-1zM33 65h1v1h-1zM11 66h1v1h-1zM10 67h1v1h-1zM30 68h1v1h-1zM8 69h2v1h-2zM30 71h1v1h-1zM20 72h2v1h-2zM30 72h1v1h-1zM30 73h1v1h-1zM30 74h1v1h-1zM30 75h1v1h-1zM30 76h1v1h-1zM68 76h2v1h-2zM30 77h1v1h-1zM30 78h1v1h-1zM30 79h1v1h-1zM65 79h1v1h-1zM30 80h1v1h-1zM30 81h1v1h-1zM30 82h1v1h-1zM30 83h1v1h-1zM30 84h1v1h-1zM30 85h1v1h-1z"/>
<path fill="#009fff" d="M16 0h2v1h-2zM24 0h1v1h-1zM16 1h2v1h-2zM24 1h1v1h-1zM16 2h2v1h-2zM24 2h1v1h-1zM16 3h2v1h-2zM24 3h1v1h-1zM16 4h2v1h-2zM24 4h1v1h-1zM25 5h4v1h-4zM30 7h1v1h-1zM20 9h2v1h-2zM20 10h2v1h-2zM20 11h2v1h-2zM20 12h2v1h-2zM30 15h1v1h-1zM30 16h1v1h-1zM12 17h2v1h-2zM12 18h2v1h-2zM12 19h2v1h-2zM12 20h2v1h-2zM25 20h4v1h-4zM25 21h4v1h-4zM20 25h2v1h-2zM20 26h2v1h-2zM20 27h2v1h-2zM29 27h1v1h-1zM20 28h2v1h-2zM20 29h2v1h-2zM28 29h1v1h-1zM20 30h2v1h-2zM28 30h1v1h-1zM20 31h2v1h-2zM28 31h1v1h-1zM20 32h2v1h-2zM28 32h1v1h-1zM20 33h2v1h-2zM20 34h2v1h-2zM20 35h2v1h-2zM30 35h1v1h-1zM20 36h2v1h-2zM20 37h2v1h-2zM20 38h2v1h-2zM20 39h2v1h-2zM20 40h2v1h-2zM20 41h2v1h-2zM68 41h2v1h-2zM20 42h2v1h-2zM30 42h1v1h-1zM68 42h2v1h-2zM20 43h2v1h-2zM68 43h2v1h-2zM20 44h2v1h-2zM68 44h2v1h-2zM28 45h1v1h-1zM27 47h1v1h-1zM25 48h1v1h-1zM24 49h1v1h-1zM24 50h1v1h-1zM24 51h1v1h-1zM24 52h1v1h-1zM68 52h1v1h-1zM12 53h2v1h-2zM25 53h1v1h-1zM13 54h1v1h-1zM27 54h1v1h-1zM11 55h1v1h-1zM13 55h1v1h-1zM9 56h1v1h-1zM13 56h1v1h-1zM28 56h1v1h-1zM8 57h1v1h-1zM13 57h1v1h-1zM68 57h1v1h-1zM8 58h1v1h-1zM13 58h1v1h-1zM8 59h1v1h-1zM13 59h1v1h-1zM8 60h1v1h-1zM13 60h1v1h-1zM78 60h1v1h-1zM8 61h1v1h-1zM13 61h1v1h-1zM8 62h1v1h-1zM13 62h1v1h-1zM33 62h1v1h-1zM8 63h1v1h-1zM13 63h1v1h-1zM8 64h1v1h-1zM13 64h1v1h-1zM34 64h1v1h-1zM8 65h1v1h-1zM12 65h1v1h-1zM8 66h1v1h-1zM10 66h1v1h-1zM8 67h1v1h-1zM8 68h2v1h-2zM30 69h1v1h-1zM30 70h1v1h-1zM20 73h2v1h-2zM20 74h2v1h-2zM20 75h2v1h-2zM20 76h2v1h-2zM20 77h2v1h-2zM20 78h2v1h-2zM20 79h2v1h-2zM20 80h2v1h-2zM20 81h2v1h-2zM63 81h1v1h-1zM20 82h2v1h-2zM63 82h1v1h-1zM20 83h2v1h-2zM63 83h1v1h-1zM20 84h2v1h-2zM63 84h1v1h-1zM20 85h2v1h-2zM63 85h1v1h-1z"/>
<path fill="#00afff" d="M25 0h4v1h-4zM25 1h4v1h-4zM25 2h4v1h-4zM25 3h4v1h-4zM25 4h4v1h-4zM29 5h1v1h-1zM30 17h1v1h-1zM29 19h1v1h-1zM29 22h1v1h-1zM30 24h1v1h-1zM30 25h1v1h-1zM29 28h1v1h-1zM29 33h1v1h-1zM29 44h1v1h-1zM68 45h2v1h-2zM28 46h1v1h-1zM28 47h1v1h-1zM26 48h3v1h-3zM25 49h4v1h-4zM25 50h4v1h-4zM25 51h4v1h-4zM25 52h4v1h-4zM26 53h3v1h-3zM12 54h1v1h-1zM28 54h1v1h-1zM12 55h1v1h-1zM28 55h1v1h-1zM10 56h3v1h-3zM9 57h4v1h-4zM29 57h1v1h-1zM77 57h1v1h-1zM9 58h4v1h-4zM30 58h1v1h-1zM9 59h4v1h-4zM31 59h1v1h-1zM78 59h1v1h-1zM9 60h4v1h-4zM32 60h1v1h-1zM9 61h4v1h-4zM33 61h1v1h-1zM74 61h1v1h-1zM9 62h4v1h-4zM9 63h4v1h-4zM34 63h1v1h-1zM9 64h4v1h-4zM9 65h3v1h-3zM9 66h1v1h-1zM32 66h1v1h-1zM9 67h1v1h-1zM31 67h1v1h-1z"/>
<path fill="#00bfff" d="M29 0h1v1h-1zM29 1h1v1h-1zM29 2h1v1h-1zM29 3h1v1h-1zM29 4h1v1h-1zM30 6h1v1h-1zM31 8h1v1h-1zM31 9h1v1h-1zM31 10h1v1h-1zM31 11h1v1h-1zM31 12h1v1h-1zM31 13h1v1h-1zM48 13h2v1h-2zM48 14h2v1h-2zM48 15h2v1h-2zM48 16h2v1h-2zM30 26h1v1h-1zM30 27h1v1h-1zM29 29h1v1h-1zM29 30h1v1h-1zM29 31h1v1h-1zM29 32h1v1h-1zM30 34h1v1h-1zM31 36h1v1h-1zM31 37h1v1h-1zM31 38h1v1h-1zM31 39h1v1h-1zM31 40h1v1h-1zM31 41h1v1h-1zM30 43h1v1h-1zM29 45h1v1h-1zM29 46h1v1h-1zM29 47h1v1h-1zM29 48h1v1h-1zM29 49h1v1h-1zM29 50h1v1h-1zM29 51h1v1h-1zM29 52h1v1h-1zM29 53h1v1h-1zM29 54h1v1h-1zM29 55h1v1h-1zM29 56h1v1h-1zM71 59h1v1h-1zM72 60h1v1h-1zM78 61h1v1h-1zM34 62h1v1h-1zM34 65h1v1h-1zM48 77h2v1h-2zM67 77h1v1h-1zM48 78h2v1h-2zM48 79h2v1h-2z"/>
<path fill="#00cfff" d="M30 5h1v1h-1zM31 7h1v1h-1zM44 8h2v1h-2zM44 9h2v1h-2zM48 12h2v1h-2zM31 14h1v1h-1zM48 17h2v1h-2zM30 18h1v1h-1zM29 20h1v1h-1zM29 21h1v1h-1zM30 23h1v1h-1zM30 28h1v1h-1zM48 28h2v1h-2zM48 29h2v1h-2zM44 32h2v1h-2zM30 33h1v1h-1zM44 33h2v1h-2zM31 35h1v1h-1zM48 36h2v1h-2zM48 37h2v1h-2zM31 42h1v1h-1zM30 44h1v1h-1zM69 51h1v1h-1zM74 54h1v1h-1zM76 56h1v1h-1zM30 57h1v1h-1zM31 58h1v1h-1zM69 58h1v1h-1zM78 58h1v1h-1zM32 59h1v1h-1zM33 60h1v1h-1zM61 60h1v1h-1zM34 61h1v1h-1zM73 61h1v1h-1zM35 64h1v1h-1zM68 64h2v1h-2zM68 65h2v1h-2zM33 66h1v1h-1zM48 76h2v1h-2zM66 78h1v1h-1zM48 80h2v1h-2zM48 81h2v1h-2zM70 81h1v1h-1zM48 82h2v1h-2zM70 82h1v1h-1zM48 83h2v1h-2zM70 83h1v1h-1zM48 84h2v1h-2zM70 84h1v1h-1zM48 85h2v1h-2zM70 85h1v1h-1z"/>
<path fill="#00dfff" d="M30 0h1v1h-1zM30 1h1v1h-1zM30 2h1v1h-1zM30 3h1v1h-1zM30 4h1v1h-1zM31 6h1v1h-1zM44 7h2v1h-2zM43 8h1v1h-1zM46 8h1v1h-1zM43 9h1v1h-1zM46 9h1v1h-1zM44 10h3v1h-3zM47 11h3v1h-3zM47 12h1v1h-1zM50 12h1v1h-1zM47 13h1v1h-1zM50 13h1v1h-1zM47 14h1v1h-1zM50 14h1v1h-1zM31 15h1v1h-1zM47 15h1v1h-1zM50 15h1v1h-1zM47 16h1v1h-1zM50 16h1v1h-1zM47 17h1v1h-1zM50 17h1v1h-1zM48 18h2v1h-2zM48 27h2v1h-2zM47 28h1v1h-1zM50 28h1v1h-1zM30 29h1v1h-1zM47 29h1v1h-1zM50 29h1v1h-1zM30 30h1v1h-1zM47 30h3v1h-3zM30 31h1v1h-1zM44 31h3v1h-3zM30 32h1v1h-1zM43 32h1v1h-1zM46 32h1v1h-1zM43 33h1v1h-1zM46 33h1v1h-1zM31 34h1v1h-1zM44 34h3v1h-3zM47 35h3v1h-3zM47 36h1v1h-1zM50 36h1v1h-1zM47 37h1v1h-1zM50 37h1v1h-1zM48 38h2v1h-2zM31 43h1v1h-1zM30 45h1v1h-1zM30 46h1v1h-1zM30 47h1v1h-1zM30 48h1v1h-1zM30 49h1v1h-1zM30 50h1v1h-1zM30 51h1v1h-1zM68 51h1v1h-1zM70 51h1v1h-1zM30 52h1v1h-1zM73 52h1v1h-1zM30 53h1v1h-1zM30 54h1v1h-1zM30 55h1v1h-1zM75 55h1v1h-1zM30 56h1v1h-1zM31 57h1v1h-1zM32 58h1v1h-1zM33 59h1v1h-1zM34 60h1v1h-1zM60 60h1v1h-1zM35 62h1v1h-1zM35 63h1v1h-1zM35 65h1v1h-1zM32 67h1v1h-1zM31 68h1v1h-1zM31 72h1v1h-1zM31 73h1v1h-1zM31 74h1v1h-1zM31 75h1v1h-1zM31 76h1v1h-1zM47 76h1v1h-1zM50 76h1v1h-1zM31 77h1v1h-1zM47 77h1v1h-1zM50 77h1v1h-1zM70 77h1v1h-1zM31 78h1v1h-1zM47 78h1v1h-1zM50 78h1v1h-1zM70 78h1v1h-1zM31 79h1v1h-1zM64 79h1v1h-1zM70 79h1v1h-1zM31 80h1v1h-1zM63 80h1v1h-1zM70 80h1v1h-1zM31 81h1v1h-1zM31 82h1v1h-1zM31 83h1v1h-1zM31 84h1v1h-1zM31 85h1v1h-1z"/>
<path fill="#00efff" d="M31 0h1v1h-1zM31 1h1v1h-1zM31 2h1v1h-1zM31 3h1v1h-1zM31 4h1v1h-1zM31 5h1v1h-1zM45 6h1v1h-1zM43 7h1v1h-1zM46 7h1v1h-1zM47 9h1v1h-1zM43 10h1v1h-1zM47 10h3v1h-3zM45 11h2v1h-2zM50 11h1v1h-1zM46 12h1v1h-1zM46 13h1v1h-1zM51 13h1v1h-1zM46 14h1v1h-1zM51 14h1v1h-1zM46 15h1v1h-1zM51 15h1v1h-1zM31 16h1v1h-1zM46 16h1v1h-1zM51 16h1v1h-1zM50 18h1v1h-1zM30 19h1v1h-1zM30 22h1v1h-1zM56 24h1v1h-1zM31 25h1v1h-1zM56 25h1v1h-1zM31 26h1v1h-1zM49 26h1v1h-1zM31 27h1v1h-1zM47 27h1v1h-1zM50 27h1v1h-1zM31 28h1v1h-1zM31 29h1v1h-1zM46 29h1v1h-1zM31 30h1v1h-1zM45 30h2v1h-2zM31 31h1v1h-1zM43 31h1v1h-1zM47 31h2v1h-2zM31 32h1v1h-1zM47 32h1v1h-1zM31 33h1v1h-1zM47 33h1v1h-1zM43 34h1v1h-1zM47 34h2v1h-2zM45 35h2v1h-2zM46 36h1v1h-1zM47 38h1v1h-1zM50 38h1v1h-1zM68 40h2v1h-2zM31 44h1v1h-1zM31 45h1v1h-1zM31 46h1v1h-1zM68 46h2v1h-2zM31 47h1v1h-1zM31 48h1v1h-1zM31 49h1v1h-1zM31 50h1v1h-1zM31 51h1v1h-1zM31 52h1v1h-1zM31 53h1v1h-1zM67 53h1v1h-1zM31 54h1v1h-1zM31 55h1v1h-1zM31 56h1v1h-1zM78 57h1v1h-1zM33 58h1v1h-1zM34 59h1v1h-1zM79 60h1v1h-1zM35 61h1v1h-1zM61 61h1v1h-1zM76 62h1v1h-1zM34 66h1v1h-1zM31 69h1v1h-1zM31 70h1v1h-1zM31 71h1v1h-1zM47 79h1v1h-1zM50 79h1v1h-1zM47 80h1v1h-1zM50 80h1v1h-1z"/>
<path fill="#00ffff" d="M32 6h1v1h-1zM43 6h2v1h-2zM46 6h1v1h-1zM32 7h1v1h-1zM42 7h1v1h-1zM47 7h1v1h-1zM32 8h1v1h-1zM42 8h1v1h-1zM47 8h1v1h-1zM32 9h1v1h-1zM42 9h1v1h-1zM48 9h1v1h-1zM32 10h1v1h-1zM42 10h1v1h-1zM50 10h1v1h-1zM32 11h1v1h-1zM43 11h2v1h-2zM51 11h1v1h-1zM32 12h1v1h-1zM45 12h1v1h-1zM51 12h1v1h-1zM32 13h1v1h-1zM31 17h1v1h-1zM46 17h1v1h-1zM51 17h1v1h-1zM47 18h1v1h-1zM51 18h1v1h-1zM48 19h3v1h-3zM31 24h1v1h-1zM54 24h2v1h-2zM54 25h2v1h-2zM47 26h2v1h-2zM50 26h1v1h-1zM46 27h1v1h-1zM51 27h1v1h-1zM46 28h1v1h-1zM51 28h1v1h-1zM45 29h1v1h-1zM51 29h1v1h-1zM43 30h2v1h-2zM50 30h1v1h-1zM42 31h1v1h-1zM49 31h1v1h-1zM42 32h1v1h-1zM48 32h1v1h-1zM42 33h1v1h-1zM48 33h1v1h-1zM32 34h1v1h-1zM42 34h1v1h-1zM49 34h1v1h-1zM32 35h1v1h-1zM43 35h2v1h-2zM50 35h1v1h-1zM32 36h1v1h-1zM45 36h1v1h-1zM51 36h1v1h-1zM32 37h1v1h-1zM46 37h1v1h-1zM51 37h1v1h-1zM32 38h1v1h-1zM46 38h1v1h-1zM51 38h1v1h-1zM32 39h1v1h-1zM47 39h4v1h-4zM32 40h1v1h-1zM32 41h1v1h-1zM32 42h1v1h-1zM32 43h1v1h-1zM71 51h1v1h-1zM67 52h1v1h-1zM67 54h1v1h-1zM67 55h1v1h-1zM32 57h1v1h-1zM34 58h1v1h-1zM35 59h1v1h-1zM79 59h1v1h-1zM35 60h1v1h-1zM60 61h1v1h-1zM77 62h1v1h-1zM36 63h1v1h-1zM36 64h1v1h-1zM47 75h4v1h-4zM46 76h1v1h-1zM51 76h1v1h-1zM46 77h1v1h-1zM51 77h1v1h-1zM46 78h1v1h-1zM51 78h1v1h-1zM47 81h1v1h-1zM50 81h1v1h-1zM47 82h1v1h-1zM50 82h1v1h-1zM47 83h1v1h-1zM50 83h1v1h-1zM47 84h1v1h-1zM50 84h1v1h-1zM47 85h1v1h-1zM50 85h1v1h-1z"/>
<path fill="#10ffef" d="M32 0h1v1h-1zM32 1h1v1h-1zM32 2h1v1h-1zM32 3h1v1h-1zM32 4h1v1h-1zM32 5h1v1h-1zM42 5h6v1h-6zM41 6h2v1h-2zM47 6h2v1h-2zM41 7h1v1h-1zM48 7h1v1h-1zM41 8h1v1h-1zM48 8h1v1h-1zM41 9h1v1h-1zM49 9h3v1h-3zM41 10h1v1h-1zM51 10h2v1h-2zM41 11h2v1h-2zM52 11h1v1h-1zM42 12h3v1h-3zM52 12h1v1h-1zM45 13h1v1h-1zM52 13h1v1h-1zM32 14h1v1h-1zM45 14h1v1h-1zM52 14h1v1h-1zM45 15h1v1h-1zM52 15h1v1h-1zM45 16h1v1h-1zM52 16h1v1h-1zM45 17h1v1h-1zM52 17h1v1h-1zM46 18h1v1h-1zM52 18h1v1h-1zM47 19h1v1h-1zM51 19h2v1h-2zM30 20h1v1h-1zM48 20h4v1h-4zM30 21h1v1h-1zM53 24h1v1h-1zM46 25h6v1h-6zM53 25h1v1h-1zM45 26h2v1h-2zM51 26h2v1h-2zM45 27h1v1h-1zM52 27h1v1h-1zM32 28h1v1h-1zM45 28h1v1h-1zM52 28h1v1h-1zM32 29h1v1h-1zM42 29h3v1h-3zM52 29h1v1h-1zM32 30h1v1h-1zM41 30h2v1h-2zM51 30h1v1h-1zM32 31h1v1h-1zM41 31h1v1h-1zM50 31h1v1h-1zM32 32h1v1h-1zM41 32h1v1h-1zM49 32h1v1h-1zM32 33h1v1h-1zM41 33h1v1h-1zM49 33h1v1h-1zM41 34h1v1h-1zM50 34h1v1h-1zM41 35h2v1h-2zM51 35h1v1h-1zM42 36h3v1h-3zM52 36h1v1h-1zM45 37h1v1h-1zM52 37h1v1h-1zM45 38h1v1h-1zM52 38h1v1h-1zM45 39h2v1h-2zM51 39h2v1h-2zM46 40h6v1h-6zM32 44h1v1h-1zM32 45h1v1h-1zM32 46h1v1h-1zM32 47h1v1h-1zM32 48h1v1h-1zM32 49h1v1h-1zM32 50h1v1h-1zM69 50h1v1h-1zM32 51h1v1h-1zM72 51h1v1h-1zM32 52h1v1h-1zM32 53h1v1h-1zM32 54h1v1h-1zM32 55h1v1h-1zM32 56h1v1h-1zM67 56h1v1h-1zM77 56h1v1h-1zM33 57h3v1h-3zM35 58h2v1h-2zM79 58h1v1h-1zM36 59h1v1h-1zM70 59h1v1h-1zM36 60h1v1h-1zM36 61h1v1h-1zM72 61h1v1h-1zM79 61h1v1h-1zM36 62h1v1h-1zM75 62h1v1h-1zM36 65h1v1h-1zM35 66h1v1h-1zM33 67h1v1h-1zM45 75h2v1h-2zM51 75h2v1h-2zM69 75h1v1h-1zM45 76h1v1h-1zM52 76h1v1h-1zM70 76h1v1h-1zM45 77h1v1h-1zM52 77h1v1h-1zM46 79h1v1h-1zM51 79h1v1h-1z"/>
<path fill="#20ffdf" d="M33 0h21v1h-21zM33 1h21v1h-21zM33 2h21v1h-21zM33 3h21v1h-21zM33 4h21v1h-21zM33 5h9v1h-9zM48 5h6v1h-6zM33 6h2v1h-2zM39 6h2v1h-2zM49 6h4v1h-4zM33 7h1v1h-1zM40 7h1v1h-1zM49 7h4v1h-4zM33 8h1v1h-1zM40 8h1v1h-1zM49 8h4v1h-4zM33 9h1v1h-1zM40 9h1v1h-1zM52 9h1v1h-1zM33 10h1v1h-1zM40 10h1v1h-1zM33 11h2v1h-2zM39 11h2v1h-2zM33 12h9v1h-9zM33 13h12v1h-12zM35 14h10v1h-10zM36 15h9v1h-9zM36 16h9v1h-9zM37 17h8v1h-8zM31 18h1v1h-1zM39 18h4v1h-4zM40 19h2v1h-2zM40 20h2v1h-2zM52 20h1v1h-1zM48 21h5v1h-5zM48 22h5v1h-5zM31 23h1v1h-1zM47 23h7v1h-7zM45 24h8v1h-8zM57 24h1v1h-1zM44 25h2v1h-2zM52 25h1v1h-1zM57 25h1v1h-1zM44 26h1v1h-1zM53 26h1v1h-1zM32 27h1v1h-1zM43 27h2v1h-2zM41 28h4v1h-4zM33 29h1v1h-1zM40 29h2v1h-2zM33 30h1v1h-1zM40 30h1v1h-1zM33 31h2v1h-2zM39 31h2v1h-2zM33 32h8v1h-8zM33 33h8v1h-8zM33 34h8v1h-8zM33 35h8v1h-8zM33 36h9v1h-9zM33 37h12v1h-12zM33 38h12v1h-12zM33 39h12v1h-12zM33 40h13v1h-13zM52 40h1v1h-1zM33 41h20v1h-20zM33 42h2v1h-2zM39 42h12v1h-12zM33 43h1v1h-1zM40 43h10v1h-10zM33 44h1v1h-1zM40 44h10v1h-10zM67 44h1v1h-1zM70 44h1v1h-1zM33 45h1v1h-1zM40 45h10v1h-10zM33 46h1v1h-1zM40 46h10v1h-10zM33 47h1v1h-1zM40 47h10v1h-10zM68 47h1v1h-1zM33 48h1v1h-1zM40 48h10v1h-10zM33 49h1v1h-1zM40 49h10v1h-10zM33 50h1v1h-1zM40 50h10v1h-10zM68 50h1v1h-1zM33 51h1v1h-1zM40 51h11v1h-11zM33 52h1v1h-1zM40 52h13v1h-13zM33 53h1v1h-1zM41 53h12v1h-12zM74 53h1v1h-1zM33 54h1v1h-1zM43 54h10v1h-10zM33 55h2v1h-2zM44 55h9v1h-9zM33 56h4v1h-4zM44 56h9v1h-9zM36 57h2v1h-2zM44 57h9v1h-9zM79 57h1v1h-1zM45 58h6v1h-6zM68 58h1v1h-1zM45 59h5v1h-5zM45 60h5v1h-5zM71 60h1v1h-1zM45 61h5v1h-5zM47 62h3v1h-3zM48 63h3v1h-3zM37 64h1v1h-1zM48 64h5v1h-5zM48 65h6v1h-6zM48 66h6v1h-6zM34 67h1v1h-1zM48 67h6v1h-6zM32 68h1v1h-1zM48 68h6v1h-6zM40 69h2v1h-2zM49 69h5v1h-5zM41 70h1v1h-1zM51 70h2v1h-2zM41 71h2v1h-2zM52 71h1v1h-1zM41 72h4v1h-4zM52 72h1v1h-1zM41 73h5v1h-5zM52 73h1v1h-1zM41 74h12v1h-12zM40 75h5v1h-5zM68 75h1v1h-1zM39 76h6v1h-6zM67 76h1v1h-1zM36 77h9v1h-9zM36 78h7v1h-7zM45 78h1v1h-1zM52 78h1v1h-1zM36 79h6v1h-6zM36 80h6v1h-6zM46 80h1v1h-1zM51 80h1v1h-1zM36 81h6v1h-6zM46 81h1v1h-1zM51 81h1v1h-1zM36 82h6v1h-6zM46 82h1v1h-1zM51 82h1v1h-1zM36 83h6v1h-6zM46 83h1v1h-1zM51 83h1v1h-1zM36 84h6v1h-6zM46 84h1v1h-1zM51 84h1v1h-1zM36 85h6v1h-6zM46 85h1v1h-1zM51 85h1v1h-1z"/>
<path fill="#30ffcf" d="M35 6h4v1h-4zM53 6h1v1h-1zM34 7h1v1h-1zM39 7h1v1h-1zM53 7h1v1h-1zM34 8h1v1h-1zM39 8h1v1h-1zM53 8h1v1h-1zM34 9h1v1h-1zM39 9h1v1h-1zM53 9h1v1h-1zM34 10h1v1h-1zM39 10h1v1h-1zM53 10h1v1h-1zM35 11h4v1h-4zM53 11h1v1h-1zM53 12h1v1h-1zM53 13h1v1h-1zM33 14h2v1h-2zM32 15h1v1h-1zM35 15h1v1h-1zM35 16h1v1h-1zM36 17h1v1h-1zM37 18h2v1h-2zM43 18h3v1h-3zM39 19h1v1h-1zM42 19h1v1h-1zM46 19h1v1h-1zM39 20h1v1h-1zM42 20h1v1h-1zM47 20h1v1h-1zM40 21h2v1h-2zM47 21h1v1h-1zM47 22h1v1h-1zM53 22h1v1h-1zM45 23h2v1h-2zM54 23h1v1h-1zM36 24h2v1h-2zM44 24h1v1h-1zM36 25h2v1h-2zM43 25h1v1h-1zM32 26h1v1h-1zM43 26h1v1h-1zM54 26h1v1h-1zM41 27h2v1h-2zM53 27h1v1h-1zM33 28h1v1h-1zM40 28h1v1h-1zM34 29h1v1h-1zM39 29h1v1h-1zM34 30h1v1h-1zM39 30h1v1h-1zM52 30h1v1h-1zM35 31h4v1h-4zM51 31h1v1h-1zM50 32h1v1h-1zM50 33h1v1h-1zM51 34h1v1h-1zM52 35h1v1h-1zM53 37h1v1h-1zM53 38h1v1h-1zM53 39h1v1h-1zM53 40h1v1h-1zM35 42h4v1h-4zM51 42h2v1h-2zM67 42h1v1h-1zM70 42h1v1h-1zM34 43h1v1h-1zM39 43h1v1h-1zM50 43h1v1h-1zM67 43h1v1h-1zM70 43h1v1h-1zM34 44h1v1h-1zM39 44h1v1h-1zM50 44h1v1h-1zM67 45h1v1h-1zM70 45h1v1h-1zM69 47h1v1h-1zM50 49h1v1h-1zM50 50h1v1h-1zM51 51h2v1h-2zM67 51h1v1h-1zM34 53h1v1h-1zM40 53h1v1h-1zM34 54h1v1h-1zM41 54h2v1h-2zM35 55h2v1h-2zM43 55h1v1h-1zM37 56h1v1h-1zM43 56h1v1h-1zM78 56h1v1h-1zM37 58h1v1h-1zM44 58h1v1h-1zM51 58h2v1h-2zM37 59h1v1h-1zM44 59h1v1h-1zM50 59h1v1h-1zM37 60h1v1h-1zM44 60h1v1h-1zM50 60h1v1h-1zM37 61h1v1h-1zM50 61h1v1h-1zM37 62h1v1h-1zM45 62h2v1h-2zM50 62h1v1h-1zM74 62h1v1h-1zM78 62h1v1h-1zM37 63h1v1h-1zM47 63h1v1h-1zM51 63h2v1h-2zM69 63h1v1h-1zM47 64h1v1h-1zM53 64h1v1h-1zM70 64h1v1h-1zM37 65h1v1h-1zM36 66h1v1h-1zM35 67h1v1h-1zM40 68h2v1h-2zM42 69h1v1h-1zM48 69h1v1h-1zM40 70h1v1h-1zM42 70h1v1h-1zM49 70h2v1h-2zM53 70h1v1h-1zM40 71h1v1h-1zM43 71h2v1h-2zM51 71h1v1h-1zM53 71h1v1h-1zM40 72h1v1h-1zM45 72h1v1h-1zM51 72h1v1h-1zM53 72h1v1h-1zM40 73h1v1h-1zM46 73h1v1h-1zM51 73h1v1h-1zM53 73h1v1h-1zM40 74h1v1h-1zM53 74h1v1h-1zM39 75h1v1h-1zM53 75h1v1h-1zM37 76h2v1h-2zM53 76h1v1h-1zM43 78h2v1h-2zM65 78h1v1h-1zM42 79h1v1h-1zM42 80h1v1h-1z"/>
<path fill="#40ffbf" d="M54 0h1v1h-1zM54 1h1v1h-1zM54 2h1v1h-1zM54 3h1v1h-1zM54 4h1v1h-1zM54 5h1v1h-1zM35 7h4v1h-4zM35 8h1v1h-1zM38 8h1v1h-1zM35 9h1v1h-1zM38 9h1v1h-1zM35 10h4v1h-4zM53 14h1v1h-1zM33 15h2v1h-2zM53 15h1v1h-1zM32 16h1v1h-1zM34 16h1v1h-1zM53 16h1v1h-1zM35 17h1v1h-1zM53 17h1v1h-1zM36 18h1v1h-1zM53 18h1v1h-1zM31 19h1v1h-1zM37 19h2v1h-2zM43 19h3v1h-3zM53 19h1v1h-1zM38 20h1v1h-1zM43 20h1v1h-1zM46 20h1v1h-1zM53 20h1v1h-1zM39 21h1v1h-1zM42 21h1v1h-1zM46 21h1v1h-1zM53 21h1v1h-1zM31 22h1v1h-1zM38 22h6v1h-6zM45 22h2v1h-2zM36 23h4v1h-4zM42 23h3v1h-3zM55 23h1v1h-1zM35 24h1v1h-1zM38 24h1v1h-1zM43 24h1v1h-1zM32 25h1v1h-1zM35 25h1v1h-1zM38 25h1v1h-1zM42 25h1v1h-1zM34 26h6v1h-6zM41 26h2v1h-2zM55 26h1v1h-1zM33 27h3v1h-3zM38 27h3v1h-3zM34 28h1v1h-1zM39 28h1v1h-1zM53 28h1v1h-1zM35 29h1v1h-1zM38 29h1v1h-1zM35 30h4v1h-4zM52 31h1v1h-1zM51 32h1v1h-1zM51 33h1v1h-1zM52 34h1v1h-1zM53 36h1v1h-1zM53 41h1v1h-1zM67 41h1v1h-1zM70 41h1v1h-1zM35 43h4v1h-4zM51 43h2v1h-2zM35 44h1v1h-1zM38 44h1v1h-1zM51 44h1v1h-1zM34 45h1v1h-1zM39 45h1v1h-1zM50 45h1v1h-1zM34 46h1v1h-1zM39 46h1v1h-1zM50 46h1v1h-1zM34 47h1v1h-1zM39 47h1v1h-1zM50 47h1v1h-1zM34 48h1v1h-1zM39 48h1v1h-1zM50 48h1v1h-1zM34 49h1v1h-1zM39 49h1v1h-1zM51 49h1v1h-1zM34 50h1v1h-1zM39 50h1v1h-1zM51 50h2v1h-2zM70 50h1v1h-1zM34 51h1v1h-1zM39 51h1v1h-1zM34 52h1v1h-1zM39 52h1v1h-1zM35 53h1v1h-1zM39 53h1v1h-1zM53 53h1v1h-1zM35 54h2v1h-2zM38 54h3v1h-3zM37 55h3v1h-3zM41 55h2v1h-2zM38 56h1v1h-1zM42 56h1v1h-1zM38 57h1v1h-1zM43 57h1v1h-1zM67 57h1v1h-1zM51 59h2v1h-2zM80 59h1v1h-1zM51 60h1v1h-1zM80 60h1v1h-1zM44 61h1v1h-1zM51 61h1v1h-1zM51 62h2v1h-2zM73 62h1v1h-1zM45 63h2v1h-2zM68 63h1v1h-1zM38 64h1v1h-1zM46 64h1v1h-1zM67 64h1v1h-1zM38 65h1v1h-1zM47 65h1v1h-1zM54 65h1v1h-1zM67 65h1v1h-1zM70 65h1v1h-1zM37 66h3v1h-3zM47 66h1v1h-1zM54 66h1v1h-1zM68 66h2v1h-2zM36 67h1v1h-1zM38 67h4v1h-4zM47 67h1v1h-1zM54 67h1v1h-1zM39 68h1v1h-1zM42 68h1v1h-1zM47 68h1v1h-1zM54 68h1v1h-1zM32 69h1v1h-1zM39 69h1v1h-1zM43 69h1v1h-1zM47 69h1v1h-1zM54 69h1v1h-1zM32 70h1v1h-1zM43 70h2v1h-2zM46 70h3v1h-3zM32 71h1v1h-1zM45 71h3v1h-3zM49 71h2v1h-2zM32 72h1v1h-1zM46 72h1v1h-1zM50 72h1v1h-1zM32 73h1v1h-1zM47 73h1v1h-1zM50 73h1v1h-1zM32 74h1v1h-1zM32 75h1v1h-1zM32 76h1v1h-1zM36 76h1v1h-1zM32 77h1v1h-1zM35 77h1v1h-1zM53 77h1v1h-1zM66 77h1v1h-1zM32 78h1v1h-1zM35 78h1v1h-1zM32 79h1v1h-1zM35 79h1v1h-1zM43 79h3v1h-3zM52 79h1v1h-1zM63 79h1v1h-1zM32 80h1v1h-1zM35 80h1v1h-1zM43 80h1v1h-1zM32 81h1v1h-1zM35 81h1v1h-1zM42 81h1v1h-1zM32 82h1v1h-1zM35 82h1v1h-1zM42 82h1v1h-1zM32 83h1v1h-1zM35 83h1v1h-1zM42 83h1v1h-1zM32 84h1v1h-1zM35 84h1v1h-1zM42 84h1v1h-1zM32 85h1v1h-1zM35 85h1v1h-1zM42 85h1v1h-1z"/>
<path fill="#50ffaf" d="M55 0h1v1h-1zM55 1h1v1h-1zM55 2h1v1h-1zM55 3h1v1h-1zM55 4h1v1h-1zM55 5h1v1h-1zM54 6h1v1h-1zM54 7h1v1h-1zM32 17h1v1h-1zM45 20h1v1h-1zM38 21h1v1h-1zM43 21h1v1h-1zM37 22h1v1h-1zM44 22h1v1h-1zM54 22h1v1h-1zM40 23h2v1h-2zM56 23h1v1h-1zM32 24h1v1h-1zM39 24h1v1h-1zM42 24h1v1h-1zM34 25h1v1h-1zM39 25h1v1h-1zM33 26h1v1h-1zM40 26h1v1h-1zM56 26h1v1h-1zM36 27h2v1h-2zM35 28h1v1h-1zM38 28h1v1h-1zM53 29h1v1h-1zM52 32h1v1h-1zM52 33h1v1h-1zM53 35h1v1h-1zM53 42h1v1h-1zM35 45h1v1h-1zM38 45h1v1h-1zM51 45h1v1h-1zM35 46h1v1h-1zM38 46h1v1h-1zM51 46h1v1h-1zM67 46h1v1h-1zM35 47h1v1h-1zM38 47h1v1h-1zM51 47h1v1h-1zM35 48h1v1h-1zM38 48h1v1h-1zM51 48h1v1h-1zM35 49h1v1h-1zM38 49h1v1h-1zM35 50h1v1h-1zM38 50h1v1h-1zM35 51h1v1h-1zM38 51h1v1h-1zM73 51h1v1h-1zM35 52h1v1h-1zM38 52h1v1h-1zM53 52h1v1h-1zM38 53h1v1h-1zM37 54h1v1h-1zM53 54h1v1h-1zM75 54h1v1h-1zM40 55h1v1h-1zM53 55h1v1h-1zM76 55h1v1h-1zM39 56h1v1h-1zM53 56h1v1h-1zM79 56h1v1h-1zM39 57h1v1h-1zM42 57h1v1h-1zM80 57h1v1h-1zM38 58h1v1h-1zM43 58h1v1h-1zM80 58h1v1h-1zM38 59h1v1h-1zM43 59h1v1h-1zM60 59h2v1h-2zM62 60h1v1h-1zM80 61h1v1h-1zM38 62h1v1h-1zM44 62h1v1h-1zM79 62h1v1h-1zM38 63h1v1h-1zM44 63h1v1h-1zM53 63h1v1h-1zM39 64h1v1h-1zM54 64h1v1h-1zM39 65h1v1h-1zM46 65h1v1h-1zM55 65h1v1h-1zM40 66h2v1h-2zM46 66h1v1h-1zM55 66h1v1h-1zM37 67h1v1h-1zM42 67h1v1h-1zM46 67h1v1h-1zM55 67h1v1h-1zM33 68h2v1h-2zM38 68h1v1h-1zM43 68h1v1h-1zM46 68h1v1h-1zM55 68h1v1h-1zM38 69h1v1h-1zM46 69h1v1h-1zM55 69h1v1h-1zM39 70h1v1h-1zM45 70h1v1h-1zM54 70h1v1h-1zM39 71h1v1h-1zM48 71h1v1h-1zM54 71h1v1h-1zM47 72h1v1h-1zM48 73h2v1h-2zM39 74h1v1h-1zM38 75h1v1h-1zM34 76h2v1h-2zM34 77h1v1h-1zM34 78h1v1h-1zM53 78h1v1h-1zM34 79h1v1h-1zM34 80h1v1h-1zM45 80h1v1h-1zM52 80h1v1h-1zM34 81h1v1h-1zM43 81h1v1h-1zM45 81h1v1h-1zM52 81h1v1h-1zM34 82h1v1h-1zM43 82h1v1h-1zM45 82h1v1h-1zM52 82h1v1h-1zM34 83h1v1h-1zM43 83h1v1h-1zM45 83h1v1h-1zM52 83h1v1h-1zM34 84h1v1h-1zM43 84h1v1h-1zM45 84h1v1h-1zM52 84h1v1h-1zM34 85h1v1h-1zM43 85h1v1h-1zM45 85h1v1h-1zM52 85h1v1h-1z"/>
<path fill="#60ff9f" d="M56 0h1v1h-1zM56 1h1v1h-1zM56 2h1v1h-1zM56 3h1v1h-1zM56 4h1v1h-1zM36 8h2v1h-2zM54 8h1v1h-1zM36 9h2v1h-2zM54 9h1v1h-1zM54 10h1v1h-1zM54 11h1v1h-1zM54 12h1v1h-1zM33 16h1v1h-1zM34 17h1v1h-1zM35 18h1v1h-1zM36 19h1v1h-1zM31 20h1v1h-1zM37 20h1v1h-1zM44 20h1v1h-1zM31 21h1v1h-1zM37 21h1v1h-1zM44 21h2v1h-2zM36 22h1v1h-1zM35 23h1v1h-1zM34 24h1v1h-1zM40 24h2v1h-2zM33 25h1v1h-1zM40 25h2v1h-2zM54 27h1v1h-1zM36 28h2v1h-2zM36 29h2v1h-2zM53 30h1v1h-1zM54 37h1v1h-1zM54 38h1v1h-1zM54 39h1v1h-1zM54 40h1v1h-1zM53 43h1v1h-1zM36 44h2v1h-2zM52 44h1v1h-1zM36 45h2v1h-2zM52 45h1v1h-1zM36 46h2v1h-2zM52 46h1v1h-1zM70 46h1v1h-1zM36 47h2v1h-2zM52 47h1v1h-1zM36 48h2v1h-2zM52 48h1v1h-1zM68 48h1v1h-1zM36 49h2v1h-2zM52 49h1v1h-1zM68 49h2v1h-2zM36 50h2v1h-2zM67 50h1v1h-1zM71 50h1v1h-1zM36 51h2v1h-2zM53 51h1v1h-1zM36 52h2v1h-2zM66 52h1v1h-1zM36 53h2v1h-2zM66 53h1v1h-1zM40 56h2v1h-2zM53 57h1v1h-1zM69 59h1v1h-1zM38 60h1v1h-1zM43 60h1v1h-1zM52 60h1v1h-1zM38 61h1v1h-1zM43 61h1v1h-1zM52 61h1v1h-1zM62 61h1v1h-1zM71 61h1v1h-1zM72 62h1v1h-1zM70 63h1v1h-1zM44 64h2v1h-2zM40 65h4v1h-4zM45 65h1v1h-1zM56 65h1v1h-1zM42 66h4v1h-4zM56 66h1v1h-1zM43 67h3v1h-3zM56 67h1v1h-1zM35 68h3v1h-3zM44 68h2v1h-2zM56 68h1v1h-1zM44 69h2v1h-2zM39 72h1v1h-1zM48 72h2v1h-2zM54 72h1v1h-1zM39 73h1v1h-1zM54 73h1v1h-1zM54 74h1v1h-1zM36 75h2v1h-2zM54 75h1v1h-1zM33 76h1v1h-1zM54 76h1v1h-1zM33 77h1v1h-1zM33 78h1v1h-1zM33 79h1v1h-1zM53 79h1v1h-1zM33 80h1v1h-1zM44 80h1v1h-1zM33 81h1v1h-1zM44 81h1v1h-1zM62 81h1v1h-1zM33 82h1v1h-1zM44 82h1v1h-1zM62 82h1v1h-1zM33 83h1v1h-1zM44 83h1v1h-1zM62 83h1v1h-1zM33 84h1v1h-1zM44 84h1v1h-1zM62 84h1v1h-1zM33 85h1v1h-1zM44 85h1v1h-1zM62 85h1v1h-1z"/>
<path fill="#70ff8f" d="M56 5h1v1h-1zM55 6h1v1h-1zM54 13h1v1h-1zM54 14h1v1h-1zM33 17h1v1h-1zM32 18h1v1h-1zM34 18h1v1h-1zM35 19h1v1h-1zM36 20h1v1h-1zM36 21h1v1h-1zM35 22h1v1h-1zM32 23h1v1h-1zM34 23h1v1h-1zM33 24h1v1h-1zM53 31h1v1h-1zM53 34h1v1h-1zM54 36h1v1h-1zM68 39h2v1h-2zM67 40h1v1h-1zM70 40h1v1h-1zM54 41h1v1h-1zM53 44h1v1h-1zM67 47h1v1h-1zM69 48h1v1h-1zM53 50h1v1h-1zM66 51h1v1h-1zM74 52h1v1h-1zM40 57h2v1h-2zM81 57h5v1h-5zM39 58h1v1h-1zM42 58h1v1h-1zM53 58h1v1h-1zM81 58h5v1h-5zM81 59h5v1h-5zM59 60h1v1h-1zM81 60h5v1h-5zM59 61h1v1h-1zM43 62h1v1h-1zM53 62h1v1h-1zM71 62h1v1h-1zM39 63h1v1h-1zM43 63h1v1h-1zM40 64h4v1h-4zM55 64h1v1h-1zM44 65h1v1h-1zM33 69h3v1h-3zM37 69h1v1h-1zM56 69h1v1h-1zM33 70h1v1h-1zM38 70h1v1h-1zM55 70h1v1h-1zM33 71h1v1h-1zM33 73h1v1h-1zM33 74h1v1h-1zM38 74h1v1h-1zM33 75h3v1h-3zM70 75h1v1h-1zM54 77h1v1h-1zM64 78h1v1h-1zM53 80h1v1h-1zM62 80h1v1h-1z"/>
<path fill="#80ff80" d="M55 7h1v1h-1zM54 15h1v1h-1zM54 21h1v1h-1zM55 22h1v1h-1zM57 23h1v1h-1zM57 26h1v1h-1zM55 27h1v1h-1zM54 28h1v1h-1zM53 32h1v1h-1zM53 33h1v1h-1zM54 42h1v1h-1zM54 43h1v1h-1zM53 45h1v1h-1zM53 46h1v1h-1zM53 47h1v1h-1zM70 47h1v1h-1zM53 49h1v1h-1zM67 49h1v1h-1zM66 54h1v1h-1zM80 56h1v1h-1zM39 59h1v1h-1zM42 59h1v1h-1zM53 59h1v1h-1zM70 60h1v1h-1zM81 61h5v1h-5zM39 62h1v1h-1zM70 62h1v1h-1zM80 62h1v1h-1zM42 63h1v1h-1zM54 63h1v1h-1zM71 63h1v1h-1zM76 63h2v1h-2zM81 68h5v1h-5zM36 69h1v1h-1zM34 70h1v1h-1zM38 71h1v1h-1zM55 71h1v1h-1zM33 72h1v1h-1zM34 74h1v1h-1zM67 75h1v1h-1zM71 77h1v1h-1zM54 78h1v1h-1zM54 79h1v1h-1zM53 81h1v1h-1zM53 82h1v1h-1zM53 83h1v1h-1zM53 84h1v1h-1zM53 85h1v1h-1z"/>
<path fill="#8fff70" d="M57 0h1v1h-1zM57 1h1v1h-1zM57 2h1v1h-1zM57 3h1v1h-1zM57 4h1v1h-1zM57 5h1v1h-1zM56 6h1v1h-1zM55 8h1v1h-1zM54 16h1v1h-1zM54 17h1v1h-1zM33 18h1v1h-1zM54 18h1v1h-1zM32 19h1v1h-1zM34 19h1v1h-1zM54 19h1v1h-1zM35 20h1v1h-1zM54 20h1v1h-1zM35 21h1v1h-1zM32 22h1v1h-1zM34 22h1v1h-1zM33 23h1v1h-1zM54 35h1v1h-1zM54 44h1v1h-1zM53 48h1v1h-1zM67 48h1v1h-1zM66 50h1v1h-1zM72 50h1v1h-1zM77 55h1v1h-1zM81 56h5v1h-5zM40 58h2v1h-2zM67 58h1v1h-1zM39 60h1v1h-1zM42 60h1v1h-1zM53 60h1v1h-1zM39 61h1v1h-1zM42 61h1v1h-1zM53 61h1v1h-1zM42 62h1v1h-1zM69 62h1v1h-1zM40 63h2v1h-2zM67 63h1v1h-1zM75 63h1v1h-1zM78 63h1v1h-1zM56 64h1v1h-1zM71 64h1v1h-1zM67 66h1v1h-1zM70 66h1v1h-1zM57 67h1v1h-1zM57 68h1v1h-1zM80 68h1v1h-1zM57 69h1v1h-1zM35 70h3v1h-3zM56 70h1v1h-1zM34 71h1v1h-1zM34 72h1v1h-1zM38 72h1v1h-1zM55 72h1v1h-1zM34 73h1v1h-1zM38 73h1v1h-1zM35 74h3v1h-3zM71 78h1v1h-1zM71 79h1v1h-1zM54 80h1v1h-1z"/>
<path fill="#9fff60" d="M56 7h1v1h-1zM55 9h1v1h-1zM55 10h1v1h-1zM55 11h1v1h-1zM55 12h1v1h-1zM55 13h1v1h-1zM58 24h1v1h-1zM58 25h1v1h-1zM54 29h1v1h-1zM54 30h1v1h-1zM54 34h1v1h-1zM55 36h1v1h-1zM55 37h1v1h-1zM55 38h1v1h-1zM55 39h1v1h-1zM55 40h1v1h-1zM55 41h1v1h-1zM55 42h1v1h-1zM66 44h1v1h-1zM71 44h1v1h-1zM54 45h1v1h-1zM66 45h1v1h-1zM66 46h1v1h-1zM70 49h1v1h-1zM54 51h1v1h-1zM54 52h1v1h-1zM54 53h1v1h-1zM54 54h1v1h-1zM66 55h1v1h-1zM78 55h1v1h-1zM40 59h2v1h-2zM62 59h1v1h-1zM68 59h1v1h-1zM40 62h1v1h-1zM60 62h2v1h-2zM81 62h5v1h-5zM74 63h1v1h-1zM79 63h1v1h-1zM57 66h1v1h-1zM81 67h5v1h-5zM81 69h5v1h-5zM35 71h1v1h-1zM37 71h1v1h-1zM56 71h1v1h-1zM55 73h1v1h-1zM55 74h1v1h-1zM68 74h2v1h-2zM55 75h1v1h-1zM55 76h1v1h-1zM66 76h1v1h-1zM71 76h1v1h-1zM55 77h1v1h-1zM55 78h1v1h-1zM63 78h1v1h-1zM62 79h1v1h-1zM71 80h1v1h-1zM54 81h1v1h-1zM71 81h1v1h-1zM54 82h1v1h-1zM71 82h1v1h-1zM54 83h1v1h-1zM71 83h1v1h-1zM54 84h1v1h-1zM71 84h1v1h-1zM54 85h1v1h-1zM71 85h1v1h-1z"/>
<path fill="#afff50" d="M57 6h1v1h-1zM55 14h1v1h-1zM33 19h1v1h-1zM32 20h1v1h-1zM34 20h1v1h-1zM32 21h1v1h-1zM34 21h1v1h-1zM33 22h1v1h-1zM56 22h1v1h-1zM56 27h1v1h-1zM54 31h1v1h-1zM55 43h1v1h-1zM55 44h1v1h-1zM71 45h1v1h-1zM54 46h1v1h-1zM54 47h1v1h-1zM66 47h1v1h-1zM66 48h1v1h-1zM70 48h1v1h-1zM66 49h1v1h-1zM54 50h1v1h-1zM75 53h1v1h-1zM54 55h1v1h-1zM79 55h1v1h-1zM70 61h1v1h-1zM41 62h1v1h-1zM54 62h1v1h-1zM68 62h1v1h-1zM55 63h1v1h-1zM72 63h2v1h-2zM80 63h1v1h-1zM66 64h1v1h-1zM57 65h1v1h-1zM66 65h1v1h-1zM71 65h1v1h-1zM68 67h2v1h-2zM80 67h1v1h-1zM80 69h1v1h-1zM57 70h1v1h-1zM36 71h1v1h-1zM35 72h1v1h-1zM35 73h1v1h-1zM37 73h1v1h-1zM55 79h1v1h-1zM55 80h1v1h-1z"/>
<path fill="#bfff40" d="M58 0h1v1h-1zM58 1h1v1h-1zM58 2h1v1h-1zM58 3h1v1h-1zM58 4h1v1h-1zM56 8h1v1h-1zM55 21h1v1h-1zM55 28h1v1h-1zM54 32h1v1h-1zM54 33h1v1h-1zM55 35h1v1h-1zM66 43h1v1h-1zM71 43h1v1h-1zM55 45h1v1h-1zM71 46h1v1h-1zM54 48h1v1h-1zM54 49h1v1h-1zM73 50h1v1h-1zM65 51h1v1h-1zM74 51h1v1h-1zM65 52h1v1h-1zM80 55h6v1h-6zM54 56h1v1h-1zM66 56h1v1h-1zM60 58h2v1h-2zM59 59h1v1h-1zM40 60h2v1h-2zM63 60h1v1h-1zM40 61h2v1h-2zM63 61h1v1h-1zM81 63h5v1h-5zM81 66h5v1h-5zM57 71h1v1h-1zM37 72h1v1h-1zM56 72h1v1h-1zM36 73h1v1h-1zM65 77h1v1h-1zM55 81h1v1h-1zM55 82h1v1h-1zM55 83h1v1h-1zM55 84h1v1h-1zM55 85h1v1h-1z"/>
<path fill="#cfff30" d="M58 5h1v1h-1zM57 7h1v1h-1zM56 9h1v1h-1zM56 10h1v1h-1zM56 11h1v1h-1zM56 12h1v1h-1zM55 15h1v1h-1zM33 20h1v1h-1zM33 21h1v1h-1zM56 37h1v1h-1zM56 38h1v1h-1zM56 39h1v1h-1zM67 39h1v1h-1zM70 39h1v1h-1zM56 40h1v1h-1zM56 41h1v1h-1zM56 42h1v1h-1zM66 42h1v1h-1zM71 42h1v1h-1zM56 43h1v1h-1zM56 44h1v1h-1zM55 46h1v1h-1zM65 49h1v1h-1zM71 49h1v1h-1zM65 50h1v1h-1zM65 53h1v1h-1zM76 54h1v1h-1zM54 57h1v1h-1zM54 58h1v1h-1zM59 62h1v1h-1zM62 62h1v1h-1zM57 64h1v1h-1zM81 64h5v1h-5zM81 65h5v1h-5zM80 66h1v1h-1zM58 68h1v1h-1zM79 68h1v1h-1zM58 69h1v1h-1zM58 70h1v1h-1zM36 72h1v1h-1zM56 73h1v1h-1zM56 74h1v1h-1zM70 74h1v1h-1zM56 75h1v1h-1zM71 75h1v1h-1zM56 76h1v1h-1zM56 77h1v1h-1zM56 78h1v1h-1zM62 78h1v1h-1zM56 79h1v1h-1zM56 80h1v1h-1zM56 81h1v1h-1zM56 82h1v1h-1zM56 83h1v1h-1zM56 84h1v1h-1zM56 85h1v1h-1z"/>
<path fill="#dfff20" d="M58 6h1v1h-1zM56 13h1v1h-1zM55 16h1v1h-1zM55 17h1v1h-1zM55 18h1v1h-1zM55 19h1v1h-1zM55 20h1v1h-1zM57 22h1v1h-1zM58 23h1v1h-1zM58 26h1v1h-1zM57 27h1v1h-1zM55 34h1v1h-1zM56 36h1v1h-1zM66 41h1v1h-1zM71 41h1v1h-1zM56 45h1v1h-1zM71 47h1v1h-1zM65 48h1v1h-1zM66 57h1v1h-1zM54 59h1v1h-1zM67 59h1v1h-1zM69 60h1v1h-1zM54 61h1v1h-1zM67 62h1v1h-1zM56 63h1v1h-1zM66 63h1v1h-1zM80 64h1v1h-1zM66 66h1v1h-1zM71 66h1v1h-1zM67 67h1v1h-1zM70 67h1v1h-1zM79 67h1v1h-1zM79 69h1v1h-1zM58 71h1v1h-1zM57 72h2v1h-2zM57 73h4v1h-4zM57 74h4v1h-4zM57 75h4v1h-4zM57 76h4v1h-4z"/>
<path fill="#efff10" d="M58 7h1v1h-1zM57 8h1v1h-1zM57 9h1v1h-1zM56 14h1v1h-1zM55 29h1v1h-1zM55 30h1v1h-1zM81 32h5v1h-5zM55 33h1v1h-1zM81 33h5v1h-5zM57 37h1v1h-1zM55 47h1v1h-1zM65 47h1v1h-1zM55 51h1v1h-1zM55 52h1v1h-1zM55 53h1v1h-1zM54 60h1v1h-1zM58 61h1v1h-1zM55 62h1v1h-1zM79 64h1v1h-1zM80 65h1v1h-1zM79 66h1v1h-1zM58 67h1v1h-1zM81 70h5v1h-5zM59 71h1v1h-1zM59 72h2v1h-2zM67 74h1v1h-1zM66 75h1v1h-1zM61 76h1v1h-1zM57 77h4v1h-4zM57 78h2v1h-2zM57 79h1v1h-1zM57 80h1v1h-1zM57 81h1v1h-1zM57 82h1v1h-1zM57 83h1v1h-1zM57 84h1v1h-1zM57 85h1v1h-1z"/>
<path fill="#ffff00" d="M59 0h1v1h-1zM59 1h1v1h-1zM59 2h1v1h-1zM59 3h1v1h-1zM59 4h1v1h-1zM57 10h1v1h-1zM57 11h1v1h-1zM57 12h1v1h-1zM65 16h1v1h-1zM65 17h1v1h-1zM55 31h1v1h-1zM55 32h1v1h-1zM80 32h1v1h-1zM80 33h1v1h-1zM56 35h1v1h-1zM57 36h1v1h-1zM57 38h1v1h-1zM68 38h2v1h-2zM57 39h1v1h-1zM57 40h1v1h-1zM66 40h1v1h-1zM71 40h1v1h-1zM57 41h1v1h-1zM57 42h1v1h-1zM57 43h1v1h-1zM57 44h1v1h-1zM56 46h1v1h-1zM65 46h1v1h-1zM55 48h1v1h-1zM71 48h1v1h-1zM55 49h1v1h-1zM64 49h1v1h-1zM72 49h1v1h-1zM55 50h1v1h-1zM64 50h1v1h-1zM64 51h1v1h-1zM64 52h1v1h-1zM75 52h1v1h-1zM55 54h1v1h-1zM65 54h1v1h-1zM79 54h7v1h-7zM62 58h1v1h-1zM66 58h1v1h-1zM63 59h1v1h-1zM58 60h1v1h-1zM69 61h1v1h-1zM58 62h1v1h-1zM57 63h1v1h-1zM72 64h1v1h-1zM78 64h1v1h-1zM59 69h1v1h-1zM59 70h1v1h-1zM80 70h1v1h-1zM61 73h1v1h-1zM61 74h1v1h-1zM61 75h1v1h-1zM61 77h4v1h-4zM59 78h1v1h-1zM61 78h1v1h-1zM58 79h1v1h-1zM61 79h1v1h-1zM61 80h1v1h-1z"/>
<path fill="#ffef00" d="M59 5h1v1h-1zM59 6h1v1h-1zM58 8h1v1h-1zM57 13h1v1h-1zM56 15h1v1h-1zM64 16h1v1h-1zM64 17h1v1h-1zM56 21h1v1h-1zM56 28h1v1h-1zM81 31h5v1h-5zM56 34h1v1h-1zM81 34h5v1h-5zM57 45h1v1h-1zM65 45h1v1h-1zM64 48h1v1h-1zM74 50h1v1h-1zM77 54h2v1h-2zM55 55h1v1h-1zM59 58h1v1h-1zM63 62h1v1h-1zM66 62h1v1h-1zM58 63h1v1h-1zM77 64h1v1h-1zM79 65h1v1h-1zM58 66h1v1h-1zM66 67h1v1h-1zM71 67h1v1h-1zM78 67h1v1h-1zM78 68h1v1h-1zM78 69h1v1h-1zM60 71h1v1h-1zM61 72h1v1h-1zM71 74h1v1h-1zM60 78h1v1h-1zM59 79h1v1h-1zM58 80h1v1h-1zM58 81h1v1h-1zM61 81h1v1h-1zM58 82h1v1h-1zM61 82h1v1h-1zM58 83h1v1h-1zM61 83h1v1h-1zM58 84h1v1h-1zM61 84h1v1h-1zM58 85h1v1h-1zM61 85h1v1h-1z"/>
<path fill="#ffdf00" d="M59 7h1v1h-1zM58 9h1v1h-1zM58 10h1v1h-1zM65 15h1v1h-1zM66 16h1v1h-1zM66 17h1v1h-1zM65 18h1v1h-1zM59 24h1v1h-1zM59 25h1v1h-1zM80 31h1v1h-1zM79 32h1v1h-1zM79 33h1v1h-1zM80 34h1v1h-1zM57 35h1v1h-1zM58 36h1v1h-1zM58 37h1v1h-1zM58 38h1v1h-1zM72 45h1v1h-1zM56 47h1v1h-1zM64 53h1v1h-1zM68 60h1v1h-1zM58 64h1v1h-1zM74 64h3v1h-3zM58 65h1v1h-1zM78 66h1v1h-1zM59 68h1v1h-1zM60 70h1v1h-1zM79 70h1v1h-1zM61 71h1v1h-1zM69 73h1v1h-1zM62 75h1v1h-1zM62 76h1v1h-1zM72 76h1v1h-1zM72 77h1v1h-1z"/>
<path fill="#ffcf00" d="M59 8h1v1h-1zM58 11h1v1h-1zM57 14h1v1h-1zM64 15h1v1h-1zM66 15h1v1h-1zM56 16h1v1h-1zM64 18h1v1h-1zM58 22h1v1h-1zM58 27h1v1h-1zM81 30h5v1h-5zM79 31h1v1h-1zM56 33h1v1h-1zM58 35h1v1h-1zM81 35h5v1h-5zM67 38h1v1h-1zM70 38h1v1h-1zM58 39h1v1h-1zM66 39h1v1h-1zM71 39h1v1h-1zM65 44h1v1h-1zM72 44h1v1h-1zM57 46h1v1h-1zM72 46h1v1h-1zM64 47h1v1h-1zM72 47h1v1h-1zM56 48h1v1h-1zM73 49h1v1h-1zM75 51h1v1h-1zM65 55h1v1h-1zM55 56h1v1h-1zM55 57h1v1h-1zM60 57h2v1h-2zM58 59h1v1h-1zM66 59h1v1h-1zM64 60h1v1h-1zM67 60h1v1h-1zM55 61h1v1h-1zM64 61h1v1h-1zM68 61h1v1h-1zM56 62h1v1h-1zM59 63h1v1h-1zM65 64h1v1h-1zM73 64h1v1h-1zM65 65h1v1h-1zM72 65h1v1h-1zM78 65h1v1h-1zM68 68h2v1h-2zM60 69h1v1h-1zM68 73h1v1h-1zM70 73h1v1h-1zM62 74h1v1h-1zM72 75h1v1h-1zM65 76h1v1h-1zM60 79h1v1h-1zM59 80h1v1h-1zM59 81h1v1h-1zM59 82h1v1h-1zM59 83h1v1h-1zM59 84h1v1h-1zM59 85h1v1h-1z"/>
<path fill="#ffbf00" d="M60 0h1v1h-1zM60 1h1v1h-1zM60 2h1v1h-1zM60 3h1v1h-1zM60 4h1v1h-1zM60 5h1v1h-1zM59 9h1v1h-1zM58 12h1v1h-1zM65 14h2v1h-2zM67 15h1v1h-1zM67 16h1v1h-1zM56 17h1v1h-1zM67 17h1v1h-1zM56 18h1v1h-1zM66 18h1v1h-1zM56 19h1v1h-1zM65 19h1v1h-1zM56 20h1v1h-1zM57 21h1v1h-1zM57 28h1v1h-1zM56 29h1v1h-1zM56 30h1v1h-1zM79 30h2v1h-2zM56 31h1v1h-1zM78 31h1v1h-1zM56 32h1v1h-1zM78 32h1v1h-1zM78 33h1v1h-1zM57 34h2v1h-2zM79 34h1v1h-1zM59 35h1v1h-1zM80 35h1v1h-1zM59 36h1v1h-1zM59 37h1v1h-1zM58 40h1v1h-1zM58 41h1v1h-1zM58 42h1v1h-1zM58 43h1v1h-1zM58 44h1v1h-1zM72 48h1v1h-1zM56 49h1v1h-1zM63 49h1v1h-1zM56 50h1v1h-1zM63 50h1v1h-1zM56 51h1v1h-1zM63 51h1v1h-1zM56 52h1v1h-1zM63 52h1v1h-1zM56 53h1v1h-1zM81 53h5v1h-5zM55 58h1v1h-1zM63 58h1v1h-1zM55 59h1v1h-1zM67 61h1v1h-1zM57 62h1v1h-1zM64 62h1v1h-1zM60 63h1v1h-1zM65 63h1v1h-1zM65 66h1v1h-1zM72 66h1v1h-1zM59 67h1v1h-1zM67 68h1v1h-1zM70 68h1v1h-1zM77 68h1v1h-1zM61 70h1v1h-1zM78 70h1v1h-1zM62 72h1v1h-1zM62 73h1v1h-1zM71 73h1v1h-1zM66 74h1v1h-1zM72 74h1v1h-1zM63 76h1v1h-1zM72 78h1v1h-1zM60 80h1v1h-1z"/>
<path fill="#ffaf00" d="M60 6h1v1h-1zM60 7h1v1h-1zM60 8h1v1h-1zM59 10h1v1h-1zM58 13h1v1h-1zM65 13h2v1h-2zM64 14h1v1h-1zM67 14h1v1h-1zM57 15h1v1h-1zM68 15h1v1h-1zM63 16h1v1h-1zM68 16h1v1h-1zM63 17h1v1h-1zM64 19h1v1h-1zM59 23h1v1h-1zM59 26h1v1h-1zM79 29h7v1h-7zM78 30h1v1h-1zM77 31h1v1h-1zM77 32h1v1h-1zM57 33h2v1h-2zM59 34h1v1h-1zM60 35h1v1h-1zM60 36h1v1h-1zM81 36h5v1h-5zM59 38h1v1h-1zM66 38h1v1h-1zM71 38h1v1h-1zM65 43h1v1h-1zM72 43h1v1h-1zM58 45h1v1h-1zM64 46h1v1h-1zM57 47h1v1h-1zM63 48h1v1h-1zM63 53h1v1h-1zM76 53h1v1h-1zM80 53h1v1h-1zM64 54h1v1h-1zM55 60h1v1h-1zM66 60h1v1h-1zM66 61h1v1h-1zM65 62h1v1h-1zM61 63h2v1h-2zM77 65h1v1h-1zM77 66h1v1h-1zM65 67h1v1h-1zM72 67h1v1h-1zM77 67h1v1h-1zM66 68h1v1h-1zM71 68h1v1h-1zM61 69h1v1h-1zM77 69h1v1h-1zM62 70h1v1h-1zM77 70h1v1h-1zM62 71h1v1h-1zM79 71h7v1h-7zM72 73h1v1h-1zM63 75h1v1h-1zM72 79h1v1h-1zM60 81h1v1h-1zM60 82h1v1h-1zM60 83h1v1h-1zM60 84h1v1h-1zM60 85h1v1h-1z"/>
<path fill="#ff9f00" d="M61 0h25v1h-25zM61 1h25v1h-25zM61 2h25v1h-25zM61 3h25v1h-25zM61 4h25v1h-25zM61 5h2v1h-2zM67 5h4v1h-4zM75 5h11v1h-11zM61 6h1v1h-1zM68 6h2v1h-2zM76 6h10v1h-10zM77 7h9v1h-9zM77 8h9v1h-9zM60 9h1v1h-1zM79 9h7v1h-7zM80 10h6v1h-6zM59 11h1v1h-1zM68 11h1v1h-1zM81 11h5v1h-5zM67 12h2v1h-2zM81 12h5v1h-5zM64 13h1v1h-1zM67 13h2v1h-2zM58 14h1v1h-1zM68 14h1v1h-1zM63 15h1v1h-1zM57 16h1v1h-1zM68 17h1v1h-1zM63 18h1v1h-1zM67 18h1v1h-1zM66 19h1v1h-1zM64 20h2v1h-2zM73 21h4v1h-4zM73 22h4v1h-4zM73 23h4v1h-4zM73 24h4v1h-4zM73 25h4v1h-4zM73 26h4v1h-4zM73 27h5v1h-5zM73 28h6v1h-6zM73 29h6v1h-6zM73 30h5v1h-5zM57 31h1v1h-1zM64 31h1v1h-1zM73 31h4v1h-4zM57 32h2v1h-2zM63 32h2v1h-2zM73 32h4v1h-4zM59 33h6v1h-6zM73 33h2v1h-2zM77 33h1v1h-1zM60 34h5v1h-5zM73 34h1v1h-1zM78 34h1v1h-1zM61 35h4v1h-4zM79 35h1v1h-1zM61 36h4v1h-4zM80 36h1v1h-1zM60 37h1v1h-1zM81 37h5v1h-5zM81 38h5v1h-5zM59 39h1v1h-1zM80 39h6v1h-6zM79 40h7v1h-7zM79 41h7v1h-7zM65 42h1v1h-1zM72 42h1v1h-1zM80 42h6v1h-6zM81 43h5v1h-5zM81 44h5v1h-5zM64 45h1v1h-1zM81 45h5v1h-5zM58 46h1v1h-1zM81 46h5v1h-5zM63 47h1v1h-1zM81 47h5v1h-5zM57 48h1v1h-1zM81 48h5v1h-5zM74 49h1v1h-1zM81 49h5v1h-5zM75 50h1v1h-1zM81 50h5v1h-5zM81 51h5v1h-5zM81 52h5v1h-5zM79 53h1v1h-1zM56 54h1v1h-1zM65 56h1v1h-1zM59 57h1v1h-1zM62 57h1v1h-1zM58 58h1v1h-1zM64 59h1v1h-1zM65 60h1v1h-1zM65 61h1v1h-1zM63 63h2v1h-2zM73 65h4v1h-4zM73 66h4v1h-4zM73 67h4v1h-4zM60 68h1v1h-1zM64 68h2v1h-2zM72 68h5v1h-5zM62 69h2v1h-2zM67 69h10v1h-10zM68 70h9v1h-9zM69 71h10v1h-10zM69 72h8v1h-8zM67 73h1v1h-1zM73 73h4v1h-4zM63 74h1v1h-1zM73 74h4v1h-4zM65 75h1v1h-1zM73 75h5v1h-5zM64 76h1v1h-1zM73 76h6v1h-6zM75 77h11v1h-11zM76 78h10v1h-10zM77 79h9v1h-9zM77 80h9v1h-9zM77 81h9v1h-9zM77 82h9v1h-9zM77 83h9v1h-9zM77 84h9v1h-9zM77 85h9v1h-9z"/>
<path fill="#ff8f00" d="M63 5h4v1h-4zM71 5h4v1h-4zM62 6h1v1h-1zM67 6h1v1h-1zM70 6h1v1h-1zM75 6h1v1h-1zM61 7h1v1h-1zM68 7h2v1h-2zM76 7h1v1h-1zM61 8h1v1h-1zM68 8h2v1h-2zM76 8h1v1h-1zM68 9h2v1h-2zM77 9h2v1h-2zM68 10h2v1h-2zM79 10h1v1h-1zM67 11h1v1h-1zM69 11h1v1h-1zM80 11h1v1h-1zM59 12h1v1h-1zM65 12h2v1h-2zM69 12h1v1h-1zM80 12h1v1h-1zM69 13h1v1h-1zM81 13h5v1h-5zM63 14h1v1h-1zM69 14h1v1h-1zM58 15h1v1h-1zM69 15h1v1h-1zM69 16h1v1h-1zM57 17h1v1h-1zM57 18h1v1h-1zM57 19h1v1h-1zM63 19h1v1h-1zM57 20h1v1h-1zM73 20h4v1h-4zM58 21h1v1h-1zM64 21h2v1h-2zM72 21h1v1h-1zM77 21h1v1h-1zM59 22h1v1h-1zM64 22h2v1h-2zM72 22h1v1h-1zM77 22h1v1h-1zM64 23h2v1h-2zM72 23h1v1h-1zM77 23h1v1h-1zM64 24h2v1h-2zM72 24h1v1h-1zM77 24h1v1h-1zM64 25h2v1h-2zM72 25h1v1h-1zM77 25h1v1h-1zM64 26h2v1h-2zM72 26h1v1h-1zM77 26h1v1h-1zM59 27h1v1h-1zM64 27h2v1h-2zM72 27h1v1h-1zM78 27h1v1h-1zM58 28h1v1h-1zM64 28h2v1h-2zM72 28h1v1h-1zM79 28h7v1h-7zM57 29h1v1h-1zM64 29h2v1h-2zM72 29h1v1h-1zM57 30h1v1h-1zM64 30h2v1h-2zM72 30h1v1h-1zM58 31h1v1h-1zM63 31h1v1h-1zM65 31h1v1h-1zM72 31h1v1h-1zM59 32h4v1h-4zM65 32h1v1h-1zM72 32h1v1h-1zM65 33h1v1h-1zM72 33h1v1h-1zM75 33h2v1h-2zM65 34h1v1h-1zM72 34h1v1h-1zM74 34h1v1h-1zM65 35h1v1h-1zM72 35h2v1h-2zM65 36h1v1h-1zM72 36h2v1h-2zM61 37h5v1h-5zM72 37h1v1h-1zM80 37h1v1h-1zM80 38h1v1h-1zM79 39h1v1h-1zM59 40h1v1h-1zM77 40h2v1h-2zM77 41h2v1h-2zM79 42h1v1h-1zM80 43h1v1h-1zM80 44h1v1h-1zM73 45h1v1h-1zM80 45h1v1h-1zM63 46h1v1h-1zM73 46h1v1h-1zM80 46h1v1h-1zM58 47h1v1h-1zM73 47h1v1h-1zM80 47h1v1h-1zM73 48h1v1h-1zM80 48h1v1h-1zM57 49h1v1h-1zM80 49h1v1h-1zM57 50h1v1h-1zM80 50h1v1h-1zM57 51h1v1h-1zM80 51h1v1h-1zM57 52h1v1h-1zM80 52h1v1h-1zM78 53h1v1h-1zM63 54h1v1h-1zM65 58h1v1h-1zM65 59h1v1h-1zM57 61h1v1h-1zM64 64h1v1h-1zM59 66h1v1h-1zM64 66h1v1h-1zM64 67h1v1h-1zM62 68h2v1h-2zM64 69h3v1h-3zM63 70h1v1h-1zM67 70h1v1h-1zM63 71h1v1h-1zM68 71h1v1h-1zM68 72h1v1h-1zM77 72h1v1h-1zM63 73h1v1h-1zM77 73h1v1h-1zM77 74h1v1h-1zM78 75h1v1h-1zM79 76h7v1h-7zM73 77h2v1h-2zM75 78h1v1h-1zM76 79h1v1h-1zM72 80h1v1h-1zM76 80h1v1h-1zM72 81h1v1h-1zM76 81h1v1h-1zM72 82h1v1h-1zM76 82h1v1h-1zM72 83h1v1h-1zM76 83h1v1h-1zM72 84h1v1h-1zM76 84h1v1h-1zM72 85h1v1h-1zM76 85h1v1h-1z"/>
<path fill="#ff8000" d="M63 6h1v1h-1zM66 6h1v1h-1zM71 6h1v1h-1zM74 6h1v1h-1zM62 7h1v1h-1zM67 7h1v1h-1zM70 7h1v1h-1zM75 7h1v1h-1zM61 9h1v1h-1zM76 9h1v1h-1zM60 10h1v1h-1zM67 10h1v1h-1zM78 10h1v1h-1zM66 11h1v1h-1zM79 11h1v1h-1zM64 12h1v1h-1zM59 13h1v1h-1zM63 13h1v1h-1zM80 13h1v1h-1zM58 16h1v1h-1zM62 16h1v1h-1zM62 17h1v1h-1zM69 17h1v1h-1zM68 18h1v1h-1zM67 19h1v1h-1zM63 20h1v1h-1zM66 20h1v1h-1zM72 20h1v1h-1zM77 20h1v1h-1zM78 26h1v1h-1zM79 27h1v1h-1zM58 30h1v1h-1zM63 30h1v1h-1zM59 31h1v1h-1zM62 31h1v1h-1zM75 34h1v1h-1zM77 34h1v1h-1zM74 35h1v1h-1zM78 35h1v1h-1zM79 36h1v1h-1zM66 37h2v1h-2zM70 37h2v1h-2zM73 37h1v1h-1zM60 38h1v1h-1zM65 38h1v1h-1zM72 38h1v1h-1zM79 38h1v1h-1zM65 39h1v1h-1zM72 39h1v1h-1zM78 39h1v1h-1zM76 40h1v1h-1zM59 41h1v1h-1zM65 41h1v1h-1zM72 41h1v1h-1zM76 41h1v1h-1zM59 42h1v1h-1zM78 42h1v1h-1zM59 43h1v1h-1zM79 43h1v1h-1zM59 44h1v1h-1zM64 44h1v1h-1zM73 44h1v1h-1zM59 45h1v1h-1zM63 45h1v1h-1zM58 48h1v1h-1zM62 48h1v1h-1zM62 49h1v1h-1zM62 50h1v1h-1zM62 51h1v1h-1zM62 52h1v1h-1zM57 53h1v1h-1zM62 53h1v1h-1zM62 54h1v1h-1zM56 55h1v1h-1zM63 55h2v1h-2zM60 56h2v1h-2zM65 57h1v1h-1zM56 61h1v1h-1zM59 64h1v1h-1zM64 65h1v1h-1zM61 68h1v1h-1zM64 70h1v1h-1zM66 70h1v1h-1zM67 71h1v1h-1zM63 72h1v1h-1zM78 72h1v1h-1zM78 74h1v1h-1zM64 75h1v1h-1zM79 75h1v1h-1zM74 78h1v1h-1zM75 79h1v1h-1z"/>
<path fill="#ff7000" d="M64 6h2v1h-2zM72 6h2v1h-2zM63 7h1v1h-1zM66 7h1v1h-1zM71 7h1v1h-1zM74 7h1v1h-1zM62 8h1v1h-1zM67 8h1v1h-1zM70 8h1v1h-1zM75 8h1v1h-1zM62 9h1v1h-1zM67 9h1v1h-1zM70 9h1v1h-1zM61 10h1v1h-1zM66 10h1v1h-1zM70 10h1v1h-1zM77 10h1v1h-1zM60 11h1v1h-1zM64 11h2v1h-2zM70 11h1v1h-1zM78 11h1v1h-1zM63 12h1v1h-1zM70 12h1v1h-1zM79 12h1v1h-1zM70 13h1v1h-1zM59 14h1v1h-1zM70 14h1v1h-1zM81 14h5v1h-5zM62 15h1v1h-1zM70 15h1v1h-1zM70 16h1v1h-1zM58 17h1v1h-1zM70 17h1v1h-1zM58 18h1v1h-1zM62 18h1v1h-1zM69 18h1v1h-1zM58 19h1v1h-1zM72 19h5v1h-5zM58 20h1v1h-1zM71 20h1v1h-1zM63 21h1v1h-1zM66 21h1v1h-1zM71 21h1v1h-1zM78 21h1v1h-1zM63 22h1v1h-1zM66 22h1v1h-1zM71 22h1v1h-1zM78 22h1v1h-1zM63 23h1v1h-1zM66 23h1v1h-1zM71 23h1v1h-1zM78 23h1v1h-1zM63 24h1v1h-1zM66 24h1v1h-1zM71 24h1v1h-1zM78 24h1v1h-1zM63 25h1v1h-1zM66 25h1v1h-1zM71 25h1v1h-1zM78 25h1v1h-1zM63 26h1v1h-1zM66 26h1v1h-1zM71 26h1v1h-1zM79 26h1v1h-1zM63 27h1v1h-1zM66 27h1v1h-1zM71 27h1v1h-1zM80 27h6v1h-6zM63 28h1v1h-1zM66 28h1v1h-1zM71 28h1v1h-1zM58 29h1v1h-1zM63 29h1v1h-1zM66 29h1v1h-1zM71 29h1v1h-1zM59 30h1v1h-1zM62 30h1v1h-1zM66 30h1v1h-1zM71 30h1v1h-1zM60 31h2v1h-2zM66 31h1v1h-1zM71 31h1v1h-1zM66 32h1v1h-1zM71 32h1v1h-1zM66 33h1v1h-1zM71 33h1v1h-1zM66 34h1v1h-1zM71 34h1v1h-1zM76 34h1v1h-1zM66 35h1v1h-1zM71 35h1v1h-1zM75 35h1v1h-1zM66 36h1v1h-1zM71 36h1v1h-1zM74 36h1v1h-1zM68 37h2v1h-2zM74 37h1v1h-1zM79 37h1v1h-1zM61 38h4v1h-4zM73 38h1v1h-1zM78 38h1v1h-1zM60 39h1v1h-1zM76 39h2v1h-2zM65 40h1v1h-1zM72 40h1v1h-1zM75 40h1v1h-1zM75 41h1v1h-1zM76 42h2v1h-2zM73 43h1v1h-1zM78 43h1v1h-1zM74 44h1v1h-1zM79 44h1v1h-1zM74 45h1v1h-1zM79 45h1v1h-1zM59 46h1v1h-1zM74 46h1v1h-1zM79 46h1v1h-1zM62 47h1v1h-1zM74 47h1v1h-1zM79 47h1v1h-1zM74 48h1v1h-1zM79 48h1v1h-1zM58 49h1v1h-1zM75 49h1v1h-1zM79 49h1v1h-1zM58 50h1v1h-1zM79 50h1v1h-1zM58 51h1v1h-1zM79 51h1v1h-1zM58 52h1v1h-1zM76 52h1v1h-1zM79 52h1v1h-1zM58 53h1v1h-1zM77 53h1v1h-1zM57 54h1v1h-1zM60 55h3v1h-3zM56 56h1v1h-1zM59 56h1v1h-1zM62 56h1v1h-1zM58 57h1v1h-1zM63 57h1v1h-1zM64 58h1v1h-1zM57 60h1v1h-1zM63 67h1v1h-1zM65 70h1v1h-1zM66 71h1v1h-1zM67 72h1v1h-1zM79 72h1v1h-1zM66 73h1v1h-1zM78 73h1v1h-1zM64 74h2v1h-2zM79 74h1v1h-1zM80 75h6v1h-6zM73 78h1v1h-1zM74 79h1v1h-1zM75 80h1v1h-1zM75 81h1v1h-1zM75 82h1v1h-1zM75 83h1v1h-1zM75 84h1v1h-1zM75 85h1v1h-1z"/>
<path fill="#ff6000" d="M64 7h2v1h-2zM72 7h2v1h-2zM63 8h1v1h-1zM66 8h1v1h-1zM71 8h1v1h-1zM74 8h1v1h-1zM66 9h1v1h-1zM75 9h1v1h-1zM62 10h2v1h-2zM65 10h1v1h-1zM76 10h1v1h-1zM62 11h2v1h-2zM77 11h1v1h-1zM78 12h1v1h-1zM79 13h1v1h-1zM62 14h1v1h-1zM80 14h1v1h-1zM59 15h1v1h-1zM70 18h2v1h-2zM62 19h1v1h-1zM68 19h1v1h-1zM70 19h2v1h-2zM77 19h1v1h-1zM67 20h1v1h-1zM78 20h1v1h-1zM59 21h1v1h-1zM60 24h1v1h-1zM60 25h1v1h-1zM79 25h1v1h-1zM80 26h1v1h-1zM59 28h1v1h-1zM59 29h1v1h-1zM62 29h1v1h-1zM60 30h2v1h-2zM76 35h2v1h-2zM75 36h1v1h-1zM78 36h1v1h-1zM78 37h1v1h-1zM74 38h2v1h-2zM77 38h1v1h-1zM74 39h2v1h-2zM74 42h2v1h-2zM64 43h1v1h-1zM74 43h2v1h-2zM77 43h1v1h-1zM63 44h1v1h-1zM78 44h1v1h-1zM62 46h1v1h-1zM59 47h1v1h-1zM76 51h1v1h-1zM58 54h2v1h-2zM61 54h1v1h-1zM58 55h2v1h-2zM63 56h1v1h-1zM56 57h1v1h-1zM56 58h1v1h-1zM57 59h1v1h-1zM63 64h1v1h-1zM59 65h1v1h-1zM63 66h1v1h-1zM60 67h1v1h-1zM62 67h1v1h-1zM64 71h2v1h-2zM66 72h1v1h-1zM80 72h1v1h-1zM79 73h1v1h-1zM80 74h1v1h-1zM73 79h1v1h-1zM74 80h1v1h-1z"/>
<path fill="#ff5000" d="M63 9h1v1h-1zM71 9h1v1h-1zM74 9h1v1h-1zM64 10h1v1h-1zM71 10h1v1h-1zM75 10h1v1h-1zM61 11h1v1h-1zM71 11h1v1h-1zM76 11h1v1h-1zM60 12h1v1h-1zM62 12h1v1h-1zM71 12h1v1h-1zM62 13h1v1h-1zM71 13h1v1h-1zM78 13h1v1h-1zM71 14h1v1h-1zM79 14h1v1h-1zM71 15h1v1h-1zM80 15h6v1h-6zM59 16h1v1h-1zM71 16h1v1h-1zM59 17h1v1h-1zM71 17h1v1h-1zM59 18h1v1h-1zM72 18h6v1h-6zM59 19h1v1h-1zM69 19h1v1h-1zM78 19h1v1h-1zM59 20h1v1h-1zM62 20h1v1h-1zM70 20h1v1h-1zM79 20h1v1h-1zM62 21h1v1h-1zM67 21h1v1h-1zM70 21h1v1h-1zM79 21h1v1h-1zM62 22h1v1h-1zM67 22h1v1h-1zM70 22h1v1h-1zM79 22h1v1h-1zM60 23h1v1h-1zM62 23h1v1h-1zM67 23h1v1h-1zM70 23h1v1h-1zM79 23h1v1h-1zM62 24h1v1h-1zM67 24h1v1h-1zM70 24h1v1h-1zM79 24h1v1h-1zM62 25h1v1h-1zM67 25h1v1h-1zM70 25h1v1h-1zM60 26h1v1h-1zM62 26h1v1h-1zM67 26h1v1h-1zM70 26h1v1h-1zM81 26h5v1h-5zM62 27h1v1h-1zM67 27h1v1h-1zM70 27h1v1h-1zM62 28h1v1h-1zM67 28h1v1h-1zM70 28h1v1h-1zM67 29h1v1h-1zM70 29h1v1h-1zM67 30h1v1h-1zM70 30h1v1h-1zM67 31h1v1h-1zM70 31h1v1h-1zM67 32h1v1h-1zM70 32h1v1h-1zM67 33h1v1h-1zM70 33h1v1h-1zM67 34h1v1h-1zM70 34h1v1h-1zM67 35h1v1h-1zM70 35h1v1h-1zM67 36h1v1h-1zM70 36h1v1h-1zM75 37h1v1h-1zM76 38h1v1h-1zM61 39h4v1h-4zM73 39h1v1h-1zM60 40h1v1h-1zM74 40h1v1h-1zM74 41h1v1h-1zM64 42h1v1h-1zM73 42h1v1h-1zM63 43h1v1h-1zM76 43h1v1h-1zM62 44h1v1h-1zM75 44h1v1h-1zM62 45h1v1h-1zM75 45h1v1h-1zM78 45h1v1h-1zM75 46h1v1h-1zM78 46h1v1h-1zM75 47h1v1h-1zM78 47h1v1h-1zM59 48h1v1h-1zM75 48h1v1h-1zM78 48h1v1h-1zM59 49h1v1h-1zM78 49h1v1h-1zM59 50h1v1h-1zM76 50h1v1h-1zM78 50h1v1h-1zM59 51h1v1h-1zM78 51h1v1h-1zM59 52h1v1h-1zM78 52h1v1h-1zM59 53h1v1h-1zM61 53h1v1h-1zM60 54h1v1h-1zM57 55h1v1h-1zM58 56h1v1h-1zM64 56h1v1h-1zM64 57h1v1h-1zM57 58h1v1h-1zM56 59h1v1h-1zM56 60h1v1h-1zM64 72h1v1h-1zM81 72h5v1h-5zM64 73h2v1h-2zM81 74h5v1h-5zM74 81h1v1h-1zM74 82h1v1h-1zM74 83h1v1h-1zM74 84h1v1h-1zM74 85h1v1h-1z"/>
<path fill="#ff4000" d="M64 8h2v1h-2zM72 8h2v1h-2zM64 9h2v1h-2zM74 10h1v1h-1zM75 11h1v1h-1zM61 12h1v1h-1zM77 12h1v1h-1zM60 13h1v1h-1zM60 14h2v1h-2zM78 14h1v1h-1zM60 15h2v1h-2zM79 15h1v1h-1zM61 16h1v1h-1zM61 17h1v1h-1zM72 17h1v1h-1zM61 18h1v1h-1zM78 18h1v1h-1zM61 19h1v1h-1zM79 19h1v1h-1zM68 20h2v1h-2zM60 21h1v1h-1zM60 22h1v1h-1zM80 25h1v1h-1zM60 27h1v1h-1zM60 28h1v1h-1zM60 29h2v1h-2zM76 36h2v1h-2zM76 37h2v1h-2zM73 40h1v1h-1zM60 41h1v1h-1zM73 41h1v1h-1zM60 42h1v1h-1zM63 42h1v1h-1zM60 43h1v1h-1zM62 43h1v1h-1zM60 44h1v1h-1zM76 44h2v1h-2zM60 45h1v1h-1zM60 46h2v1h-2zM60 47h2v1h-2zM61 48h1v1h-1zM61 49h1v1h-1zM76 49h1v1h-1zM61 50h1v1h-1zM61 51h1v1h-1zM61 52h1v1h-1zM60 53h1v1h-1zM57 56h1v1h-1zM57 57h1v1h-1zM63 65h1v1h-1zM61 67h1v1h-1zM65 72h1v1h-1zM80 73h1v1h-1zM73 80h1v1h-1z"/>
<path fill="#ff3000" d="M72 9h2v1h-2zM72 10h2v1h-2zM72 11h3v1h-3zM72 12h1v1h-1zM74 12h3v1h-3zM61 13h1v1h-1zM72 13h1v1h-1zM77 13h1v1h-1zM72 14h1v1h-1zM77 14h1v1h-1zM72 15h1v1h-1zM77 15h2v1h-2zM60 16h1v1h-1zM72 16h1v1h-1zM78 16h8v1h-8zM60 17h1v1h-1zM73 17h7v1h-7zM60 18h1v1h-1zM79 18h2v1h-2zM60 19h1v1h-1zM80 19h1v1h-1zM60 20h2v1h-2zM80 20h1v1h-1zM61 21h1v1h-1zM68 21h2v1h-2zM80 21h1v1h-1zM61 22h1v1h-1zM68 22h2v1h-2zM80 22h1v1h-1zM61 23h1v1h-1zM68 23h2v1h-2zM80 23h1v1h-1zM61 24h1v1h-1zM68 24h2v1h-2zM80 24h1v1h-1zM61 25h1v1h-1zM68 25h2v1h-2zM81 25h5v1h-5zM61 26h1v1h-1zM68 26h2v1h-2zM61 27h1v1h-1zM68 27h2v1h-2zM61 28h1v1h-1zM68 28h2v1h-2zM68 29h2v1h-2zM68 30h2v1h-2zM68 31h2v1h-2zM68 32h2v1h-2zM68 33h2v1h-2zM68 34h2v1h-2zM68 35h2v1h-2zM68 36h2v1h-2zM61 40h4v1h-4zM62 41h3v1h-3zM61 42h2v1h-2zM61 43h1v1h-1zM61 44h1v1h-1zM61 45h1v1h-1zM76 45h2v1h-2zM76 46h2v1h-2zM76 47h2v1h-2zM60 48h1v1h-1zM76 48h2v1h-2zM60 49h1v1h-1zM77 49h1v1h-1zM60 50h1v1h-1zM77 50h1v1h-1zM60 51h1v1h-1zM77 51h1v1h-1zM60 52h1v1h-1zM77 52h1v1h-1zM62 64h1v1h-1zM62 66h1v1h-1zM81 73h5v1h-5zM73 81h1v1h-1zM73 82h1v1h-1zM73 83h1v1h-1zM73 84h1v1h-1zM73 85h1v1h-1z"/>
<path fill="#ff2000" d="M73 12h1v1h-1zM73 13h4v1h-4zM73 14h4v1h-4zM73 15h4v1h-4zM73 16h5v1h-5zM80 17h6v1h-6zM81 18h5v1h-5zM81 19h5v1h-5zM81 20h5v1h-5zM81 21h5v1h-5zM81 22h5v1h-5zM81 23h5v1h-5zM81 24h5v1h-5zM61 41h1v1h-1zM60 64h1v1h-1zM60 66h1v1h-1z"/>
<path fill="#ff0000" d="M61 64h1v1h-1zM62 65h1v1h-1zM61 66h1v1h-1z"/>
<path fill="#ef0000" d="M60 65h1v1h-1z"/>
<path fill="#cf0000" d="M61 65h1v1h-1z"/>
</g></g></g>
<clipPath id="clipd"><rect x="132.5" y="549.5" width="390.60" height="373.00"/></clipPath>
<g clip-path="url(#clipd)"><g filter="url(#blurd)">
<g transform="translate(125.18,535.51) scale(2.4413,4.6625)" shape-rendering="crispEdges">
<path fill="#0000ff" d="M159 65h7v1h-7zM159 66h7v1h-7zM159 67h7v1h-7zM159 68h7v1h-7z"/>
<path fill="#0010ff" d="M158 65h1v1h-1zM158 66h1v1h-1zM158 67h1v1h-1zM158 68h1v1h-1zM126 81h1v1h-1zM126 82h1v1h-1zM126 83h1v1h-1zM126 84h1v1h-1zM126 85h1v1h-1z"/>
<path fill="#0020ff" d="M159 69h7v1h-7zM126 80h1v1h-1zM125 81h1v1h-1zM127 81h1v1h-1zM125 82h1v1h-1zM127 82h1v1h-1zM125 83h1v1h-1zM127 83h1v1h-1zM125 84h1v1h-1zM127 84h1v1h-1zM125 85h1v1h-1zM127 85h1v1h-1z"/>
<path fill="#0030ff" d="M14 11h10v1h-10zM12 12h14v1h-14zM12 13h15v1h-15zM14 14h15v1h-15zM17 15h15v1h-15zM19 16h15v1h-15zM20 17h15v1h-15zM22 18h13v1h-13zM25 19h10v1h-10zM27 20h8v1h-8zM28 21h6v1h-6zM30 22h2v1h-2zM159 64h7v1h-7zM157 65h1v1h-1zM157 66h1v1h-1zM157 67h1v1h-1zM157 68h1v1h-1zM158 69h1v1h-1zM127 80h1v1h-1z"/>
<path fill="#0040ff" d="M0 0h53v1h-53zM0 1h53v1h-53zM0 2h53v1h-53zM0 3h53v1h-53zM0 4h53v1h-53zM0 5h53v1h-53zM0 6h53v1h-53zM0 7h53v1h-53zM0 8h53v1h-53zM0 9h53v1h-53zM0 10h53v1h-53zM0 11h14v1h-14zM24 11h29v1h-29zM0 12h12v1h-12zM26 12h27v1h-27zM0 13h12v1h-12zM27 13h26v1h-26zM0 14h14v1h-14zM29 14h24v1h-24zM0 15h17v1h-17zM32 15h21v1h-21zM0 16h19v1h-19zM34 16h19v1h-19zM0 17h20v1h-20zM35 17h18v1h-18zM0 18h22v1h-22zM35 18h18v1h-18zM0 19h25v1h-25zM35 19h18v1h-18zM0 20h27v1h-27zM35 20h18v1h-18zM0 21h28v1h-28zM34 21h19v1h-19zM0 22h30v1h-30zM32 22h21v1h-21zM0 23h53v1h-53zM0 24h53v1h-53zM0 25h53v1h-53zM0 26h53v1h-53zM0 27h53v1h-53zM0 28h53v1h-53zM0 29h53v1h-53zM0 30h53v1h-53zM0 31h53v1h-53zM0 32h53v1h-53zM0 33h53v1h-53zM0 34h53v1h-53zM0 35h53v1h-53zM0 36h53v1h-53zM0 37h53v1h-53zM0 38h53v1h-53zM0 39h53v1h-53zM0 40h53v1h-53zM0 41h53v1h-53zM0 42h53v1h-53zM0 43h53v1h-53zM0 44h53v1h-53zM0 45h53v1h-53zM0 46h53v1h-53zM0 47h53v1h-53zM0 48h53v1h-53zM0 49h53v1h-53zM0 50h53v1h-53zM0 51h53v1h-53zM0 52h53v1h-53zM0 53h53v1h-53zM0 54h53v1h-53zM0 55h53v1h-53zM0 56h53v1h-53zM0 57h53v1h-53zM0 58h53v1h-53zM0 59h53v1h-53zM0 60h53v1h-53zM0 61h53v1h-53zM0 62h53v1h-53zM0 63h53v1h-53zM0 64h53v1h-53zM158 64h1v1h-1zM0 65h53v1h-53zM0 66h53v1h-53zM0 67h53v1h-53zM0 68h53v1h-53zM0 69h53v1h-53zM157 69h1v1h-1zM0 70h53v1h-53zM159 70h7v1h-7zM0 71h53v1h-53zM0 72h53v1h-53zM0 73h53v1h-53zM0 74h53v1h-53zM0 75h53v1h-53zM0 76h53v1h-53zM0 77h53v1h-53zM0 78h53v1h-53zM0 79h53v1h-53zM0 80h53v1h-53zM125 80h1v1h-1zM0 81h53v1h-53zM124 81h1v1h-1zM0 82h53v1h-53zM124 82h1v1h-1zM0 83h53v1h-53zM124 83h1v1h-1zM0 84h53v1h-53zM124 84h1v1h-1zM0 85h53v1h-53zM124 85h1v1h-1z"/>
<path fill="#0050ff" d="M156 65h1v1h-1zM156 66h1v1h-1zM156 67h1v1h-1zM156 68h1v1h-1zM158 70h1v1h-1zM126 79h2v1h-2zM124 80h1v1h-1zM128 80h1v1h-1zM123 81h1v1h-1zM128 81h1v1h-1zM123 82h1v1h-1zM128 82h1v1h-1zM123 83h1v1h-1zM128 83h1v1h-1zM123 84h1v1h-1zM128 84h1v1h-1zM123 85h1v1h-1zM128 85h1v1h-1z"/>
<path fill="#0060ff" d="M53 0h1v1h-1zM53 1h1v1h-1zM53 2h1v1h-1zM53 3h1v1h-1zM53 4h1v1h-1zM53 5h1v1h-1zM53 6h1v1h-1zM53 7h1v1h-1zM53 8h1v1h-1zM53 9h1v1h-1zM53 10h1v1h-1zM53 11h1v1h-1zM53 12h1v1h-1zM53 13h1v1h-1zM53 14h1v1h-1zM53 15h1v1h-1zM53 16h1v1h-1zM53 17h1v1h-1zM53 18h1v1h-1zM53 19h1v1h-1zM53 20h1v1h-1zM53 21h1v1h-1zM53 22h1v1h-1zM53 23h1v1h-1zM53 24h1v1h-1zM53 25h1v1h-1zM53 26h1v1h-1zM53 27h1v1h-1zM53 28h1v1h-1zM53 29h1v1h-1zM53 30h1v1h-1zM53 31h1v1h-1zM53 32h1v1h-1zM53 33h1v1h-1zM53 34h1v1h-1zM53 35h1v1h-1zM53 36h1v1h-1zM53 37h1v1h-1zM53 38h1v1h-1zM53 39h1v1h-1zM53 40h1v1h-1zM53 41h1v1h-1zM53 42h1v1h-1zM53 43h1v1h-1zM53 44h1v1h-1zM53 45h1v1h-1zM53 46h1v1h-1zM53 47h1v1h-1zM53 48h1v1h-1zM53 49h1v1h-1zM53 50h1v1h-1zM53 51h1v1h-1zM53 52h1v1h-1zM53 53h1v1h-1zM53 54h1v1h-1zM53 55h1v1h-1zM53 56h1v1h-1zM53 57h1v1h-1zM53 58h1v1h-1zM53 59h1v1h-1zM53 60h1v1h-1zM53 61h1v1h-1zM53 62h1v1h-1zM53 63h1v1h-1zM53 64h1v1h-1zM157 64h1v1h-1zM53 65h1v1h-1zM53 66h1v1h-1zM53 67h1v1h-1zM53 68h1v1h-1zM53 69h1v1h-1zM156 69h1v1h-1zM53 70h1v1h-1zM53 71h1v1h-1zM53 72h1v1h-1zM53 73h1v1h-1zM53 74h1v1h-1zM53 75h1v1h-1zM53 76h1v1h-1zM53 77h1v1h-1zM53 78h1v1h-1zM53 79h1v1h-1zM53 80h1v1h-1zM53 81h1v1h-1zM122 81h1v1h-1zM53 82h1v1h-1zM122 82h1v1h-1zM53 83h1v1h-1zM122 83h1v1h-1zM53 84h1v1h-1zM122 84h1v1h-1zM53 85h1v1h-1zM122 85h1v1h-1z"/>
<path fill="#0070ff" d="M155 65h1v1h-1zM155 66h1v1h-1zM155 67h1v1h-1zM155 68h1v1h-1zM157 70h1v1h-1zM159 71h7v1h-7zM125 79h1v1h-1zM128 79h1v1h-1zM123 80h1v1h-1zM129 81h1v1h-1zM129 82h1v1h-1zM129 83h1v1h-1zM129 84h1v1h-1zM129 85h1v1h-1z"/>
<path fill="#0080ff" d="M54 0h1v1h-1zM54 1h1v1h-1zM54 2h1v1h-1zM54 3h1v1h-1zM54 4h1v1h-1zM54 5h1v1h-1zM54 6h1v1h-1zM54 7h1v1h-1zM54 8h1v1h-1zM54 9h1v1h-1zM54 10h1v1h-1zM54 11h1v1h-1zM54 12h1v1h-1zM54 13h1v1h-1zM54 14h1v1h-1zM54 15h1v1h-1zM54 16h1v1h-1zM54 17h1v1h-1zM54 18h1v1h-1zM54 19h1v1h-1zM54 20h1v1h-1zM54 21h1v1h-1zM54 22h1v1h-1zM54 23h1v1h-1zM54 24h1v1h-1zM54 25h1v1h-1zM54 26h1v1h-1zM54 27h1v1h-1zM54 28h1v1h-1zM54 29h1v1h-1zM54 30h1v1h-1zM54 31h1v1h-1zM54 32h1v1h-1zM54 33h1v1h-1zM54 34h1v1h-1zM54 35h1v1h-1zM54 36h1v1h-1zM54 37h1v1h-1zM54 38h1v1h-1zM54 39h1v1h-1zM54 40h1v1h-1zM54 41h1v1h-1zM54 42h1v1h-1zM54 43h1v1h-1zM54 44h1v1h-1zM54 45h1v1h-1zM54 46h1v1h-1zM54 47h1v1h-1zM54 48h1v1h-1zM54 49h1v1h-1zM54 50h1v1h-1zM54 51h1v1h-1zM54 52h1v1h-1zM54 53h1v1h-1zM54 54h1v1h-1zM54 55h1v1h-1zM54 56h1v1h-1zM54 57h1v1h-1zM54 58h1v1h-1zM54 59h1v1h-1zM54 60h1v1h-1zM54 61h1v1h-1zM54 62h1v1h-1zM54 63h1v1h-1zM54 64h1v1h-1zM156 64h1v1h-1zM54 65h1v1h-1zM54 66h1v1h-1zM54 67h1v1h-1zM54 68h1v1h-1zM54 69h1v1h-1zM155 69h1v1h-1zM54 70h1v1h-1zM156 70h1v1h-1zM54 71h1v1h-1zM158 71h1v1h-1zM54 72h1v1h-1zM54 73h1v1h-1zM54 74h1v1h-1zM54 75h1v1h-1zM54 76h1v1h-1zM54 77h1v1h-1zM54 78h1v1h-1zM126 78h2v1h-2zM54 79h1v1h-1zM54 80h1v1h-1zM122 80h1v1h-1zM129 80h1v1h-1zM54 81h1v1h-1zM121 81h1v1h-1zM54 82h1v1h-1zM121 82h1v1h-1zM54 83h1v1h-1zM121 83h1v1h-1zM54 84h1v1h-1zM121 84h1v1h-1zM54 85h1v1h-1zM121 85h1v1h-1z"/>
<path fill="#008fff" d="M159 63h7v1h-7zM154 65h1v1h-1zM154 66h1v1h-1zM154 67h1v1h-1zM154 68h1v1h-1zM157 71h1v1h-1zM128 78h1v1h-1zM124 79h1v1h-1zM129 79h1v1h-1zM120 81h1v1h-1zM120 82h1v1h-1zM120 83h1v1h-1zM120 84h1v1h-1zM120 85h1v1h-1z"/>
<path fill="#009fff" d="M55 0h1v1h-1zM55 1h1v1h-1zM55 2h1v1h-1zM55 3h1v1h-1zM55 4h1v1h-1zM55 5h1v1h-1zM55 6h1v1h-1zM55 7h1v1h-1zM55 8h1v1h-1zM55 9h1v1h-1zM55 10h1v1h-1zM55 11h1v1h-1zM55 12h1v1h-1zM55 13h1v1h-1zM55 14h1v1h-1zM55 15h1v1h-1zM55 16h1v1h-1zM55 17h1v1h-1zM55 18h1v1h-1zM55 19h1v1h-1zM55 20h1v1h-1zM55 21h1v1h-1zM55 22h1v1h-1zM55 23h1v1h-1zM55 24h1v1h-1zM55 25h1v1h-1zM55 26h1v1h-1zM55 27h1v1h-1zM55 28h1v1h-1zM55 29h1v1h-1zM55 30h1v1h-1zM55 31h1v1h-1zM55 32h1v1h-1zM55 33h1v1h-1zM55 34h1v1h-1zM55 35h1v1h-1zM55 36h1v1h-1zM55 37h1v1h-1zM55 38h1v1h-1zM55 39h1v1h-1zM55 40h1v1h-1zM55 41h1v1h-1zM55 42h1v1h-1zM55 43h1v1h-1zM55 44h1v1h-1zM55 45h1v1h-1zM55 46h1v1h-1zM55 47h1v1h-1zM55 48h1v1h-1zM55 49h1v1h-1zM55 50h1v1h-1zM55 51h1v1h-1zM55 52h1v1h-1zM55 53h1v1h-1zM55 54h1v1h-1zM55 55h1v1h-1zM55 56h1v1h-1zM55 57h1v1h-1zM55 58h1v1h-1zM55 59h1v1h-1zM55 60h1v1h-1zM55 61h1v1h-1zM55 62h1v1h-1zM55 63h1v1h-1zM158 63h1v1h-1zM55 64h1v1h-1zM155 64h1v1h-1zM55 65h1v1h-1zM55 66h1v1h-1zM55 67h1v1h-1zM55 68h1v1h-1zM55 69h1v1h-1zM154 69h1v1h-1zM55 70h1v1h-1zM155 70h1v1h-1zM55 71h1v1h-1zM156 71h1v1h-1zM55 72h1v1h-1zM158 72h8v1h-8zM55 73h1v1h-1zM55 74h1v1h-1zM55 75h1v1h-1zM55 76h1v1h-1zM55 77h1v1h-1zM127 77h1v1h-1zM55 78h1v1h-1zM125 78h1v1h-1zM55 79h1v1h-1zM55 80h1v1h-1zM121 80h1v1h-1zM55 81h1v1h-1zM130 81h1v1h-1zM55 82h1v1h-1zM130 82h1v1h-1zM55 83h1v1h-1zM130 83h1v1h-1zM55 84h1v1h-1zM130 84h1v1h-1zM55 85h1v1h-1zM130 85h1v1h-1z"/>
<path fill="#00afff" d="M157 63h1v1h-1zM153 65h1v1h-1zM153 66h1v1h-1zM153 67h1v1h-1zM153 68h1v1h-1zM154 70h1v1h-1zM155 71h1v1h-1zM157 72h1v1h-1zM126 77h1v1h-1zM128 77h1v1h-1zM129 78h1v1h-1zM123 79h1v1h-1zM130 79h1v1h-1zM120 80h1v1h-1zM130 80h1v1h-1zM117 81h3v1h-3zM117 82h3v1h-3zM117 83h3v1h-3zM117 84h3v1h-3zM117 85h3v1h-3z"/>
<path fill="#00bfff" d="M56 0h1v1h-1zM56 1h1v1h-1zM56 2h1v1h-1zM56 3h1v1h-1zM56 4h1v1h-1zM56 5h1v1h-1zM56 6h1v1h-1zM56 7h1v1h-1zM56 8h1v1h-1zM56 9h1v1h-1zM56 10h1v1h-1zM56 11h1v1h-1zM56 12h1v1h-1zM56 13h1v1h-1zM56 14h1v1h-1zM56 15h1v1h-1zM56 16h1v1h-1zM56 17h1v1h-1zM56 18h1v1h-1zM56 19h1v1h-1zM56 20h1v1h-1zM56 21h1v1h-1zM56 22h1v1h-1zM56 23h1v1h-1zM56 24h1v1h-1zM56 25h1v1h-1zM56 26h1v1h-1zM56 27h1v1h-1zM56 28h1v1h-1zM56 29h1v1h-1zM56 30h1v1h-1zM56 31h1v1h-1zM56 32h1v1h-1zM56 33h1v1h-1zM56 34h1v1h-1zM56 35h1v1h-1zM56 36h1v1h-1zM56 37h1v1h-1zM56 38h1v1h-1zM56 39h1v1h-1zM56 40h1v1h-1zM56 41h1v1h-1zM56 42h1v1h-1zM56 43h1v1h-1zM56 44h1v1h-1zM56 45h1v1h-1zM56 46h1v1h-1zM56 47h1v1h-1zM56 48h1v1h-1zM56 49h1v1h-1zM56 50h1v1h-1zM56 51h1v1h-1zM56 52h1v1h-1zM56 53h1v1h-1zM56 54h1v1h-1zM56 55h1v1h-1zM56 56h1v1h-1zM56 57h1v1h-1zM56 58h1v1h-1zM56 59h1v1h-1zM56 60h1v1h-1zM56 61h1v1h-1zM56 62h1v1h-1zM56 63h1v1h-1zM56 64h1v1h-1zM154 64h1v1h-1zM56 65h1v1h-1zM56 66h1v1h-1zM56 67h1v1h-1zM56 68h1v1h-1zM56 69h1v1h-1zM153 69h1v1h-1zM56 70h1v1h-1zM56 71h1v1h-1zM154 71h1v1h-1zM56 72h1v1h-1zM156 72h1v1h-1zM56 73h1v1h-1zM56 74h1v1h-1zM56 75h1v1h-1zM56 76h1v1h-1zM127 76h1v1h-1zM150 76h2v1h-2zM56 77h1v1h-1zM129 77h1v1h-1zM149 77h3v1h-3zM56 78h1v1h-1zM124 78h1v1h-1zM130 78h1v1h-1zM150 78h2v1h-2zM56 79h1v1h-1zM122 79h1v1h-1zM150 79h2v1h-2zM56 80h1v1h-1zM150 80h2v1h-2zM56 81h1v1h-1zM116 81h1v1h-1zM150 81h2v1h-2zM56 82h1v1h-1zM116 82h1v1h-1zM150 82h2v1h-2zM56 83h1v1h-1zM116 83h1v1h-1zM150 83h2v1h-2zM56 84h1v1h-1zM116 84h1v1h-1zM150 84h2v1h-2zM56 85h1v1h-1zM116 85h1v1h-1zM150 85h2v1h-2z"/>
<path fill="#00cfff" d="M156 63h1v1h-1zM153 64h1v1h-1zM152 65h1v1h-1zM152 66h1v1h-1zM152 67h1v1h-1zM152 68h1v1h-1zM153 70h1v1h-1zM153 71h1v1h-1zM154 72h2v1h-2zM157 73h9v1h-9zM151 75h1v1h-1zM126 76h1v1h-1zM128 76h1v1h-1zM149 76h1v1h-1zM125 77h1v1h-1zM130 77h1v1h-1zM148 77h1v1h-1zM152 77h1v1h-1zM149 78h1v1h-1zM152 78h1v1h-1zM131 79h1v1h-1zM152 79h1v1h-1zM119 80h1v1h-1zM131 80h1v1h-1zM152 80h1v1h-1zM115 81h1v1h-1zM131 81h1v1h-1zM152 81h1v1h-1zM115 82h1v1h-1zM131 82h1v1h-1zM152 82h1v1h-1zM115 83h1v1h-1zM131 83h1v1h-1zM152 83h1v1h-1zM115 84h1v1h-1zM131 84h1v1h-1zM152 84h1v1h-1zM115 85h1v1h-1zM131 85h1v1h-1zM152 85h1v1h-1z"/>
<path fill="#00dfff" d="M57 0h1v1h-1zM57 1h1v1h-1zM57 2h1v1h-1zM57 3h1v1h-1zM57 4h1v1h-1zM57 5h1v1h-1zM57 6h1v1h-1zM57 7h1v1h-1zM57 8h1v1h-1zM57 9h1v1h-1zM57 10h1v1h-1zM57 11h1v1h-1zM57 12h1v1h-1zM57 13h1v1h-1zM57 14h1v1h-1zM57 15h1v1h-1zM57 16h1v1h-1zM57 17h1v1h-1zM57 18h1v1h-1zM57 19h1v1h-1zM57 20h1v1h-1zM57 21h1v1h-1zM57 22h1v1h-1zM57 23h1v1h-1zM57 24h1v1h-1zM57 25h1v1h-1zM57 26h1v1h-1zM57 27h1v1h-1zM57 28h1v1h-1zM57 29h1v1h-1zM57 30h1v1h-1zM57 31h1v1h-1zM57 32h1v1h-1zM57 33h1v1h-1zM57 34h1v1h-1zM57 35h1v1h-1zM57 36h1v1h-1zM57 37h1v1h-1zM57 38h1v1h-1zM57 39h1v1h-1zM57 40h1v1h-1zM57 41h1v1h-1zM57 42h1v1h-1zM57 43h1v1h-1zM57 44h1v1h-1zM57 45h1v1h-1zM57 46h1v1h-1zM57 47h1v1h-1zM57 48h1v1h-1zM57 49h1v1h-1zM57 50h1v1h-1zM57 51h1v1h-1zM57 52h1v1h-1zM57 53h1v1h-1zM57 54h1v1h-1zM57 55h1v1h-1zM57 56h1v1h-1zM57 57h1v1h-1zM57 58h1v1h-1zM57 59h1v1h-1zM57 60h1v1h-1zM57 61h1v1h-1zM57 62h1v1h-1zM159 62h7v1h-7zM57 63h1v1h-1zM155 63h1v1h-1zM57 64h1v1h-1zM57 65h1v1h-1zM57 66h1v1h-1zM57 67h1v1h-1zM57 68h1v1h-1zM57 69h1v1h-1zM152 69h1v1h-1zM57 70h1v1h-1zM152 70h1v1h-1zM57 71h1v1h-1zM57 72h1v1h-1zM153 72h1v1h-1zM57 73h1v1h-1zM154 73h3v1h-3zM57 74h1v1h-1zM151 74h1v1h-1zM57 75h1v1h-1zM126 75h2v1h-2zM150 75h1v1h-1zM152 75h1v1h-1zM57 76h1v1h-1zM129 76h1v1h-1zM148 76h1v1h-1zM152 76h1v1h-1zM57 77h1v1h-1zM131 77h1v1h-1zM147 77h1v1h-1zM57 78h1v1h-1zM123 78h1v1h-1zM131 78h1v1h-1zM148 78h1v1h-1zM57 79h1v1h-1zM121 79h1v1h-1zM149 79h1v1h-1zM57 80h1v1h-1zM115 80h4v1h-4zM149 80h1v1h-1zM57 81h1v1h-1zM114 81h1v1h-1zM57 82h1v1h-1zM114 82h1v1h-1zM57 83h1v1h-1zM114 83h1v1h-1zM57 84h1v1h-1zM114 84h1v1h-1zM57 85h1v1h-1zM114 85h1v1h-1z"/>
<path fill="#00efff" d="M158 62h1v1h-1zM152 64h1v1h-1zM151 65h1v1h-1zM151 66h1v1h-1zM151 67h1v1h-1zM151 68h1v1h-1zM151 69h1v1h-1zM152 71h1v1h-1zM152 72h1v1h-1zM151 73h3v1h-3zM126 74h2v1h-2zM150 74h1v1h-1zM152 74h7v1h-7zM128 75h1v1h-1zM149 75h1v1h-1zM153 75h2v1h-2zM125 76h1v1h-1zM130 76h2v1h-2zM146 76h2v1h-2zM153 76h1v1h-1zM132 77h1v1h-1zM146 77h1v1h-1zM153 77h1v1h-1zM132 78h1v1h-1zM153 78h1v1h-1zM132 79h1v1h-1zM153 79h1v1h-1zM114 80h1v1h-1zM153 80h1v1h-1zM113 81h1v1h-1zM149 81h1v1h-1zM153 81h1v1h-1zM113 82h1v1h-1zM149 82h1v1h-1zM153 82h1v1h-1zM113 83h1v1h-1zM149 83h1v1h-1zM153 83h1v1h-1zM113 84h1v1h-1zM149 84h1v1h-1zM153 84h1v1h-1zM113 85h1v1h-1zM149 85h1v1h-1zM153 85h1v1h-1z"/>
<path fill="#00ffff" d="M58 0h1v1h-1zM58 1h1v1h-1zM58 2h1v1h-1zM58 3h1v1h-1zM58 4h1v1h-1zM58 5h1v1h-1zM58 6h1v1h-1zM58 7h1v1h-1zM58 8h1v1h-1zM58 9h1v1h-1zM58 10h1v1h-1zM58 11h1v1h-1zM58 12h1v1h-1zM58 13h1v1h-1zM58 14h1v1h-1zM58 15h1v1h-1zM58 16h1v1h-1zM58 17h1v1h-1zM58 18h1v1h-1zM58 19h1v1h-1zM58 20h1v1h-1zM58 21h1v1h-1zM58 22h1v1h-1zM58 23h1v1h-1zM58 24h1v1h-1zM58 25h1v1h-1zM58 26h1v1h-1zM58 27h1v1h-1zM58 28h1v1h-1zM58 29h1v1h-1zM58 30h1v1h-1zM58 31h1v1h-1zM58 32h1v1h-1zM58 33h1v1h-1zM58 34h1v1h-1zM58 35h1v1h-1zM58 36h1v1h-1zM58 37h1v1h-1zM58 38h1v1h-1zM58 39h1v1h-1zM58 40h1v1h-1zM58 41h1v1h-1zM58 42h1v1h-1zM58 43h1v1h-1zM58 44h1v1h-1zM58 45h1v1h-1zM58 46h1v1h-1zM58 47h1v1h-1zM58 48h1v1h-1zM58 49h1v1h-1zM58 50h1v1h-1zM58 51h1v1h-1zM58 52h1v1h-1zM58 53h1v1h-1zM58 54h1v1h-1zM58 55h1v1h-1zM58 56h1v1h-1zM58 57h1v1h-1zM58 58h1v1h-1zM58 59h1v1h-1zM58 60h1v1h-1zM58 61h1v1h-1zM58 62h1v1h-1zM157 62h1v1h-1zM58 63h1v1h-1zM154 63h1v1h-1zM58 64h1v1h-1zM58 65h1v1h-1zM58 66h1v1h-1zM58 67h1v1h-1zM58 68h1v1h-1zM58 69h1v1h-1zM125 69h2v1h-2zM58 70h1v1h-1zM126 70h1v1h-1zM151 70h1v1h-1zM58 71h1v1h-1zM151 71h1v1h-1zM58 72h1v1h-1zM151 72h1v1h-1zM58 73h1v1h-1zM126 73h2v1h-2zM150 73h1v1h-1zM58 74h1v1h-1zM125 74h1v1h-1zM128 74h1v1h-1zM149 74h1v1h-1zM159 74h7v1h-7zM58 75h1v1h-1zM125 75h1v1h-1zM129 75h1v1h-1zM148 75h1v1h-1zM155 75h1v1h-1zM58 76h1v1h-1zM132 76h1v1h-1zM145 76h1v1h-1zM154 76h1v1h-1zM58 77h1v1h-1zM124 77h1v1h-1zM133 77h1v1h-1zM145 77h1v1h-1zM154 77h1v1h-1zM58 78h1v1h-1zM122 78h1v1h-1zM147 78h1v1h-1zM154 78h1v1h-1zM58 79h1v1h-1zM120 79h1v1h-1zM148 79h1v1h-1zM154 79h1v1h-1zM58 80h1v1h-1zM112 80h2v1h-2zM132 80h1v1h-1zM154 80h1v1h-1zM58 81h1v1h-1zM112 81h1v1h-1zM132 81h1v1h-1zM154 81h1v1h-1zM58 82h1v1h-1zM112 82h1v1h-1zM132 82h1v1h-1zM154 82h1v1h-1zM58 83h1v1h-1zM112 83h1v1h-1zM132 83h1v1h-1zM154 83h1v1h-1zM58 84h1v1h-1zM112 84h1v1h-1zM132 84h1v1h-1zM154 84h1v1h-1zM58 85h1v1h-1zM112 85h1v1h-1zM132 85h1v1h-1zM154 85h1v1h-1z"/>
<path fill="#10ffef" d="M151 64h1v1h-1zM150 65h1v1h-1zM150 66h1v1h-1zM150 67h1v1h-1zM112 68h15v1h-15zM150 68h1v1h-1zM112 69h13v1h-13zM127 69h1v1h-1zM150 69h1v1h-1zM123 70h3v1h-3zM127 70h1v1h-1zM150 70h1v1h-1zM125 71h3v1h-3zM150 71h1v1h-1zM125 72h3v1h-3zM150 72h1v1h-1zM125 73h1v1h-1zM130 75h1v1h-1zM147 75h1v1h-1zM156 75h2v1h-2zM124 76h1v1h-1zM133 76h1v1h-1zM144 76h1v1h-1zM155 76h1v1h-1zM134 77h4v1h-4zM144 77h1v1h-1zM133 78h1v1h-1zM146 78h1v1h-1zM133 79h1v1h-1zM147 79h1v1h-1zM111 80h1v1h-1zM148 80h1v1h-1zM111 81h1v1h-1zM148 81h1v1h-1zM111 82h1v1h-1zM148 82h1v1h-1zM111 83h1v1h-1zM148 83h1v1h-1zM111 84h1v1h-1zM148 84h1v1h-1zM111 85h1v1h-1zM148 85h1v1h-1z"/>
<path fill="#20ffdf" d="M59 0h52v1h-52zM59 1h52v1h-52zM59 2h52v1h-52zM59 3h52v1h-52zM59 4h52v1h-52zM59 5h52v1h-52zM59 6h52v1h-52zM59 7h52v1h-52zM59 8h52v1h-52zM59 9h52v1h-52zM59 10h52v1h-52zM59 11h52v1h-52zM59 12h52v1h-52zM59 13h52v1h-52zM59 14h52v1h-52zM59 15h52v1h-52zM59 16h52v1h-52zM59 17h52v1h-52zM59 18h52v1h-52zM59 19h52v1h-52zM59 20h52v1h-52zM59 21h52v1h-52zM59 22h52v1h-52zM59 23h52v1h-52zM59 24h52v1h-52zM59 25h52v1h-52zM59 26h52v1h-52zM59 27h52v1h-52zM59 28h52v1h-52zM59 29h52v1h-52zM59 30h52v1h-52zM59 31h52v1h-52zM59 32h52v1h-52zM59 33h52v1h-52zM59 34h52v1h-52zM59 35h52v1h-52zM59 36h52v1h-52zM59 37h52v1h-52zM59 38h52v1h-52zM59 39h52v1h-52zM59 40h52v1h-52zM59 41h52v1h-52zM59 42h52v1h-52zM59 43h52v1h-52zM59 44h52v1h-52zM59 45h52v1h-52zM59 46h48v1h-48zM59 47h46v1h-46zM59 48h46v1h-46zM59 49h45v1h-45zM59 50h45v1h-45zM59 51h45v1h-45zM59 52h45v1h-45zM59 53h45v1h-45zM59 54h45v1h-45zM59 55h45v1h-45zM59 56h45v1h-45zM142 56h2v1h-2zM59 57h45v1h-45zM142 57h3v1h-3zM59 58h45v1h-45zM59 59h45v1h-45zM59 60h45v1h-45zM59 61h46v1h-46zM59 62h46v1h-46zM156 62h1v1h-1zM59 63h48v1h-48zM153 63h1v1h-1zM59 64h52v1h-52zM59 65h53v1h-53zM59 66h54v1h-54zM59 67h57v1h-57zM59 68h53v1h-53zM127 68h1v1h-1zM59 69h53v1h-53zM59 70h57v1h-57zM120 70h3v1h-3zM59 71h54v1h-54zM123 71h2v1h-2zM59 72h53v1h-53zM124 72h1v1h-1zM59 73h53v1h-53zM124 73h1v1h-1zM128 73h1v1h-1zM149 73h1v1h-1zM59 74h52v1h-52zM124 74h1v1h-1zM129 74h1v1h-1zM148 74h1v1h-1zM59 75h52v1h-52zM124 75h1v1h-1zM131 75h1v1h-1zM146 75h1v1h-1zM158 75h8v1h-8zM59 76h52v1h-52zM134 76h10v1h-10zM156 76h1v1h-1zM59 77h52v1h-52zM123 77h1v1h-1zM138 77h6v1h-6zM155 77h1v1h-1zM59 78h53v1h-53zM121 78h1v1h-1zM134 78h1v1h-1zM145 78h1v1h-1zM155 78h1v1h-1zM59 79h61v1h-61zM155 79h1v1h-1zM59 80h52v1h-52zM133 80h1v1h-1zM155 80h1v1h-1zM59 81h52v1h-52zM155 81h1v1h-1zM59 82h52v1h-52zM155 82h1v1h-1zM59 83h52v1h-52zM155 83h1v1h-1zM59 84h52v1h-52zM155 84h1v1h-1zM59 85h52v1h-52zM155 85h1v1h-1z"/>
<path fill="#30ffcf" d="M111 36h1v1h-1zM111 37h1v1h-1zM107 46h4v1h-4zM105 47h3v1h-3zM105 48h1v1h-1zM104 49h2v1h-2zM104 50h2v1h-2zM104 51h2v1h-2zM104 52h2v1h-2zM104 53h2v1h-2zM104 54h2v1h-2zM104 55h2v1h-2zM143 55h1v1h-1zM104 56h2v1h-2zM144 56h2v1h-2zM104 57h2v1h-2zM145 57h1v1h-1zM104 58h2v1h-2zM142 58h2v1h-2zM104 59h2v1h-2zM104 60h2v1h-2zM105 61h1v1h-1zM105 62h3v1h-3zM155 62h1v1h-1zM107 63h4v1h-4zM152 63h1v1h-1zM111 64h1v1h-1zM150 64h1v1h-1zM112 65h1v1h-1zM149 65h1v1h-1zM113 66h2v1h-2zM149 66h1v1h-1zM116 67h12v1h-12zM149 67h1v1h-1zM149 68h1v1h-1zM128 69h1v1h-1zM149 69h1v1h-1zM116 70h4v1h-4zM128 70h1v1h-1zM149 70h1v1h-1zM113 71h2v1h-2zM121 71h2v1h-2zM128 71h1v1h-1zM149 71h1v1h-1zM112 72h1v1h-1zM122 72h2v1h-2zM128 72h1v1h-1zM149 72h1v1h-1zM112 73h1v1h-1zM123 73h1v1h-1zM111 74h1v1h-1zM123 74h1v1h-1zM130 74h1v1h-1zM147 74h1v1h-1zM111 75h1v1h-1zM123 75h1v1h-1zM132 75h1v1h-1zM145 75h1v1h-1zM111 76h1v1h-1zM111 77h1v1h-1zM156 77h1v1h-1zM112 78h1v1h-1zM135 78h2v1h-2zM156 78h1v1h-1zM134 79h1v1h-1zM146 79h1v1h-1zM156 79h1v1h-1zM147 80h1v1h-1zM156 80h1v1h-1zM133 81h1v1h-1zM156 81h1v1h-1zM133 82h1v1h-1zM156 82h1v1h-1zM133 83h1v1h-1zM156 83h1v1h-1zM133 84h1v1h-1zM156 84h1v1h-1zM133 85h1v1h-1zM156 85h1v1h-1z"/>
<path fill="#40ffbf" d="M111 30h1v1h-1zM111 31h1v1h-1zM111 32h1v1h-1zM111 33h1v1h-1zM111 34h1v1h-1zM111 35h1v1h-1zM111 38h1v1h-1zM111 39h1v1h-1zM111 40h1v1h-1zM111 41h1v1h-1zM111 42h1v1h-1zM111 43h1v1h-1zM111 44h1v1h-1zM108 47h2v1h-2zM106 48h2v1h-2zM106 49h2v1h-2zM106 50h2v1h-2zM106 51h2v1h-2zM106 52h2v1h-2zM106 53h2v1h-2zM106 54h2v1h-2zM106 55h2v1h-2zM142 55h1v1h-1zM106 56h2v1h-2zM141 56h1v1h-1zM146 56h1v1h-1zM106 57h2v1h-2zM141 57h1v1h-1zM146 57h1v1h-1zM106 58h2v1h-2zM144 58h1v1h-1zM106 59h2v1h-2zM106 60h2v1h-2zM106 61h2v1h-2zM158 61h8v1h-8zM108 62h2v1h-2zM154 62h1v1h-1zM111 63h1v1h-1zM112 64h1v1h-1zM149 64h1v1h-1zM113 65h2v1h-2zM115 66h12v1h-12zM128 68h1v1h-1zM115 71h6v1h-6zM113 72h2v1h-2zM121 72h1v1h-1zM113 73h1v1h-1zM122 73h1v1h-1zM129 73h1v1h-1zM148 73h1v1h-1zM112 74h1v1h-1zM131 74h1v1h-1zM146 74h1v1h-1zM112 75h1v1h-1zM133 75h1v1h-1zM144 75h1v1h-1zM123 76h1v1h-1zM157 76h1v1h-1zM122 77h1v1h-1zM113 78h1v1h-1zM120 78h1v1h-1zM137 78h3v1h-3zM144 78h1v1h-1zM147 81h1v1h-1zM147 82h1v1h-1zM147 83h1v1h-1zM147 84h1v1h-1zM147 85h1v1h-1z"/>
<path fill="#50ffaf" d="M111 0h1v1h-1zM111 1h1v1h-1zM111 2h1v1h-1zM111 3h1v1h-1zM111 4h1v1h-1zM111 5h1v1h-1zM111 6h1v1h-1zM111 7h1v1h-1zM111 8h1v1h-1zM111 9h1v1h-1zM111 10h1v1h-1zM111 11h1v1h-1zM111 12h1v1h-1zM111 13h1v1h-1zM111 14h1v1h-1zM111 15h1v1h-1zM111 16h1v1h-1zM111 17h1v1h-1zM111 18h1v1h-1zM111 19h1v1h-1zM111 20h1v1h-1zM111 21h1v1h-1zM111 22h1v1h-1zM111 23h1v1h-1zM111 24h1v1h-1zM111 25h1v1h-1zM111 26h1v1h-1zM111 27h1v1h-1zM111 28h1v1h-1zM111 29h1v1h-1zM111 45h1v1h-1zM110 47h1v1h-1zM108 48h2v1h-2zM108 49h1v1h-1zM108 50h1v1h-1zM108 51h1v1h-1zM108 52h1v1h-1zM108 53h1v1h-1zM108 54h1v1h-1zM142 54h2v1h-2zM108 55h1v1h-1zM141 55h1v1h-1zM144 55h1v1h-1zM108 56h1v1h-1zM147 56h1v1h-1zM108 57h1v1h-1zM140 57h1v1h-1zM147 57h1v1h-1zM108 58h1v1h-1zM141 58h1v1h-1zM145 58h1v1h-1zM108 59h1v1h-1zM142 59h2v1h-2zM108 60h1v1h-1zM108 61h2v1h-2zM110 62h1v1h-1zM112 63h1v1h-1zM151 63h1v1h-1zM113 64h1v1h-1zM115 65h1v1h-1zM148 65h1v1h-1zM127 66h1v1h-1zM148 66h1v1h-1zM128 67h1v1h-1zM148 67h1v1h-1zM129 68h1v1h-1zM148 68h1v1h-1zM129 69h1v1h-1zM148 69h1v1h-1zM129 70h1v1h-1zM148 70h1v1h-1zM129 71h1v1h-1zM148 71h1v1h-1zM115 72h1v1h-1zM120 72h1v1h-1zM129 72h1v1h-1zM148 72h1v1h-1zM114 73h1v1h-1zM121 73h1v1h-1zM130 73h1v1h-1zM147 73h1v1h-1zM113 74h1v1h-1zM122 74h1v1h-1zM122 75h1v1h-1zM134 75h1v1h-1zM143 75h1v1h-1zM112 76h1v1h-1zM158 76h8v1h-8zM112 77h1v1h-1zM157 77h1v1h-1zM114 78h1v1h-1zM140 78h4v1h-4zM157 78h1v1h-1zM135 79h2v1h-2zM145 79h1v1h-1zM157 79h1v1h-1zM134 80h1v1h-1zM146 80h1v1h-1zM157 80h1v1h-1zM134 81h1v1h-1zM157 81h1v1h-1zM134 82h1v1h-1zM157 82h1v1h-1zM134 83h1v1h-1zM157 83h1v1h-1zM134 84h1v1h-1zM157 84h1v1h-1zM134 85h1v1h-1zM157 85h1v1h-1z"/>
<path fill="#60ff9f" d="M112 35h1v1h-1zM112 36h1v1h-1zM112 37h1v1h-1zM112 38h1v1h-1zM111 46h1v1h-1zM110 48h1v1h-1zM109 49h2v1h-2zM109 50h2v1h-2zM109 51h2v1h-2zM109 52h2v1h-2zM109 53h2v1h-2zM109 54h2v1h-2zM109 55h2v1h-2zM145 55h1v1h-1zM109 56h2v1h-2zM140 56h1v1h-1zM148 56h1v1h-1zM109 57h2v1h-2zM148 57h2v1h-2zM109 58h2v1h-2zM140 58h1v1h-1zM146 58h1v1h-1zM109 59h2v1h-2zM141 59h1v1h-1zM144 59h1v1h-1zM109 60h2v1h-2zM142 60h2v1h-2zM110 61h1v1h-1zM157 61h1v1h-1zM111 62h1v1h-1zM153 62h1v1h-1zM113 63h1v1h-1zM150 63h1v1h-1zM114 64h2v1h-2zM148 64h1v1h-1zM116 65h12v1h-12zM147 65h1v1h-1zM128 66h1v1h-1zM147 66h1v1h-1zM129 67h1v1h-1zM147 67h1v1h-1zM147 68h1v1h-1zM130 69h1v1h-1zM147 69h1v1h-1zM130 70h1v1h-1zM147 70h1v1h-1zM130 71h1v1h-1zM147 71h1v1h-1zM116 72h4v1h-4zM130 72h1v1h-1zM147 72h1v1h-1zM115 73h1v1h-1zM120 73h1v1h-1zM121 74h1v1h-1zM132 74h1v1h-1zM145 74h1v1h-1zM113 75h1v1h-1zM135 75h8v1h-8zM122 76h1v1h-1zM113 77h1v1h-1zM121 77h1v1h-1zM158 77h1v1h-1zM115 78h1v1h-1zM119 78h1v1h-1zM158 78h1v1h-1zM137 79h2v1h-2zM158 79h1v1h-1zM135 80h1v1h-1zM158 80h1v1h-1zM146 81h1v1h-1zM158 81h1v1h-1zM146 82h1v1h-1zM158 82h1v1h-1zM146 83h1v1h-1zM158 83h1v1h-1zM146 84h1v1h-1zM158 84h1v1h-1zM146 85h1v1h-1zM158 85h1v1h-1z"/>
<path fill="#70ff8f" d="M112 33h1v1h-1zM112 34h1v1h-1zM112 39h1v1h-1zM112 40h1v1h-1zM112 41h1v1h-1zM112 42h1v1h-1zM112 43h1v1h-1zM112 44h1v1h-1zM111 47h1v1h-1zM142 53h2v1h-2zM141 54h1v1h-1zM144 54h1v1h-1zM140 55h1v1h-1zM146 55h1v1h-1zM139 56h1v1h-1zM149 56h1v1h-1zM139 57h1v1h-1zM150 57h1v1h-1zM147 58h2v1h-2zM140 59h1v1h-1zM145 59h2v1h-2zM144 60h1v1h-1zM111 61h1v1h-1zM156 61h1v1h-1zM112 62h1v1h-1zM152 62h1v1h-1zM114 63h1v1h-1zM148 63h2v1h-2zM116 64h1v1h-1zM147 64h1v1h-1zM129 66h1v1h-1zM130 68h1v1h-1zM116 73h1v1h-1zM119 73h1v1h-1zM131 73h1v1h-1zM146 73h1v1h-1zM114 74h1v1h-1zM133 74h1v1h-1zM144 74h1v1h-1zM121 75h1v1h-1zM113 76h1v1h-1zM159 77h7v1h-7zM116 78h3v1h-3zM159 78h7v1h-7zM139 79h1v1h-1zM144 79h1v1h-1zM159 79h7v1h-7zM136 80h1v1h-1zM145 80h1v1h-1zM159 80h7v1h-7zM135 81h1v1h-1zM159 81h7v1h-7zM135 82h1v1h-1zM159 82h7v1h-7zM135 83h1v1h-1zM159 83h7v1h-7zM135 84h1v1h-1zM159 84h7v1h-7zM135 85h1v1h-1zM159 85h7v1h-7z"/>
<path fill="#80ff80" d="M112 29h1v1h-1zM112 30h1v1h-1zM112 31h1v1h-1zM112 32h1v1h-1zM134 33h2v1h-2zM134 34h2v1h-2zM134 35h2v1h-2zM113 36h1v1h-1zM134 36h2v1h-2zM113 37h1v1h-1zM134 37h2v1h-2zM134 38h2v1h-2zM134 39h2v1h-2zM134 40h2v1h-2zM112 45h1v1h-1zM111 48h1v1h-1zM111 50h1v1h-1zM111 51h1v1h-1zM111 52h1v1h-1zM111 53h1v1h-1zM111 54h1v1h-1zM145 54h1v1h-1zM111 55h1v1h-1zM147 55h1v1h-1zM111 56h1v1h-1zM150 56h1v1h-1zM111 57h1v1h-1zM151 57h1v1h-1zM111 58h1v1h-1zM139 58h1v1h-1zM149 58h1v1h-1zM111 59h1v1h-1zM147 59h1v1h-1zM111 60h1v1h-1zM141 60h1v1h-1zM145 60h1v1h-1zM112 61h1v1h-1zM142 61h2v1h-2zM155 61h1v1h-1zM113 62h1v1h-1zM151 62h1v1h-1zM115 63h1v1h-1zM147 63h1v1h-1zM117 64h11v1h-11zM146 64h1v1h-1zM128 65h1v1h-1zM146 65h1v1h-1zM146 66h1v1h-1zM130 67h1v1h-1zM146 67h1v1h-1zM146 68h1v1h-1zM131 69h1v1h-1zM146 69h1v1h-1zM131 70h1v1h-1zM146 70h1v1h-1zM131 71h1v1h-1zM146 71h1v1h-1zM131 72h1v1h-1zM146 72h1v1h-1zM117 73h2v1h-2zM115 74h1v1h-1zM120 74h1v1h-1zM134 74h1v1h-1zM143 74h1v1h-1zM114 75h1v1h-1zM121 76h1v1h-1zM114 77h1v1h-1zM140 79h2v1h-2zM143 79h1v1h-1zM137 80h1v1h-1zM136 81h1v1h-1zM145 81h1v1h-1zM136 82h1v1h-1zM145 82h1v1h-1zM136 83h1v1h-1zM145 83h1v1h-1zM136 84h1v1h-1zM145 84h1v1h-1zM136 85h1v1h-1zM145 85h1v1h-1z"/>
<path fill="#8fff70" d="M112 0h1v1h-1zM112 1h1v1h-1zM112 2h1v1h-1zM112 3h1v1h-1zM112 4h1v1h-1zM112 5h1v1h-1zM112 6h1v1h-1zM112 7h1v1h-1zM112 8h1v1h-1zM112 9h1v1h-1zM112 10h1v1h-1zM112 11h1v1h-1zM112 12h1v1h-1zM112 13h1v1h-1zM112 14h1v1h-1zM112 15h1v1h-1zM112 16h1v1h-1zM112 17h1v1h-1zM112 18h1v1h-1zM112 19h1v1h-1zM112 20h1v1h-1zM126 20h2v1h-2zM112 21h1v1h-1zM112 22h1v1h-1zM112 23h1v1h-1zM112 24h1v1h-1zM112 25h1v1h-1zM112 26h1v1h-1zM112 27h1v1h-1zM112 28h1v1h-1zM113 35h1v1h-1zM113 38h1v1h-1zM135 41h1v1h-1zM112 46h1v1h-1zM111 49h1v1h-1zM112 52h1v1h-1zM142 52h2v1h-2zM112 53h1v1h-1zM141 53h1v1h-1zM144 53h1v1h-1zM112 54h1v1h-1zM140 54h1v1h-1zM112 55h1v1h-1zM139 55h1v1h-1zM148 55h1v1h-1zM112 56h1v1h-1zM138 56h1v1h-1zM151 56h1v1h-1zM112 57h1v1h-1zM138 57h1v1h-1zM112 58h1v1h-1zM138 58h1v1h-1zM150 58h1v1h-1zM112 59h1v1h-1zM139 59h1v1h-1zM148 59h1v1h-1zM112 60h1v1h-1zM140 60h1v1h-1zM146 60h1v1h-1zM158 60h8v1h-8zM113 61h1v1h-1zM141 61h1v1h-1zM144 61h2v1h-2zM154 61h1v1h-1zM114 62h1v1h-1zM145 62h6v1h-6zM116 63h1v1h-1zM146 63h1v1h-1zM128 64h1v1h-1zM129 65h1v1h-1zM130 66h1v1h-1zM131 67h1v1h-1zM131 68h1v1h-1zM132 73h1v1h-1zM145 73h1v1h-1zM116 74h1v1h-1zM119 74h1v1h-1zM135 74h8v1h-8zM115 75h1v1h-1zM120 75h1v1h-1zM114 76h1v1h-1zM120 77h1v1h-1zM142 79h1v1h-1zM138 80h1v1h-1zM144 80h1v1h-1zM137 81h1v1h-1zM137 82h1v1h-1zM137 83h1v1h-1zM137 84h1v1h-1zM137 85h1v1h-1z"/>
<path fill="#9fff60" d="M127 19h1v1h-1zM128 20h1v1h-1zM126 21h2v1h-2zM134 32h2v1h-2zM113 33h1v1h-1zM133 33h1v1h-1zM136 33h1v1h-1zM113 34h1v1h-1zM133 34h1v1h-1zM136 34h1v1h-1zM133 35h1v1h-1zM136 35h1v1h-1zM114 36h1v1h-1zM133 36h1v1h-1zM136 36h1v1h-1zM114 37h1v1h-1zM133 37h1v1h-1zM136 37h1v1h-1zM133 38h1v1h-1zM136 38h1v1h-1zM113 39h1v1h-1zM133 39h1v1h-1zM136 39h1v1h-1zM113 40h1v1h-1zM133 40h1v1h-1zM136 40h1v1h-1zM134 41h1v1h-1zM112 47h1v1h-1zM112 50h1v1h-1zM112 51h1v1h-1zM142 51h2v1h-2zM141 52h1v1h-1zM144 52h1v1h-1zM113 53h1v1h-1zM145 53h1v1h-1zM113 54h1v1h-1zM146 54h1v1h-1zM113 55h1v1h-1zM113 56h1v1h-1zM113 57h1v1h-1zM137 57h1v1h-1zM152 57h1v1h-1zM113 58h1v1h-1zM151 58h1v1h-1zM113 59h1v1h-1zM138 59h1v1h-1zM149 59h1v1h-1zM113 60h1v1h-1zM139 60h1v1h-1zM147 60h1v1h-1zM156 60h2v1h-2zM140 61h1v1h-1zM146 61h2v1h-2zM153 61h1v1h-1zM115 62h1v1h-1zM141 62h4v1h-4zM117 63h12v1h-12zM144 63h2v1h-2zM129 64h1v1h-1zM145 64h1v1h-1zM130 65h1v1h-1zM145 65h1v1h-1zM131 66h1v1h-1zM145 66h1v1h-1zM145 67h1v1h-1zM132 68h1v1h-1zM145 68h1v1h-1zM132 69h1v1h-1zM145 69h1v1h-1zM132 70h1v1h-1zM145 70h1v1h-1zM132 71h1v1h-1zM145 71h1v1h-1zM132 72h1v1h-1zM145 72h1v1h-1zM133 73h1v1h-1zM144 73h1v1h-1zM117 74h2v1h-2zM120 76h1v1h-1zM115 77h1v1h-1zM139 80h1v1h-1zM138 81h1v1h-1zM138 82h1v1h-1zM138 83h1v1h-1zM138 84h1v1h-1zM138 85h1v1h-1z"/>
<path fill="#afff50" d="M126 19h1v1h-1zM125 20h1v1h-1zM128 21h1v1h-1zM113 31h1v1h-1zM113 32h1v1h-1zM114 35h1v1h-1zM114 38h1v1h-1zM113 41h1v1h-1zM133 41h1v1h-1zM136 41h1v1h-1zM113 42h1v1h-1zM113 43h1v1h-1zM113 44h1v1h-1zM113 45h1v1h-1zM112 48h1v1h-1zM112 49h1v1h-1zM113 51h1v1h-1zM113 52h1v1h-1zM114 53h1v1h-1zM140 53h1v1h-1zM114 54h1v1h-1zM139 54h1v1h-1zM147 54h1v1h-1zM114 55h1v1h-1zM138 55h1v1h-1zM149 55h1v1h-1zM114 56h1v1h-1zM137 56h1v1h-1zM152 56h1v1h-1zM114 57h1v1h-1zM114 58h1v1h-1zM137 58h1v1h-1zM152 58h1v1h-1zM114 59h1v1h-1zM137 59h1v1h-1zM150 59h1v1h-1zM114 60h1v1h-1zM138 60h1v1h-1zM148 60h1v1h-1zM154 60h2v1h-2zM114 61h1v1h-1zM138 61h2v1h-2zM148 61h1v1h-1zM152 61h1v1h-1zM116 62h1v1h-1zM140 62h1v1h-1zM129 63h1v1h-1zM143 63h1v1h-1zM130 64h2v1h-2zM144 64h1v1h-1zM131 65h1v1h-1zM132 66h1v1h-1zM132 67h1v1h-1zM116 75h1v1h-1zM119 75h1v1h-1zM115 76h1v1h-1zM116 77h1v1h-1zM119 77h1v1h-1zM140 80h2v1h-2zM139 81h1v1h-1zM144 81h1v1h-1zM139 82h1v1h-1zM144 82h1v1h-1zM139 83h1v1h-1zM144 83h1v1h-1zM139 84h1v1h-1zM144 84h1v1h-1zM139 85h1v1h-1zM144 85h1v1h-1z"/>
<path fill="#bfff40" d="M126 18h2v1h-2zM128 19h1v1h-1zM129 20h1v1h-1zM125 21h1v1h-1zM113 29h1v1h-1zM113 30h1v1h-1zM133 32h1v1h-1zM136 32h1v1h-1zM132 33h1v1h-1zM137 33h1v1h-1zM114 34h1v1h-1zM132 34h1v1h-1zM137 34h1v1h-1zM132 35h1v1h-1zM137 35h1v1h-1zM115 36h1v1h-1zM132 36h1v1h-1zM137 36h1v1h-1zM115 37h1v1h-1zM132 37h1v1h-1zM137 37h1v1h-1zM132 38h1v1h-1zM137 38h1v1h-1zM114 39h1v1h-1zM132 39h1v1h-1zM137 39h1v1h-1zM132 40h1v1h-1zM137 40h1v1h-1zM113 46h1v1h-1zM113 50h1v1h-1zM142 50h2v1h-2zM141 51h1v1h-1zM144 51h1v1h-1zM114 52h1v1h-1zM140 52h1v1h-1zM145 52h1v1h-1zM146 53h1v1h-1zM150 55h1v1h-1zM136 57h1v1h-1zM153 57h1v1h-1zM136 58h1v1h-1zM153 58h1v1h-1zM151 59h15v1h-15zM137 60h1v1h-1zM149 60h1v1h-1zM153 60h1v1h-1zM115 61h1v1h-1zM137 61h1v1h-1zM149 61h3v1h-3zM117 62h13v1h-13zM138 62h2v1h-2zM130 63h2v1h-2zM140 63h3v1h-3zM132 64h1v1h-1zM132 65h1v1h-1zM144 65h1v1h-1zM144 66h1v1h-1zM133 67h1v1h-1zM144 67h1v1h-1zM133 68h1v1h-1zM144 68h1v1h-1zM133 69h1v1h-1zM144 69h1v1h-1zM133 70h1v1h-1zM144 70h1v1h-1zM133 71h1v1h-1zM144 71h1v1h-1zM133 72h1v1h-1zM144 72h1v1h-1zM134 73h1v1h-1zM143 73h1v1h-1zM117 75h2v1h-2zM119 76h1v1h-1zM117 77h2v1h-2zM142 80h2v1h-2zM140 81h1v1h-1zM140 82h1v1h-1zM140 83h1v1h-1zM140 84h1v1h-1zM140 85h1v1h-1z"/>
<path fill="#cfff30" d="M113 0h1v1h-1zM113 1h1v1h-1zM113 2h1v1h-1zM113 3h1v1h-1zM113 4h1v1h-1zM113 5h1v1h-1zM113 6h1v1h-1zM113 7h1v1h-1zM113 8h1v1h-1zM113 9h1v1h-1zM113 10h1v1h-1zM113 11h1v1h-1zM113 12h1v1h-1zM113 13h1v1h-1zM113 14h1v1h-1zM113 15h1v1h-1zM113 16h1v1h-1zM113 17h1v1h-1zM113 18h1v1h-1zM113 19h1v1h-1zM125 19h1v1h-1zM113 20h1v1h-1zM124 20h1v1h-1zM113 21h1v1h-1zM129 21h1v1h-1zM113 22h1v1h-1zM126 22h2v1h-2zM113 23h1v1h-1zM113 24h1v1h-1zM113 25h1v1h-1zM113 26h1v1h-1zM113 27h1v1h-1zM113 28h1v1h-1zM132 32h1v1h-1zM137 32h1v1h-1zM131 33h1v1h-1zM138 33h1v1h-1zM131 34h1v1h-1zM138 34h1v1h-1zM131 35h1v1h-1zM138 35h1v1h-1zM131 36h1v1h-1zM138 36h1v1h-1zM131 37h1v1h-1zM138 37h1v1h-1zM131 38h1v1h-1zM138 38h1v1h-1zM131 39h1v1h-1zM138 39h1v1h-1zM131 40h1v1h-1zM138 40h1v1h-1zM132 41h1v1h-1zM137 41h1v1h-1zM134 42h2v1h-2zM113 47h1v1h-1zM113 48h1v1h-1zM113 49h1v1h-1zM114 51h1v1h-1zM115 52h1v1h-1zM115 53h1v1h-1zM139 53h1v1h-1zM115 54h1v1h-1zM138 54h1v1h-1zM148 54h1v1h-1zM115 55h1v1h-1zM137 55h1v1h-1zM151 55h1v1h-1zM115 56h1v1h-1zM136 56h1v1h-1zM153 56h1v1h-1zM115 57h1v1h-1zM154 57h1v1h-1zM115 58h1v1h-1zM154 58h2v1h-2zM115 59h1v1h-1zM136 59h1v1h-1zM115 60h1v1h-1zM136 60h1v1h-1zM150 60h3v1h-3zM116 61h11v1h-11zM136 61h1v1h-1zM130 62h2v1h-2zM137 62h1v1h-1zM132 63h1v1h-1zM138 63h2v1h-2zM133 64h1v1h-1zM143 64h1v1h-1zM133 65h1v1h-1zM133 66h1v1h-1zM135 73h8v1h-8zM116 76h3v1h-3zM141 81h1v1h-1zM143 81h1v1h-1zM141 82h1v1h-1zM143 82h1v1h-1zM141 83h1v1h-1zM143 83h1v1h-1zM141 84h1v1h-1zM143 84h1v1h-1zM141 85h1v1h-1zM143 85h1v1h-1z"/>
<path fill="#dfff20" d="M126 17h2v1h-2zM125 18h1v1h-1zM128 18h1v1h-1zM129 19h1v1h-1zM130 20h1v1h-1zM124 21h1v1h-1zM114 32h1v1h-1zM114 33h1v1h-1zM115 35h1v1h-1zM115 38h1v1h-1zM114 40h1v1h-1zM114 41h1v1h-1zM114 42h1v1h-1zM136 42h1v1h-1zM114 43h1v1h-1zM114 44h1v1h-1zM114 45h1v1h-1zM142 49h2v1h-2zM114 50h1v1h-1zM141 50h1v1h-1zM144 50h1v1h-1zM140 51h1v1h-1zM145 51h1v1h-1zM139 52h1v1h-1zM146 52h1v1h-1zM116 53h3v1h-3zM138 53h1v1h-1zM147 53h1v1h-1zM116 54h3v1h-3zM149 54h1v1h-1zM116 55h3v1h-3zM152 55h1v1h-1zM116 56h3v1h-3zM135 56h1v1h-1zM116 57h3v1h-3zM135 57h1v1h-1zM116 58h3v1h-3zM135 58h1v1h-1zM156 58h1v1h-1zM116 59h3v1h-3zM135 59h1v1h-1zM116 60h4v1h-4zM134 60h2v1h-2zM127 61h9v1h-9zM132 62h5v1h-5zM133 63h5v1h-5zM134 64h9v1h-9zM134 65h10v1h-10zM134 66h10v1h-10zM134 67h10v1h-10zM134 68h10v1h-10zM134 69h10v1h-10zM134 70h10v1h-10zM134 71h10v1h-10zM134 72h10v1h-10zM142 81h1v1h-1zM142 82h1v1h-1zM142 83h1v1h-1zM142 84h1v1h-1zM142 85h1v1h-1z"/>
<path fill="#efff10" d="M142 17h2v1h-2zM142 18h2v1h-2zM124 19h1v1h-1zM142 19h2v1h-2zM142 20h2v1h-2zM130 21h1v1h-1zM125 22h1v1h-1zM128 22h1v1h-1zM114 31h1v1h-1zM134 31h2v1h-2zM131 32h1v1h-1zM138 32h1v1h-1zM130 33h1v1h-1zM139 33h1v1h-1zM115 34h1v1h-1zM130 34h1v1h-1zM139 34h1v1h-1zM130 35h1v1h-1zM139 35h1v1h-1zM116 36h3v1h-3zM130 36h1v1h-1zM139 36h1v1h-1zM116 37h3v1h-3zM130 37h1v1h-1zM139 37h1v1h-1zM130 38h1v1h-1zM139 38h1v1h-1zM115 39h1v1h-1zM130 39h1v1h-1zM139 39h1v1h-1zM130 40h1v1h-1zM139 40h1v1h-1zM131 41h1v1h-1zM138 41h1v1h-1zM133 42h1v1h-1zM137 42h1v1h-1zM114 46h1v1h-1zM114 47h1v1h-1zM141 49h1v1h-1zM140 50h1v1h-1zM115 51h1v1h-1zM139 51h1v1h-1zM116 52h3v1h-3zM119 53h1v1h-1zM119 54h1v1h-1zM137 54h1v1h-1zM119 55h1v1h-1zM136 55h1v1h-1zM153 55h1v1h-1zM119 56h1v1h-1zM154 56h1v1h-1zM119 57h1v1h-1zM134 57h1v1h-1zM155 57h1v1h-1zM119 58h2v1h-2zM133 58h2v1h-2zM157 58h1v1h-1zM119 59h3v1h-3zM132 59h3v1h-3zM120 60h14v1h-14z"/>
<path fill="#ffff00" d="M126 16h2v1h-2zM142 16h2v1h-2zM125 17h1v1h-1zM128 17h1v1h-1zM141 17h1v1h-1zM124 18h1v1h-1zM129 18h1v1h-1zM141 18h1v1h-1zM130 19h1v1h-1zM141 19h1v1h-1zM123 20h1v1h-1zM131 20h1v1h-1zM141 20h1v1h-1zM123 21h1v1h-1zM131 21h1v1h-1zM142 21h2v1h-2zM129 22h1v1h-1zM114 29h1v1h-1zM114 30h1v1h-1zM133 31h1v1h-1zM136 31h1v1h-1zM116 35h1v1h-1zM119 36h1v1h-1zM119 37h1v1h-1zM116 38h1v1h-1zM130 41h1v1h-1zM139 41h1v1h-1zM132 42h1v1h-1zM114 48h1v1h-1zM142 48h2v1h-2zM114 49h1v1h-1zM140 49h1v1h-1zM144 49h1v1h-1zM115 50h1v1h-1zM139 50h1v1h-1zM145 50h1v1h-1zM146 51h1v1h-1zM119 52h1v1h-1zM138 52h1v1h-1zM147 52h1v1h-1zM120 53h1v1h-1zM137 53h1v1h-1zM148 53h1v1h-1zM120 54h1v1h-1zM136 54h1v1h-1zM150 54h1v1h-1zM120 55h1v1h-1zM135 55h1v1h-1zM120 56h1v1h-1zM134 56h1v1h-1zM155 56h1v1h-1zM120 57h2v1h-2zM132 57h2v1h-2zM156 57h1v1h-1zM121 58h2v1h-2zM131 58h2v1h-2zM158 58h8v1h-8zM122 59h3v1h-3zM129 59h3v1h-3z"/>
<path fill="#ffef00" d="M114 0h1v1h-1zM114 1h1v1h-1zM114 2h1v1h-1zM114 3h1v1h-1zM114 4h1v1h-1zM114 5h1v1h-1zM114 6h1v1h-1zM114 7h1v1h-1zM114 8h1v1h-1zM114 9h1v1h-1zM114 10h1v1h-1zM114 11h1v1h-1zM114 12h1v1h-1zM114 13h1v1h-1zM114 14h1v1h-1zM114 15h1v1h-1zM114 16h1v1h-1zM125 16h1v1h-1zM128 16h1v1h-1zM141 16h1v1h-1zM114 17h1v1h-1zM124 17h1v1h-1zM129 17h1v1h-1zM144 17h1v1h-1zM114 18h1v1h-1zM130 18h1v1h-1zM144 18h1v1h-1zM114 19h1v1h-1zM123 19h1v1h-1zM131 19h1v1h-1zM140 19h1v1h-1zM144 19h1v1h-1zM114 20h1v1h-1zM140 20h1v1h-1zM144 20h1v1h-1zM114 21h1v1h-1zM141 21h1v1h-1zM114 22h1v1h-1zM124 22h1v1h-1zM130 22h1v1h-1zM114 23h1v1h-1zM126 23h2v1h-2zM114 24h1v1h-1zM114 25h1v1h-1zM114 26h1v1h-1zM114 27h1v1h-1zM114 28h1v1h-1zM132 31h1v1h-1zM137 31h1v1h-1zM130 32h1v1h-1zM139 32h1v1h-1zM115 33h1v1h-1zM129 33h1v1h-1zM140 33h1v1h-1zM129 34h1v1h-1zM140 34h1v1h-1zM117 35h2v1h-2zM129 35h1v1h-1zM140 35h1v1h-1zM120 36h2v1h-2zM129 36h1v1h-1zM140 36h1v1h-1zM120 37h2v1h-2zM129 37h1v1h-1zM140 37h1v1h-1zM117 38h2v1h-2zM129 38h1v1h-1zM140 38h1v1h-1zM129 39h1v1h-1zM140 39h1v1h-1zM115 40h1v1h-1zM129 40h1v1h-1zM140 40h1v1h-1zM115 41h1v1h-1zM115 42h1v1h-1zM131 42h1v1h-1zM138 42h1v1h-1zM115 43h1v1h-1zM134 43h3v1h-3zM115 44h1v1h-1zM140 48h2v1h-2zM144 48h1v1h-1zM139 49h1v1h-1zM145 49h1v1h-1zM138 50h1v1h-1zM146 50h1v1h-1zM116 51h3v1h-3zM138 51h1v1h-1zM147 51h1v1h-1zM120 52h1v1h-1zM149 53h1v1h-1zM151 54h2v1h-2zM121 55h1v1h-1zM154 55h1v1h-1zM121 56h1v1h-1zM133 56h1v1h-1zM122 57h1v1h-1zM131 57h1v1h-1zM123 58h1v1h-1zM130 58h1v1h-1zM125 59h4v1h-4z"/>
<path fill="#ffdf00" d="M126 15h2v1h-2zM142 15h2v1h-2zM144 16h1v1h-1zM140 17h1v1h-1zM123 18h1v1h-1zM140 18h1v1h-1zM139 19h1v1h-1zM145 19h1v1h-1zM122 20h1v1h-1zM132 20h1v1h-1zM139 20h1v1h-1zM145 20h1v1h-1zM122 21h1v1h-1zM132 21h1v1h-1zM140 21h1v1h-1zM144 21h1v1h-1zM123 22h1v1h-1zM125 23h1v1h-1zM128 23h1v1h-1zM131 31h1v1h-1zM138 31h1v1h-1zM115 32h1v1h-1zM129 32h1v1h-1zM140 32h1v1h-1zM116 34h1v1h-1zM119 35h2v1h-2zM122 36h1v1h-1zM122 37h1v1h-1zM119 38h2v1h-2zM116 39h1v1h-1zM129 41h1v1h-1zM140 41h1v1h-1zM139 42h1v1h-1zM133 43h1v1h-1zM137 43h1v1h-1zM115 45h1v1h-1zM115 46h1v1h-1zM115 47h1v1h-1zM141 47h3v1h-3zM115 48h1v1h-1zM139 48h1v1h-1zM115 49h1v1h-1zM138 49h1v1h-1zM116 50h1v1h-1zM119 51h1v1h-1zM137 51h1v1h-1zM137 52h1v1h-1zM148 52h1v1h-1zM121 53h1v1h-1zM136 53h1v1h-1zM121 54h1v1h-1zM135 54h1v1h-1zM153 54h1v1h-1zM122 55h1v1h-1zM133 55h2v1h-2zM155 55h1v1h-1zM122 56h1v1h-1zM132 56h1v1h-1zM156 56h1v1h-1zM123 57h1v1h-1zM130 57h1v1h-1zM157 57h1v1h-1zM124 58h2v1h-2zM128 58h2v1h-2z"/>
<path fill="#ffcf00" d="M125 15h1v1h-1zM128 15h1v1h-1zM141 15h1v1h-1zM144 15h1v1h-1zM124 16h1v1h-1zM129 16h1v1h-1zM140 16h1v1h-1zM123 17h1v1h-1zM130 17h1v1h-1zM139 17h1v1h-1zM145 17h1v1h-1zM131 18h1v1h-1zM139 18h1v1h-1zM145 18h1v1h-1zM122 19h1v1h-1zM132 19h1v1h-1zM138 20h1v1h-1zM139 21h1v1h-1zM145 21h1v1h-1zM131 22h1v1h-1zM142 22h2v1h-2zM124 23h1v1h-1zM129 23h1v1h-1zM115 30h1v1h-1zM134 30h2v1h-2zM115 31h1v1h-1zM130 31h1v1h-1zM139 31h1v1h-1zM128 33h1v1h-1zM141 33h1v1h-1zM117 34h3v1h-3zM128 34h1v1h-1zM141 34h1v1h-1zM121 35h2v1h-2zM128 35h1v1h-1zM141 35h1v1h-1zM123 36h1v1h-1zM128 36h1v1h-1zM141 36h1v1h-1zM123 37h1v1h-1zM128 37h1v1h-1zM141 37h1v1h-1zM121 38h2v1h-2zM128 38h1v1h-1zM141 38h1v1h-1zM117 39h3v1h-3zM128 39h1v1h-1zM141 39h1v1h-1zM128 40h1v1h-1zM141 40h1v1h-1zM130 42h1v1h-1zM140 42h1v1h-1zM132 43h1v1h-1zM138 43h1v1h-1zM142 46h1v1h-1zM139 47h2v1h-2zM144 47h1v1h-1zM138 48h1v1h-1zM145 48h1v1h-1zM137 49h1v1h-1zM146 49h1v1h-1zM117 50h2v1h-2zM137 50h1v1h-1zM147 50h1v1h-1zM120 51h1v1h-1zM148 51h1v1h-1zM121 52h1v1h-1zM136 52h1v1h-1zM122 53h1v1h-1zM150 53h1v1h-1zM122 54h1v1h-1zM154 54h1v1h-1zM132 55h1v1h-1zM156 55h1v1h-1zM123 56h1v1h-1zM130 56h2v1h-2zM124 57h1v1h-1zM129 57h1v1h-1zM158 57h1v1h-1zM126 58h2v1h-2z"/>
<path fill="#ffbf00" d="M115 0h1v1h-1zM115 1h1v1h-1zM115 2h1v1h-1zM115 3h1v1h-1zM115 4h1v1h-1zM115 5h1v1h-1zM115 6h1v1h-1zM115 7h1v1h-1zM115 8h1v1h-1zM115 9h1v1h-1zM115 10h1v1h-1zM115 11h1v1h-1zM115 12h1v1h-1zM115 13h1v1h-1zM115 14h1v1h-1zM125 14h4v1h-4zM141 14h3v1h-3zM115 15h1v1h-1zM124 15h1v1h-1zM129 15h1v1h-1zM140 15h1v1h-1zM115 16h1v1h-1zM123 16h1v1h-1zM130 16h1v1h-1zM139 16h1v1h-1zM145 16h1v1h-1zM115 17h1v1h-1zM122 17h1v1h-1zM131 17h1v1h-1zM115 18h1v1h-1zM122 18h1v1h-1zM132 18h1v1h-1zM138 18h1v1h-1zM146 18h1v1h-1zM115 19h1v1h-1zM138 19h1v1h-1zM146 19h1v1h-1zM115 20h1v1h-1zM121 20h1v1h-1zM133 20h1v1h-1zM137 20h1v1h-1zM146 20h1v1h-1zM115 21h1v1h-1zM133 21h1v1h-1zM137 21h2v1h-2zM146 21h1v1h-1zM115 22h1v1h-1zM122 22h1v1h-1zM132 22h1v1h-1zM140 22h2v1h-2zM144 22h1v1h-1zM115 23h1v1h-1zM130 23h1v1h-1zM115 24h1v1h-1zM127 24h1v1h-1zM115 25h1v1h-1zM115 26h1v1h-1zM115 27h1v1h-1zM115 28h1v1h-1zM115 29h1v1h-1zM133 30h1v1h-1zM136 30h1v1h-1zM128 32h1v1h-1zM141 32h1v1h-1zM116 33h1v1h-1zM120 34h3v1h-3zM123 35h1v1h-1zM124 36h1v1h-1zM124 37h1v1h-1zM123 38h1v1h-1zM120 39h3v1h-3zM116 40h1v1h-1zM128 41h1v1h-1zM141 41h1v1h-1zM129 42h1v1h-1zM141 42h1v1h-1zM131 43h1v1h-1zM139 43h2v1h-2zM134 44h2v1h-2zM139 46h3v1h-3zM143 46h2v1h-2zM138 47h1v1h-1zM145 47h1v1h-1zM137 48h1v1h-1zM146 48h1v1h-1zM116 49h1v1h-1zM136 49h1v1h-1zM147 49h1v1h-1zM119 50h2v1h-2zM136 50h1v1h-1zM148 50h1v1h-1zM121 51h1v1h-1zM136 51h1v1h-1zM122 52h1v1h-1zM149 52h1v1h-1zM135 53h1v1h-1zM151 53h1v1h-1zM123 54h1v1h-1zM133 54h2v1h-2zM155 54h2v1h-2zM123 55h1v1h-1zM131 55h1v1h-1zM157 55h1v1h-1zM124 56h1v1h-1zM129 56h1v1h-1zM157 56h1v1h-1zM125 57h1v1h-1zM128 57h1v1h-1zM159 57h7v1h-7z"/>
<path fill="#ffaf00" d="M126 13h2v1h-2zM142 13h2v1h-2zM124 14h1v1h-1zM129 14h1v1h-1zM140 14h1v1h-1zM144 14h1v1h-1zM123 15h1v1h-1zM130 15h1v1h-1zM139 15h1v1h-1zM145 15h1v1h-1zM122 16h1v1h-1zM131 16h1v1h-1zM138 16h1v1h-1zM146 16h1v1h-1zM138 17h1v1h-1zM146 17h1v1h-1zM121 18h1v1h-1zM137 18h1v1h-1zM121 19h1v1h-1zM133 19h1v1h-1zM137 19h1v1h-1zM136 20h1v1h-1zM147 20h1v1h-1zM121 21h1v1h-1zM136 21h1v1h-1zM133 22h1v1h-1zM138 22h2v1h-2zM145 22h1v1h-1zM123 23h1v1h-1zM131 23h1v1h-1zM125 24h2v1h-2zM128 24h1v1h-1zM131 30h2v1h-2zM137 30h2v1h-2zM129 31h1v1h-1zM140 31h1v1h-1zM116 32h1v1h-1zM117 33h5v1h-5zM127 33h1v1h-1zM142 33h1v1h-1zM123 34h2v1h-2zM127 34h1v1h-1zM142 34h1v1h-1zM124 35h2v1h-2zM127 35h1v1h-1zM142 35h1v1h-1zM125 36h1v1h-1zM127 36h1v1h-1zM142 36h1v1h-1zM125 37h1v1h-1zM127 37h1v1h-1zM142 37h1v1h-1zM124 38h2v1h-2zM127 38h1v1h-1zM142 38h1v1h-1zM123 39h2v1h-2zM127 39h1v1h-1zM142 39h1v1h-1zM117 40h5v1h-5zM127 40h1v1h-1zM142 40h1v1h-1zM116 41h1v1h-1zM142 41h1v1h-1zM116 42h1v1h-1zM128 42h1v1h-1zM142 42h1v1h-1zM116 43h1v1h-1zM130 43h1v1h-1zM141 43h1v1h-1zM116 44h1v1h-1zM133 44h1v1h-1zM136 44h5v1h-5zM116 45h1v1h-1zM140 45h4v1h-4zM116 46h1v1h-1zM137 46h2v1h-2zM145 46h1v1h-1zM116 47h1v1h-1zM136 47h2v1h-2zM146 47h1v1h-1zM116 48h1v1h-1zM136 48h1v1h-1zM147 48h1v1h-1zM117 49h3v1h-3zM121 50h1v1h-1zM135 50h1v1h-1zM122 51h1v1h-1zM135 51h1v1h-1zM149 51h1v1h-1zM123 52h1v1h-1zM135 52h1v1h-1zM123 53h1v1h-1zM134 53h1v1h-1zM152 53h5v1h-5zM124 54h1v1h-1zM132 54h1v1h-1zM157 54h1v1h-1zM124 55h1v1h-1zM130 55h1v1h-1zM158 55h1v1h-1zM125 56h1v1h-1zM128 56h1v1h-1zM158 56h1v1h-1zM126 57h2v1h-2z"/>
<path fill="#ff9f00" d="M134 0h2v1h-2zM134 1h2v1h-2zM134 2h2v1h-2zM134 3h2v1h-2zM134 4h2v1h-2zM134 5h2v1h-2zM134 6h2v1h-2zM134 7h3v1h-3zM134 8h8v1h-8zM136 9h8v1h-8zM141 10h3v1h-3zM142 11h2v1h-2zM142 12h2v1h-2zM125 13h1v1h-1zM128 13h1v1h-1zM141 13h1v1h-1zM144 13h1v1h-1zM123 14h1v1h-1zM130 14h1v1h-1zM139 14h1v1h-1zM145 14h1v1h-1zM122 15h1v1h-1zM131 15h1v1h-1zM138 15h1v1h-1zM146 15h1v1h-1zM121 17h1v1h-1zM132 17h1v1h-1zM137 17h1v1h-1zM133 18h1v1h-1zM147 18h1v1h-1zM136 19h1v1h-1zM147 19h1v1h-1zM120 20h1v1h-1zM134 20h2v1h-2zM134 21h2v1h-2zM147 21h1v1h-1zM121 22h1v1h-1zM137 22h1v1h-1zM146 22h1v1h-1zM122 23h1v1h-1zM132 23h1v1h-1zM140 23h5v1h-5zM124 24h1v1h-1zM129 24h2v1h-2zM158 29h8v1h-8zM130 30h1v1h-1zM139 30h1v1h-1zM158 30h8v1h-8zM116 31h1v1h-1zM128 31h1v1h-1zM141 31h1v1h-1zM158 31h8v1h-8zM127 32h1v1h-1zM142 32h1v1h-1zM158 32h8v1h-8zM122 33h5v1h-5zM143 33h1v1h-1zM158 33h8v1h-8zM125 34h2v1h-2zM143 34h1v1h-1zM158 34h8v1h-8zM126 35h1v1h-1zM143 35h1v1h-1zM158 35h8v1h-8zM126 36h1v1h-1zM143 36h1v1h-1zM158 36h8v1h-8zM126 37h1v1h-1zM143 37h1v1h-1zM158 37h8v1h-8zM126 38h1v1h-1zM143 38h1v1h-1zM158 38h8v1h-8zM125 39h2v1h-2zM143 39h1v1h-1zM158 39h8v1h-8zM122 40h5v1h-5zM143 40h1v1h-1zM158 40h8v1h-8zM117 41h9v1h-9zM127 41h1v1h-1zM143 41h1v1h-1zM158 41h8v1h-8zM117 42h4v1h-4zM143 42h1v1h-1zM158 42h8v1h-8zM117 43h3v1h-3zM129 43h1v1h-1zM142 43h2v1h-2zM158 43h8v1h-8zM117 44h3v1h-3zM131 44h2v1h-2zM141 44h3v1h-3zM158 44h8v1h-8zM117 45h3v1h-3zM134 45h6v1h-6zM144 45h1v1h-1zM158 45h8v1h-8zM117 46h3v1h-3zM134 46h3v1h-3zM146 46h1v1h-1zM158 46h8v1h-8zM117 47h3v1h-3zM134 47h2v1h-2zM147 47h1v1h-1zM158 47h8v1h-8zM117 48h3v1h-3zM134 48h2v1h-2zM158 48h8v1h-8zM120 49h1v1h-1zM134 49h2v1h-2zM148 49h1v1h-1zM158 49h8v1h-8zM122 50h1v1h-1zM134 50h1v1h-1zM149 50h1v1h-1zM158 50h8v1h-8zM123 51h1v1h-1zM134 51h1v1h-1zM157 51h9v1h-9zM134 52h1v1h-1zM150 52h1v1h-1zM152 52h14v1h-14zM124 53h1v1h-1zM132 53h2v1h-2zM157 53h9v1h-9zM130 54h2v1h-2zM158 54h8v1h-8zM125 55h1v1h-1zM128 55h2v1h-2zM159 55h7v1h-7zM126 56h2v1h-2zM159 56h7v1h-7z"/>
<path fill="#ff8f00" d="M132 0h2v1h-2zM136 0h2v1h-2zM132 1h2v1h-2zM136 1h2v1h-2zM132 2h2v1h-2zM136 2h2v1h-2zM132 3h2v1h-2zM136 3h2v1h-2zM132 4h2v1h-2zM136 4h2v1h-2zM132 5h2v1h-2zM136 5h2v1h-2zM132 6h2v1h-2zM136 6h4v1h-4zM132 7h2v1h-2zM137 7h6v1h-6zM132 8h2v1h-2zM142 8h3v1h-3zM132 9h4v1h-4zM144 9h2v1h-2zM135 10h6v1h-6zM144 10h2v1h-2zM138 11h4v1h-4zM144 11h2v1h-2zM125 12h5v1h-5zM140 12h2v1h-2zM144 12h2v1h-2zM123 13h2v1h-2zM129 13h2v1h-2zM139 13h2v1h-2zM145 13h2v1h-2zM122 14h1v1h-1zM131 14h1v1h-1zM138 14h1v1h-1zM146 14h1v1h-1zM121 15h1v1h-1zM132 15h1v1h-1zM137 15h1v1h-1zM147 15h1v1h-1zM121 16h1v1h-1zM132 16h1v1h-1zM137 16h1v1h-1zM147 16h1v1h-1zM133 17h1v1h-1zM136 17h1v1h-1zM147 17h1v1h-1zM120 18h1v1h-1zM136 18h1v1h-1zM120 19h1v1h-1zM134 19h2v1h-2zM148 19h1v1h-1zM148 20h1v1h-1zM157 20h9v1h-9zM120 21h1v1h-1zM148 21h1v1h-1zM157 21h9v1h-9zM120 22h1v1h-1zM134 22h3v1h-3zM147 22h1v1h-1zM121 23h1v1h-1zM133 23h1v1h-1zM138 23h2v1h-2zM145 23h2v1h-2zM122 24h2v1h-2zM131 24h1v1h-1zM125 25h4v1h-4zM157 28h9v1h-9zM156 29h2v1h-2zM116 30h1v1h-1zM128 30h2v1h-2zM140 30h2v1h-2zM156 30h2v1h-2zM127 31h1v1h-1zM142 31h1v1h-1zM156 31h2v1h-2zM117 32h10v1h-10zM143 32h2v1h-2zM156 32h2v1h-2zM144 33h2v1h-2zM156 33h2v1h-2zM144 34h2v1h-2zM156 34h2v1h-2zM144 35h2v1h-2zM156 35h2v1h-2zM144 36h2v1h-2zM156 36h2v1h-2zM144 37h2v1h-2zM156 37h2v1h-2zM144 38h2v1h-2zM156 38h2v1h-2zM144 39h2v1h-2zM156 39h2v1h-2zM144 40h2v1h-2zM156 40h2v1h-2zM126 41h1v1h-1zM144 41h2v1h-2zM156 41h2v1h-2zM121 42h7v1h-7zM144 42h2v1h-2zM156 42h2v1h-2zM120 43h4v1h-4zM128 43h1v1h-1zM144 43h2v1h-2zM156 43h2v1h-2zM120 44h2v1h-2zM130 44h1v1h-1zM144 44h2v1h-2zM156 44h2v1h-2zM120 45h2v1h-2zM132 45h2v1h-2zM145 45h2v1h-2zM156 45h2v1h-2zM120 46h2v1h-2zM132 46h2v1h-2zM147 46h1v1h-1zM156 46h2v1h-2zM120 47h2v1h-2zM132 47h2v1h-2zM148 47h1v1h-1zM156 47h2v1h-2zM120 48h2v1h-2zM132 48h2v1h-2zM148 48h1v1h-1zM156 48h2v1h-2zM121 49h2v1h-2zM132 49h2v1h-2zM149 49h1v1h-1zM156 49h2v1h-2zM123 50h1v1h-1zM132 50h2v1h-2zM154 50h4v1h-4zM124 51h1v1h-1zM132 51h2v1h-2zM150 51h7v1h-7zM124 52h1v1h-1zM132 52h2v1h-2zM151 52h1v1h-1zM125 53h1v1h-1zM131 53h1v1h-1zM125 54h1v1h-1zM128 54h2v1h-2zM126 55h2v1h-2z"/>
<path fill="#ff8000" d="M116 0h1v1h-1zM130 0h2v1h-2zM138 0h2v1h-2zM116 1h1v1h-1zM130 1h2v1h-2zM138 1h2v1h-2zM116 2h1v1h-1zM130 2h2v1h-2zM138 2h2v1h-2zM116 3h1v1h-1zM130 3h2v1h-2zM138 3h2v1h-2zM116 4h1v1h-1zM130 4h2v1h-2zM138 4h2v1h-2zM116 5h1v1h-1zM130 5h2v1h-2zM138 5h3v1h-3zM116 6h1v1h-1zM130 6h2v1h-2zM140 6h3v1h-3zM116 7h1v1h-1zM130 7h2v1h-2zM143 7h3v1h-3zM116 8h1v1h-1zM130 8h2v1h-2zM145 8h3v1h-3zM116 9h1v1h-1zM130 9h2v1h-2zM146 9h2v1h-2zM116 10h1v1h-1zM127 10h8v1h-8zM146 10h2v1h-2zM116 11h1v1h-1zM124 11h14v1h-14zM146 11h2v1h-2zM116 12h1v1h-1zM122 12h3v1h-3zM130 12h2v1h-2zM137 12h3v1h-3zM146 12h2v1h-2zM116 13h1v1h-1zM121 13h2v1h-2zM131 13h2v1h-2zM137 13h2v1h-2zM147 13h1v1h-1zM116 14h1v1h-1zM121 14h1v1h-1zM132 14h1v1h-1zM137 14h1v1h-1zM147 14h1v1h-1zM116 15h1v1h-1zM120 15h1v1h-1zM133 15h1v1h-1zM136 15h1v1h-1zM116 16h1v1h-1zM120 16h1v1h-1zM133 16h1v1h-1zM136 16h1v1h-1zM116 17h1v1h-1zM120 17h1v1h-1zM116 18h1v1h-1zM134 18h2v1h-2zM148 18h1v1h-1zM159 18h7v1h-7zM116 19h1v1h-1zM157 19h9v1h-9zM116 20h1v1h-1zM149 20h1v1h-1zM155 20h2v1h-2zM116 21h1v1h-1zM149 21h1v1h-1zM154 21h3v1h-3zM116 22h1v1h-1zM148 22h1v1h-1zM156 22h10v1h-10zM116 23h1v1h-1zM120 23h1v1h-1zM134 23h4v1h-4zM147 23h1v1h-1zM159 23h7v1h-7zM116 24h1v1h-1zM121 24h1v1h-1zM132 24h2v1h-2zM116 25h1v1h-1zM122 25h3v1h-3zM129 25h3v1h-3zM116 26h1v1h-1zM124 26h6v1h-6zM159 26h7v1h-7zM116 27h1v1h-1zM156 27h10v1h-10zM116 28h1v1h-1zM154 28h3v1h-3zM116 29h1v1h-1zM131 29h8v1h-8zM154 29h2v1h-2zM117 30h11v1h-11zM142 30h1v1h-1zM154 30h2v1h-2zM117 31h10v1h-10zM143 31h3v1h-3zM154 31h2v1h-2zM145 32h3v1h-3zM154 32h2v1h-2zM146 33h2v1h-2zM154 33h2v1h-2zM146 34h2v1h-2zM154 34h2v1h-2zM146 35h2v1h-2zM154 35h2v1h-2zM146 36h2v1h-2zM154 36h2v1h-2zM146 37h2v1h-2zM154 37h2v1h-2zM146 38h2v1h-2zM154 38h2v1h-2zM146 39h2v1h-2zM154 39h2v1h-2zM146 40h2v1h-2zM154 40h2v1h-2zM146 41h2v1h-2zM154 41h2v1h-2zM146 42h2v1h-2zM154 42h2v1h-2zM124 43h4v1h-4zM146 43h2v1h-2zM154 43h2v1h-2zM122 44h3v1h-3zM128 44h2v1h-2zM146 44h2v1h-2zM154 44h2v1h-2zM122 45h2v1h-2zM130 45h2v1h-2zM147 45h2v1h-2zM154 45h2v1h-2zM122 46h2v1h-2zM130 46h2v1h-2zM148 46h1v1h-1zM154 46h2v1h-2zM122 47h2v1h-2zM130 47h2v1h-2zM149 47h1v1h-1zM154 47h2v1h-2zM122 48h2v1h-2zM130 48h2v1h-2zM149 48h1v1h-1zM154 48h2v1h-2zM123 49h2v1h-2zM130 49h2v1h-2zM153 49h3v1h-3zM124 50h1v1h-1zM130 50h2v1h-2zM150 50h4v1h-4zM125 51h1v1h-1zM130 51h2v1h-2zM125 52h1v1h-1zM130 52h2v1h-2zM129 53h2v1h-2zM126 54h2v1h-2z"/>
<path fill="#ff7000" d="M128 0h2v1h-2zM140 0h2v1h-2zM128 1h2v1h-2zM140 1h2v1h-2zM128 2h2v1h-2zM140 2h2v1h-2zM128 3h2v1h-2zM140 3h2v1h-2zM128 4h2v1h-2zM140 4h2v1h-2zM128 5h2v1h-2zM141 5h3v1h-3zM128 6h2v1h-2zM143 6h6v1h-6zM128 7h2v1h-2zM146 7h4v1h-4zM128 8h2v1h-2zM148 8h2v1h-2zM126 9h4v1h-4zM148 9h2v1h-2zM121 10h6v1h-6zM148 10h2v1h-2zM120 11h4v1h-4zM148 11h2v1h-2zM120 12h2v1h-2zM132 12h5v1h-5zM148 12h2v1h-2zM120 13h1v1h-1zM133 13h1v1h-1zM136 13h1v1h-1zM148 13h2v1h-2zM120 14h1v1h-1zM133 14h1v1h-1zM136 14h1v1h-1zM148 14h1v1h-1zM119 15h1v1h-1zM134 15h2v1h-2zM148 15h1v1h-1zM119 16h1v1h-1zM134 16h2v1h-2zM148 16h1v1h-1zM119 17h1v1h-1zM134 17h2v1h-2zM148 17h1v1h-1zM159 17h7v1h-7zM119 18h1v1h-1zM157 18h2v1h-2zM119 19h1v1h-1zM149 19h1v1h-1zM155 19h2v1h-2zM119 20h1v1h-1zM153 20h2v1h-2zM119 21h1v1h-1zM150 21h1v1h-1zM152 21h2v1h-2zM119 22h1v1h-1zM149 22h2v1h-2zM152 22h4v1h-4zM119 23h1v1h-1zM148 23h2v1h-2zM153 23h6v1h-6zM120 24h1v1h-1zM134 24h15v1h-15zM158 24h8v1h-8zM120 25h2v1h-2zM132 25h2v1h-2zM158 25h8v1h-8zM120 26h4v1h-4zM130 26h4v1h-4zM153 26h6v1h-6zM121 27h12v1h-12zM152 27h4v1h-4zM126 28h2v1h-2zM152 28h2v1h-2zM117 29h14v1h-14zM139 29h5v1h-5zM152 29h2v1h-2zM143 30h6v1h-6zM152 30h2v1h-2zM146 31h4v1h-4zM152 31h2v1h-2zM148 32h2v1h-2zM152 32h2v1h-2zM148 33h2v1h-2zM152 33h2v1h-2zM148 34h2v1h-2zM152 34h2v1h-2zM148 35h2v1h-2zM152 35h2v1h-2zM148 36h2v1h-2zM152 36h2v1h-2zM148 37h2v1h-2zM152 37h2v1h-2zM148 38h2v1h-2zM152 38h2v1h-2zM148 39h2v1h-2zM152 39h2v1h-2zM148 40h2v1h-2zM152 40h2v1h-2zM148 41h2v1h-2zM152 41h2v1h-2zM148 42h2v1h-2zM152 42h2v1h-2zM148 43h2v1h-2zM152 43h2v1h-2zM125 44h3v1h-3zM148 44h2v1h-2zM152 44h2v1h-2zM124 45h2v1h-2zM128 45h2v1h-2zM149 45h1v1h-1zM152 45h2v1h-2zM124 46h2v1h-2zM128 46h2v1h-2zM149 46h1v1h-1zM152 46h2v1h-2zM124 47h2v1h-2zM128 47h2v1h-2zM150 47h1v1h-1zM152 47h2v1h-2zM124 48h2v1h-2zM128 48h2v1h-2zM150 48h1v1h-1zM152 48h2v1h-2zM125 49h1v1h-1zM128 49h2v1h-2zM150 49h3v1h-3zM125 50h1v1h-1zM128 50h2v1h-2zM126 51h1v1h-1zM128 51h2v1h-2zM126 52h1v1h-1zM128 52h2v1h-2zM126 53h3v1h-3z"/>
<path fill="#ff6000" d="M117 0h11v1h-11zM142 0h24v1h-24zM117 1h11v1h-11zM142 1h24v1h-24zM117 2h11v1h-11zM142 2h24v1h-24zM117 3h11v1h-11zM142 3h24v1h-24zM117 4h11v1h-11zM142 4h24v1h-24zM117 5h11v1h-11zM144 5h22v1h-22zM117 6h11v1h-11zM149 6h17v1h-17zM117 7h11v1h-11zM150 7h16v1h-16zM117 8h11v1h-11zM150 8h16v1h-16zM117 9h9v1h-9zM150 9h16v1h-16zM117 10h4v1h-4zM150 10h16v1h-16zM117 11h3v1h-3zM150 11h16v1h-16zM117 12h3v1h-3zM150 12h16v1h-16zM117 13h3v1h-3zM134 13h2v1h-2zM150 13h16v1h-16zM117 14h3v1h-3zM134 14h2v1h-2zM149 14h1v1h-1zM156 14h10v1h-10zM117 15h2v1h-2zM149 15h1v1h-1zM157 15h9v1h-9zM117 16h2v1h-2zM158 16h8v1h-8zM117 17h2v1h-2zM149 17h1v1h-1zM157 17h2v1h-2zM117 18h2v1h-2zM149 18h1v1h-1zM155 18h2v1h-2zM117 19h2v1h-2zM153 19h2v1h-2zM117 20h2v1h-2zM150 20h3v1h-3zM117 21h2v1h-2zM151 21h1v1h-1zM117 22h2v1h-2zM151 22h1v1h-1zM117 23h2v1h-2zM150 23h3v1h-3zM117 24h3v1h-3zM149 24h9v1h-9zM117 25h3v1h-3zM134 25h24v1h-24zM117 26h3v1h-3zM134 26h19v1h-19zM117 27h4v1h-4zM133 27h19v1h-19zM117 28h9v1h-9zM128 28h24v1h-24zM144 29h8v1h-8zM149 30h3v1h-3zM150 31h2v1h-2zM150 32h2v1h-2zM150 33h2v1h-2zM150 34h2v1h-2zM150 35h2v1h-2zM150 36h2v1h-2zM150 37h2v1h-2zM150 38h2v1h-2zM150 39h2v1h-2zM150 40h2v1h-2zM150 41h2v1h-2zM150 42h2v1h-2zM150 43h2v1h-2zM150 44h2v1h-2zM126 45h2v1h-2zM150 45h2v1h-2zM126 46h2v1h-2zM150 46h2v1h-2zM126 47h2v1h-2zM151 47h1v1h-1zM126 48h2v1h-2zM151 48h1v1h-1zM126 49h2v1h-2zM126 50h2v1h-2zM127 51h1v1h-1zM127 52h1v1h-1z"/>
<path fill="#ff5000" d="M150 14h6v1h-6zM154 15h3v1h-3zM149 16h1v1h-1zM155 16h3v1h-3zM155 17h2v1h-2zM150 18h1v1h-1zM153 18h2v1h-2zM150 19h3v1h-3z"/>
<path fill="#ff4000" d="M150 15h4v1h-4zM150 16h1v1h-1zM153 16h2v1h-2zM150 17h1v1h-1zM153 17h2v1h-2zM151 18h2v1h-2z"/>
<path fill="#ff3000" d="M151 16h2v1h-2zM151 17h2v1h-2z"/>
</g></g></g>
<clipPath id="clipe"><rect x="614.8" y="554.7" width="390.90" height="372.60"/></clipPath>
<g clip-path="url(#clipe)"><g filter="url(#blure)">
<g transform="translate(607.47,540.73) scale(2.4431,4.6575)" shape-rendering="crispEdges">
<path fill="#0010ff" d="M127 81h1v1h-1zM127 82h1v1h-1zM127 83h1v1h-1zM127 84h1v1h-1zM127 85h1v1h-1z"/>
<path fill="#0020ff" d="M159 68h7v1h-7zM126 81h1v1h-1zM126 82h1v1h-1zM126 83h1v1h-1zM126 84h1v1h-1zM126 85h1v1h-1z"/>
<path fill="#0030ff" d="M14 11h2v1h-2zM12 12h6v1h-6zM12 13h6v1h-6zM14 14h2v1h-2zM158 68h1v1h-1zM159 69h7v1h-7zM127 80h1v1h-1zM128 81h1v1h-1zM128 82h1v1h-1zM128 83h1v1h-1zM128 84h1v1h-1zM128 85h1v1h-1z"/>
<path fill="#0040ff" d="M0 0h52v1h-52zM0 1h52v1h-52zM0 2h52v1h-52zM0 3h52v1h-52zM0 4h52v1h-52zM0 5h52v1h-52zM0 6h52v1h-52zM0 7h52v1h-52zM0 8h52v1h-52zM0 9h52v1h-52zM0 10h52v1h-52zM0 11h14v1h-14zM16 11h36v1h-36zM0 12h12v1h-12zM18 12h34v1h-34zM0 13h12v1h-12zM18 13h34v1h-34zM0 14h14v1h-14zM16 14h36v1h-36zM0 15h52v1h-52zM0 16h52v1h-52zM0 17h52v1h-52zM0 18h52v1h-52zM0 19h52v1h-52zM0 20h52v1h-52zM0 21h52v1h-52zM0 22h52v1h-52zM0 23h52v1h-52zM0 24h52v1h-52zM0 25h52v1h-52zM0 26h52v1h-52zM0 27h52v1h-52zM0 28h52v1h-52zM0 29h52v1h-52zM0 30h52v1h-52zM0 31h52v1h-52zM0 32h52v1h-52zM0 33h52v1h-52zM0 34h52v1h-52zM0 35h52v1h-52zM0 36h52v1h-52zM0 37h52v1h-52zM0 38h52v1h-52zM0 39h52v1h-52zM0 40h52v1h-52zM0 41h52v1h-52zM0 42h52v1h-52zM0 43h52v1h-52zM0 44h52v1h-52zM0 45h52v1h-52zM0 46h52v1h-52zM0 47h52v1h-52zM0 48h52v1h-52zM0 49h52v1h-52zM0 50h52v1h-52zM0 51h52v1h-52zM0 52h52v1h-52zM0 53h52v1h-52zM0 54h52v1h-52zM0 55h52v1h-52zM0 56h52v1h-52zM0 57h52v1h-52zM0 58h52v1h-52zM0 59h52v1h-52zM0 60h52v1h-52zM0 61h52v1h-52zM0 62h52v1h-52zM0 63h52v1h-52zM0 64h52v1h-52zM0 65h52v1h-52zM0 66h52v1h-52zM0 67h52v1h-52zM159 67h7v1h-7zM0 68h52v1h-52zM0 69h52v1h-52zM0 70h52v1h-52zM0 71h52v1h-52zM0 72h52v1h-52zM0 73h52v1h-52zM0 74h52v1h-52zM0 75h52v1h-52zM0 76h52v1h-52zM0 77h52v1h-52zM0 78h52v1h-52zM0 79h52v1h-52zM0 80h52v1h-52zM126 80h1v1h-1zM0 81h52v1h-52zM0 82h52v1h-52zM0 83h52v1h-52zM0 84h52v1h-52zM0 85h52v1h-52z"/>
<path fill="#0050ff" d="M158 69h1v1h-1zM127 79h1v1h-1zM128 80h1v1h-1zM129 81h1v1h-1zM129 82h1v1h-1zM129 83h1v1h-1zM129 84h1v1h-1zM129 85h1v1h-1z"/>
<path fill="#0060ff" d="M52 0h1v1h-1zM52 1h1v1h-1zM52 2h1v1h-1zM52 3h1v1h-1zM52 4h1v1h-1zM52 5h1v1h-1zM52 6h1v1h-1zM52 7h1v1h-1zM52 8h1v1h-1zM52 9h1v1h-1zM52 10h1v1h-1zM52 11h1v1h-1zM52 12h1v1h-1zM52 13h1v1h-1zM52 14h1v1h-1zM52 15h1v1h-1zM52 16h1v1h-1zM52 17h1v1h-1zM52 18h1v1h-1zM52 19h1v1h-1zM52 20h1v1h-1zM52 21h1v1h-1zM52 22h1v1h-1zM52 23h1v1h-1zM52 24h1v1h-1zM52 25h1v1h-1zM52 26h1v1h-1zM52 27h1v1h-1zM52 28h1v1h-1zM52 29h1v1h-1zM52 30h1v1h-1zM52 31h1v1h-1zM52 32h1v1h-1zM52 33h1v1h-1zM52 34h1v1h-1zM52 35h1v1h-1zM52 36h1v1h-1zM52 37h1v1h-1zM52 38h1v1h-1zM52 39h1v1h-1zM52 40h1v1h-1zM52 41h1v1h-1zM52 42h1v1h-1zM52 43h1v1h-1zM52 44h1v1h-1zM52 45h1v1h-1zM52 46h1v1h-1zM52 47h1v1h-1zM52 48h1v1h-1zM52 49h1v1h-1zM52 50h1v1h-1zM52 51h1v1h-1zM52 52h1v1h-1zM52 53h1v1h-1zM52 54h1v1h-1zM52 55h1v1h-1zM52 56h1v1h-1zM52 57h1v1h-1zM52 58h1v1h-1zM52 59h1v1h-1zM52 60h1v1h-1zM52 61h1v1h-1zM52 62h1v1h-1zM52 63h1v1h-1zM52 64h1v1h-1zM52 65h1v1h-1zM52 66h1v1h-1zM52 67h1v1h-1zM158 67h1v1h-1zM52 68h1v1h-1zM52 69h1v1h-1zM52 70h1v1h-1zM52 71h1v1h-1zM52 72h1v1h-1zM52 73h1v1h-1zM52 74h1v1h-1zM52 75h1v1h-1zM52 76h1v1h-1zM52 77h1v1h-1zM52 78h1v1h-1zM52 79h1v1h-1zM126 79h1v1h-1zM52 80h1v1h-1zM52 81h1v1h-1zM125 81h1v1h-1zM52 82h1v1h-1zM125 82h1v1h-1zM52 83h1v1h-1zM125 83h1v1h-1zM52 84h1v1h-1zM125 84h1v1h-1zM52 85h1v1h-1zM125 85h1v1h-1z"/>
<path fill="#0070ff" d="M159 66h7v1h-7zM157 68h1v1h-1zM125 80h1v1h-1zM129 80h1v1h-1zM130 81h1v1h-1zM130 82h1v1h-1zM130 83h1v1h-1zM130 84h1v1h-1zM130 85h1v1h-1z"/>
<path fill="#0080ff" d="M53 0h1v1h-1zM53 1h1v1h-1zM53 2h1v1h-1zM53 3h1v1h-1zM53 4h1v1h-1zM53 5h1v1h-1zM53 6h1v1h-1zM53 7h1v1h-1zM53 8h1v1h-1zM53 9h1v1h-1zM53 10h1v1h-1zM53 11h1v1h-1zM53 12h1v1h-1zM53 13h1v1h-1zM53 14h1v1h-1zM53 15h1v1h-1zM53 16h1v1h-1zM53 17h1v1h-1zM53 18h1v1h-1zM53 19h1v1h-1zM53 20h1v1h-1zM53 21h1v1h-1zM53 22h1v1h-1zM53 23h1v1h-1zM53 24h1v1h-1zM53 25h1v1h-1zM53 26h1v1h-1zM53 27h1v1h-1zM53 28h1v1h-1zM53 29h1v1h-1zM53 30h1v1h-1zM53 31h1v1h-1zM53 32h1v1h-1zM53 33h1v1h-1zM53 34h1v1h-1zM53 35h1v1h-1zM53 36h1v1h-1zM53 37h1v1h-1zM53 38h1v1h-1zM53 39h1v1h-1zM53 40h1v1h-1zM53 41h1v1h-1zM53 42h1v1h-1zM53 43h1v1h-1zM53 44h1v1h-1zM53 45h1v1h-1zM53 46h1v1h-1zM53 47h1v1h-1zM53 48h1v1h-1zM53 49h1v1h-1zM53 50h1v1h-1zM53 51h1v1h-1zM53 52h1v1h-1zM53 53h1v1h-1zM53 54h1v1h-1zM53 55h1v1h-1zM53 56h1v1h-1zM53 57h1v1h-1zM53 58h1v1h-1zM53 59h1v1h-1zM53 60h1v1h-1zM53 61h1v1h-1zM53 62h1v1h-1zM53 63h1v1h-1zM53 64h1v1h-1zM53 65h1v1h-1zM53 66h1v1h-1zM53 67h1v1h-1zM53 68h1v1h-1zM53 69h1v1h-1zM157 69h1v1h-1zM53 70h1v1h-1zM53 71h1v1h-1zM53 72h1v1h-1zM53 73h1v1h-1zM53 74h1v1h-1zM53 75h1v1h-1zM53 76h1v1h-1zM53 77h1v1h-1zM53 78h1v1h-1zM127 78h1v1h-1zM53 79h1v1h-1zM128 79h1v1h-1zM53 80h1v1h-1zM53 81h1v1h-1zM53 82h1v1h-1zM53 83h1v1h-1zM53 84h1v1h-1zM53 85h1v1h-1z"/>
<path fill="#008fff" d="M158 66h1v1h-1zM157 67h1v1h-1zM159 70h7v1h-7zM126 78h1v1h-1zM130 80h1v1h-1zM131 81h1v1h-1zM131 82h1v1h-1zM131 83h1v1h-1zM131 84h1v1h-1zM131 85h1v1h-1z"/>
<path fill="#009fff" d="M54 0h1v1h-1zM54 1h1v1h-1zM54 2h1v1h-1zM54 3h1v1h-1zM54 4h1v1h-1zM54 5h1v1h-1zM54 6h1v1h-1zM54 7h1v1h-1zM54 8h1v1h-1zM54 9h1v1h-1zM54 10h1v1h-1zM54 11h1v1h-1zM54 12h1v1h-1zM54 13h1v1h-1zM54 14h1v1h-1zM54 15h1v1h-1zM54 16h1v1h-1zM54 17h1v1h-1zM54 18h1v1h-1zM54 19h1v1h-1zM54 20h1v1h-1zM54 21h1v1h-1zM54 22h1v1h-1zM54 23h1v1h-1zM54 24h1v1h-1zM54 25h1v1h-1zM54 26h1v1h-1zM54 27h1v1h-1zM54 28h1v1h-1zM54 29h1v1h-1zM54 30h1v1h-1zM54 31h1v1h-1zM54 32h1v1h-1zM54 33h1v1h-1zM54 34h1v1h-1zM54 35h1v1h-1zM54 36h1v1h-1zM54 37h1v1h-1zM54 38h1v1h-1zM54 39h1v1h-1zM54 40h1v1h-1zM54 41h1v1h-1zM54 42h1v1h-1zM54 43h1v1h-1zM54 44h1v1h-1zM54 45h1v1h-1zM54 46h1v1h-1zM54 47h1v1h-1zM54 48h1v1h-1zM54 49h1v1h-1zM54 50h1v1h-1zM54 51h1v1h-1zM54 52h1v1h-1zM54 53h1v1h-1zM54 54h1v1h-1zM54 55h1v1h-1zM54 56h1v1h-1zM54 57h1v1h-1zM54 58h1v1h-1zM54 59h1v1h-1zM54 60h1v1h-1zM54 61h1v1h-1zM54 62h1v1h-1zM54 63h1v1h-1zM54 64h1v1h-1zM54 65h1v1h-1zM159 65h7v1h-7zM54 66h1v1h-1zM54 67h1v1h-1zM54 68h1v1h-1zM54 69h1v1h-1zM54 70h1v1h-1zM158 70h1v1h-1zM54 71h1v1h-1zM54 72h1v1h-1zM54 73h1v1h-1zM54 74h1v1h-1zM54 75h1v1h-1zM54 76h1v1h-1zM54 77h1v1h-1zM54 78h1v1h-1zM128 78h1v1h-1zM54 79h1v1h-1zM125 79h1v1h-1zM129 79h1v1h-1zM54 80h1v1h-1zM54 81h1v1h-1zM124 81h1v1h-1zM54 82h1v1h-1zM124 82h1v1h-1zM54 83h1v1h-1zM124 83h1v1h-1zM54 84h1v1h-1zM124 84h1v1h-1zM54 85h1v1h-1zM124 85h1v1h-1z"/>
<path fill="#00afff" d="M158 65h1v1h-1zM157 66h1v1h-1zM156 68h1v1h-1zM127 77h1v1h-1zM124 80h1v1h-1zM131 80h1v1h-1zM132 81h1v1h-1zM132 82h1v1h-1zM132 83h1v1h-1zM132 84h1v1h-1zM132 85h1v1h-1z"/>
<path fill="#00bfff" d="M55 0h1v1h-1zM55 1h1v1h-1zM55 2h1v1h-1zM55 3h1v1h-1zM55 4h1v1h-1zM55 5h1v1h-1zM55 6h1v1h-1zM55 7h1v1h-1zM55 8h1v1h-1zM55 9h1v1h-1zM55 10h1v1h-1zM55 11h1v1h-1zM55 12h1v1h-1zM55 13h1v1h-1zM55 14h1v1h-1zM55 15h1v1h-1zM55 16h1v1h-1zM55 17h1v1h-1zM55 18h1v1h-1zM55 19h1v1h-1zM55 20h1v1h-1zM55 21h1v1h-1zM55 22h1v1h-1zM55 23h1v1h-1zM55 24h1v1h-1zM55 25h1v1h-1zM55 26h1v1h-1zM55 27h1v1h-1zM55 28h1v1h-1zM55 29h1v1h-1zM55 30h1v1h-1zM55 31h1v1h-1zM55 32h1v1h-1zM55 33h1v1h-1zM55 34h1v1h-1zM55 35h1v1h-1zM55 36h1v1h-1zM55 37h1v1h-1zM55 38h1v1h-1zM55 39h1v1h-1zM55 40h1v1h-1zM55 41h1v1h-1zM55 42h1v1h-1zM55 43h1v1h-1zM55 44h1v1h-1zM55 45h1v1h-1zM55 46h1v1h-1zM55 47h1v1h-1zM55 48h1v1h-1zM55 49h1v1h-1zM55 50h1v1h-1zM55 51h1v1h-1zM55 52h1v1h-1zM55 53h1v1h-1zM55 54h1v1h-1zM55 55h1v1h-1zM55 56h1v1h-1zM55 57h1v1h-1zM55 58h1v1h-1zM55 59h1v1h-1zM55 60h1v1h-1zM55 61h1v1h-1zM55 62h1v1h-1zM55 63h1v1h-1zM55 64h1v1h-1zM55 65h1v1h-1zM55 66h1v1h-1zM55 67h1v1h-1zM55 68h1v1h-1zM55 69h1v1h-1zM156 69h1v1h-1zM55 70h1v1h-1zM55 71h1v1h-1zM55 72h1v1h-1zM55 73h1v1h-1zM55 74h1v1h-1zM55 75h1v1h-1zM55 76h1v1h-1zM55 77h1v1h-1zM126 77h1v1h-1zM55 78h1v1h-1zM125 78h1v1h-1zM55 79h1v1h-1zM130 79h1v1h-1zM55 80h1v1h-1zM55 81h1v1h-1zM55 82h1v1h-1zM55 83h1v1h-1zM55 84h1v1h-1zM55 85h1v1h-1z"/>
<path fill="#00cfff" d="M156 67h1v1h-1zM157 70h1v1h-1zM128 77h1v1h-1zM129 78h1v1h-1zM124 79h1v1h-1zM132 80h1v1h-1zM123 81h1v1h-1zM133 81h1v1h-1zM123 82h1v1h-1zM133 82h1v1h-1zM123 83h1v1h-1zM133 83h1v1h-1zM123 84h1v1h-1zM133 84h1v1h-1zM123 85h1v1h-1zM133 85h1v1h-1z"/>
<path fill="#00dfff" d="M56 0h1v1h-1zM56 1h1v1h-1zM56 2h1v1h-1zM56 3h1v1h-1zM56 4h1v1h-1zM56 5h1v1h-1zM56 6h1v1h-1zM56 7h1v1h-1zM56 8h1v1h-1zM56 9h1v1h-1zM56 10h1v1h-1zM56 11h1v1h-1zM56 12h1v1h-1zM56 13h1v1h-1zM56 14h1v1h-1zM56 15h1v1h-1zM56 16h1v1h-1zM56 17h1v1h-1zM56 18h1v1h-1zM56 19h1v1h-1zM56 20h1v1h-1zM56 21h1v1h-1zM56 22h1v1h-1zM56 23h1v1h-1zM56 24h1v1h-1zM56 25h1v1h-1zM56 26h1v1h-1zM56 27h1v1h-1zM56 28h1v1h-1zM56 29h1v1h-1zM56 30h1v1h-1zM56 31h1v1h-1zM56 32h1v1h-1zM56 33h1v1h-1zM56 34h1v1h-1zM56 35h1v1h-1zM56 36h1v1h-1zM56 37h1v1h-1zM56 38h1v1h-1zM56 39h1v1h-1zM56 40h1v1h-1zM56 41h1v1h-1zM56 42h1v1h-1zM56 43h1v1h-1zM56 44h1v1h-1zM56 45h1v1h-1zM56 46h1v1h-1zM56 47h1v1h-1zM56 48h1v1h-1zM56 49h1v1h-1zM56 50h1v1h-1zM56 51h1v1h-1zM56 52h1v1h-1zM56 53h1v1h-1zM56 54h1v1h-1zM56 55h1v1h-1zM56 56h1v1h-1zM56 57h1v1h-1zM56 58h1v1h-1zM56 59h1v1h-1zM56 60h1v1h-1zM56 61h1v1h-1zM56 62h1v1h-1zM56 63h1v1h-1zM56 64h1v1h-1zM159 64h7v1h-7zM56 65h1v1h-1zM157 65h1v1h-1zM56 66h1v1h-1zM156 66h1v1h-1zM56 67h1v1h-1zM56 68h1v1h-1zM155 68h1v1h-1zM56 69h1v1h-1zM56 70h1v1h-1zM56 71h1v1h-1zM159 71h7v1h-7zM56 72h1v1h-1zM56 73h1v1h-1zM56 74h1v1h-1zM56 75h1v1h-1zM56 76h1v1h-1zM126 76h2v1h-2zM56 77h1v1h-1zM56 78h1v1h-1zM56 79h1v1h-1zM131 79h1v1h-1zM56 80h1v1h-1zM56 81h1v1h-1zM56 82h1v1h-1zM56 83h1v1h-1zM56 84h1v1h-1zM56 85h1v1h-1z"/>
<path fill="#00efff" d="M158 64h1v1h-1zM155 69h1v1h-1zM156 70h1v1h-1zM158 71h1v1h-1zM125 77h1v1h-1zM130 78h1v1h-1zM123 80h1v1h-1zM133 80h1v1h-1zM134 81h1v1h-1zM134 82h1v1h-1zM134 83h1v1h-1zM134 84h1v1h-1zM134 85h1v1h-1z"/>
<path fill="#00ffff" d="M57 0h1v1h-1zM57 1h1v1h-1zM57 2h1v1h-1zM57 3h1v1h-1zM57 4h1v1h-1zM57 5h1v1h-1zM57 6h1v1h-1zM57 7h1v1h-1zM57 8h1v1h-1zM57 9h1v1h-1zM57 10h1v1h-1zM57 11h1v1h-1zM57 12h1v1h-1zM57 13h1v1h-1zM57 14h1v1h-1zM57 15h1v1h-1zM57 16h1v1h-1zM57 17h1v1h-1zM57 18h1v1h-1zM57 19h1v1h-1zM57 20h1v1h-1zM57 21h1v1h-1zM57 22h1v1h-1zM57 23h1v1h-1zM57 24h1v1h-1zM57 25h1v1h-1zM57 26h1v1h-1zM57 27h1v1h-1zM57 28h1v1h-1zM57 29h1v1h-1zM57 30h1v1h-1zM57 31h1v1h-1zM57 32h1v1h-1zM57 33h1v1h-1zM57 34h1v1h-1zM57 35h1v1h-1zM57 36h1v1h-1zM57 37h1v1h-1zM57 38h1v1h-1zM57 39h1v1h-1zM57 40h1v1h-1zM57 41h1v1h-1zM57 42h1v1h-1zM57 43h1v1h-1zM57 44h1v1h-1zM57 45h1v1h-1zM57 46h1v1h-1zM57 47h1v1h-1zM57 48h1v1h-1zM57 49h1v1h-1zM57 50h1v1h-1zM57 51h1v1h-1zM57 52h1v1h-1zM57 53h1v1h-1zM57 54h1v1h-1zM57 55h1v1h-1zM57 56h1v1h-1zM57 57h1v1h-1zM57 58h1v1h-1zM57 59h1v1h-1zM57 60h1v1h-1zM57 61h1v1h-1zM57 62h1v1h-1zM57 63h1v1h-1zM57 64h1v1h-1zM57 65h1v1h-1zM156 65h1v1h-1zM57 66h1v1h-1zM57 67h1v1h-1zM155 67h1v1h-1zM57 68h1v1h-1zM57 69h1v1h-1zM57 70h1v1h-1zM57 71h1v1h-1zM57 72h1v1h-1zM57 73h1v1h-1zM57 74h1v1h-1zM57 75h1v1h-1zM127 75h1v1h-1zM57 76h1v1h-1zM128 76h1v1h-1zM57 77h1v1h-1zM129 77h1v1h-1zM57 78h1v1h-1zM124 78h1v1h-1zM57 79h1v1h-1zM132 79h1v1h-1zM57 80h1v1h-1zM57 81h1v1h-1zM57 82h1v1h-1zM57 83h1v1h-1zM57 84h1v1h-1zM57 85h1v1h-1z"/>
<path fill="#10ffef" d="M157 64h1v1h-1zM155 66h1v1h-1zM157 71h1v1h-1zM126 75h1v1h-1zM125 76h1v1h-1zM131 78h1v1h-1zM123 79h1v1h-1zM134 80h1v1h-1zM122 81h1v1h-1zM135 81h1v1h-1zM122 82h1v1h-1zM135 82h1v1h-1zM122 83h1v1h-1zM135 83h1v1h-1zM122 84h1v1h-1zM135 84h1v1h-1zM122 85h1v1h-1zM135 85h1v1h-1z"/>
<path fill="#20ffdf" d="M58 0h51v1h-51zM58 1h51v1h-51zM58 2h51v1h-51zM58 3h51v1h-51zM58 4h51v1h-51zM58 5h51v1h-51zM58 6h51v1h-51zM58 7h51v1h-51zM58 8h51v1h-51zM58 9h51v1h-51zM58 10h51v1h-51zM58 11h51v1h-51zM58 12h51v1h-51zM58 13h51v1h-51zM58 14h51v1h-51zM58 15h51v1h-51zM58 16h51v1h-51zM58 17h51v1h-51zM58 18h51v1h-51zM58 19h51v1h-51zM58 20h51v1h-51zM58 21h51v1h-51zM58 22h51v1h-51zM58 23h51v1h-51zM58 24h51v1h-51zM58 25h51v1h-51zM58 26h51v1h-51zM58 27h51v1h-51zM58 28h51v1h-51zM58 29h51v1h-51zM58 30h51v1h-51zM58 31h51v1h-51zM58 32h51v1h-51zM58 33h51v1h-51zM58 34h51v1h-51zM58 35h51v1h-51zM58 36h51v1h-51zM58 37h51v1h-51zM58 38h51v1h-51zM58 39h51v1h-51zM58 40h51v1h-51zM58 41h51v1h-51zM58 42h51v1h-51zM58 43h51v1h-51zM58 44h51v1h-51zM58 45h51v1h-51zM58 46h51v1h-51zM58 47h51v1h-51zM58 48h51v1h-51zM58 49h51v1h-51zM58 50h51v1h-51zM58 51h51v1h-51zM58 52h51v1h-51zM143 52h1v1h-1zM58 53h51v1h-51zM143 53h1v1h-1zM58 54h51v1h-51zM58 55h51v1h-51zM58 56h51v1h-51zM58 57h51v1h-51zM58 58h51v1h-51zM58 59h51v1h-51zM58 60h51v1h-51zM58 61h51v1h-51zM58 62h51v1h-51zM58 63h51v1h-51zM159 63h7v1h-7zM58 64h51v1h-51zM58 65h51v1h-51zM58 66h51v1h-51zM58 67h51v1h-51zM58 68h51v1h-51zM154 68h1v1h-1zM58 69h51v1h-51zM154 69h1v1h-1zM58 70h51v1h-51zM155 70h1v1h-1zM58 71h51v1h-51zM58 72h51v1h-51zM58 73h51v1h-51zM58 74h51v1h-51zM58 75h51v1h-51zM128 75h1v1h-1zM58 76h51v1h-51zM129 76h1v1h-1zM58 77h51v1h-51zM124 77h1v1h-1zM130 77h1v1h-1zM58 78h51v1h-51zM58 79h51v1h-51zM133 79h1v1h-1zM58 80h51v1h-51zM122 80h1v1h-1zM58 81h51v1h-51zM58 82h51v1h-51zM58 83h51v1h-51zM58 84h51v1h-51zM58 85h51v1h-51z"/>
<path fill="#30ffcf" d="M142 52h1v1h-1zM142 53h1v1h-1zM158 63h1v1h-1zM156 64h1v1h-1zM155 65h1v1h-1zM154 67h1v1h-1zM156 71h1v1h-1zM127 74h1v1h-1zM123 78h1v1h-1zM132 78h1v1h-1zM135 80h1v1h-1zM109 81h1v1h-1zM136 81h1v1h-1zM109 82h1v1h-1zM136 82h1v1h-1zM109 83h1v1h-1zM136 83h1v1h-1zM109 84h1v1h-1zM136 84h1v1h-1zM109 85h1v1h-1zM136 85h1v1h-1z"/>
<path fill="#40ffbf" d="M142 51h2v1h-2zM109 53h1v1h-1zM109 54h1v1h-1zM142 54h2v1h-2zM109 55h1v1h-1zM109 56h1v1h-1zM109 57h1v1h-1zM109 58h1v1h-1zM109 59h1v1h-1zM109 60h1v1h-1zM109 65h1v1h-1zM109 66h1v1h-1zM154 66h1v1h-1zM109 67h1v1h-1zM109 68h1v1h-1zM109 69h1v1h-1zM109 70h1v1h-1zM109 71h1v1h-1zM109 72h1v1h-1zM159 72h7v1h-7zM126 74h1v1h-1zM125 75h1v1h-1zM129 75h1v1h-1zM130 76h1v1h-1zM109 77h1v1h-1zM131 77h1v1h-1zM109 78h1v1h-1zM109 79h1v1h-1zM109 80h1v1h-1zM136 80h1v1h-1z"/>
<path fill="#50ffaf" d="M109 0h1v1h-1zM109 1h1v1h-1zM109 2h1v1h-1zM109 3h1v1h-1zM109 4h1v1h-1zM109 5h1v1h-1zM109 6h1v1h-1zM109 7h1v1h-1zM109 8h1v1h-1zM109 9h1v1h-1zM109 10h1v1h-1zM109 11h1v1h-1zM109 12h1v1h-1zM109 13h1v1h-1zM109 14h1v1h-1zM109 15h1v1h-1zM109 16h1v1h-1zM109 17h1v1h-1zM109 18h1v1h-1zM109 19h1v1h-1zM109 20h1v1h-1zM109 21h1v1h-1zM109 22h1v1h-1zM109 23h1v1h-1zM109 24h1v1h-1zM109 25h1v1h-1zM109 26h1v1h-1zM109 27h1v1h-1zM109 28h1v1h-1zM109 29h1v1h-1zM109 30h1v1h-1zM109 31h1v1h-1zM109 32h1v1h-1zM109 33h1v1h-1zM109 34h1v1h-1zM109 35h1v1h-1zM109 36h1v1h-1zM109 37h1v1h-1zM109 38h1v1h-1zM109 39h1v1h-1zM109 40h1v1h-1zM109 41h1v1h-1zM109 42h1v1h-1zM109 43h1v1h-1zM109 44h1v1h-1zM109 45h1v1h-1zM109 46h1v1h-1zM109 47h1v1h-1zM109 48h1v1h-1zM109 49h1v1h-1zM109 50h1v1h-1zM143 50h1v1h-1zM109 51h1v1h-1zM109 52h1v1h-1zM144 52h1v1h-1zM144 53h1v1h-1zM143 55h1v1h-1zM109 61h1v1h-1zM109 62h1v1h-1zM109 63h1v1h-1zM157 63h1v1h-1zM109 64h1v1h-1zM155 64h1v1h-1zM154 65h1v1h-1zM153 68h1v1h-1zM154 70h1v1h-1zM155 71h1v1h-1zM158 72h1v1h-1zM109 73h1v1h-1zM109 74h1v1h-1zM128 74h1v1h-1zM109 75h1v1h-1zM109 76h1v1h-1zM124 76h1v1h-1zM122 79h1v1h-1zM134 79h1v1h-1zM121 81h1v1h-1zM137 81h1v1h-1zM121 82h1v1h-1zM137 82h1v1h-1zM121 83h1v1h-1zM137 83h1v1h-1zM121 84h1v1h-1zM137 84h1v1h-1zM121 85h1v1h-1zM137 85h1v1h-1z"/>
<path fill="#60ff9f" d="M142 50h1v1h-1zM144 51h1v1h-1zM141 52h1v1h-1zM141 53h1v1h-1zM144 54h1v1h-1zM110 55h1v1h-1zM142 55h1v1h-1zM110 56h1v1h-1zM110 57h1v1h-1zM110 58h1v1h-1zM156 63h1v1h-1zM110 67h1v1h-1zM153 67h1v1h-1zM110 68h1v1h-1zM110 69h1v1h-1zM153 69h1v1h-1zM110 70h1v1h-1zM157 72h1v1h-1zM126 73h2v1h-2zM125 74h1v1h-1zM129 74h1v1h-1zM130 75h1v1h-1zM123 77h1v1h-1zM133 78h1v1h-1zM110 79h1v1h-1zM135 79h1v1h-1zM110 80h1v1h-1zM121 80h1v1h-1zM137 80h1v1h-1zM110 81h1v1h-1zM138 81h1v1h-1zM110 82h1v1h-1zM138 82h1v1h-1zM110 83h1v1h-1zM138 83h1v1h-1zM110 84h1v1h-1zM138 84h1v1h-1zM110 85h1v1h-1zM138 85h1v1h-1z"/>
<path fill="#70ff8f" d="M142 49h2v1h-2zM141 51h1v1h-1zM110 54h1v1h-1zM141 54h1v1h-1zM142 56h2v1h-2zM110 59h1v1h-1zM159 62h7v1h-7zM154 64h1v1h-1zM110 66h1v1h-1zM153 66h1v1h-1zM126 69h2v1h-2zM126 70h2v1h-2zM110 71h1v1h-1zM127 71h1v1h-1zM154 71h1v1h-1zM127 72h1v1h-1zM156 72h1v1h-1zM128 73h1v1h-1zM124 75h1v1h-1zM131 76h1v1h-1zM132 77h1v1h-1zM150 77h2v1h-2zM110 78h1v1h-1zM122 78h1v1h-1zM150 78h2v1h-2zM136 79h1v1h-1zM150 79h3v1h-3zM138 80h1v1h-1zM150 80h7v1h-7zM150 81h16v1h-16zM150 82h16v1h-16zM150 83h16v1h-16zM150 84h16v1h-16zM150 85h16v1h-16z"/>
<path fill="#80ff80" d="M110 31h1v1h-1zM110 32h1v1h-1zM110 33h1v1h-1zM110 34h1v1h-1zM110 39h1v1h-1zM110 40h1v1h-1zM110 41h1v1h-1zM110 42h1v1h-1zM110 43h1v1h-1zM110 44h1v1h-1zM110 45h1v1h-1zM110 46h1v1h-1zM141 50h1v1h-1zM144 50h1v1h-1zM110 51h1v1h-1zM110 52h1v1h-1zM145 52h1v1h-1zM110 53h1v1h-1zM145 53h1v1h-1zM141 55h1v1h-1zM144 55h1v1h-1zM111 56h1v1h-1zM111 57h1v1h-1zM110 60h1v1h-1zM110 61h1v1h-1zM110 62h1v1h-1zM158 62h1v1h-1zM110 63h1v1h-1zM155 63h1v1h-1zM110 64h1v1h-1zM110 65h1v1h-1zM153 65h1v1h-1zM111 68h1v1h-1zM126 68h2v1h-2zM111 69h1v1h-1zM125 69h1v1h-1zM128 69h1v1h-1zM128 70h1v1h-1zM153 70h1v1h-1zM126 71h1v1h-1zM128 71h1v1h-1zM110 72h1v1h-1zM126 72h1v1h-1zM128 72h1v1h-1zM110 73h1v1h-1zM125 73h1v1h-1zM129 73h1v1h-1zM158 73h8v1h-8zM110 74h1v1h-1zM130 74h1v1h-1zM110 75h1v1h-1zM131 75h1v1h-1zM110 76h1v1h-1zM123 76h1v1h-1zM150 76h2v1h-2zM110 77h1v1h-1zM149 77h1v1h-1zM152 77h1v1h-1zM134 78h1v1h-1zM149 78h1v1h-1zM152 78h2v1h-2zM121 79h1v1h-1zM137 79h1v1h-1zM149 79h1v1h-1zM153 79h3v1h-3zM111 80h1v1h-1zM149 80h1v1h-1zM157 80h9v1h-9zM111 81h1v1h-1zM139 81h1v1h-1zM149 81h1v1h-1zM111 82h1v1h-1zM139 82h1v1h-1zM149 82h1v1h-1zM111 83h1v1h-1zM139 83h1v1h-1zM149 83h1v1h-1zM111 84h1v1h-1zM139 84h1v1h-1zM149 84h1v1h-1zM111 85h1v1h-1zM139 85h1v1h-1zM149 85h1v1h-1z"/>
<path fill="#8fff70" d="M110 0h1v1h-1zM110 1h1v1h-1zM110 2h1v1h-1zM110 3h1v1h-1zM110 4h1v1h-1zM110 5h1v1h-1zM110 6h1v1h-1zM110 7h1v1h-1zM110 8h1v1h-1zM110 9h1v1h-1zM110 10h1v1h-1zM110 11h1v1h-1zM110 12h1v1h-1zM110 13h1v1h-1zM110 14h1v1h-1zM110 15h1v1h-1zM110 16h1v1h-1zM110 17h1v1h-1zM110 18h1v1h-1zM110 19h1v1h-1zM110 20h1v1h-1zM110 21h1v1h-1zM110 22h1v1h-1zM110 23h1v1h-1zM110 24h1v1h-1zM110 25h1v1h-1zM110 26h1v1h-1zM110 27h1v1h-1zM110 28h1v1h-1zM110 29h1v1h-1zM110 30h1v1h-1zM110 35h1v1h-1zM110 36h1v1h-1zM110 37h1v1h-1zM110 38h1v1h-1zM110 47h1v1h-1zM110 48h1v1h-1zM110 49h1v1h-1zM144 49h1v1h-1zM110 50h1v1h-1zM145 51h1v1h-1zM140 52h1v1h-1zM140 53h1v1h-1zM145 54h1v1h-1zM111 55h1v1h-1zM141 56h1v1h-1zM144 56h1v1h-1zM142 57h2v1h-2zM111 58h1v1h-1zM156 62h2v1h-2zM154 63h1v1h-1zM153 64h1v1h-1zM111 67h1v1h-1zM125 68h1v1h-1zM128 68h1v1h-1zM152 68h1v1h-1zM124 69h1v1h-1zM129 69h1v1h-1zM152 69h1v1h-1zM111 70h1v1h-1zM125 70h1v1h-1zM129 70h1v1h-1zM125 71h1v1h-1zM129 71h1v1h-1zM153 71h1v1h-1zM125 72h1v1h-1zM129 72h1v1h-1zM155 72h1v1h-1zM130 73h1v1h-1zM156 73h2v1h-2zM124 74h1v1h-1zM131 74h1v1h-1zM123 75h1v1h-1zM132 76h1v1h-1zM149 76h1v1h-1zM152 76h2v1h-2zM122 77h1v1h-1zM133 77h1v1h-1zM148 77h1v1h-1zM153 77h1v1h-1zM135 78h1v1h-1zM148 78h1v1h-1zM154 78h2v1h-2zM111 79h1v1h-1zM138 79h1v1h-1zM148 79h1v1h-1zM156 79h3v1h-3zM139 80h1v1h-1zM148 80h1v1h-1zM120 81h1v1h-1zM148 81h1v1h-1zM120 82h1v1h-1zM148 82h1v1h-1zM120 83h1v1h-1zM148 83h1v1h-1zM120 84h1v1h-1zM148 84h1v1h-1zM120 85h1v1h-1zM148 85h1v1h-1z"/>
<path fill="#9fff60" d="M143 48h1v1h-1zM141 49h1v1h-1zM145 50h1v1h-1zM140 51h1v1h-1zM146 52h1v1h-1zM146 53h1v1h-1zM111 54h1v1h-1zM140 54h1v1h-1zM140 55h1v1h-1zM145 55h1v1h-1zM112 56h1v1h-1zM112 57h1v1h-1zM141 57h1v1h-1zM144 57h1v1h-1zM142 58h2v1h-2zM111 59h1v1h-1zM155 62h1v1h-1zM111 66h1v1h-1zM152 66h1v1h-1zM126 67h3v1h-3zM152 67h1v1h-1zM112 68h1v1h-1zM124 68h1v1h-1zM129 68h1v1h-1zM112 69h1v1h-1zM123 69h1v1h-1zM130 69h1v1h-1zM124 70h1v1h-1zM130 70h1v1h-1zM152 70h1v1h-1zM111 71h1v1h-1zM130 71h1v1h-1zM130 72h1v1h-1zM154 72h1v1h-1zM131 73h1v1h-1zM155 73h1v1h-1zM155 74h11v1h-11zM132 75h1v1h-1zM149 75h6v1h-6zM148 76h1v1h-1zM154 76h1v1h-1zM147 77h1v1h-1zM154 77h2v1h-2zM111 78h1v1h-1zM121 78h1v1h-1zM136 78h1v1h-1zM147 78h1v1h-1zM156 78h1v1h-1zM147 79h1v1h-1zM159 79h7v1h-7zM112 80h1v1h-1zM120 80h1v1h-1zM147 80h1v1h-1zM112 81h1v1h-1zM140 81h1v1h-1zM147 81h1v1h-1zM112 82h1v1h-1zM140 82h1v1h-1zM147 82h1v1h-1zM112 83h1v1h-1zM140 83h1v1h-1zM147 83h1v1h-1zM112 84h1v1h-1zM140 84h1v1h-1zM147 84h1v1h-1zM112 85h1v1h-1zM140 85h1v1h-1zM147 85h1v1h-1z"/>
<path fill="#afff50" d="M111 32h1v1h-1zM111 33h1v1h-1zM111 40h1v1h-1zM111 41h1v1h-1zM111 42h1v1h-1zM111 43h1v1h-1zM111 44h1v1h-1zM111 45h1v1h-1zM142 48h1v1h-1zM145 49h1v1h-1zM140 50h1v1h-1zM146 51h1v1h-1zM111 52h1v1h-1zM111 53h1v1h-1zM146 54h1v1h-1zM140 56h1v1h-1zM145 56h1v1h-1zM144 58h1v1h-1zM111 60h1v1h-1zM111 61h1v1h-1zM111 62h1v1h-1zM154 62h1v1h-1zM111 63h1v1h-1zM153 63h1v1h-1zM111 64h1v1h-1zM152 64h1v1h-1zM111 65h1v1h-1zM152 65h1v1h-1zM125 67h1v1h-1zM129 67h1v1h-1zM123 68h1v1h-1zM130 68h2v1h-2zM131 69h1v1h-1zM123 70h1v1h-1zM131 70h1v1h-1zM124 71h1v1h-1zM131 71h1v1h-1zM152 71h1v1h-1zM111 72h1v1h-1zM124 72h1v1h-1zM131 72h1v1h-1zM153 72h1v1h-1zM111 73h1v1h-1zM124 73h1v1h-1zM154 73h1v1h-1zM111 74h1v1h-1zM123 74h1v1h-1zM132 74h1v1h-1zM151 74h4v1h-4zM111 75h1v1h-1zM148 75h1v1h-1zM155 75h4v1h-4zM111 76h1v1h-1zM122 76h1v1h-1zM133 76h1v1h-1zM146 76h2v1h-2zM155 76h1v1h-1zM111 77h1v1h-1zM134 77h1v1h-1zM146 77h1v1h-1zM156 77h1v1h-1zM137 78h2v1h-2zM146 78h1v1h-1zM157 78h2v1h-2zM139 79h1v1h-1zM146 79h1v1h-1zM140 80h1v1h-1zM146 80h1v1h-1zM146 81h1v1h-1zM146 82h1v1h-1zM146 83h1v1h-1zM146 84h1v1h-1zM146 85h1v1h-1z"/>
<path fill="#bfff40" d="M111 30h1v1h-1zM111 31h1v1h-1zM111 34h1v1h-1zM111 35h1v1h-1zM111 38h1v1h-1zM111 39h1v1h-1zM111 46h1v1h-1zM111 47h1v1h-1zM144 48h1v1h-1zM140 49h1v1h-1zM111 50h1v1h-1zM146 50h1v1h-1zM111 51h1v1h-1zM139 52h1v1h-1zM139 53h1v1h-1zM139 54h1v1h-1zM112 55h1v1h-1zM146 55h1v1h-1zM140 57h1v1h-1zM145 57h1v1h-1zM112 58h1v1h-1zM141 58h1v1h-1zM142 59h2v1h-2zM157 61h9v1h-9zM153 62h1v1h-1zM152 63h1v1h-1zM126 66h4v1h-4zM112 67h1v1h-1zM124 67h1v1h-1zM130 67h2v1h-2zM122 68h1v1h-1zM132 68h1v1h-1zM122 69h1v1h-1zM132 69h1v1h-1zM112 70h1v1h-1zM132 70h1v1h-1zM123 71h1v1h-1zM132 71h1v1h-1zM132 72h1v1h-1zM152 72h1v1h-1zM132 73h1v1h-1zM152 73h2v1h-2zM133 74h1v1h-1zM148 74h3v1h-3zM122 75h1v1h-1zM133 75h1v1h-1zM146 75h2v1h-2zM159 75h7v1h-7zM145 76h1v1h-1zM156 76h2v1h-2zM145 77h1v1h-1zM157 77h1v1h-1zM139 78h1v1h-1zM145 78h1v1h-1zM159 78h7v1h-7zM112 79h1v1h-1zM120 79h1v1h-1zM140 79h1v1h-1zM145 79h1v1h-1zM141 80h1v1h-1zM145 80h1v1h-1zM113 81h1v1h-1zM141 81h1v1h-1zM145 81h1v1h-1zM113 82h1v1h-1zM141 82h1v1h-1zM145 82h1v1h-1zM113 83h1v1h-1zM141 83h1v1h-1zM145 83h1v1h-1zM113 84h1v1h-1zM141 84h1v1h-1zM145 84h1v1h-1zM113 85h1v1h-1zM141 85h1v1h-1zM145 85h1v1h-1z"/>
<path fill="#cfff30" d="M111 0h1v1h-1zM111 1h1v1h-1zM111 2h1v1h-1zM111 3h1v1h-1zM111 4h1v1h-1zM111 5h1v1h-1zM111 6h1v1h-1zM111 7h1v1h-1zM111 8h1v1h-1zM111 9h1v1h-1zM111 10h1v1h-1zM111 11h1v1h-1zM111 12h1v1h-1zM111 13h1v1h-1zM111 14h1v1h-1zM111 15h1v1h-1zM111 16h1v1h-1zM111 17h1v1h-1zM111 18h1v1h-1zM111 19h1v1h-1zM111 20h1v1h-1zM111 21h1v1h-1zM111 22h1v1h-1zM111 23h1v1h-1zM111 24h1v1h-1zM111 25h1v1h-1zM111 26h1v1h-1zM111 27h1v1h-1zM111 28h1v1h-1zM111 29h1v1h-1zM111 36h1v1h-1zM111 37h1v1h-1zM111 48h1v1h-1zM141 48h1v1h-1zM111 49h1v1h-1zM146 49h1v1h-1zM139 51h1v1h-1zM147 52h1v1h-1zM147 53h1v1h-1zM112 54h1v1h-1zM139 55h1v1h-1zM113 56h1v1h-1zM139 56h1v1h-1zM146 56h1v1h-1zM113 57h1v1h-1zM145 58h1v1h-1zM112 59h1v1h-1zM144 59h2v1h-2zM154 61h3v1h-3zM152 62h1v1h-1zM151 64h1v1h-1zM151 65h1v1h-1zM112 66h1v1h-1zM125 66h1v1h-1zM130 66h2v1h-2zM151 66h1v1h-1zM123 67h1v1h-1zM132 67h1v1h-1zM151 67h1v1h-1zM113 68h1v1h-1zM121 68h1v1h-1zM133 68h1v1h-1zM151 68h1v1h-1zM113 69h1v1h-1zM121 69h1v1h-1zM133 69h1v1h-1zM151 69h1v1h-1zM122 70h1v1h-1zM133 70h1v1h-1zM151 70h1v1h-1zM112 71h1v1h-1zM133 71h1v1h-1zM151 71h1v1h-1zM123 72h1v1h-1zM133 72h1v1h-1zM123 73h1v1h-1zM133 73h1v1h-1zM151 73h1v1h-1zM122 74h1v1h-1zM146 74h2v1h-2zM134 75h1v1h-1zM145 75h1v1h-1zM134 76h1v1h-1zM144 76h1v1h-1zM158 76h8v1h-8zM121 77h1v1h-1zM135 77h4v1h-4zM144 77h1v1h-1zM158 77h8v1h-8zM112 78h1v1h-1zM140 78h2v1h-2zM144 78h1v1h-1zM141 79h1v1h-1zM144 79h1v1h-1zM113 80h1v1h-1zM144 80h1v1h-1zM119 81h1v1h-1zM144 81h1v1h-1zM119 82h1v1h-1zM144 82h1v1h-1zM119 83h1v1h-1zM144 83h1v1h-1zM119 84h1v1h-1zM144 84h1v1h-1zM119 85h1v1h-1zM144 85h1v1h-1z"/>
<path fill="#dfff20" d="M145 48h1v1h-1zM139 50h1v1h-1zM147 50h1v1h-1zM147 51h1v1h-1zM112 53h1v1h-1zM147 54h1v1h-1zM113 55h1v1h-1zM147 55h1v1h-1zM139 57h1v1h-1zM146 57h1v1h-1zM113 58h1v1h-1zM140 58h1v1h-1zM146 58h1v1h-1zM141 59h1v1h-1zM146 59h1v1h-1zM112 60h1v1h-1zM142 60h5v1h-5zM143 61h11v1h-11zM143 62h9v1h-9zM143 63h9v1h-9zM127 64h1v1h-1zM142 64h9v1h-9zM112 65h1v1h-1zM126 65h25v1h-25zM124 66h1v1h-1zM132 66h19v1h-19zM113 67h1v1h-1zM122 67h1v1h-1zM133 67h18v1h-18zM120 68h1v1h-1zM134 68h17v1h-17zM120 69h1v1h-1zM134 69h17v1h-17zM113 70h1v1h-1zM121 70h1v1h-1zM134 70h17v1h-17zM122 71h1v1h-1zM134 71h17v1h-17zM112 72h1v1h-1zM134 72h18v1h-18zM134 73h17v1h-17zM134 74h12v1h-12zM135 75h10v1h-10zM121 76h1v1h-1zM135 76h9v1h-9zM112 77h1v1h-1zM139 77h5v1h-5zM120 78h1v1h-1zM142 78h2v1h-2zM113 79h1v1h-1zM142 79h2v1h-2zM119 80h1v1h-1zM142 80h2v1h-2zM114 81h5v1h-5zM142 81h2v1h-2zM114 82h5v1h-5zM142 82h2v1h-2zM114 83h5v1h-5zM142 83h2v1h-2zM114 84h5v1h-5zM142 84h2v1h-2zM114 85h5v1h-5zM142 85h2v1h-2z"/>
<path fill="#efff10" d="M126 17h2v1h-2zM126 18h2v1h-2zM126 19h2v1h-2zM126 20h2v1h-2zM112 32h1v1h-1zM112 33h1v1h-1zM126 37h2v1h-2zM126 38h2v1h-2zM126 39h2v1h-2zM112 40h1v1h-1zM126 40h2v1h-2zM112 41h1v1h-1zM126 41h2v1h-2zM112 42h1v1h-1zM126 42h2v1h-2zM112 43h1v1h-1zM126 43h2v1h-2zM112 44h1v1h-1zM126 44h2v1h-2zM112 45h1v1h-1zM140 48h1v1h-1zM146 48h1v1h-1zM139 49h1v1h-1zM147 49h1v1h-1zM112 52h1v1h-1zM138 52h1v1h-1zM138 53h1v1h-1zM138 54h1v1h-1zM138 55h1v1h-1zM114 56h5v1h-5zM138 56h1v1h-1zM147 56h1v1h-1zM114 57h5v1h-5zM147 57h1v1h-1zM139 58h1v1h-1zM147 58h1v1h-1zM140 59h1v1h-1zM147 59h2v1h-2zM141 60h1v1h-1zM147 60h19v1h-19zM112 61h1v1h-1zM126 61h2v1h-2zM142 61h1v1h-1zM112 62h1v1h-1zM126 62h3v1h-3zM141 62h2v1h-2zM112 63h1v1h-1zM126 63h4v1h-4zM140 63h3v1h-3zM112 64h1v1h-1zM126 64h1v1h-1zM128 64h14v1h-14zM125 65h1v1h-1zM123 66h1v1h-1zM121 67h1v1h-1zM114 68h6v1h-6zM114 69h6v1h-6zM120 70h1v1h-1zM121 71h1v1h-1zM122 72h1v1h-1zM112 73h1v1h-1zM122 73h1v1h-1zM112 74h1v1h-1zM112 75h1v1h-1zM121 75h1v1h-1zM112 76h1v1h-1zM119 79h1v1h-1zM114 80h5v1h-5z"/>
<path fill="#ffff00" d="M126 16h2v1h-2zM126 21h2v1h-2zM112 30h1v1h-1zM112 31h1v1h-1zM112 34h1v1h-1zM112 35h1v1h-1zM126 36h2v1h-2zM125 37h1v1h-1zM128 37h1v1h-1zM112 38h1v1h-1zM125 38h1v1h-1zM128 38h1v1h-1zM112 39h1v1h-1zM125 39h1v1h-1zM128 39h1v1h-1zM125 40h1v1h-1zM128 40h1v1h-1zM125 41h1v1h-1zM128 41h1v1h-1zM125 42h1v1h-1zM128 42h1v1h-1zM125 43h1v1h-1zM128 43h1v1h-1zM125 44h1v1h-1zM128 44h1v1h-1zM126 45h2v1h-2zM112 46h1v1h-1zM112 47h1v1h-1zM142 47h2v1h-2zM112 50h1v1h-1zM138 50h1v1h-1zM112 51h1v1h-1zM138 51h1v1h-1zM148 51h1v1h-1zM126 52h2v1h-2zM148 52h1v1h-1zM125 53h3v1h-3zM148 53h1v1h-1zM113 54h1v1h-1zM148 54h1v1h-1zM119 56h2v1h-2zM119 57h2v1h-2zM138 57h1v1h-1zM148 58h1v1h-1zM113 59h1v1h-1zM139 59h1v1h-1zM149 59h1v1h-1zM125 60h3v1h-3zM140 60h1v1h-1zM125 61h1v1h-1zM128 61h2v1h-2zM140 61h2v1h-2zM125 62h1v1h-1zM129 62h2v1h-2zM139 62h2v1h-2zM125 63h1v1h-1zM130 63h3v1h-3zM137 63h3v1h-3zM125 64h1v1h-1zM124 65h1v1h-1zM113 66h1v1h-1zM122 66h1v1h-1zM120 67h1v1h-1zM113 71h1v1h-1zM121 74h1v1h-1zM120 77h1v1h-1zM113 78h1v1h-1z"/>
<path fill="#ffef00" d="M112 0h1v1h-1zM112 1h1v1h-1zM112 2h1v1h-1zM112 3h1v1h-1zM112 4h1v1h-1zM112 5h1v1h-1zM112 6h1v1h-1zM112 7h1v1h-1zM112 8h1v1h-1zM112 9h1v1h-1zM112 10h1v1h-1zM112 11h1v1h-1zM112 12h1v1h-1zM112 13h1v1h-1zM112 14h1v1h-1zM112 15h1v1h-1zM112 16h1v1h-1zM112 17h1v1h-1zM125 17h1v1h-1zM128 17h1v1h-1zM112 18h1v1h-1zM125 18h1v1h-1zM128 18h1v1h-1zM112 19h1v1h-1zM125 19h1v1h-1zM128 19h1v1h-1zM112 20h1v1h-1zM125 20h1v1h-1zM128 20h1v1h-1zM112 21h1v1h-1zM112 22h1v1h-1zM112 23h1v1h-1zM112 24h1v1h-1zM112 25h1v1h-1zM112 26h1v1h-1zM112 27h1v1h-1zM112 28h1v1h-1zM112 29h1v1h-1zM112 36h1v1h-1zM125 36h1v1h-1zM128 36h2v1h-2zM112 37h1v1h-1zM129 37h1v1h-1zM129 38h1v1h-1zM124 39h1v1h-1zM129 39h1v1h-1zM124 40h1v1h-1zM129 40h1v1h-1zM124 41h1v1h-1zM129 41h1v1h-1zM124 42h1v1h-1zM129 42h1v1h-1zM124 43h1v1h-1zM129 43h1v1h-1zM124 44h1v1h-1zM129 44h1v1h-1zM125 45h1v1h-1zM128 45h1v1h-1zM141 47h1v1h-1zM144 47h1v1h-1zM112 48h1v1h-1zM139 48h1v1h-1zM147 48h1v1h-1zM112 49h1v1h-1zM138 49h1v1h-1zM148 49h1v1h-1zM148 50h1v1h-1zM125 52h1v1h-1zM128 52h1v1h-1zM113 53h1v1h-1zM124 53h1v1h-1zM128 53h1v1h-1zM126 54h1v1h-1zM114 55h6v1h-6zM148 55h1v1h-1zM121 56h1v1h-1zM137 56h1v1h-1zM148 56h1v1h-1zM121 57h1v1h-1zM148 57h1v1h-1zM114 58h6v1h-6zM138 58h1v1h-1zM149 58h1v1h-1zM126 59h1v1h-1zM138 59h1v1h-1zM150 59h16v1h-16zM113 60h1v1h-1zM124 60h1v1h-1zM128 60h2v1h-2zM139 60h1v1h-1zM124 61h1v1h-1zM130 61h1v1h-1zM139 61h1v1h-1zM124 62h1v1h-1zM131 62h1v1h-1zM138 62h1v1h-1zM124 63h1v1h-1zM133 63h4v1h-4zM124 64h1v1h-1zM113 65h1v1h-1zM123 65h1v1h-1zM121 66h1v1h-1zM114 67h6v1h-6zM114 70h6v1h-6zM120 71h1v1h-1zM113 72h1v1h-1zM121 72h1v1h-1zM121 73h1v1h-1zM120 76h1v1h-1zM113 77h1v1h-1zM119 78h1v1h-1zM114 79h5v1h-5z"/>
<path fill="#ffdf00" d="M125 16h1v1h-1zM128 16h1v1h-1zM124 17h1v1h-1zM129 17h1v1h-1zM124 18h1v1h-1zM129 18h1v1h-1zM124 19h1v1h-1zM129 19h1v1h-1zM124 20h1v1h-1zM129 20h1v1h-1zM125 21h1v1h-1zM128 21h1v1h-1zM113 32h1v1h-1zM113 33h1v1h-1zM126 35h3v1h-3zM130 36h1v1h-1zM124 37h1v1h-1zM130 37h1v1h-1zM124 38h1v1h-1zM130 38h1v1h-1zM123 39h1v1h-1zM130 39h1v1h-1zM113 40h1v1h-1zM123 40h1v1h-1zM130 40h1v1h-1zM113 41h1v1h-1zM123 41h1v1h-1zM130 41h1v1h-1zM113 42h1v1h-1zM123 42h1v1h-1zM130 42h1v1h-1zM113 43h1v1h-1zM123 43h1v1h-1zM130 43h1v1h-1zM113 44h1v1h-1zM123 44h1v1h-1zM130 44h1v1h-1zM113 45h1v1h-1zM124 45h1v1h-1zM129 45h1v1h-1zM125 46h4v1h-4zM140 47h1v1h-1zM145 47h1v1h-1zM125 51h3v1h-3zM149 51h1v1h-1zM113 52h1v1h-1zM124 52h1v1h-1zM137 52h1v1h-1zM149 52h1v1h-1zM123 53h1v1h-1zM137 53h1v1h-1zM149 53h1v1h-1zM122 54h4v1h-4zM127 54h1v1h-1zM137 54h1v1h-1zM149 54h1v1h-1zM120 55h4v1h-4zM137 55h1v1h-1zM122 56h1v1h-1zM122 57h1v1h-1zM137 57h1v1h-1zM120 58h4v1h-4zM137 58h1v1h-1zM122 59h4v1h-4zM127 59h2v1h-2zM123 60h1v1h-1zM130 60h1v1h-1zM138 60h1v1h-1zM113 61h1v1h-1zM123 61h1v1h-1zM131 61h1v1h-1zM138 61h1v1h-1zM113 62h1v1h-1zM123 62h1v1h-1zM132 62h2v1h-2zM136 62h2v1h-2zM113 63h1v1h-1zM123 63h1v1h-1zM113 64h1v1h-1zM123 64h1v1h-1zM122 65h1v1h-1zM120 66h1v1h-1zM119 71h1v1h-1zM120 72h1v1h-1zM113 73h1v1h-1zM113 74h1v1h-1zM120 74h1v1h-1zM113 75h1v1h-1zM120 75h1v1h-1zM113 76h1v1h-1z"/>
<path fill="#ffcf00" d="M126 15h2v1h-2zM124 16h1v1h-1zM129 16h1v1h-1zM123 17h1v1h-1zM130 17h1v1h-1zM123 18h1v1h-1zM130 18h1v1h-1zM123 19h1v1h-1zM130 19h1v1h-1zM123 20h1v1h-1zM130 20h1v1h-1zM124 21h1v1h-1zM129 21h1v1h-1zM126 22h2v1h-2zM113 31h1v1h-1zM113 34h1v1h-1zM126 34h2v1h-2zM125 35h1v1h-1zM129 35h2v1h-2zM124 36h1v1h-1zM131 36h1v1h-1zM123 37h1v1h-1zM131 37h1v1h-1zM123 38h1v1h-1zM131 38h1v1h-1zM113 39h1v1h-1zM131 39h1v1h-1zM122 40h1v1h-1zM131 40h1v1h-1zM122 41h1v1h-1zM131 41h1v1h-1zM122 42h1v1h-1zM131 42h1v1h-1zM122 43h1v1h-1zM131 43h1v1h-1zM122 44h1v1h-1zM131 44h1v1h-1zM122 45h2v1h-2zM130 45h2v1h-2zM113 46h1v1h-1zM124 46h1v1h-1zM129 46h1v1h-1zM139 47h1v1h-1zM146 47h1v1h-1zM138 48h1v1h-1zM148 48h1v1h-1zM149 49h1v1h-1zM137 50h1v1h-1zM149 50h1v1h-1zM113 51h1v1h-1zM124 51h1v1h-1zM128 51h1v1h-1zM137 51h1v1h-1zM122 52h2v1h-2zM129 52h1v1h-1zM121 53h2v1h-2zM129 53h1v1h-1zM114 54h8v1h-8zM128 54h1v1h-1zM124 55h4v1h-4zM149 55h1v1h-1zM123 56h2v1h-2zM136 56h1v1h-1zM149 56h1v1h-1zM123 57h2v1h-2zM136 57h1v1h-1zM149 57h1v1h-1zM124 58h4v1h-4zM150 58h16v1h-16zM114 59h8v1h-8zM129 59h2v1h-2zM137 59h1v1h-1zM121 60h2v1h-2zM131 60h1v1h-1zM137 60h1v1h-1zM122 61h1v1h-1zM132 61h1v1h-1zM137 61h1v1h-1zM122 62h1v1h-1zM134 62h2v1h-2zM122 63h1v1h-1zM122 64h1v1h-1zM121 65h1v1h-1zM114 66h6v1h-6zM114 71h5v1h-5zM120 73h1v1h-1zM119 77h1v1h-1zM114 78h5v1h-5z"/>
<path fill="#ffbf00" d="M125 15h1v1h-1zM128 15h1v1h-1zM123 16h1v1h-1zM130 16h1v1h-1zM123 21h1v1h-1zM130 21h1v1h-1zM125 22h1v1h-1zM128 22h1v1h-1zM113 30h1v1h-1zM125 34h1v1h-1zM128 34h3v1h-3zM113 35h1v1h-1zM123 35h2v1h-2zM131 35h1v1h-1zM123 36h1v1h-1zM132 36h1v1h-1zM132 37h1v1h-1zM113 38h1v1h-1zM122 38h1v1h-1zM132 38h1v1h-1zM122 39h1v1h-1zM132 39h1v1h-1zM121 40h1v1h-1zM132 40h1v1h-1zM121 41h1v1h-1zM132 41h1v1h-1zM121 42h1v1h-1zM132 42h1v1h-1zM121 43h1v1h-1zM132 43h1v1h-1zM121 44h1v1h-1zM132 44h1v1h-1zM121 45h1v1h-1zM132 45h1v1h-1zM123 46h1v1h-1zM130 46h1v1h-1zM113 47h1v1h-1zM125 47h4v1h-4zM138 47h1v1h-1zM147 47h1v1h-1zM137 48h1v1h-1zM149 48h1v1h-1zM137 49h1v1h-1zM113 50h1v1h-1zM125 50h4v1h-4zM123 51h1v1h-1zM129 51h1v1h-1zM121 52h1v1h-1zM130 52h1v1h-1zM114 53h1v1h-1zM120 53h1v1h-1zM130 53h1v1h-1zM129 54h2v1h-2zM136 54h1v1h-1zM128 55h1v1h-1zM136 55h1v1h-1zM125 56h1v1h-1zM125 57h1v1h-1zM150 57h1v1h-1zM128 58h3v1h-3zM136 58h1v1h-1zM131 59h1v1h-1zM136 59h1v1h-1zM114 60h1v1h-1zM120 60h1v1h-1zM132 60h1v1h-1zM136 60h1v1h-1zM121 61h1v1h-1zM133 61h1v1h-1zM136 61h1v1h-1zM121 62h1v1h-1zM121 63h1v1h-1zM121 64h1v1h-1zM114 65h1v1h-1zM120 65h1v1h-1zM114 72h1v1h-1zM119 72h1v1h-1zM119 76h1v1h-1zM114 77h1v1h-1z"/>
<path fill="#ffaf00" d="M113 0h1v1h-1zM113 1h1v1h-1zM113 2h1v1h-1zM113 3h1v1h-1zM113 4h1v1h-1zM113 5h1v1h-1zM113 6h1v1h-1zM113 7h1v1h-1zM113 8h1v1h-1zM113 9h1v1h-1zM113 10h1v1h-1zM113 11h1v1h-1zM113 12h1v1h-1zM113 13h1v1h-1zM113 14h1v1h-1zM113 15h1v1h-1zM124 15h1v1h-1zM129 15h1v1h-1zM113 16h1v1h-1zM113 17h1v1h-1zM122 17h1v1h-1zM131 17h1v1h-1zM113 18h1v1h-1zM122 18h1v1h-1zM131 18h1v1h-1zM113 19h1v1h-1zM122 19h1v1h-1zM131 19h1v1h-1zM113 20h1v1h-1zM122 20h1v1h-1zM131 20h1v1h-1zM113 21h1v1h-1zM113 22h1v1h-1zM124 22h1v1h-1zM129 22h1v1h-1zM113 23h1v1h-1zM113 24h1v1h-1zM113 25h1v1h-1zM113 26h1v1h-1zM113 27h1v1h-1zM113 28h1v1h-1zM113 29h1v1h-1zM125 33h5v1h-5zM123 34h2v1h-2zM131 34h2v1h-2zM122 35h1v1h-1zM132 35h2v1h-2zM113 36h1v1h-1zM122 36h1v1h-1zM133 36h1v1h-1zM113 37h1v1h-1zM122 37h1v1h-1zM133 37h1v1h-1zM121 38h1v1h-1zM133 38h1v1h-1zM121 39h1v1h-1zM133 39h1v1h-1zM120 40h1v1h-1zM133 40h1v1h-1zM114 41h1v1h-1zM120 41h1v1h-1zM133 41h1v1h-1zM114 42h1v1h-1zM120 42h1v1h-1zM133 42h1v1h-1zM114 43h1v1h-1zM120 43h1v1h-1zM133 43h1v1h-1zM114 44h1v1h-1zM120 44h1v1h-1zM133 44h1v1h-1zM120 45h1v1h-1zM133 45h1v1h-1zM122 46h1v1h-1zM131 46h1v1h-1zM142 46h2v1h-2zM124 47h1v1h-1zM129 47h1v1h-1zM148 47h1v1h-1zM113 48h1v1h-1zM126 48h2v1h-2zM113 49h1v1h-1zM126 49h2v1h-2zM150 49h1v1h-1zM124 50h1v1h-1zM129 50h1v1h-1zM150 50h1v1h-1zM122 51h1v1h-1zM130 51h1v1h-1zM150 51h1v1h-1zM120 52h1v1h-1zM131 52h1v1h-1zM136 52h1v1h-1zM150 52h1v1h-1zM115 53h5v1h-5zM131 53h1v1h-1zM136 53h1v1h-1zM150 53h1v1h-1zM131 54h1v1h-1zM150 54h1v1h-1zM129 55h2v1h-2zM150 55h1v1h-1zM126 56h3v1h-3zM150 56h1v1h-1zM126 57h4v1h-4zM135 57h1v1h-1zM151 57h15v1h-15zM131 58h2v1h-2zM135 58h1v1h-1zM132 59h2v1h-2zM135 59h1v1h-1zM115 60h5v1h-5zM133 60h1v1h-1zM114 61h1v1h-1zM120 61h1v1h-1zM134 61h2v1h-2zM114 62h1v1h-1zM120 62h1v1h-1zM114 63h1v1h-1zM120 63h1v1h-1zM114 64h1v1h-1zM120 64h1v1h-1zM115 65h5v1h-5zM115 72h4v1h-4zM114 73h1v1h-1zM119 73h1v1h-1zM114 74h1v1h-1zM119 74h1v1h-1zM114 75h1v1h-1zM119 75h1v1h-1zM114 76h1v1h-1zM115 77h4v1h-4z"/>
<path fill="#ff9f00" d="M125 14h4v1h-4zM123 15h1v1h-1zM130 15h1v1h-1zM122 16h1v1h-1zM131 16h1v1h-1zM121 17h1v1h-1zM132 17h1v1h-1zM121 18h1v1h-1zM132 18h1v1h-1zM121 19h1v1h-1zM132 19h1v1h-1zM121 20h1v1h-1zM132 20h1v1h-1zM122 21h1v1h-1zM131 21h1v1h-1zM123 22h1v1h-1zM130 22h1v1h-1zM125 23h3v1h-3zM114 32h1v1h-1zM114 33h1v1h-1zM119 33h6v1h-6zM130 33h6v1h-6zM121 34h2v1h-2zM133 34h3v1h-3zM121 35h1v1h-1zM134 35h2v1h-2zM121 36h1v1h-1zM134 36h1v1h-1zM121 37h1v1h-1zM134 37h1v1h-1zM134 38h2v1h-2zM120 39h1v1h-1zM134 39h2v1h-2zM114 40h1v1h-1zM119 40h1v1h-1zM134 40h2v1h-2zM115 41h5v1h-5zM134 41h2v1h-2zM115 42h5v1h-5zM134 42h2v1h-2zM115 43h5v1h-5zM134 43h2v1h-2zM115 44h5v1h-5zM134 44h1v1h-1zM114 45h1v1h-1zM119 45h1v1h-1zM134 45h1v1h-1zM120 46h2v1h-2zM132 46h2v1h-2zM138 46h4v1h-4zM144 46h2v1h-2zM122 47h2v1h-2zM130 47h2v1h-2zM137 47h1v1h-1zM149 47h1v1h-1zM124 48h2v1h-2zM128 48h2v1h-2zM136 48h1v1h-1zM150 48h1v1h-1zM124 49h2v1h-2zM128 49h1v1h-1zM136 49h1v1h-1zM151 49h1v1h-1zM122 50h2v1h-2zM130 50h1v1h-1zM136 50h1v1h-1zM151 50h1v1h-1zM120 51h2v1h-2zM131 51h1v1h-1zM136 51h1v1h-1zM151 51h2v1h-2zM114 52h1v1h-1zM119 52h1v1h-1zM151 52h7v1h-7zM132 53h1v1h-1zM151 53h15v1h-15zM132 54h1v1h-1zM151 54h15v1h-15zM131 55h2v1h-2zM135 55h1v1h-1zM151 55h15v1h-15zM129 56h7v1h-7zM151 56h15v1h-15zM130 57h5v1h-5zM133 58h2v1h-2zM134 59h1v1h-1zM134 60h2v1h-2zM115 61h5v1h-5zM115 62h5v1h-5zM115 63h5v1h-5zM115 64h5v1h-5zM115 73h4v1h-4zM115 74h4v1h-4zM115 75h4v1h-4zM115 76h4v1h-4z"/>
<path fill="#ff8f00" d="M125 8h4v1h-4zM141 8h4v1h-4zM125 9h4v1h-4zM141 9h4v1h-4zM123 14h2v1h-2zM129 14h2v1h-2zM122 15h1v1h-1zM131 15h1v1h-1zM121 16h1v1h-1zM132 16h1v1h-1zM121 21h1v1h-1zM132 21h1v1h-1zM122 22h1v1h-1zM123 23h2v1h-2zM128 23h1v1h-1zM114 31h1v1h-1zM115 32h22v1h-22zM115 33h4v1h-4zM136 33h2v1h-2zM114 34h1v1h-1zM119 34h2v1h-2zM136 34h1v1h-1zM120 35h1v1h-1zM136 35h1v1h-1zM135 36h2v1h-2zM157 36h9v1h-9zM120 37h1v1h-1zM135 37h2v1h-2zM158 37h8v1h-8zM120 38h1v1h-1zM136 38h1v1h-1zM114 39h1v1h-1zM119 39h1v1h-1zM136 39h1v1h-1zM115 40h4v1h-4zM136 40h2v1h-2zM136 41h2v1h-2zM136 42h1v1h-1zM136 43h1v1h-1zM135 44h2v1h-2zM158 44h8v1h-8zM115 45h4v1h-4zM135 45h2v1h-2zM156 45h10v1h-10zM114 46h1v1h-1zM119 46h1v1h-1zM134 46h4v1h-4zM146 46h3v1h-3zM120 47h2v1h-2zM132 47h2v1h-2zM136 47h1v1h-1zM150 47h1v1h-1zM123 48h1v1h-1zM130 48h1v1h-1zM151 48h3v1h-3zM123 49h1v1h-1zM129 49h2v1h-2zM152 49h2v1h-2zM120 50h2v1h-2zM131 50h1v1h-1zM152 50h4v1h-4zM114 51h1v1h-1zM119 51h1v1h-1zM132 51h1v1h-1zM153 51h6v1h-6zM115 52h4v1h-4zM132 52h1v1h-1zM158 52h8v1h-8zM133 54h1v1h-1zM135 54h1v1h-1zM133 55h2v1h-2z"/>
<path fill="#ff8000" d="M124 7h6v1h-6zM140 7h6v1h-6zM122 8h3v1h-3zM129 8h3v1h-3zM138 8h3v1h-3zM145 8h3v1h-3zM122 9h3v1h-3zM129 9h3v1h-3zM138 9h3v1h-3zM145 9h3v1h-3zM124 10h6v1h-6zM140 10h6v1h-6zM122 14h1v1h-1zM131 14h1v1h-1zM121 15h1v1h-1zM132 15h1v1h-1zM120 16h1v1h-1zM133 16h1v1h-1zM120 17h1v1h-1zM133 17h1v1h-1zM120 18h1v1h-1zM133 18h1v1h-1zM120 19h1v1h-1zM133 19h1v1h-1zM120 20h1v1h-1zM133 20h1v1h-1zM120 21h1v1h-1zM133 21h1v1h-1zM121 22h1v1h-1zM131 22h1v1h-1zM122 23h1v1h-1zM129 23h1v1h-1zM114 29h1v1h-1zM114 30h21v1h-21zM115 31h23v1h-23zM137 32h3v1h-3zM138 33h1v1h-1zM115 34h4v1h-4zM137 34h2v1h-2zM159 34h7v1h-7zM114 35h6v1h-6zM137 35h1v1h-1zM156 35h10v1h-10zM114 36h1v1h-1zM120 36h1v1h-1zM137 36h1v1h-1zM154 36h3v1h-3zM114 37h1v1h-1zM137 37h1v1h-1zM155 37h3v1h-3zM114 38h6v1h-6zM137 38h1v1h-1zM115 39h4v1h-4zM137 39h2v1h-2zM138 40h1v1h-1zM138 41h1v1h-1zM137 42h2v1h-2zM137 43h1v1h-1zM137 44h1v1h-1zM155 44h3v1h-3zM137 45h2v1h-2zM154 45h2v1h-2zM115 46h4v1h-4zM149 46h17v1h-17zM114 47h6v1h-6zM134 47h2v1h-2zM151 47h15v1h-15zM114 48h1v1h-1zM121 48h2v1h-2zM131 48h2v1h-2zM135 48h1v1h-1zM154 48h2v1h-2zM114 49h1v1h-1zM121 49h2v1h-2zM131 49h2v1h-2zM154 49h3v1h-3zM114 50h6v1h-6zM132 50h1v1h-1zM156 50h10v1h-10zM115 51h4v1h-4zM133 51h1v1h-1zM135 51h1v1h-1zM159 51h7v1h-7zM133 52h1v1h-1zM135 52h1v1h-1zM133 53h1v1h-1zM135 53h1v1h-1zM134 54h1v1h-1z"/>
<path fill="#ff7000" d="M114 0h1v1h-1zM114 1h1v1h-1zM114 2h1v1h-1zM114 3h1v1h-1zM114 4h1v1h-1zM114 5h1v1h-1zM126 5h2v1h-2zM142 5h2v1h-2zM114 6h1v1h-1zM121 6h12v1h-12zM137 6h12v1h-12zM114 7h1v1h-1zM120 7h4v1h-4zM130 7h4v1h-4zM136 7h4v1h-4zM146 7h4v1h-4zM114 8h1v1h-1zM120 8h2v1h-2zM132 8h2v1h-2zM136 8h2v1h-2zM148 8h2v1h-2zM114 9h1v1h-1zM120 9h2v1h-2zM132 9h2v1h-2zM136 9h2v1h-2zM148 9h2v1h-2zM114 10h1v1h-1zM120 10h4v1h-4zM130 10h4v1h-4zM136 10h4v1h-4zM146 10h4v1h-4zM114 11h1v1h-1zM121 11h12v1h-12zM137 11h12v1h-12zM114 12h1v1h-1zM126 12h2v1h-2zM142 12h2v1h-2zM114 13h1v1h-1zM121 13h12v1h-12zM114 14h1v1h-1zM120 14h2v1h-2zM132 14h2v1h-2zM114 15h1v1h-1zM119 15h2v1h-2zM133 15h2v1h-2zM114 16h1v1h-1zM119 16h1v1h-1zM134 16h1v1h-1zM114 17h1v1h-1zM119 17h1v1h-1zM134 17h1v1h-1zM114 18h1v1h-1zM119 18h1v1h-1zM134 18h1v1h-1zM114 19h1v1h-1zM119 19h1v1h-1zM134 19h1v1h-1zM114 20h1v1h-1zM119 20h1v1h-1zM134 20h1v1h-1zM114 21h1v1h-1zM119 21h1v1h-1zM114 22h1v1h-1zM119 22h2v1h-2zM132 22h1v1h-1zM114 23h1v1h-1zM120 23h2v1h-2zM130 23h2v1h-2zM114 24h1v1h-1zM121 24h8v1h-8zM114 25h1v1h-1zM114 26h1v1h-1zM114 27h1v1h-1zM114 28h1v1h-1zM115 29h21v1h-21zM135 30h6v1h-6zM138 31h4v1h-4zM140 32h2v1h-2zM139 33h2v1h-2zM158 33h8v1h-8zM139 34h1v1h-1zM153 34h6v1h-6zM138 35h1v1h-1zM152 35h4v1h-4zM115 36h5v1h-5zM138 36h1v1h-1zM152 36h2v1h-2zM115 37h5v1h-5zM138 37h1v1h-1zM152 37h3v1h-3zM138 38h1v1h-1zM155 38h11v1h-11zM139 39h1v1h-1zM139 40h2v1h-2zM139 41h2v1h-2zM139 42h1v1h-1zM138 43h1v1h-1zM155 43h11v1h-11zM138 44h1v1h-1zM152 44h3v1h-3zM139 45h1v1h-1zM151 45h3v1h-3zM115 48h6v1h-6zM133 48h2v1h-2zM156 48h10v1h-10zM115 49h6v1h-6zM133 49h1v1h-1zM135 49h1v1h-1zM157 49h9v1h-9zM133 50h1v1h-1zM135 50h1v1h-1zM134 51h1v1h-1zM134 52h1v1h-1zM134 53h1v1h-1z"/>
<path fill="#ff6000" d="M115 0h51v1h-51zM115 1h51v1h-51zM115 2h51v1h-51zM115 3h51v1h-51zM115 4h51v1h-51zM115 5h11v1h-11zM128 5h14v1h-14zM144 5h22v1h-22zM115 6h6v1h-6zM133 6h4v1h-4zM149 6h17v1h-17zM115 7h5v1h-5zM134 7h2v1h-2zM150 7h16v1h-16zM115 8h5v1h-5zM134 8h2v1h-2zM150 8h16v1h-16zM115 9h5v1h-5zM134 9h2v1h-2zM150 9h16v1h-16zM115 10h5v1h-5zM134 10h2v1h-2zM150 10h16v1h-16zM115 11h6v1h-6zM133 11h4v1h-4zM149 11h17v1h-17zM115 12h11v1h-11zM128 12h14v1h-14zM144 12h22v1h-22zM115 13h6v1h-6zM133 13h33v1h-33zM115 14h5v1h-5zM134 14h12v1h-12zM156 14h10v1h-10zM115 15h4v1h-4zM135 15h10v1h-10zM157 15h9v1h-9zM115 16h4v1h-4zM135 16h9v1h-9zM158 16h8v1h-8zM115 17h4v1h-4zM135 17h9v1h-9zM158 17h8v1h-8zM115 18h4v1h-4zM135 18h10v1h-10zM157 18h9v1h-9zM115 19h4v1h-4zM135 19h11v1h-11zM156 19h10v1h-10zM115 20h4v1h-4zM135 20h31v1h-31zM115 21h4v1h-4zM134 21h32v1h-32zM115 22h4v1h-4zM133 22h1v1h-1zM140 22h6v1h-6zM156 22h10v1h-10zM115 23h5v1h-5zM132 23h1v1h-1zM141 23h4v1h-4zM157 23h9v1h-9zM115 24h6v1h-6zM129 24h1v1h-1zM142 24h2v1h-2zM158 24h8v1h-8zM115 25h13v1h-13zM142 25h2v1h-2zM158 25h8v1h-8zM115 26h14v1h-14zM141 26h4v1h-4zM157 26h9v1h-9zM115 27h15v1h-15zM140 27h6v1h-6zM156 27h10v1h-10zM115 28h51v1h-51zM136 29h30v1h-30zM141 30h25v1h-25zM142 31h24v1h-24zM142 32h24v1h-24zM141 33h17v1h-17zM140 34h2v1h-2zM148 34h5v1h-5zM139 35h2v1h-2zM149 35h3v1h-3zM139 36h1v1h-1zM150 36h2v1h-2zM139 37h1v1h-1zM150 37h2v1h-2zM139 38h2v1h-2zM149 38h6v1h-6zM140 39h2v1h-2zM148 39h8v1h-8zM141 40h12v1h-12zM141 41h12v1h-12zM140 42h2v1h-2zM148 42h8v1h-8zM139 43h2v1h-2zM149 43h6v1h-6zM139 44h1v1h-1zM150 44h2v1h-2zM140 45h2v1h-2zM145 45h6v1h-6zM134 49h1v1h-1zM134 50h1v1h-1z"/>
<path fill="#ff5000" d="M146 14h10v1h-10zM145 15h3v1h-3zM154 15h3v1h-3zM144 16h3v1h-3zM155 16h3v1h-3zM144 17h3v1h-3zM155 17h3v1h-3zM145 18h3v1h-3zM154 18h3v1h-3zM146 19h10v1h-10zM134 22h6v1h-6zM146 22h10v1h-10zM133 23h1v1h-1zM138 23h3v1h-3zM145 23h3v1h-3zM154 23h3v1h-3zM130 24h2v1h-2zM139 24h3v1h-3zM144 24h3v1h-3zM155 24h3v1h-3zM128 25h3v1h-3zM139 25h3v1h-3zM144 25h3v1h-3zM155 25h3v1h-3zM129 26h3v1h-3zM138 26h3v1h-3zM145 26h3v1h-3zM154 26h3v1h-3zM130 27h10v1h-10zM146 27h10v1h-10zM142 34h6v1h-6zM141 35h1v1h-1zM146 35h3v1h-3zM140 36h1v1h-1zM147 36h3v1h-3zM140 37h1v1h-1zM147 37h3v1h-3zM141 38h1v1h-1zM146 38h3v1h-3zM142 39h6v1h-6zM156 39h10v1h-10zM153 40h2v1h-2zM153 41h2v1h-2zM142 42h6v1h-6zM156 42h10v1h-10zM141 43h1v1h-1zM146 43h3v1h-3zM140 44h1v1h-1zM147 44h3v1h-3zM142 45h3v1h-3z"/>
<path fill="#ff4000" d="M148 15h6v1h-6zM147 16h2v1h-2zM153 16h2v1h-2zM147 17h2v1h-2zM153 17h2v1h-2zM148 18h6v1h-6zM134 23h4v1h-4zM148 23h6v1h-6zM132 24h2v1h-2zM137 24h2v1h-2zM147 24h2v1h-2zM153 24h2v1h-2zM131 25h2v1h-2zM137 25h2v1h-2zM147 25h2v1h-2zM153 25h2v1h-2zM132 26h6v1h-6zM148 26h6v1h-6zM142 35h4v1h-4zM141 36h1v1h-1zM145 36h2v1h-2zM141 37h1v1h-1zM145 37h2v1h-2zM142 38h4v1h-4zM155 40h3v1h-3zM155 41h3v1h-3zM142 43h4v1h-4zM141 44h1v1h-1zM145 44h2v1h-2z"/>
<path fill="#ff3000" d="M149 16h4v1h-4zM149 17h4v1h-4zM134 24h3v1h-3zM149 24h4v1h-4zM133 25h4v1h-4zM149 25h4v1h-4zM142 36h3v1h-3zM142 37h3v1h-3zM158 40h8v1h-8zM158 41h8v1h-8zM142 44h3v1h-3z"/>
</g></g></g>
<clipPath id="clipf"><rect x="1092.8" y="548.2" width="389.30" height="372.90"/></clipPath>
<g clip-path="url(#clipf)"><g filter="url(#blurf)">
<g transform="translate(1085.50,534.22) scale(2.4331,4.6612)" shape-rendering="crispEdges">
<path fill="#0040ff" d="M0 0h51v1h-51zM0 1h51v1h-51zM0 2h51v1h-51zM0 3h51v1h-51zM0 4h51v1h-51zM0 5h51v1h-51zM0 6h51v1h-51zM0 7h51v1h-51zM0 8h51v1h-51zM0 9h51v1h-51zM0 10h51v1h-51zM0 11h51v1h-51zM0 12h51v1h-51zM0 13h51v1h-51zM0 14h51v1h-51zM0 15h51v1h-51zM0 16h51v1h-51zM0 17h51v1h-51zM0 18h51v1h-51zM0 19h51v1h-51zM0 20h51v1h-51zM0 21h51v1h-51zM0 22h51v1h-51zM0 23h51v1h-51zM0 24h51v1h-51zM0 25h51v1h-51zM0 26h51v1h-51zM0 27h51v1h-51zM0 28h51v1h-51zM0 29h51v1h-51zM0 30h51v1h-51zM0 31h51v1h-51zM0 32h51v1h-51zM0 33h51v1h-51zM0 34h51v1h-51zM0 35h51v1h-51zM0 36h51v1h-51zM0 37h51v1h-51zM0 38h51v1h-51zM0 39h51v1h-51zM0 40h51v1h-51zM0 41h51v1h-51zM0 42h51v1h-51zM0 43h51v1h-51zM0 44h51v1h-51zM0 45h51v1h-51zM0 46h51v1h-51zM0 47h51v1h-51zM0 48h51v1h-51zM0 49h51v1h-51zM0 50h51v1h-51zM0 51h51v1h-51zM0 52h51v1h-51zM0 53h51v1h-51zM0 54h51v1h-51zM0 55h51v1h-51zM0 56h51v1h-51zM0 57h51v1h-51zM0 58h51v1h-51zM0 59h51v1h-51zM0 60h51v1h-51zM0 61h51v1h-51zM0 62h51v1h-51zM0 63h51v1h-51zM0 64h51v1h-51zM0 65h51v1h-51zM0 66h51v1h-51zM0 67h51v1h-51zM0 68h51v1h-51zM0 69h51v1h-51zM0 70h51v1h-51zM0 71h51v1h-51zM0 72h51v1h-51zM0 73h51v1h-51zM0 74h51v1h-51zM0 75h51v1h-51zM0 76h51v1h-51zM0 77h51v1h-51zM0 78h51v1h-51zM0 79h51v1h-51zM0 80h51v1h-51zM0 81h51v1h-51zM0 82h51v1h-51zM0 83h51v1h-51zM0 84h51v1h-51zM0 85h51v1h-51z"/>
<path fill="#0050ff" d="M51 0h1v1h-1zM51 1h1v1h-1zM51 2h1v1h-1zM51 3h1v1h-1zM51 4h1v1h-1zM51 5h1v1h-1zM51 6h1v1h-1zM51 7h1v1h-1zM51 8h1v1h-1zM51 9h1v1h-1zM51 10h1v1h-1zM51 11h1v1h-1zM51 12h1v1h-1zM51 13h1v1h-1zM51 14h1v1h-1zM51 15h1v1h-1zM51 16h1v1h-1zM51 17h1v1h-1zM51 18h1v1h-1zM51 19h1v1h-1zM51 20h1v1h-1zM51 21h1v1h-1zM51 22h1v1h-1zM51 23h1v1h-1zM51 24h1v1h-1zM51 25h1v1h-1zM51 26h1v1h-1zM51 27h1v1h-1zM51 28h1v1h-1zM51 29h1v1h-1zM51 30h1v1h-1zM51 31h1v1h-1zM51 32h1v1h-1zM51 33h1v1h-1zM51 34h1v1h-1zM51 35h1v1h-1zM51 36h1v1h-1zM51 37h1v1h-1zM51 38h1v1h-1zM51 39h1v1h-1zM51 40h1v1h-1zM51 41h1v1h-1zM51 42h1v1h-1zM51 43h1v1h-1zM51 44h1v1h-1zM51 45h1v1h-1zM51 46h1v1h-1zM51 47h1v1h-1zM51 48h1v1h-1zM51 49h1v1h-1zM51 50h1v1h-1zM51 51h1v1h-1zM51 52h1v1h-1zM51 53h1v1h-1zM51 54h1v1h-1zM51 55h1v1h-1zM51 56h1v1h-1zM51 57h1v1h-1zM51 58h1v1h-1zM51 59h1v1h-1zM51 60h1v1h-1zM51 61h1v1h-1zM51 62h1v1h-1zM51 63h1v1h-1zM51 64h1v1h-1zM51 65h1v1h-1zM51 66h1v1h-1zM51 67h1v1h-1zM51 68h1v1h-1zM51 69h1v1h-1zM51 70h1v1h-1zM51 71h1v1h-1zM51 72h1v1h-1zM51 73h1v1h-1zM51 74h1v1h-1zM51 75h1v1h-1zM51 76h1v1h-1zM51 77h1v1h-1zM51 78h1v1h-1zM51 79h1v1h-1zM51 80h1v1h-1zM51 81h1v1h-1zM51 82h1v1h-1zM51 83h1v1h-1zM51 84h1v1h-1zM51 85h1v1h-1z"/>
<path fill="#0070ff" d="M52 0h1v1h-1zM52 1h1v1h-1zM52 2h1v1h-1zM52 3h1v1h-1zM52 4h1v1h-1zM52 5h1v1h-1zM52 6h1v1h-1zM52 7h1v1h-1zM52 8h1v1h-1zM52 9h1v1h-1zM52 10h1v1h-1zM52 11h1v1h-1zM52 12h1v1h-1zM52 13h1v1h-1zM52 14h1v1h-1zM52 15h1v1h-1zM52 16h1v1h-1zM52 17h1v1h-1zM52 18h1v1h-1zM52 19h1v1h-1zM52 20h1v1h-1zM52 21h1v1h-1zM52 22h1v1h-1zM52 23h1v1h-1zM52 24h1v1h-1zM52 25h1v1h-1zM52 26h1v1h-1zM52 27h1v1h-1zM52 28h1v1h-1zM52 29h1v1h-1zM52 30h1v1h-1zM52 31h1v1h-1zM52 32h1v1h-1zM52 33h1v1h-1zM52 34h1v1h-1zM52 35h1v1h-1zM52 36h1v1h-1zM52 37h1v1h-1zM52 38h1v1h-1zM52 39h1v1h-1zM52 40h1v1h-1zM52 41h1v1h-1zM52 42h1v1h-1zM52 43h1v1h-1zM52 44h1v1h-1zM52 45h1v1h-1zM52 46h1v1h-1zM52 47h1v1h-1zM52 48h1v1h-1zM52 49h1v1h-1zM52 50h1v1h-1zM52 51h1v1h-1zM52 52h1v1h-1zM52 53h1v1h-1zM52 54h1v1h-1zM52 55h1v1h-1zM52 56h1v1h-1zM52 57h1v1h-1zM52 58h1v1h-1zM52 59h1v1h-1zM52 60h1v1h-1zM52 61h1v1h-1zM52 62h1v1h-1zM52 63h1v1h-1zM52 64h1v1h-1zM52 65h1v1h-1zM52 66h1v1h-1zM52 67h1v1h-1zM52 68h1v1h-1zM52 69h1v1h-1zM52 70h1v1h-1zM52 71h1v1h-1zM52 72h1v1h-1zM52 73h1v1h-1zM52 74h1v1h-1zM52 75h1v1h-1zM52 76h1v1h-1zM52 77h1v1h-1zM52 78h1v1h-1zM52 79h1v1h-1zM52 80h1v1h-1zM52 81h1v1h-1zM52 82h1v1h-1zM52 83h1v1h-1zM52 84h1v1h-1zM52 85h1v1h-1z"/>
<path fill="#008fff" d="M53 0h1v1h-1zM53 1h1v1h-1zM53 2h1v1h-1zM53 3h1v1h-1zM53 4h1v1h-1zM53 5h1v1h-1zM53 6h1v1h-1zM53 7h1v1h-1zM53 8h1v1h-1zM53 9h1v1h-1zM53 10h1v1h-1zM53 11h1v1h-1zM53 12h1v1h-1zM53 13h1v1h-1zM53 14h1v1h-1zM53 15h1v1h-1zM53 16h1v1h-1zM53 17h1v1h-1zM53 18h1v1h-1zM53 19h1v1h-1zM53 20h1v1h-1zM53 21h1v1h-1zM53 22h1v1h-1zM53 23h1v1h-1zM53 24h1v1h-1zM53 25h1v1h-1zM53 26h1v1h-1zM53 27h1v1h-1zM53 28h1v1h-1zM53 29h1v1h-1zM53 30h1v1h-1zM53 31h1v1h-1zM53 32h1v1h-1zM53 33h1v1h-1zM53 34h1v1h-1zM53 35h1v1h-1zM53 36h1v1h-1zM53 37h1v1h-1zM53 38h1v1h-1zM53 39h1v1h-1zM53 40h1v1h-1zM53 41h1v1h-1zM53 42h1v1h-1zM53 43h1v1h-1zM53 44h1v1h-1zM53 45h1v1h-1zM53 46h1v1h-1zM53 47h1v1h-1zM53 48h1v1h-1zM53 49h1v1h-1zM53 50h1v1h-1zM53 51h1v1h-1zM53 52h1v1h-1zM53 53h1v1h-1zM53 54h1v1h-1zM53 55h1v1h-1zM53 56h1v1h-1zM53 57h1v1h-1zM53 58h1v1h-1zM53 59h1v1h-1zM53 60h1v1h-1zM53 61h1v1h-1zM53 62h1v1h-1zM53 63h1v1h-1zM53 64h1v1h-1zM53 65h1v1h-1zM53 66h1v1h-1zM53 67h1v1h-1zM53 68h1v1h-1zM53 69h1v1h-1zM53 70h1v1h-1zM53 71h1v1h-1zM53 72h1v1h-1zM53 73h1v1h-1zM53 74h1v1h-1zM53 75h1v1h-1zM53 76h1v1h-1zM53 77h1v1h-1zM53 78h1v1h-1zM53 79h1v1h-1zM53 80h1v1h-1zM53 81h1v1h-1zM53 82h1v1h-1zM53 83h1v1h-1zM53 84h1v1h-1zM53 85h1v1h-1z"/>
<path fill="#00afff" d="M54 0h1v1h-1zM54 1h1v1h-1zM54 2h1v1h-1zM54 3h1v1h-1zM54 4h1v1h-1zM54 5h1v1h-1zM54 6h1v1h-1zM54 7h1v1h-1zM54 8h1v1h-1zM54 9h1v1h-1zM54 10h1v1h-1zM54 11h1v1h-1zM54 12h1v1h-1zM54 13h1v1h-1zM54 14h1v1h-1zM54 15h1v1h-1zM54 16h1v1h-1zM54 17h1v1h-1zM54 18h1v1h-1zM54 19h1v1h-1zM54 20h1v1h-1zM54 21h1v1h-1zM54 22h1v1h-1zM54 23h1v1h-1zM54 24h1v1h-1zM54 25h1v1h-1zM54 26h1v1h-1zM54 27h1v1h-1zM54 28h1v1h-1zM54 29h1v1h-1zM54 30h1v1h-1zM54 31h1v1h-1zM54 32h1v1h-1zM54 33h1v1h-1zM54 34h1v1h-1zM54 35h1v1h-1zM54 36h1v1h-1zM54 37h1v1h-1zM54 38h1v1h-1zM54 39h1v1h-1zM54 40h1v1h-1zM54 41h1v1h-1zM54 42h1v1h-1zM54 43h1v1h-1zM54 44h1v1h-1zM54 45h1v1h-1zM54 46h1v1h-1zM54 47h1v1h-1zM54 48h1v1h-1zM54 49h1v1h-1zM54 50h1v1h-1zM54 51h1v1h-1zM54 52h1v1h-1zM54 53h1v1h-1zM54 54h1v1h-1zM54 55h1v1h-1zM54 56h1v1h-1zM54 57h1v1h-1zM54 58h1v1h-1zM54 59h1v1h-1zM54 60h1v1h-1zM54 61h1v1h-1zM54 62h1v1h-1zM54 63h1v1h-1zM54 64h1v1h-1zM54 65h1v1h-1zM54 66h1v1h-1zM54 67h1v1h-1zM54 68h1v1h-1zM54 69h1v1h-1zM54 70h1v1h-1zM54 71h1v1h-1zM54 72h1v1h-1zM54 73h1v1h-1zM54 74h1v1h-1zM54 75h1v1h-1zM54 76h1v1h-1zM54 77h1v1h-1zM54 78h1v1h-1zM54 79h1v1h-1zM54 80h1v1h-1zM54 81h1v1h-1zM54 82h1v1h-1zM54 83h1v1h-1zM54 84h1v1h-1zM54 85h1v1h-1z"/>
<path fill="#00cfff" d="M55 0h1v1h-1zM55 1h1v1h-1zM55 2h1v1h-1zM55 3h1v1h-1zM55 4h1v1h-1zM55 5h1v1h-1zM55 6h1v1h-1zM55 7h1v1h-1zM55 8h1v1h-1zM55 9h1v1h-1zM55 10h1v1h-1zM55 11h1v1h-1zM55 12h1v1h-1zM55 13h1v1h-1zM55 14h1v1h-1zM55 15h1v1h-1zM55 16h1v1h-1zM55 17h1v1h-1zM55 18h1v1h-1zM55 19h1v1h-1zM55 20h1v1h-1zM55 21h1v1h-1zM55 22h1v1h-1zM55 23h1v1h-1zM55 24h1v1h-1zM55 25h1v1h-1zM55 26h1v1h-1zM55 27h1v1h-1zM55 28h1v1h-1zM55 29h1v1h-1zM55 30h1v1h-1zM55 31h1v1h-1zM55 32h1v1h-1zM55 33h1v1h-1zM55 34h1v1h-1zM55 35h1v1h-1zM55 36h1v1h-1zM55 37h1v1h-1zM55 38h1v1h-1zM55 39h1v1h-1zM55 40h1v1h-1zM55 41h1v1h-1zM55 42h1v1h-1zM55 43h1v1h-1zM55 44h1v1h-1zM55 45h1v1h-1zM55 46h1v1h-1zM55 47h1v1h-1zM55 48h1v1h-1zM55 49h1v1h-1zM55 50h1v1h-1zM55 51h1v1h-1zM55 52h1v1h-1zM55 53h1v1h-1zM55 54h1v1h-1zM55 55h1v1h-1zM55 56h1v1h-1zM55 57h1v1h-1zM55 58h1v1h-1zM55 59h1v1h-1zM55 60h1v1h-1zM55 61h1v1h-1zM55 62h1v1h-1zM55 63h1v1h-1zM55 64h1v1h-1zM55 65h1v1h-1zM55 66h1v1h-1zM55 67h1v1h-1zM55 68h1v1h-1zM55 69h1v1h-1zM55 70h1v1h-1zM55 71h1v1h-1zM55 72h1v1h-1zM55 73h1v1h-1zM55 74h1v1h-1zM55 75h1v1h-1zM55 76h1v1h-1zM55 77h1v1h-1zM55 78h1v1h-1zM55 79h1v1h-1zM55 80h1v1h-1zM55 81h1v1h-1zM55 82h1v1h-1zM55 83h1v1h-1zM55 84h1v1h-1zM55 85h1v1h-1z"/>
<path fill="#00efff" d="M56 0h1v1h-1zM56 1h1v1h-1zM56 2h1v1h-1zM56 3h1v1h-1zM56 4h1v1h-1zM56 5h1v1h-1zM56 6h1v1h-1zM56 7h1v1h-1zM56 8h1v1h-1zM56 9h1v1h-1zM56 10h1v1h-1zM56 11h1v1h-1zM56 12h1v1h-1zM56 13h1v1h-1zM56 14h1v1h-1zM56 15h1v1h-1zM56 16h1v1h-1zM56 17h1v1h-1zM56 18h1v1h-1zM56 19h1v1h-1zM56 20h1v1h-1zM56 21h1v1h-1zM56 22h1v1h-1zM56 23h1v1h-1zM56 24h1v1h-1zM56 25h1v1h-1zM56 26h1v1h-1zM56 27h1v1h-1zM56 28h1v1h-1zM56 29h1v1h-1zM56 30h1v1h-1zM56 31h1v1h-1zM56 32h1v1h-1zM56 33h1v1h-1zM56 34h1v1h-1zM56 35h1v1h-1zM56 36h1v1h-1zM56 37h1v1h-1zM56 38h1v1h-1zM56 39h1v1h-1zM56 40h1v1h-1zM56 41h1v1h-1zM56 42h1v1h-1zM56 43h1v1h-1zM56 44h1v1h-1zM56 45h1v1h-1zM56 46h1v1h-1zM56 47h1v1h-1zM56 48h1v1h-1zM56 49h1v1h-1zM56 50h1v1h-1zM56 51h1v1h-1zM56 52h1v1h-1zM56 53h1v1h-1zM56 54h1v1h-1zM56 55h1v1h-1zM56 56h1v1h-1zM56 57h1v1h-1zM56 58h1v1h-1zM56 59h1v1h-1zM56 60h1v1h-1zM56 61h1v1h-1zM56 62h1v1h-1zM56 63h1v1h-1zM56 64h1v1h-1zM56 65h1v1h-1zM56 66h1v1h-1zM56 67h1v1h-1zM56 68h1v1h-1zM56 69h1v1h-1zM56 70h1v1h-1zM56 71h1v1h-1zM56 72h1v1h-1zM56 73h1v1h-1zM56 74h1v1h-1zM56 75h1v1h-1zM56 76h1v1h-1zM56 77h1v1h-1zM56 78h1v1h-1zM56 79h1v1h-1zM56 80h1v1h-1zM56 81h1v1h-1zM56 82h1v1h-1zM56 83h1v1h-1zM56 84h1v1h-1zM56 85h1v1h-1z"/>
<path fill="#10ffef" d="M57 0h1v1h-1zM57 1h1v1h-1zM57 2h1v1h-1zM57 3h1v1h-1zM57 4h1v1h-1zM57 5h1v1h-1zM57 6h1v1h-1zM57 7h1v1h-1zM57 8h1v1h-1zM57 9h1v1h-1zM57 10h1v1h-1zM57 11h1v1h-1zM57 12h1v1h-1zM57 13h1v1h-1zM57 14h1v1h-1zM57 15h1v1h-1zM57 16h1v1h-1zM57 17h1v1h-1zM57 18h1v1h-1zM57 19h1v1h-1zM57 20h1v1h-1zM57 21h1v1h-1zM57 22h1v1h-1zM57 23h1v1h-1zM57 24h1v1h-1zM57 25h1v1h-1zM57 26h1v1h-1zM57 27h1v1h-1zM57 28h1v1h-1zM57 29h1v1h-1zM57 30h1v1h-1zM57 31h1v1h-1zM57 32h1v1h-1zM57 33h1v1h-1zM57 34h1v1h-1zM57 35h1v1h-1zM57 36h1v1h-1zM57 37h1v1h-1zM57 38h1v1h-1zM57 39h1v1h-1zM57 40h1v1h-1zM57 41h1v1h-1zM57 42h1v1h-1zM57 43h1v1h-1zM57 44h1v1h-1zM57 45h1v1h-1zM57 46h1v1h-1zM57 47h1v1h-1zM57 48h1v1h-1zM57 49h1v1h-1zM57 50h1v1h-1zM57 51h1v1h-1zM57 52h1v1h-1zM57 53h1v1h-1zM57 54h1v1h-1zM57 55h1v1h-1zM57 56h1v1h-1zM57 57h1v1h-1zM57 58h1v1h-1zM57 59h1v1h-1zM57 60h1v1h-1zM57 61h1v1h-1zM57 62h1v1h-1zM57 63h1v1h-1zM57 64h1v1h-1zM57 65h1v1h-1zM57 66h1v1h-1zM57 67h1v1h-1zM57 68h1v1h-1zM57 69h1v1h-1zM57 70h1v1h-1zM57 71h1v1h-1zM57 72h1v1h-1zM57 73h1v1h-1zM57 74h1v1h-1zM57 75h1v1h-1zM57 76h1v1h-1zM57 77h1v1h-1zM57 78h1v1h-1zM57 79h1v1h-1zM57 80h1v1h-1zM57 81h1v1h-1zM57 82h1v1h-1zM57 83h1v1h-1zM57 84h1v1h-1zM57 85h1v1h-1z"/>
<path fill="#20ffdf" d="M58 0h51v1h-51zM58 1h51v1h-51zM58 2h51v1h-51zM58 3h51v1h-51zM58 4h51v1h-51zM58 5h51v1h-51zM58 6h51v1h-51zM58 7h51v1h-51zM58 8h51v1h-51zM58 9h51v1h-51zM58 10h51v1h-51zM58 11h51v1h-51zM58 12h51v1h-51zM58 13h51v1h-51zM58 14h51v1h-51zM58 15h51v1h-51zM58 16h51v1h-51zM58 17h51v1h-51zM58 18h51v1h-51zM58 19h51v1h-51zM58 20h51v1h-51zM58 21h51v1h-51zM58 22h51v1h-51zM58 23h51v1h-51zM58 24h51v1h-51zM58 25h51v1h-51zM58 26h51v1h-51zM58 27h51v1h-51zM58 28h51v1h-51zM58 29h51v1h-51zM58 30h51v1h-51zM58 31h51v1h-51zM58 32h51v1h-51zM58 33h51v1h-51zM58 34h51v1h-51zM58 35h51v1h-51zM58 36h51v1h-51zM58 37h51v1h-51zM58 38h51v1h-51zM58 39h51v1h-51zM58 40h51v1h-51zM58 41h51v1h-51zM58 42h51v1h-51zM58 43h51v1h-51zM58 44h51v1h-51zM58 45h51v1h-51zM58 46h51v1h-51zM58 47h51v1h-51zM58 48h51v1h-51zM58 49h51v1h-51zM58 50h51v1h-51zM58 51h51v1h-51zM58 52h51v1h-51zM58 53h51v1h-51zM58 54h51v1h-51zM58 55h51v1h-51zM58 56h51v1h-51zM58 57h51v1h-51zM58 58h51v1h-51zM58 59h51v1h-51zM58 60h51v1h-51zM58 61h51v1h-51zM58 62h51v1h-51zM58 63h51v1h-51zM58 64h51v1h-51zM58 65h51v1h-51zM58 66h51v1h-51zM58 67h51v1h-51zM58 68h51v1h-51zM58 69h51v1h-51zM58 70h51v1h-51zM58 71h51v1h-51zM58 72h51v1h-51zM58 73h51v1h-51zM58 74h51v1h-51zM58 75h51v1h-51zM58 76h51v1h-51zM58 77h51v1h-51zM58 78h51v1h-51zM58 79h51v1h-51zM58 80h51v1h-51zM58 81h51v1h-51zM58 82h51v1h-51zM58 83h51v1h-51zM58 84h51v1h-51zM58 85h51v1h-51z"/>
<path fill="#30ffcf" d="M109 77h1v1h-1zM109 78h1v1h-1zM109 79h1v1h-1zM109 80h1v1h-1zM109 81h1v1h-1zM109 82h1v1h-1zM109 83h1v1h-1zM109 84h1v1h-1zM109 85h1v1h-1z"/>
<path fill="#40ffbf" d="M109 0h1v1h-1zM109 1h1v1h-1zM109 2h1v1h-1zM109 3h1v1h-1zM109 4h1v1h-1zM109 5h1v1h-1zM109 6h1v1h-1zM109 7h1v1h-1zM109 8h1v1h-1zM109 9h1v1h-1zM109 10h1v1h-1zM109 11h1v1h-1zM109 12h1v1h-1zM109 13h1v1h-1zM109 14h1v1h-1zM109 15h1v1h-1zM109 16h1v1h-1zM109 17h1v1h-1zM109 18h1v1h-1zM109 19h1v1h-1zM109 20h1v1h-1zM109 21h1v1h-1zM109 22h1v1h-1zM109 23h1v1h-1zM109 24h1v1h-1zM109 25h1v1h-1zM109 26h1v1h-1zM109 27h1v1h-1zM109 28h1v1h-1zM109 29h1v1h-1zM109 30h1v1h-1zM109 31h1v1h-1zM109 32h1v1h-1zM109 33h1v1h-1zM109 34h1v1h-1zM109 35h1v1h-1zM109 36h1v1h-1zM109 37h1v1h-1zM109 38h1v1h-1zM109 39h1v1h-1zM109 40h1v1h-1zM109 41h1v1h-1zM109 42h1v1h-1zM109 43h1v1h-1zM109 44h1v1h-1zM109 45h1v1h-1zM109 46h1v1h-1zM109 47h1v1h-1zM109 48h1v1h-1zM109 49h1v1h-1zM109 50h1v1h-1zM109 51h1v1h-1zM109 52h1v1h-1zM109 53h1v1h-1zM109 54h1v1h-1zM109 55h1v1h-1zM109 56h1v1h-1zM109 57h1v1h-1zM109 58h1v1h-1zM109 59h1v1h-1zM109 60h1v1h-1zM109 61h1v1h-1zM109 62h1v1h-1zM109 63h1v1h-1zM109 64h1v1h-1zM109 65h1v1h-1zM109 66h1v1h-1zM109 67h1v1h-1zM109 68h1v1h-1zM109 69h1v1h-1zM109 70h1v1h-1zM109 71h1v1h-1zM109 72h1v1h-1zM109 73h1v1h-1zM109 74h1v1h-1zM109 75h1v1h-1zM109 76h1v1h-1z"/>
<path fill="#50ffaf" d="M110 81h1v1h-1zM110 82h1v1h-1zM110 83h1v1h-1zM110 84h1v1h-1zM110 85h1v1h-1z"/>
<path fill="#60ff9f" d="M110 79h1v1h-1zM110 80h1v1h-1z"/>
<path fill="#70ff8f" d="M110 77h1v1h-1zM110 78h1v1h-1z"/>
<path fill="#80ff80" d="M110 67h1v1h-1zM110 68h1v1h-1zM110 69h1v1h-1zM110 70h1v1h-1zM110 71h1v1h-1zM110 72h1v1h-1zM110 73h1v1h-1zM110 74h1v1h-1zM110 75h1v1h-1zM110 76h1v1h-1zM111 80h1v1h-1zM111 81h1v1h-1zM111 82h1v1h-1zM111 83h1v1h-1zM111 84h1v1h-1zM111 85h1v1h-1z"/>
<path fill="#8fff70" d="M110 0h1v1h-1zM110 1h1v1h-1zM110 2h1v1h-1zM110 3h1v1h-1zM110 4h1v1h-1zM110 5h1v1h-1zM110 6h1v1h-1zM110 7h1v1h-1zM110 8h1v1h-1zM110 9h1v1h-1zM110 10h1v1h-1zM110 11h1v1h-1zM110 12h1v1h-1zM110 13h1v1h-1zM110 14h1v1h-1zM110 15h1v1h-1zM110 16h1v1h-1zM110 17h1v1h-1zM110 18h1v1h-1zM110 19h1v1h-1zM110 20h1v1h-1zM110 21h1v1h-1zM110 22h1v1h-1zM110 23h1v1h-1zM110 24h1v1h-1zM110 25h1v1h-1zM110 26h1v1h-1zM110 27h1v1h-1zM110 28h1v1h-1zM110 29h1v1h-1zM110 30h1v1h-1zM110 31h1v1h-1zM110 32h1v1h-1zM110 33h1v1h-1zM110 34h1v1h-1zM110 35h1v1h-1zM110 36h1v1h-1zM110 37h1v1h-1zM110 38h1v1h-1zM110 39h1v1h-1zM110 40h1v1h-1zM110 41h1v1h-1zM110 42h1v1h-1zM110 43h1v1h-1zM110 44h1v1h-1zM110 45h1v1h-1zM110 46h1v1h-1zM110 47h1v1h-1zM110 48h1v1h-1zM110 49h1v1h-1zM110 50h1v1h-1zM110 51h1v1h-1zM110 52h1v1h-1zM110 53h1v1h-1zM110 54h1v1h-1zM110 55h1v1h-1zM110 56h1v1h-1zM110 57h1v1h-1zM110 58h1v1h-1zM110 59h1v1h-1zM110 60h1v1h-1zM110 61h1v1h-1zM110 62h1v1h-1zM110 63h1v1h-1zM110 64h1v1h-1zM110 65h1v1h-1zM110 66h1v1h-1zM111 79h1v1h-1z"/>
<path fill="#9fff60" d="M111 78h1v1h-1z"/>
<path fill="#afff50" d="M111 77h1v1h-1zM112 80h1v1h-1zM112 81h1v1h-1zM112 82h1v1h-1zM112 83h1v1h-1zM112 84h1v1h-1zM112 85h1v1h-1z"/>
<path fill="#bfff40" d="M111 68h1v1h-1zM111 69h1v1h-1zM111 70h1v1h-1zM111 71h1v1h-1zM111 72h1v1h-1zM111 73h1v1h-1zM111 74h1v1h-1zM111 75h1v1h-1zM111 76h1v1h-1z"/>
<path fill="#cfff30" d="M111 67h1v1h-1zM112 79h1v1h-1zM113 81h1v1h-1zM113 82h1v1h-1zM113 83h1v1h-1zM113 84h1v1h-1zM113 85h1v1h-1z"/>
<path fill="#dfff20" d="M111 65h1v1h-1zM111 66h1v1h-1zM112 78h1v1h-1zM113 80h1v1h-1zM114 81h5v1h-5zM114 82h5v1h-5zM114 83h5v1h-5zM114 84h5v1h-5zM114 85h5v1h-5z"/>
<path fill="#efff10" d="M111 0h1v1h-1zM111 1h1v1h-1zM111 2h1v1h-1zM111 3h1v1h-1zM111 4h1v1h-1zM111 5h1v1h-1zM111 6h1v1h-1zM111 7h1v1h-1zM111 8h1v1h-1zM111 9h1v1h-1zM111 10h1v1h-1zM111 11h1v1h-1zM111 12h1v1h-1zM111 13h1v1h-1zM111 14h1v1h-1zM111 15h1v1h-1zM111 16h1v1h-1zM111 17h1v1h-1zM111 18h1v1h-1zM111 19h1v1h-1zM111 20h1v1h-1zM111 21h1v1h-1zM111 22h1v1h-1zM111 23h1v1h-1zM111 24h1v1h-1zM111 25h1v1h-1zM111 26h1v1h-1zM111 27h1v1h-1zM111 28h1v1h-1zM111 29h1v1h-1zM111 30h1v1h-1zM111 31h1v1h-1zM111 32h1v1h-1zM111 33h1v1h-1zM111 34h1v1h-1zM111 35h1v1h-1zM111 36h1v1h-1zM111 37h1v1h-1zM111 38h1v1h-1zM111 39h1v1h-1zM111 40h1v1h-1zM111 41h1v1h-1zM111 42h1v1h-1zM111 43h1v1h-1zM111 44h1v1h-1zM111 45h1v1h-1zM111 46h1v1h-1zM111 47h1v1h-1zM111 48h1v1h-1zM111 49h1v1h-1zM111 50h1v1h-1zM111 51h1v1h-1zM111 52h1v1h-1zM111 53h1v1h-1zM111 54h1v1h-1zM111 55h1v1h-1zM111 56h1v1h-1zM111 57h1v1h-1zM111 58h1v1h-1zM111 59h1v1h-1zM111 60h1v1h-1zM111 61h1v1h-1zM111 62h1v1h-1zM111 63h1v1h-1zM111 64h1v1h-1zM112 77h1v1h-1zM114 80h5v1h-5zM119 81h1v1h-1zM119 82h1v1h-1zM119 83h1v1h-1zM119 84h1v1h-1zM119 85h1v1h-1z"/>
<path fill="#ffff00" d="M112 68h1v1h-1zM112 69h1v1h-1zM112 70h1v1h-1zM112 71h1v1h-1zM112 72h1v1h-1zM112 73h1v1h-1zM112 74h1v1h-1zM112 75h1v1h-1zM112 76h1v1h-1zM113 79h1v1h-1zM119 80h1v1h-1zM120 81h1v1h-1zM120 82h1v1h-1zM120 83h1v1h-1zM120 84h1v1h-1zM120 85h1v1h-1z"/>
<path fill="#ffef00" d="M112 67h1v1h-1zM114 79h5v1h-5zM120 80h1v1h-1zM121 81h1v1h-1zM121 82h1v1h-1zM121 83h1v1h-1zM121 84h1v1h-1zM121 85h1v1h-1z"/>
<path fill="#ffdf00" d="M113 78h1v1h-1zM119 79h1v1h-1zM121 80h1v1h-1zM122 81h1v1h-1zM122 82h1v1h-1zM122 83h1v1h-1zM122 84h1v1h-1zM122 85h1v1h-1z"/>
<path fill="#ffcf00" d="M112 66h1v1h-1zM113 77h1v1h-1zM114 78h5v1h-5zM120 79h2v1h-2zM122 80h1v1h-1zM123 81h1v1h-1zM123 82h1v1h-1zM123 83h1v1h-1zM123 84h1v1h-1zM123 85h1v1h-1z"/>
<path fill="#ffbf00" d="M112 0h1v1h-1zM112 1h1v1h-1zM112 2h1v1h-1zM112 3h1v1h-1zM112 4h1v1h-1zM112 5h1v1h-1zM112 6h1v1h-1zM112 7h1v1h-1zM112 8h1v1h-1zM112 9h1v1h-1zM112 10h1v1h-1zM112 11h1v1h-1zM112 12h1v1h-1zM112 13h1v1h-1zM112 14h1v1h-1zM112 15h1v1h-1zM112 16h1v1h-1zM112 17h1v1h-1zM112 18h1v1h-1zM112 19h1v1h-1zM112 20h1v1h-1zM112 21h1v1h-1zM112 22h1v1h-1zM112 23h1v1h-1zM112 24h1v1h-1zM112 25h1v1h-1zM112 26h1v1h-1zM112 27h1v1h-1zM112 28h1v1h-1zM112 29h1v1h-1zM112 30h1v1h-1zM112 31h1v1h-1zM112 32h1v1h-1zM112 33h1v1h-1zM112 34h1v1h-1zM112 35h1v1h-1zM112 36h1v1h-1zM112 37h1v1h-1zM112 38h1v1h-1zM112 39h1v1h-1zM112 40h1v1h-1zM112 41h1v1h-1zM112 42h1v1h-1zM112 43h1v1h-1zM112 44h1v1h-1zM112 45h1v1h-1zM112 46h1v1h-1zM112 47h1v1h-1zM112 48h1v1h-1zM112 49h1v1h-1zM112 50h1v1h-1zM112 51h1v1h-1zM112 52h1v1h-1zM112 53h1v1h-1zM112 54h1v1h-1zM112 55h1v1h-1zM112 56h1v1h-1zM112 57h1v1h-1zM112 58h1v1h-1zM112 59h1v1h-1zM112 60h1v1h-1zM112 61h1v1h-1zM112 62h1v1h-1zM112 63h1v1h-1zM112 64h1v1h-1zM112 65h1v1h-1zM113 69h1v1h-1zM113 70h1v1h-1zM113 71h1v1h-1zM113 72h1v1h-1zM113 73h1v1h-1zM113 74h1v1h-1zM113 75h1v1h-1zM113 76h1v1h-1zM119 78h2v1h-2zM122 79h1v1h-1zM123 80h2v1h-2zM124 81h1v1h-1zM124 82h1v1h-1zM124 83h1v1h-1zM124 84h1v1h-1zM124 85h1v1h-1z"/>
<path fill="#ffaf00" d="M113 68h1v1h-1zM114 77h6v1h-6zM121 78h1v1h-1zM123 79h1v1h-1zM125 80h1v1h-1zM125 81h1v1h-1zM125 82h1v1h-1zM125 83h1v1h-1zM125 84h1v1h-1zM125 85h1v1h-1z"/>
<path fill="#ff9f00" d="M113 67h1v1h-1zM114 69h6v1h-6zM114 70h6v1h-6zM114 71h6v1h-6zM114 72h6v1h-6zM114 73h6v1h-6zM114 74h6v1h-6zM114 75h6v1h-6zM114 76h6v1h-6zM120 77h1v1h-1zM122 78h1v1h-1zM124 79h1v1h-1zM126 80h1v1h-1zM126 81h2v1h-2zM126 82h2v1h-2zM126 83h2v1h-2zM126 84h2v1h-2zM126 85h2v1h-2z"/>
<path fill="#ff8f00" d="M113 66h1v1h-1zM114 68h6v1h-6zM120 69h1v1h-1zM120 70h1v1h-1zM120 71h1v1h-1zM120 72h1v1h-1zM120 73h1v1h-1zM120 74h1v1h-1zM120 75h1v1h-1zM120 76h1v1h-1zM121 77h1v1h-1zM123 78h1v1h-1zM125 79h1v1h-1zM127 80h1v1h-1zM128 81h1v1h-1zM128 82h1v1h-1zM128 83h1v1h-1zM128 84h1v1h-1zM128 85h1v1h-1z"/>
<path fill="#ff8000" d="M114 67h6v1h-6zM120 68h2v1h-2zM121 69h1v1h-1zM121 70h1v1h-1zM121 71h1v1h-1zM121 72h1v1h-1zM121 73h1v1h-1zM121 74h1v1h-1zM121 75h1v1h-1zM121 76h1v1h-1zM122 77h2v1h-2zM124 78h2v1h-2zM126 79h2v1h-2zM128 80h2v1h-2zM129 81h1v1h-1zM129 82h1v1h-1zM129 83h1v1h-1zM129 84h1v1h-1zM129 85h1v1h-1z"/>
<path fill="#ff7000" d="M113 0h1v1h-1zM113 1h1v1h-1zM113 2h1v1h-1zM113 3h1v1h-1zM113 4h1v1h-1zM113 5h1v1h-1zM113 6h1v1h-1zM113 7h1v1h-1zM113 8h1v1h-1zM113 9h1v1h-1zM113 10h1v1h-1zM113 11h1v1h-1zM113 12h1v1h-1zM113 13h1v1h-1zM113 14h1v1h-1zM113 15h1v1h-1zM113 16h1v1h-1zM113 17h1v1h-1zM113 18h1v1h-1zM113 19h1v1h-1zM113 20h1v1h-1zM113 21h1v1h-1zM113 22h1v1h-1zM113 23h1v1h-1zM113 24h1v1h-1zM113 25h1v1h-1zM113 26h1v1h-1zM113 27h1v1h-1zM113 28h1v1h-1zM113 29h1v1h-1zM113 30h1v1h-1zM113 31h1v1h-1zM113 32h1v1h-1zM113 33h1v1h-1zM113 34h1v1h-1zM113 35h1v1h-1zM113 36h1v1h-1zM113 37h1v1h-1zM113 38h1v1h-1zM113 39h1v1h-1zM113 40h1v1h-1zM113 41h1v1h-1zM113 42h1v1h-1zM113 43h1v1h-1zM113 44h1v1h-1zM113 45h1v1h-1zM113 46h1v1h-1zM113 47h1v1h-1zM113 48h1v1h-1zM113 49h1v1h-1zM113 50h1v1h-1zM113 51h1v1h-1zM113 52h1v1h-1zM113 53h1v1h-1zM113 54h1v1h-1zM113 55h1v1h-1zM113 56h1v1h-1zM113 57h1v1h-1zM113 58h1v1h-1zM113 59h1v1h-1zM113 60h1v1h-1zM113 61h1v1h-1zM113 62h1v1h-1zM113 63h1v1h-1zM113 64h1v1h-1zM113 65h1v1h-1zM120 67h2v1h-2zM122 68h1v1h-1zM122 69h2v1h-2zM122 70h2v1h-2zM122 71h2v1h-2zM122 72h2v1h-2zM122 73h2v1h-2zM122 74h2v1h-2zM122 75h2v1h-2zM122 76h2v1h-2zM124 77h1v1h-1zM126 78h1v1h-1zM128 79h2v1h-2zM130 80h1v1h-1zM130 81h2v1h-2zM130 82h2v1h-2zM130 83h2v1h-2zM130 84h2v1h-2zM130 85h2v1h-2z"/>
<path fill="#ff6000" d="M114 66h8v1h-8zM122 67h2v1h-2zM123 68h2v1h-2zM124 69h1v1h-1zM124 70h1v1h-1zM124 71h1v1h-1zM124 72h1v1h-1zM124 73h1v1h-1zM124 74h1v1h-1zM124 75h1v1h-1zM124 76h1v1h-1zM125 77h1v1h-1zM127 78h3v1h-3zM130 79h2v1h-2zM131 80h2v1h-2zM132 81h1v1h-1zM132 82h1v1h-1zM132 83h1v1h-1zM132 84h1v1h-1zM132 85h1v1h-1z"/>
<path fill="#ff5000" d="M114 65h9v1h-9zM122 66h4v1h-4zM124 67h2v1h-2zM125 68h1v1h-1zM125 69h2v1h-2zM125 70h2v1h-2zM125 71h2v1h-2zM125 72h2v1h-2zM125 73h2v1h-2zM125 74h2v1h-2zM125 75h2v1h-2zM125 76h2v1h-2zM126 77h5v1h-5zM130 78h4v1h-4zM132 79h2v1h-2zM133 80h1v1h-1zM133 81h2v1h-2zM133 82h2v1h-2zM133 83h2v1h-2zM133 84h2v1h-2zM133 85h2v1h-2z"/>
<path fill="#ff4000" d="M114 0h52v1h-52zM114 1h52v1h-52zM114 2h52v1h-52zM114 3h52v1h-52zM114 4h52v1h-52zM114 5h52v1h-52zM114 6h52v1h-52zM114 7h52v1h-52zM114 8h52v1h-52zM114 9h52v1h-52zM114 10h52v1h-52zM114 11h52v1h-52zM114 12h52v1h-52zM114 13h52v1h-52zM114 14h52v1h-52zM114 15h52v1h-52zM114 16h52v1h-52zM114 17h52v1h-52zM114 18h52v1h-52zM114 19h52v1h-52zM114 20h52v1h-52zM114 21h52v1h-52zM114 22h52v1h-52zM114 23h52v1h-52zM114 24h52v1h-52zM114 25h52v1h-52zM114 26h52v1h-52zM114 27h52v1h-52zM114 28h52v1h-52zM114 29h52v1h-52zM114 30h52v1h-52zM114 31h52v1h-52zM114 32h52v1h-52zM114 33h52v1h-52zM114 34h52v1h-52zM114 35h52v1h-52zM114 36h52v1h-52zM114 37h52v1h-52zM114 38h52v1h-52zM114 39h52v1h-52zM114 40h52v1h-52zM114 41h52v1h-52zM114 42h52v1h-52zM114 43h52v1h-52zM114 44h52v1h-52zM114 45h52v1h-52zM114 46h52v1h-52zM114 47h52v1h-52zM114 48h52v1h-52zM114 49h52v1h-52zM114 50h52v1h-52zM114 51h52v1h-52zM114 52h52v1h-52zM114 53h52v1h-52zM114 54h52v1h-52zM114 55h52v1h-52zM114 56h52v1h-52zM114 57h52v1h-52zM114 58h52v1h-52zM114 59h52v1h-52zM114 60h52v1h-52zM114 61h52v1h-52zM114 62h52v1h-52zM114 63h52v1h-52zM114 64h52v1h-52zM123 65h43v1h-43zM126 66h40v1h-40zM126 67h40v1h-40zM126 68h40v1h-40zM127 69h39v1h-39zM127 70h39v1h-39zM127 71h39v1h-39zM127 72h39v1h-39zM127 73h39v1h-39zM127 74h39v1h-39zM127 75h39v1h-39zM127 76h39v1h-39zM131 77h35v1h-35zM134 78h32v1h-32zM134 79h32v1h-32zM134 80h32v1h-32zM135 81h31v1h-31zM135 82h31v1h-31zM135 83h31v1h-31zM135 84h31v1h-31zM135 85h31v1h-31z"/>
</g></g></g>
<rect x="121.6" y="82.5" width="413.5" height="393.5" fill="none" stroke="#000" stroke-width="2.8"/>
<line x1="199.9" y1="82.5" x2="199.9" y2="88.0" stroke="#000" stroke-width="2"/>
<line x1="280.9" y1="82.5" x2="280.9" y2="88.0" stroke="#000" stroke-width="2"/>
<line x1="361.9" y1="82.5" x2="361.9" y2="88.0" stroke="#000" stroke-width="2"/>
<line x1="442.9" y1="82.5" x2="442.9" y2="88.0" stroke="#000" stroke-width="2"/>
<line x1="523.9" y1="82.5" x2="523.9" y2="88.0" stroke="#000" stroke-width="2"/>
<line x1="121.6" y1="205.8" x2="127.1" y2="205.8" stroke="#000" stroke-width="2"/>
<line x1="529.6" y1="205.8" x2="535.1" y2="205.8" stroke="#000" stroke-width="2"/>
<line x1="121.6" y1="329.1" x2="127.1" y2="329.1" stroke="#000" stroke-width="2"/>
<line x1="529.6" y1="329.1" x2="535.1" y2="329.1" stroke="#000" stroke-width="2"/>
<line x1="121.6" y1="452.3" x2="127.1" y2="452.3" stroke="#000" stroke-width="2"/>
<line x1="529.6" y1="452.3" x2="535.1" y2="452.3" stroke="#000" stroke-width="2"/>
<text x="111.0" y="92.3" font-size="25" text-anchor="end" >0</text>
<text x="111.0" y="215.6" font-size="25" text-anchor="end" >50</text>
<text x="111.0" y="338.9" font-size="25" text-anchor="end" ><tspan font-family="NanumGothic, Liberation Sans, sans-serif" font-weight="800" font-size="23">1</tspan>00</text>
<text x="111.0" y="462.1" font-size="25" text-anchor="end" ><tspan font-family="NanumGothic, Liberation Sans, sans-serif" font-weight="800" font-size="23">1</tspan>50</text>
<text x="199.9" y="511.2" font-size="25" text-anchor="middle" >50</text>
<text x="280.9" y="511.2" font-size="25" text-anchor="middle" ><tspan font-family="NanumGothic, Liberation Sans, sans-serif" font-weight="800" font-size="23">1</tspan>00</text>
<text x="361.9" y="511.2" font-size="25" text-anchor="middle" ><tspan font-family="NanumGothic, Liberation Sans, sans-serif" font-weight="800" font-size="23">1</tspan>50</text>
<text x="442.9" y="511.2" font-size="25" text-anchor="middle" >200</text>
<text x="523.9" y="511.2" font-size="25" text-anchor="middle" >250</text>
<rect x="602.7" y="84.2" width="413.8" height="393.3" fill="none" stroke="#000" stroke-width="2.8"/>
<line x1="681.0" y1="84.2" x2="681.0" y2="89.7" stroke="#000" stroke-width="2"/>
<line x1="762.0" y1="84.2" x2="762.0" y2="89.7" stroke="#000" stroke-width="2"/>
<line x1="843.0" y1="84.2" x2="843.0" y2="89.7" stroke="#000" stroke-width="2"/>
<line x1="924.0" y1="84.2" x2="924.0" y2="89.7" stroke="#000" stroke-width="2"/>
<line x1="1005.0" y1="84.2" x2="1005.0" y2="89.7" stroke="#000" stroke-width="2"/>
<line x1="602.7" y1="207.4" x2="608.2" y2="207.4" stroke="#000" stroke-width="2"/>
<line x1="1011.0" y1="207.4" x2="1016.5" y2="207.4" stroke="#000" stroke-width="2"/>
<line x1="602.7" y1="330.6" x2="608.2" y2="330.6" stroke="#000" stroke-width="2"/>
<line x1="1011.0" y1="330.6" x2="1016.5" y2="330.6" stroke="#000" stroke-width="2"/>
<line x1="602.7" y1="453.8" x2="608.2" y2="453.8" stroke="#000" stroke-width="2"/>
<line x1="1011.0" y1="453.8" x2="1016.5" y2="453.8" stroke="#000" stroke-width="2"/>
<text x="592.1" y="94.0" font-size="25" text-anchor="end" >0</text>
<text x="592.1" y="217.2" font-size="25" text-anchor="end" >50</text>
<text x="592.1" y="340.4" font-size="25" text-anchor="end" ><tspan font-family="NanumGothic, Liberation Sans, sans-serif" font-weight="800" font-size="23">1</tspan>00</text>
<text x="592.1" y="463.6" font-size="25" text-anchor="end" ><tspan font-family="NanumGothic, Liberation Sans, sans-serif" font-weight="800" font-size="23">1</tspan>50</text>
<text x="681.0" y="512.7" font-size="25" text-anchor="middle" >50</text>
<text x="762.0" y="512.7" font-size="25" text-anchor="middle" ><tspan font-family="NanumGothic, Liberation Sans, sans-serif" font-weight="800" font-size="23">1</tspan>00</text>
<text x="843.0" y="512.7" font-size="25" text-anchor="middle" ><tspan font-family="NanumGothic, Liberation Sans, sans-serif" font-weight="800" font-size="23">1</tspan>50</text>
<text x="924.0" y="512.7" font-size="25" text-anchor="middle" >200</text>
<text x="1005.0" y="512.7" font-size="25" text-anchor="middle" >250</text>
<rect x="1079.6" y="85.8" width="413.6" height="394.5" fill="none" stroke="#000" stroke-width="2.8"/>
<line x1="1157.9" y1="85.8" x2="1157.9" y2="91.3" stroke="#000" stroke-width="2"/>
<line x1="1238.9" y1="85.8" x2="1238.9" y2="91.3" stroke="#000" stroke-width="2"/>
<line x1="1319.9" y1="85.8" x2="1319.9" y2="91.3" stroke="#000" stroke-width="2"/>
<line x1="1400.9" y1="85.8" x2="1400.9" y2="91.3" stroke="#000" stroke-width="2"/>
<line x1="1481.9" y1="85.8" x2="1481.9" y2="91.3" stroke="#000" stroke-width="2"/>
<line x1="1079.6" y1="209.4" x2="1085.1" y2="209.4" stroke="#000" stroke-width="2"/>
<line x1="1487.7" y1="209.4" x2="1493.2" y2="209.4" stroke="#000" stroke-width="2"/>
<line x1="1079.6" y1="333.0" x2="1085.1" y2="333.0" stroke="#000" stroke-width="2"/>
<line x1="1487.7" y1="333.0" x2="1493.2" y2="333.0" stroke="#000" stroke-width="2"/>
<line x1="1079.6" y1="456.6" x2="1085.1" y2="456.6" stroke="#000" stroke-width="2"/>
<line x1="1487.7" y1="456.6" x2="1493.2" y2="456.6" stroke="#000" stroke-width="2"/>
<text x="1069.0" y="95.6" font-size="25" text-anchor="end" >0</text>
<text x="1069.0" y="219.2" font-size="25" text-anchor="end" >50</text>
<text x="1069.0" y="342.8" font-size="25" text-anchor="end" ><tspan font-family="NanumGothic, Liberation Sans, sans-serif" font-weight="800" font-size="23">1</tspan>00</text>
<text x="1069.0" y="466.4" font-size="25" text-anchor="end" ><tspan font-family="NanumGothic, Liberation Sans, sans-serif" font-weight="800" font-size="23">1</tspan>50</text>
<text x="1157.9" y="515.5" font-size="25" text-anchor="middle" >50</text>
<text x="1238.9" y="515.5" font-size="25" text-anchor="middle" ><tspan font-family="NanumGothic, Liberation Sans, sans-serif" font-weight="800" font-size="23">1</tspan>00</text>
<text x="1319.9" y="515.5" font-size="25" text-anchor="middle" ><tspan font-family="NanumGothic, Liberation Sans, sans-serif" font-weight="800" font-size="23">1</tspan>50</text>
<text x="1400.9" y="515.5" font-size="25" text-anchor="middle" >200</text>
<text x="1481.9" y="515.5" font-size="25" text-anchor="middle" >250</text>
<rect x="120.0" y="528.0" width="414.4" height="394.5" fill="none" stroke="#000" stroke-width="2.8"/>
<line x1="198.3" y1="528.0" x2="198.3" y2="533.5" stroke="#000" stroke-width="2"/>
<line x1="279.3" y1="528.0" x2="279.3" y2="533.5" stroke="#000" stroke-width="2"/>
<line x1="360.3" y1="528.0" x2="360.3" y2="533.5" stroke="#000" stroke-width="2"/>
<line x1="441.3" y1="528.0" x2="441.3" y2="533.5" stroke="#000" stroke-width="2"/>
<line x1="522.3" y1="528.0" x2="522.3" y2="533.5" stroke="#000" stroke-width="2"/>
<line x1="120.0" y1="651.6" x2="125.5" y2="651.6" stroke="#000" stroke-width="2"/>
<line x1="528.9" y1="651.6" x2="534.4" y2="651.6" stroke="#000" stroke-width="2"/>
<line x1="120.0" y1="775.2" x2="125.5" y2="775.2" stroke="#000" stroke-width="2"/>
<line x1="528.9" y1="775.2" x2="534.4" y2="775.2" stroke="#000" stroke-width="2"/>
<line x1="120.0" y1="898.8" x2="125.5" y2="898.8" stroke="#000" stroke-width="2"/>
<line x1="528.9" y1="898.8" x2="534.4" y2="898.8" stroke="#000" stroke-width="2"/>
<text x="109.4" y="537.8" font-size="25" text-anchor="end" >0</text>
<text x="109.4" y="661.4" font-size="25" text-anchor="end" >50</text>
<text x="109.4" y="785.0" font-size="25" text-anchor="end" ><tspan font-family="NanumGothic, Liberation Sans, sans-serif" font-weight="800" font-size="23">1</tspan>00</text>
<text x="109.4" y="908.6" font-size="25" text-anchor="end" ><tspan font-family="NanumGothic, Liberation Sans, sans-serif" font-weight="800" font-size="23">1</tspan>50</text>
<text x="198.3" y="957.7" font-size="25" text-anchor="middle" >50</text>
<text x="279.3" y="957.7" font-size="25" text-anchor="middle" ><tspan font-family="NanumGothic, Liberation Sans, sans-serif" font-weight="800" font-size="23">1</tspan>00</text>
<text x="360.3" y="957.7" font-size="25" text-anchor="middle" ><tspan font-family="NanumGothic, Liberation Sans, sans-serif" font-weight="800" font-size="23">1</tspan>50</text>
<text x="441.3" y="957.7" font-size="25" text-anchor="middle" >200</text>
<text x="522.3" y="957.7" font-size="25" text-anchor="middle" >250</text>
<rect x="602.4" y="532.6" width="413.8" height="394.7" fill="none" stroke="#000" stroke-width="2.8"/>
<line x1="680.7" y1="532.6" x2="680.7" y2="538.1" stroke="#000" stroke-width="2"/>
<line x1="761.7" y1="532.6" x2="761.7" y2="538.1" stroke="#000" stroke-width="2"/>
<line x1="842.7" y1="532.6" x2="842.7" y2="538.1" stroke="#000" stroke-width="2"/>
<line x1="923.7" y1="532.6" x2="923.7" y2="538.1" stroke="#000" stroke-width="2"/>
<line x1="1004.7" y1="532.6" x2="1004.7" y2="538.1" stroke="#000" stroke-width="2"/>
<line x1="602.4" y1="656.3" x2="607.9" y2="656.3" stroke="#000" stroke-width="2"/>
<line x1="1010.7" y1="656.3" x2="1016.2" y2="656.3" stroke="#000" stroke-width="2"/>
<line x1="602.4" y1="779.9" x2="607.9" y2="779.9" stroke="#000" stroke-width="2"/>
<line x1="1010.7" y1="779.9" x2="1016.2" y2="779.9" stroke="#000" stroke-width="2"/>
<line x1="602.4" y1="903.6" x2="607.9" y2="903.6" stroke="#000" stroke-width="2"/>
<line x1="1010.7" y1="903.6" x2="1016.2" y2="903.6" stroke="#000" stroke-width="2"/>
<text x="591.8" y="542.4" font-size="25" text-anchor="end" >0</text>
<text x="591.8" y="666.1" font-size="25" text-anchor="end" >50</text>
<text x="591.8" y="789.7" font-size="25" text-anchor="end" ><tspan font-family="NanumGothic, Liberation Sans, sans-serif" font-weight="800" font-size="23">1</tspan>00</text>
<text x="591.8" y="913.4" font-size="25" text-anchor="end" ><tspan font-family="NanumGothic, Liberation Sans, sans-serif" font-weight="800" font-size="23">1</tspan>50</text>
<text x="680.7" y="962.5" font-size="25" text-anchor="middle" >50</text>
<text x="761.7" y="962.5" font-size="25" text-anchor="middle" ><tspan font-family="NanumGothic, Liberation Sans, sans-serif" font-weight="800" font-size="23">1</tspan>00</text>
<text x="842.7" y="962.5" font-size="25" text-anchor="middle" ><tspan font-family="NanumGothic, Liberation Sans, sans-serif" font-weight="800" font-size="23">1</tspan>50</text>
<text x="923.7" y="962.5" font-size="25" text-anchor="middle" >200</text>
<text x="1004.7" y="962.5" font-size="25" text-anchor="middle" >250</text>
<rect x="1080.2" y="527.0" width="413.8" height="394.1" fill="none" stroke="#000" stroke-width="2.8"/>
<line x1="1158.5" y1="527.0" x2="1158.5" y2="532.5" stroke="#000" stroke-width="2"/>
<line x1="1239.5" y1="527.0" x2="1239.5" y2="532.5" stroke="#000" stroke-width="2"/>
<line x1="1320.5" y1="527.0" x2="1320.5" y2="532.5" stroke="#000" stroke-width="2"/>
<line x1="1401.5" y1="527.0" x2="1401.5" y2="532.5" stroke="#000" stroke-width="2"/>
<line x1="1482.5" y1="527.0" x2="1482.5" y2="532.5" stroke="#000" stroke-width="2"/>
<line x1="1080.2" y1="650.5" x2="1085.7" y2="650.5" stroke="#000" stroke-width="2"/>
<line x1="1488.5" y1="650.5" x2="1494.0" y2="650.5" stroke="#000" stroke-width="2"/>
<line x1="1080.2" y1="773.9" x2="1085.7" y2="773.9" stroke="#000" stroke-width="2"/>
<line x1="1488.5" y1="773.9" x2="1494.0" y2="773.9" stroke="#000" stroke-width="2"/>
<line x1="1080.2" y1="897.4" x2="1085.7" y2="897.4" stroke="#000" stroke-width="2"/>
<line x1="1488.5" y1="897.4" x2="1494.0" y2="897.4" stroke="#000" stroke-width="2"/>
<text x="1069.6" y="536.8" font-size="25" text-anchor="end" >0</text>
<text x="1069.6" y="660.3" font-size="25" text-anchor="end" >50</text>
<text x="1069.6" y="783.7" font-size="25" text-anchor="end" ><tspan font-family="NanumGothic, Liberation Sans, sans-serif" font-weight="800" font-size="23">1</tspan>00</text>
<text x="1069.6" y="907.2" font-size="25" text-anchor="end" ><tspan font-family="NanumGothic, Liberation Sans, sans-serif" font-weight="800" font-size="23">1</tspan>50</text>
<text x="1158.5" y="956.3" font-size="25" text-anchor="middle" >50</text>
<text x="1239.5" y="956.3" font-size="25" text-anchor="middle" ><tspan font-family="NanumGothic, Liberation Sans, sans-serif" font-weight="800" font-size="23">1</tspan>00</text>
<text x="1320.5" y="956.3" font-size="25" text-anchor="middle" ><tspan font-family="NanumGothic, Liberation Sans, sans-serif" font-weight="800" font-size="23">1</tspan>50</text>
<text x="1401.5" y="956.3" font-size="25" text-anchor="middle" >200</text>
<text x="1482.5" y="956.3" font-size="25" text-anchor="middle" >250</text>
<rect x="1100" y="511.8" width="408" height="13.5" fill="#fff"/>
<circle cx="463.5" cy="427.0" r="34.4" fill="#fff" stroke="#000" stroke-width="2.2"/>
<text class="serif" transform="translate(465.0,446.0) scale(1.1,1)" font-size="73" text-anchor="middle">a</text>
<circle cx="945.6" cy="430.9" r="33.9" fill="#fff" stroke="#000" stroke-width="2.2"/>
<text class="serif" transform="translate(946.5,453.3) scale(1.1,1)" font-size="68" text-anchor="middle">b</text>
<circle cx="1431.0" cy="424.2" r="34.9" fill="#fff" stroke="#000" stroke-width="2.2"/>
<text class="serif" transform="translate(1433.0,444.8) scale(1.08,1)" font-size="72" text-anchor="middle">c</text>
<circle cx="470.6" cy="870.3" r="35.9" fill="#fff" stroke="#000" stroke-width="2.2"/>
<text class="serif" transform="translate(469.8,893.6) scale(1.05,1)" font-size="68.5" text-anchor="middle">d</text>
<circle cx="955.8" cy="872.5" r="35.9" fill="#fff" stroke="#000" stroke-width="2.2"/>
<text class="serif" transform="translate(956.0,890.0) scale(1.07,1)" font-size="68" text-anchor="middle">e</text>
<circle cx="1435.6" cy="875.4" r="35.9" fill="#fff" stroke="#000" stroke-width="2.2"/>
<text class="serif" transform="translate(1437.0,900.3) scale(1.25,1)" font-size="68" text-anchor="middle">f</text>
<text x="273.8" y="48" font-size="71" letter-spacing="-2.3">g=<tspan font-family="NanumGothic, Liberation Sans, sans-serif" font-weight="800">1</tspan></text>
<text x="760.8" y="48" font-size="71" letter-spacing="-2.3">g=2</text>
<text x="1239.3" y="48" font-size="71" letter-spacing="-2.3">g=4</text>
<text transform="translate(49,423) rotate(-90)" font-size="66">W<tspan font-size="45" dy="16">z</tspan><tspan dy="-16">=W</tspan><tspan font-size="45" dy="16">x</tspan><tspan dy="-16">=</tspan><tspan font-family="NanumGothic, Liberation Sans, sans-serif" font-weight="800">1</tspan></text>
<text transform="translate(50,862) rotate(-90)" font-size="66">W<tspan font-size="45" dy="16">z</tspan><tspan dy="-16">=W</tspan><tspan font-size="45" dy="16">x</tspan><tspan dy="-16">=4</tspan></text>
<text transform="translate(104,270) rotate(-90)" font-size="28" text-anchor="middle">Z, px</text>
<text transform="translate(102,712) rotate(-90)" font-size="28" text-anchor="middle">Z, px</text>
<text x="327.0" y="984.0" font-size="28" text-anchor="middle" >X, px</text>
<text x="810.0" y="984.0" font-size="28" text-anchor="middle" >X, px</text>
<text x="1288.0" y="984.0" font-size="28" text-anchor="middle" >X, px</text>
<rect x="145.5" y="708.5" width="17.5" height="198.4" fill="#fff"/>
<rect x="145.5" y="891.3" width="104.5" height="15.6" fill="#fff"/>
<text x="169.5" y="878.1" font-size="43" textLength="161" lengthAdjust="spacingAndGlyphs" style="fill:#fff">0,5 mm</text>
<rect x="1512.5" y="224" width="72" height="568" fill="url(#cbar)" stroke="#000" stroke-width="1.5"/>
<line x1="1577" y1="337.6" x2="1584.5" y2="337.6" stroke="#000" stroke-width="1.5"/>
<line x1="1577" y1="451.2" x2="1584.5" y2="451.2" stroke="#000" stroke-width="1.5"/>
<line x1="1577" y1="564.8" x2="1584.5" y2="564.8" stroke="#000" stroke-width="1.5"/>
<line x1="1577" y1="678.4" x2="1584.5" y2="678.4" stroke="#000" stroke-width="1.5"/>
<text transform="translate(1567,521) rotate(-90)" font-size="54" text-anchor="middle">Strain</text>
<text x="1500.0" y="216.5" font-size="58" text-anchor="start" >0.01</text>
<text x="1542.1" y="840.8" font-size="58" text-anchor="middle" >0</text>
</svg>
</body></html>
